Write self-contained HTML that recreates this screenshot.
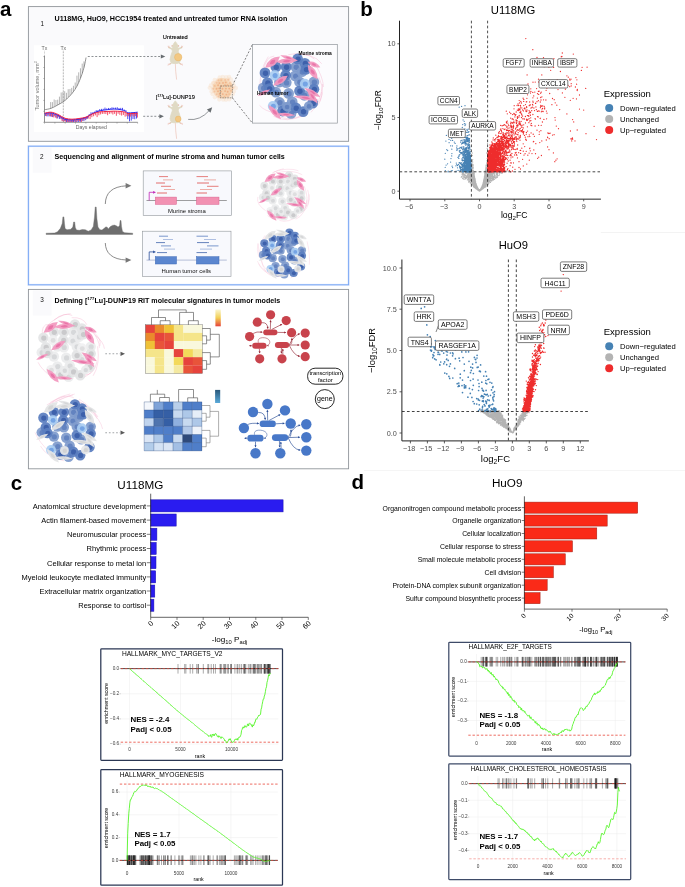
<!DOCTYPE html>
<html lang="en"><head><meta charset="utf-8"><title>Figure</title>
<style>
html,body{margin:0;padding:0;background:#fff}
body{width:685px;height:887px;overflow:hidden}
svg{display:block;font-family:"Liberation Sans",Arial,Helvetica,sans-serif}
</style></head><body>
<svg width="685" height="887" viewBox="0 0 685 887">
<rect width="685" height="887" fill="#fff"/>
<line x1="600.8" y1="232.5" x2="685" y2="232.5" stroke="#f3f3f3" stroke-width="1"/><line x1="364" y1="470.5" x2="685" y2="470.5" stroke="#f5f5f5" stroke-width="1"/><g id="panel-a"><text x="0.1" y="15.6" font-size="20.5" font-weight="bold">a</text><rect x="28.4" y="6.6" width="320.2" height="134.7" fill="#fafafc" stroke="#90959a" stroke-width="0.9"/><text x="40.6" y="25.9" font-size="6.4" fill="#111">1</text><text x="54.5" y="21.4" font-size="7.17" font-weight="bold">U118MG, HuO9, HCC1954 treated and untreated tumor RNA isolation</text><rect x="33.9" y="45.3" width="110" height="86.7" fill="#fff"/><path d="M44.5 55.8V122.3H137.7" stroke="#6e6e6e" stroke-width="0.75" fill="none"/><line x1="43.3" y1="56.6" x2="44.5" y2="56.6" stroke="#6e6e6e" stroke-width="0.5"/><line x1="43.3" y1="67.5" x2="44.5" y2="67.5" stroke="#6e6e6e" stroke-width="0.5"/><line x1="43.3" y1="78.5" x2="44.5" y2="78.5" stroke="#6e6e6e" stroke-width="0.5"/><line x1="43.3" y1="89.4" x2="44.5" y2="89.4" stroke="#6e6e6e" stroke-width="0.5"/><line x1="43.3" y1="100.4" x2="44.5" y2="100.4" stroke="#6e6e6e" stroke-width="0.5"/><line x1="43.3" y1="111.3" x2="44.5" y2="111.3" stroke="#6e6e6e" stroke-width="0.5"/><line x1="43.3" y1="122.3" x2="44.5" y2="122.3" stroke="#6e6e6e" stroke-width="0.5"/><line x1="44.5" y1="122.3" x2="44.5" y2="123.6" stroke="#6e6e6e" stroke-width="0.5"/><line x1="54.9" y1="122.3" x2="54.9" y2="123.6" stroke="#6e6e6e" stroke-width="0.5"/><line x1="65.2" y1="122.3" x2="65.2" y2="123.6" stroke="#6e6e6e" stroke-width="0.5"/><line x1="75.5" y1="122.3" x2="75.5" y2="123.6" stroke="#6e6e6e" stroke-width="0.5"/><line x1="85.9" y1="122.3" x2="85.9" y2="123.6" stroke="#6e6e6e" stroke-width="0.5"/><line x1="96.2" y1="122.3" x2="96.2" y2="123.6" stroke="#6e6e6e" stroke-width="0.5"/><line x1="106.6" y1="122.3" x2="106.6" y2="123.6" stroke="#6e6e6e" stroke-width="0.5"/><line x1="117" y1="122.3" x2="117" y2="123.6" stroke="#6e6e6e" stroke-width="0.5"/><line x1="127.3" y1="122.3" x2="127.3" y2="123.6" stroke="#6e6e6e" stroke-width="0.5"/><line x1="137.6" y1="122.3" x2="137.6" y2="123.6" stroke="#6e6e6e" stroke-width="0.5"/><text x="44.5" y="49.7" font-size="5.2" text-anchor="middle" fill="#666">Tx</text><text x="63.3" y="49.7" font-size="5.2" text-anchor="middle" fill="#666">Tx</text><line x1="44.5" y1="50.8" x2="44.5" y2="55.8" stroke="#777" stroke-width="0.5" stroke-dasharray="0.6 0.8"/><line x1="63.3" y1="50.8" x2="63.3" y2="122.3" stroke="#555" stroke-width="0.6" stroke-dasharray="0.7 0.8"/><text x="91.3" y="128.7" font-size="5.15" text-anchor="middle" fill="#666">Days elapsed</text><text transform="translate(38.6 86) rotate(-90)" font-size="5.5" text-anchor="middle" fill="#777">Tumor volume, mm<tspan font-size="3.4" dy="-1.6">3</tspan></text><path d="M50.67 108.4V102.09M52.42 107.62V102.1M54.18 106.75V99.48M55.93 105.87V100.04M57.68 105V99.69M59.43 103.95V96.65M61.18 102.85V92.48M62.94 101.76V92.08M64.69 100.66V91.2M66.44 99.04V92.81M68.19 97.29V89.19M69.94 95.54V88.98M71.7 93.78V87.85M73.45 91.33V85.79M75.2 88.7V82.52M76.95 86.08V75.65M78.7 82.19V72.34M80.46 77.98V68.27M82.21 73.29V63.61M83.96 67.45V61.39" stroke="#858585" stroke-width="0.6" fill="none"/><path d="M44.54 109.73C45.62 109.49 48.77 109.14 51.02 108.33C53.27 107.51 55.69 106.14 58.03 104.82C60.37 103.51 62.7 102.34 65.04 100.44C67.37 98.54 70 95.92 72.05 93.43C74.09 90.95 75.7 88.62 77.3 85.55C78.91 82.48 80.51 78.25 81.68 75.04C82.85 71.83 83.58 69.2 84.31 66.28C85.04 63.36 85.77 58.98 86.06 57.52" stroke="#666" stroke-width="0.7" fill="none"/><path d="M45.42 113.49V115.89M47.17 113.3V116.37M48.92 113.11V116.4M50.67 112.92V116.47M52.42 113.37V116.97M54.18 113.98V115.92M55.93 114.6V117.62M57.68 115.21V118.37M59.43 116.1V118.92M61.18 117.07V119.19M62.94 118.03V120.78M64.69 118.99V120.93M66.44 119.33V122M68.19 119.5V122M69.94 119.68V122M71.7 119.85V122M73.45 119.75V122M75.2 119.57V122M76.95 119.4V122M78.7 119.22V122M80.46 118.84V121.66M82.21 118.4V121.02M83.96 117.96V120.97M85.71 117.52V120.18M87.46 116.59V118.69M89.22 115.54V114.06M90.97 114.49V112.3M92.72 113.44V112.33M94.47 112.74V111.62M96.22 112.13V110.2M97.97 111.51V110.07M99.73 110.9V109.1M101.48 110.57V108.86M103.23 110.3V108.77M104.98 110.04V107.59M106.73 109.78V108.45M108.49 109.59V107.96M110.24 109.41V108.08M111.99 109.24V107.3M113.74 109.06V107.62M115.49 109.17V107.62M117.25 109.34V107.24M119 109.52V108.02M120.75 109.69V107.86M122.5 110.18V107.86M124.25 110.74V109.54M126.01 111.48V110.34M127.76 112.65V119.13M129.51 112.78V121.33M131.26 112.65V120.63M133.01 112.52V119.04M134.77 112.4V119.28M136.52 112.27V118.56" stroke="#2222ee" stroke-width="0.8" fill="none"/><path d="M46.29 112.95V116.17M48.04 112.66V114.87M49.8 112.38V116.19M51.55 112.35V116.65M53.3 112.92V117.36M55.05 113.49V117.39M56.8 114.06V118.51M58.56 114.75V116.89M60.31 115.71V118.52M62.06 116.67V121.14M63.81 117.64V121.64M65.56 118.38V121.49M67.32 118.6V122M69.07 118.81V122M70.82 119.03V122M72.57 119.13V121.96M74.32 118.96V121.53M76.08 118.78V121.98M77.83 118.61V121.05M79.58 118.38V121.42M81.33 118.03V122M83.08 117.68V120.6M84.84 117.33V119.46M86.59 116.82V119.03M88.34 115.95V118.46M90.09 115.07V119.09M91.84 114.19V117.19M93.59 113.45V116.26M95.35 113.01V115.35M97.1 112.57V117.08M98.85 112.14V115.28M100.6 111.8V114.42M102.35 111.72V113.96M104.11 111.63V113.87M105.86 111.54V114.06M107.61 111.45V115.21M109.36 111.36V113.83M111.11 111.28V113.48M112.87 111.19V114.5M114.62 111.15V113.87M116.37 111.24V115.79M118.12 111.33V113.73M119.87 111.42V114.82M121.63 111.56V115.56M123.38 111.84V114.95M125.13 112.12V116.65M126.88 112.93V116.2M128.63 113.56V116.26M130.39 113.5V116.61M132.14 113.43V115.63M133.89 113.37V116.51M135.64 113.31V116.02M137.39 113.24V117.53" stroke="#f02848" stroke-width="0.8" fill="none"/><path d="M44.54 113.58C45.62 113.46 48.77 112.59 51.02 112.88C53.27 113.17 55.69 114.28 58.03 115.33C60.37 116.38 62.7 118.43 65.04 119.19C67.37 119.95 69.71 119.89 72.05 119.89C74.38 119.89 76.72 119.6 79.05 119.19C81.39 118.78 83.73 118.43 86.06 117.44C88.4 116.44 90.73 114.34 93.07 113.23C95.41 112.12 97.74 111.36 100.08 110.78C102.41 110.19 104.75 110.02 107.08 109.73C109.42 109.43 111.76 109.03 114.09 109.03C116.43 109.03 119.2 109.38 121.1 109.73C123 110.08 124.31 110.6 125.48 111.13C126.65 111.65 126.06 112.7 128.11 112.88C130.15 113.06 136.14 112.3 137.74 112.18" stroke="#2222ee" stroke-width="0.95" fill="none"/><path d="M44.54 113.23C45.62 113.06 48.77 111.98 51.02 112.18C53.27 112.38 55.69 113.43 58.03 114.46C60.37 115.48 62.7 117.52 65.04 118.31C67.37 119.1 69.71 119.16 72.05 119.19C74.38 119.22 76.72 118.84 79.05 118.49C81.39 118.14 83.73 117.9 86.06 117.08C88.4 116.27 90.73 114.46 93.07 113.58C95.41 112.7 97.74 112.18 100.08 111.83C102.41 111.48 104.75 111.6 107.08 111.48C109.42 111.36 111.76 111.13 114.09 111.13C116.43 111.13 119.2 111.3 121.1 111.48C123 111.65 124.31 111.83 125.48 112.18C126.65 112.53 126.06 113.41 128.11 113.58C130.15 113.76 136.14 113.29 137.74 113.23" stroke="#f02040" stroke-width="0.95" fill="none"/><line x1="87.8" y1="56.5" x2="161.5" y2="56.5" stroke="#676c70" stroke-width="0.75" stroke-dasharray="2 1.7"/><path d="M165.3 56.5L160.8 58.6L160.8 54.4Z" fill="#676c70"/><line x1="143.2" y1="116.3" x2="160" y2="116.3" stroke="#676c70" stroke-width="0.75" stroke-dasharray="2 1.7"/><path d="M163.9 116.3L159.4 118.4L159.4 114.2Z" fill="#676c70"/><text x="175.3" y="39.4" font-size="5.7" text-anchor="middle" stroke="#000" stroke-width="0.12">Untreated</text><path d="M175.3 63.1Q175.5 71.6 176.6 79.6" stroke="#e9b3a4" stroke-width="0.55" fill="none"/><path d="M172.7 49.2L169 47.5" stroke="#e0dac4" stroke-width="1.7" fill="none" stroke-linecap="round"/><path d="M169 47.5L167.9 46.2M169 47.5L168.9 46" stroke="#e9b3a4" stroke-width="0.5" fill="none" stroke-linecap="round"/><path d="M172.1 62.2L170.3 63.8" stroke="#e0dac4" stroke-width="1.3" fill="none" stroke-linecap="round"/><path d="M170.7 63.6L168 65.2M169.8 64L168.1 64.2" stroke="#e9b3a4" stroke-width="0.5" fill="none" stroke-linecap="round"/><circle cx="172.3" cy="45.9" r="0.9" fill="#eab8ac"/><path d="M177.9 49.2L181.6 47.5" stroke="#e0dac4" stroke-width="1.7" fill="none" stroke-linecap="round"/><path d="M181.6 47.5L182.7 46.2M181.6 47.5L181.7 46" stroke="#e9b3a4" stroke-width="0.5" fill="none" stroke-linecap="round"/><path d="M178.5 62.2L180.3 63.8" stroke="#e0dac4" stroke-width="1.3" fill="none" stroke-linecap="round"/><path d="M179.9 63.6L182.6 65.2M180.8 64L182.5 64.2" stroke="#e9b3a4" stroke-width="0.5" fill="none" stroke-linecap="round"/><circle cx="178.3" cy="45.9" r="0.9" fill="#eab8ac"/><path d="M175.3 41.6L176.6 43.2L178 45.8L177.8 47.2L178.6 48.4L178.3 51.6L179.7 55.6L180.6 59.6L179.6 62.4L177.6 63.5L173 63.5L171 62.4L170 59.6L170.9 55.6L172.3 51.6L172 48.4L172.8 47.2L172.6 45.8L174 43.2Z" fill="#e0dac4" stroke="#e0dac4" stroke-width="0.8" stroke-linejoin="round"/><circle cx="178.2" cy="57.2" r="3.7" fill="#f3c882" stroke="#e3b060" stroke-width="0.4"/><text x="175.3" y="98.7" font-size="5.6" text-anchor="middle" fill="#000" stroke="#000" stroke-width="0.12">[<tspan font-size="3.4" dy="-1.8">177</tspan><tspan dy="1.8">Lu]-DUNP19</tspan></text><path d="M175.3 122.3Q175.5 130.8 176.6 138.8" stroke="#e9b3a4" stroke-width="0.55" fill="none"/><path d="M172.7 108.4L169 106.7" stroke="#e0dac4" stroke-width="1.7" fill="none" stroke-linecap="round"/><path d="M169 106.7L167.9 105.4M169 106.7L168.9 105.2" stroke="#e9b3a4" stroke-width="0.5" fill="none" stroke-linecap="round"/><path d="M172.1 121.4L170.3 123" stroke="#e0dac4" stroke-width="1.3" fill="none" stroke-linecap="round"/><path d="M170.7 122.8L168 124.4M169.8 123.2L168.1 123.4" stroke="#e9b3a4" stroke-width="0.5" fill="none" stroke-linecap="round"/><circle cx="172.3" cy="105.1" r="0.9" fill="#eab8ac"/><path d="M177.9 108.4L181.6 106.7" stroke="#e0dac4" stroke-width="1.7" fill="none" stroke-linecap="round"/><path d="M181.6 106.7L182.7 105.4M181.6 106.7L181.7 105.2" stroke="#e9b3a4" stroke-width="0.5" fill="none" stroke-linecap="round"/><path d="M178.5 121.4L180.3 123" stroke="#e0dac4" stroke-width="1.3" fill="none" stroke-linecap="round"/><path d="M179.9 122.8L182.6 124.4M180.8 123.2L182.5 123.4" stroke="#e9b3a4" stroke-width="0.5" fill="none" stroke-linecap="round"/><circle cx="178.3" cy="105.1" r="0.9" fill="#eab8ac"/><path d="M175.3 100.8L176.6 102.4L178 105L177.8 106.4L178.6 107.6L178.3 110.8L179.7 114.8L180.6 118.8L179.6 121.6L177.6 122.7L173 122.7L171 121.6L170 118.8L170.9 114.8L172.3 110.8L172 107.6L172.8 106.4L172.6 105L174 102.4Z" fill="#e0dac4" stroke="#e0dac4" stroke-width="0.8" stroke-linejoin="round"/><circle cx="178.2" cy="119" r="2.9" fill="#f3c882" stroke="#e3b060" stroke-width="0.4"/><path d="M188.2 119.4Q200 121 209.5 110.3" stroke="#676c70" stroke-width="0.7" fill="none"/><path d="M212.2 107.2L210.5 112.7L206.9 109.5Z" fill="#676c70"/><g><circle cx="222.8" cy="88.3" r="10.2" fill="#f7d6b6" opacity="0.85"/><circle cx="209.7" cy="87.8" r="2.15" fill="#f8dcc1" opacity="0.4"/><circle cx="235.9" cy="88.1" r="2.15" fill="#f8dcc1" opacity="0.4"/><circle cx="229.1" cy="77" r="2.15" fill="#f8dcc1" opacity="0.4"/><circle cx="229.2" cy="99.4" r="2.15" fill="#f8dcc1" opacity="0.4"/><circle cx="210.8" cy="85.5" r="2.15" fill="#f8dcc1" opacity="0.4"/><circle cx="230.9" cy="97.3" r="2.15" fill="#f8dcc1" opacity="0.4"/><circle cx="214.9" cy="97.3" r="2.15" fill="#f8dcc1" opacity="0.4"/><circle cx="230.9" cy="79.5" r="2.15" fill="#f8dcc1" opacity="0.4"/><circle cx="226" cy="99.8" r="2.15" fill="#f8dcc1" opacity="0.4"/><circle cx="219.3" cy="99.6" r="2.15" fill="#f8dcc1" opacity="0.4"/><circle cx="211.5" cy="91.6" r="2.15" fill="#f8dcc1" opacity="0.4"/><circle cx="212.6" cy="94.2" r="2.15" fill="#f8dcc1" opacity="0.4"/><circle cx="233.1" cy="82.7" r="2.15" fill="#f8dcc1" opacity="0.4"/><circle cx="226.2" cy="77.1" r="2.15" fill="#f8dcc1" opacity="0.4"/><circle cx="214.7" cy="79.9" r="2.15" fill="#f8dcc1" opacity="0.4"/><circle cx="233.9" cy="91.5" r="2.15" fill="#f8dcc1" opacity="0.4"/><circle cx="232.7" cy="94.2" r="2.15" fill="#f8dcc1" opacity="0.4"/><circle cx="234" cy="85.8" r="2.15" fill="#f8dcc1" opacity="0.4"/><circle cx="222.8" cy="76.9" r="2.15" fill="#f8dcc1" opacity="0.4"/><circle cx="223.2" cy="99.7" r="2.15" fill="#f8dcc1" opacity="0.4"/><circle cx="219.7" cy="77.4" r="2.15" fill="#f8dcc1" opacity="0.4"/><circle cx="213.3" cy="83.1" r="2.15" fill="#f8dcc1" opacity="0.7"/><circle cx="228.1" cy="79.7" r="2.15" fill="#f8dcc1" opacity="0.7"/><circle cx="232.5" cy="87.8" r="2.15" fill="#f8dcc1" opacity="0.7"/><circle cx="213.1" cy="88.7" r="2.15" fill="#f8dcc1" opacity="0.7"/><circle cx="227.8" cy="96.5" r="2.15" fill="#f8dcc1" opacity="0.7"/><circle cx="218.2" cy="80.2" r="2.15" fill="#f8dcc1" opacity="0.7"/><circle cx="218.3" cy="96.4" r="2.15" fill="#f8dcc1" opacity="0.7"/><circle cx="214.4" cy="91.4" r="2.15" fill="#f8dcc1" opacity="0.7"/><circle cx="229.7" cy="82.9" r="2.15" fill="#f8dcc1" opacity="0.7"/><circle cx="224.9" cy="79.8" r="2.15" fill="#f8dcc1" opacity="0.7"/><circle cx="216.5" cy="94.2" r="2.15" fill="#f8dcc1" opacity="0.7"/><circle cx="221" cy="96.7" r="2.15" fill="#f8dcc1" opacity="0.7"/><circle cx="216.4" cy="82.6" r="2.15" fill="#f8dcc1" opacity="0.7"/><circle cx="214.7" cy="85.8" r="2.15" fill="#f6d3b0" opacity="0.95"/><circle cx="229" cy="94" r="2.15" fill="#f6d3b0" opacity="0.95"/><circle cx="224.3" cy="96.5" r="2.15" fill="#f6d3b0" opacity="0.95"/><circle cx="230.6" cy="85.4" r="2.15" fill="#f6d3b0" opacity="0.95"/><circle cx="221.1" cy="80.2" r="2.15" fill="#f6d3b0" opacity="0.95"/><circle cx="230.7" cy="90.7" r="2.15" fill="#f6d3b0" opacity="0.95"/><circle cx="226.2" cy="94.5" r="2.15" fill="#f6d3b0" opacity="0.95"/><circle cx="225.6" cy="82.3" r="2.15" fill="#f6d3b0" opacity="0.95"/><circle cx="219.5" cy="93.8" r="2.15" fill="#f6d3b0" opacity="0.95"/><circle cx="229.2" cy="88.5" r="2.15" fill="#f6d3b0" opacity="0.95"/><circle cx="219.3" cy="83" r="2.15" fill="#f6d3b0" opacity="0.95"/><circle cx="216.5" cy="88.6" r="2.15" fill="#f6d3b0" opacity="0.95"/><circle cx="227.6" cy="91.7" r="2.15" fill="#f6d3b0" opacity="0.95"/><circle cx="217.9" cy="85.2" r="2.15" fill="#f6d3b0" opacity="0.95"/><circle cx="217.9" cy="91.2" r="2.15" fill="#f6d3b0" opacity="0.95"/><circle cx="222.7" cy="94" r="2.15" fill="#f6d3b0" opacity="0.95"/><circle cx="227.3" cy="85" r="2.15" fill="#f6d3b0" opacity="0.95"/><circle cx="222.8" cy="82.8" r="2.15" fill="#f6d3b0" opacity="0.95"/><circle cx="224.9" cy="85.1" r="2.15" fill="#f6d3b0" opacity="0.95"/><circle cx="220.7" cy="91.5" r="2.15" fill="#f6d3b0" opacity="0.95"/><circle cx="219" cy="88.3" r="2.15" fill="#f6d3b0" opacity="0.95"/><circle cx="224.9" cy="91" r="2.15" fill="#f6d3b0" opacity="0.95"/><circle cx="225.8" cy="88.5" r="2.15" fill="#f6d3b0" opacity="0.95"/><circle cx="221.1" cy="85.9" r="2.15" fill="#f6d3b0" opacity="0.95"/><circle cx="222.4" cy="88.6" r="2.15" fill="#f6d3b0" opacity="0.95"/><circle cx="218.4" cy="80.3" r="0.95" fill="#f0ac80" opacity="0.5"/><circle cx="221.2" cy="80.3" r="0.95" fill="#f0ac80" opacity="0.5"/><circle cx="225.1" cy="79.9" r="0.95" fill="#f0ac80" opacity="0.5"/><circle cx="228.3" cy="79.8" r="0.95" fill="#f0ac80" opacity="0.5"/><circle cx="216.6" cy="82.7" r="0.95" fill="#f0ac80" opacity="0.5"/><circle cx="219.4" cy="83.1" r="0.95" fill="#f0ac80" opacity="0.85"/><circle cx="223" cy="82.9" r="0.95" fill="#f0ac80" opacity="0.85"/><circle cx="225.8" cy="82.4" r="0.95" fill="#f0ac80" opacity="0.85"/><circle cx="229.9" cy="83" r="0.95" fill="#f0ac80" opacity="0.5"/><circle cx="214.8" cy="85.9" r="0.95" fill="#f0ac80" opacity="0.5"/><circle cx="218.1" cy="85.3" r="0.95" fill="#f0ac80" opacity="0.85"/><circle cx="221.2" cy="86" r="0.95" fill="#f0ac80" opacity="0.85"/><circle cx="225" cy="85.2" r="0.95" fill="#f0ac80" opacity="0.85"/><circle cx="227.5" cy="85.1" r="0.95" fill="#f0ac80" opacity="0.85"/><circle cx="230.7" cy="85.5" r="0.95" fill="#f0ac80" opacity="0.5"/><circle cx="213.3" cy="88.8" r="0.95" fill="#f0ac80" opacity="0.5"/><circle cx="216.6" cy="88.7" r="0.95" fill="#f0ac80" opacity="0.85"/><circle cx="219.2" cy="88.4" r="0.95" fill="#f0ac80" opacity="0.85"/><circle cx="222.5" cy="88.7" r="0.95" fill="#f0ac80" opacity="0.85"/><circle cx="225.9" cy="88.6" r="0.95" fill="#f0ac80" opacity="0.85"/><circle cx="229.3" cy="88.6" r="0.95" fill="#f0ac80" opacity="0.85"/><circle cx="232.7" cy="87.9" r="0.95" fill="#f0ac80" opacity="0.5"/><circle cx="214.5" cy="91.5" r="0.95" fill="#f0ac80" opacity="0.5"/><circle cx="218" cy="91.3" r="0.95" fill="#f0ac80" opacity="0.85"/><circle cx="220.9" cy="91.6" r="0.95" fill="#f0ac80" opacity="0.85"/><circle cx="225.1" cy="91.1" r="0.95" fill="#f0ac80" opacity="0.85"/><circle cx="227.7" cy="91.8" r="0.95" fill="#f0ac80" opacity="0.85"/><circle cx="230.8" cy="90.8" r="0.95" fill="#f0ac80" opacity="0.5"/><circle cx="216.7" cy="94.3" r="0.95" fill="#f0ac80" opacity="0.5"/><circle cx="219.6" cy="93.9" r="0.95" fill="#f0ac80" opacity="0.85"/><circle cx="222.8" cy="94.1" r="0.95" fill="#f0ac80" opacity="0.85"/><circle cx="226.4" cy="94.6" r="0.95" fill="#f0ac80" opacity="0.85"/><circle cx="229.1" cy="94.1" r="0.95" fill="#f0ac80" opacity="0.5"/><circle cx="218.5" cy="96.5" r="0.95" fill="#f0ac80" opacity="0.5"/><circle cx="221.1" cy="96.8" r="0.95" fill="#f0ac80" opacity="0.5"/><circle cx="224.5" cy="96.6" r="0.95" fill="#f0ac80" opacity="0.5"/><circle cx="228" cy="96.6" r="0.95" fill="#f0ac80" opacity="0.5"/></g><rect x="220.3" y="86" width="12.1" height="11.8" fill="none" stroke="#5a5f63" stroke-width="0.6" stroke-dasharray="1.5 1"/><line x1="232.4" y1="85.6" x2="252.4" y2="44.5" stroke="#555" stroke-width="0.75" stroke-dasharray="2 1.6"/><line x1="232.4" y1="97.9" x2="252.4" y2="123.1" stroke="#555" stroke-width="0.75" stroke-dasharray="2 1.6"/><rect x="252.4" y="44.5" width="84.9" height="78.6" fill="#fcfcfe" stroke="#90959a" stroke-width="0.7"/><g><path d="M318.9 77.1Q327.8 96.6 315.2 105.2" stroke="#f3a6c6" stroke-width="0.5" fill="none" opacity="0.7"/><path d="M288.3 54.7Q305.5 51 314.3 59" stroke="#f3a6c6" stroke-width="0.5" fill="none" opacity="0.7"/><path d="M263.9 69.8Q265.6 57.1 274.2 56" stroke="#f3a6c6" stroke-width="0.5" fill="none" opacity="0.7"/><path d="M322.7 84Q320.4 103.1 311 112.3" stroke="#f3a6c6" stroke-width="0.5" fill="none" opacity="0.7"/><path d="M321.5 92Q321.9 102.1 316.5 106.1" stroke="#f3a6c6" stroke-width="0.5" fill="none" opacity="0.7"/><path d="M315.7 65Q322.9 77.3 323.5 86.9" stroke="#f3a6c6" stroke-width="0.5" fill="none" opacity="0.7"/><path d="M276.7 113.1Q264.5 111.4 259.5 105.3" stroke="#f3a6c6" stroke-width="0.5" fill="none" opacity="0.7"/><path d="M304.7 115.1Q285.7 123.7 273.4 116.2" stroke="#f3a6c6" stroke-width="0.5" fill="none" opacity="0.7"/><path d="M293.5 54.5Q313.7 52.7 321.7 63.7" stroke="#f3a6c6" stroke-width="0.5" fill="none" opacity="0.7"/><path d="M308.3 112.7Q292.4 121.4 280.7 117.4" stroke="#f3a6c6" stroke-width="0.5" fill="none" opacity="0.7"/><path d="M259.6 87Q260.4 67.8 268.3 56.6" stroke="#f3a6c6" stroke-width="0.5" fill="none" opacity="0.7"/><circle cx="295.8" cy="66.9" r="5.38" fill="#7f9bcc" opacity="0.93"/><circle cx="296.3" cy="67.2" r="2.69" fill="#5f80be" opacity="0.9"/><circle cx="295.2" cy="75.9" r="5.38" fill="#7f9bcc" opacity="0.93"/><circle cx="295.7" cy="76.2" r="2.69" fill="#5f80be" opacity="0.9"/><circle cx="301.9" cy="71.7" r="5.38" fill="#7f9bcc" opacity="0.93"/><circle cx="302.3" cy="72" r="2.69" fill="#5f80be" opacity="0.9"/><circle cx="279.5" cy="82" r="5.38" fill="#7f9bcc" opacity="0.93"/><circle cx="280" cy="82.3" r="2.69" fill="#5f80be" opacity="0.9"/><circle cx="286.2" cy="82.6" r="5.38" fill="#7f9bcc" opacity="0.93"/><circle cx="286.6" cy="82.9" r="2.69" fill="#5f80be" opacity="0.9"/><circle cx="263.2" cy="88" r="5.38" fill="#7f9bcc" opacity="0.93"/><circle cx="263.7" cy="88.3" r="2.69" fill="#5f80be" opacity="0.9"/><circle cx="275.9" cy="92.2" r="5.38" fill="#7f9bcc" opacity="0.93"/><circle cx="276.3" cy="92.5" r="2.69" fill="#5f80be" opacity="0.9"/><circle cx="288.6" cy="93.5" r="5.38" fill="#7f9bcc" opacity="0.93"/><circle cx="289" cy="93.7" r="2.69" fill="#5f80be" opacity="0.9"/><circle cx="313.9" cy="82" r="5.38" fill="#7f9bcc" opacity="0.93"/><circle cx="314.4" cy="82.3" r="2.69" fill="#5f80be" opacity="0.9"/><circle cx="299.5" cy="82" r="5.38" fill="#7f9bcc" opacity="0.93"/><circle cx="299.9" cy="82.3" r="2.69" fill="#5f80be" opacity="0.9"/><circle cx="304.3" cy="95.3" r="5.38" fill="#7f9bcc" opacity="0.93"/><circle cx="304.7" cy="95.5" r="2.69" fill="#5f80be" opacity="0.9"/><circle cx="279.5" cy="102.5" r="5.38" fill="#7f9bcc" opacity="0.93"/><circle cx="280" cy="102.8" r="2.69" fill="#5f80be" opacity="0.9"/><circle cx="292.2" cy="101.9" r="5.38" fill="#7f9bcc" opacity="0.93"/><circle cx="292.6" cy="102.2" r="2.69" fill="#5f80be" opacity="0.9"/><circle cx="291" cy="113.4" r="5.38" fill="#7f9bcc" opacity="0.93"/><circle cx="291.4" cy="113.6" r="2.69" fill="#5f80be" opacity="0.9"/><circle cx="286.2" cy="107.3" r="5.38" fill="#7f9bcc" opacity="0.93"/><circle cx="286.6" cy="107.6" r="2.69" fill="#5f80be" opacity="0.9"/><circle cx="297.6" cy="59" r="5.38" fill="#5a7ec0" opacity="0.93"/><circle cx="298.1" cy="59.3" r="2.69" fill="#3a5da8" opacity="0.9"/><circle cx="304.9" cy="63.3" r="5.38" fill="#5a7ec0" opacity="0.93"/><circle cx="305.3" cy="63.5" r="2.69" fill="#3a5da8" opacity="0.9"/><circle cx="286.2" cy="66.9" r="5.38" fill="#5a7ec0" opacity="0.93"/><circle cx="286.6" cy="67.2" r="2.69" fill="#3a5da8" opacity="0.9"/><circle cx="275.9" cy="66.9" r="5.38" fill="#5a7ec0" opacity="0.93"/><circle cx="276.3" cy="67.2" r="2.69" fill="#3a5da8" opacity="0.9"/><circle cx="265" cy="72.9" r="5.38" fill="#5a7ec0" opacity="0.93"/><circle cx="265.5" cy="73.2" r="2.69" fill="#3a5da8" opacity="0.9"/><circle cx="285.6" cy="75.3" r="5.38" fill="#5a7ec0" opacity="0.93"/><circle cx="286" cy="75.6" r="2.69" fill="#3a5da8" opacity="0.9"/><circle cx="267.5" cy="82.6" r="5.38" fill="#5a7ec0" opacity="0.93"/><circle cx="267.9" cy="82.9" r="2.69" fill="#3a5da8" opacity="0.9"/><circle cx="269.3" cy="88.6" r="5.38" fill="#5a7ec0" opacity="0.93"/><circle cx="269.7" cy="88.9" r="2.69" fill="#3a5da8" opacity="0.9"/><circle cx="306.1" cy="69.3" r="5.38" fill="#5a7ec0" opacity="0.93"/><circle cx="306.5" cy="69.6" r="2.69" fill="#3a5da8" opacity="0.9"/><circle cx="299.5" cy="91" r="5.38" fill="#5a7ec0" opacity="0.93"/><circle cx="299.9" cy="91.3" r="2.69" fill="#3a5da8" opacity="0.9"/><circle cx="313.9" cy="89.2" r="5.38" fill="#5a7ec0" opacity="0.93"/><circle cx="314.4" cy="89.5" r="2.69" fill="#3a5da8" opacity="0.9"/><circle cx="282.5" cy="111" r="5.38" fill="#5a7ec0" opacity="0.93"/><circle cx="283" cy="111.2" r="2.69" fill="#3a5da8" opacity="0.9"/><circle cx="295.8" cy="107.9" r="5.38" fill="#5a7ec0" opacity="0.93"/><circle cx="296.3" cy="108.2" r="2.69" fill="#3a5da8" opacity="0.9"/><circle cx="303.1" cy="111.6" r="5.38" fill="#5a7ec0" opacity="0.93"/><circle cx="303.5" cy="111.8" r="2.69" fill="#3a5da8" opacity="0.9"/><circle cx="312.7" cy="103.1" r="5.38" fill="#5a7ec0" opacity="0.93"/><circle cx="313.2" cy="103.4" r="2.69" fill="#3a5da8" opacity="0.9"/><circle cx="274.7" cy="75.3" r="5.11" fill="#a9ccf2" opacity="0.93"/><circle cx="275.1" cy="75.6" r="2.56" fill="#6f9ee2" opacity="0.9"/><circle cx="304.9" cy="83.8" r="5.11" fill="#a9ccf2" opacity="0.93"/><circle cx="305.3" cy="84" r="2.56" fill="#6f9ee2" opacity="0.9"/><circle cx="272.9" cy="106.1" r="5.11" fill="#a9ccf2" opacity="0.93"/><circle cx="273.3" cy="106.4" r="2.56" fill="#6f9ee2" opacity="0.9"/><circle cx="286.8" cy="106.7" r="4.57" fill="#7f9bcc" opacity="0.93"/><circle cx="287.1" cy="107" r="2.29" fill="#5f80be" opacity="0.9"/><circle cx="308.5" cy="106.1" r="4.57" fill="#7f9bcc" opacity="0.93"/><circle cx="308.9" cy="106.4" r="2.29" fill="#5f80be" opacity="0.9"/><path d="M265.23 67.66Q276.85 67.66 279.94 56.46Q268.32 56.46 265.23 67.66Z" fill="#f29ac0" opacity="0.95"/><path d="M269.8 64.18Q274.72 64.86 275.38 59.93Q270.45 59.26 269.8 64.18Z" fill="#e5679f" opacity="0.75"/><path d="M275.57 61.81Q287.17 66.24 297.98 60.13Q286.38 55.71 275.57 61.81Z" fill="#f29ac0" opacity="0.95"/><path d="M282.52 61.29Q286.97 63.61 291.02 60.65Q286.58 58.34 282.52 61.29Z" fill="#e5679f" opacity="0.75"/><path d="M280.18 55.29Q287.52 61.31 296.99 60.62Q289.65 54.6 280.18 55.29Z" fill="#f29ac0" opacity="0.95"/><path d="M285.4 56.94Q288.05 59.63 291.77 58.96Q289.12 56.28 285.4 56.94Z" fill="#e5679f" opacity="0.75"/><path d="M307.64 61.67Q312.03 68.76 320.24 67.28Q315.85 60.18 307.64 61.67Z" fill="#f29ac0" opacity="0.95"/><path d="M311.55 63.41Q312.99 66.62 316.33 65.54Q314.89 62.33 311.55 63.41Z" fill="#e5679f" opacity="0.75"/><path d="M307.83 64.67Q307.36 75.6 317.64 79.37Q318.1 68.44 307.83 64.67Z" fill="#f29ac0" opacity="0.95"/><path d="M310.87 69.23Q310.05 73.81 314.59 74.81Q315.42 70.23 310.87 69.23Z" fill="#e5679f" opacity="0.75"/><path d="M273.08 85.68Q283.69 85.66 287.79 75.87Q277.18 75.89 273.08 85.68Z" fill="#f29ac0" opacity="0.95"/><path d="M277.65 82.63Q282.06 83.22 283.22 78.91Q278.81 78.33 277.65 82.63Z" fill="#e5679f" opacity="0.75"/><path d="M257.53 95.7Q265.41 95.7 270.14 89.39Q262.26 89.4 257.53 95.7Z" fill="#f29ac0" opacity="0.95"/><path d="M261.44 93.74Q264.62 94.12 266.22 91.35Q263.05 90.97 261.44 93.74Z" fill="#e5679f" opacity="0.75"/><path d="M304.38 87.99Q310.12 96.63 320.48 97.1Q314.74 88.46 304.38 87.99Z" fill="#f29ac0" opacity="0.95"/><path d="M309.38 90.82Q311.28 94.59 315.49 94.27Q313.59 90.5 309.38 90.82Z" fill="#e5679f" opacity="0.75"/><path d="M293.54 96.23Q305.21 102.05 318.05 99.73Q306.37 93.91 293.54 96.23Z" fill="#f29ac0" opacity="0.95"/><path d="M301.14 97.32Q305.5 100.01 310.44 98.64Q306.08 95.95 301.14 97.32Z" fill="#e5679f" opacity="0.75"/><path d="M307.18 89.47Q308.68 99.29 317.68 103.47Q316.19 93.65 307.18 89.47Z" fill="#f29ac0" opacity="0.95"/><path d="M310.44 93.81Q310.55 97.88 314.42 99.13Q314.31 95.06 310.44 93.81Z" fill="#e5679f" opacity="0.75"/><path d="M268.4 105.16Q270.34 116.09 281 119.17Q279.06 108.24 268.4 105.16Z" fill="#f29ac0" opacity="0.95"/><path d="M272.31 109.51Q272.52 114.13 277.09 114.82Q276.88 110.2 272.31 109.51Z" fill="#e5679f" opacity="0.75"/><path d="M277.07 113.88Q285.9 118.09 295.27 115.28Q286.44 111.07 277.07 113.88Z" fill="#f29ac0" opacity="0.95"/><path d="M282.72 114.32Q286.04 116.34 289.62 114.85Q286.31 112.83 282.72 114.32Z" fill="#e5679f" opacity="0.75"/></g><text x="298.4" y="55.2" font-size="4.85" font-weight="bold">Murine stroma</text><text x="257" y="95.4" font-size="4.83" font-weight="bold">Human tumor</text><rect x="28.4" y="146.2" width="320.2" height="138.6" fill="#fff" stroke="#d3e2fb" stroke-width="1.9"/><rect x="28.4" y="146.2" width="320.2" height="138.6" fill="none" stroke="#78a6f5" stroke-width="0.9"/><rect x="32.7" y="147.5" width="18.8" height="25.2" fill="#fafafc"/><text x="40.1" y="159.1" font-size="6.4" fill="#111">2</text><text x="54.5" y="159.4" font-size="7.12" font-weight="bold">Sequencing and alignment of murine stroma and human tumor cells</text><path d="M46.1 233.2L54.6 233L57.5 231.8L60.4 228.3L62.2 223.5L62.9 216.9L63.9 216.9L64.5 223.5L65.1 228.6L67 229.7L70.7 229.3L72.8 227.1L73.6 222L74.7 222L75.3 227.4L76.5 230L79.4 230.3L82.3 229.5L85.3 229.7L88.2 231.2L91.1 230L93.3 226.4L94.5 216.9L95.2 207L96.2 207L96.9 218.4L98 227.1L99.9 229.7L102 230L104.2 228.3L106 226.8L107.4 227.4L108.3 228.9L110.1 226.8L112.3 225.4L114.5 225.1L116.6 225.9L118.1 227.1L119.6 225.4L120.1 220.5L121 220.5L121.5 226.4L122.5 231.5L124.7 232.7L132.7 233.2L132.7 234.4L46.1 234.4Z" fill="#6e6e6e" stroke="#6e6e6e" stroke-width="0.4" stroke-linejoin="round"/><path d="M105.3 204C105.5 193 112 186.5 126.5 185.8" stroke="#777" stroke-width="0.85" fill="none"/><path d="M131.4 185.7L125.6 188.4L125.6 183Z" fill="#777"/><path d="M105.3 243C105.5 253 112 259.5 126.5 260" stroke="#777" stroke-width="0.85" fill="none"/><path d="M131.4 260.1L125.6 262.8L125.6 257.4Z" fill="#777"/><rect x="143.2" y="170.9" width="88.3" height="44.5" fill="#f8f9fd" stroke="#90959a" stroke-width="0.6"/><line x1="146.5" y1="200.5" x2="226.8" y2="200.5" stroke="#777" stroke-width="0.7"/><rect x="155.3" y="197.1" width="21.2" height="7.3" fill="#f291b2" stroke="#d9638f" stroke-width="0.5"/><rect x="196.4" y="197.1" width="22.6" height="7.3" fill="#f291b2" stroke="#d9638f" stroke-width="0.5"/><path d="M149.2 200.5V192.3H153.6" stroke="#c026b8" stroke-width="0.8" fill="none"/><path d="M156 192.3L153.1 193.7L153.1 190.9Z" fill="#c026b8"/><line x1="159" y1="176.6" x2="168" y2="176.6" stroke="#e0605c" stroke-width="0.8"/><line x1="196.5" y1="176.6" x2="208" y2="176.6" stroke="#e0605c" stroke-width="0.8"/><line x1="163" y1="179.9" x2="173" y2="179.9" stroke="#eb9a92" stroke-width="0.8"/><line x1="204" y1="179.9" x2="216" y2="179.9" stroke="#eb9a92" stroke-width="0.8"/><line x1="156" y1="183" x2="165" y2="183" stroke="#dc4a48" stroke-width="0.8"/><line x1="197" y1="183" x2="209" y2="183" stroke="#dc4a48" stroke-width="0.8"/><line x1="161" y1="186.3" x2="171" y2="186.3" stroke="#e0605c" stroke-width="0.8"/><line x1="207" y1="186.3" x2="218.5" y2="186.3" stroke="#e0605c" stroke-width="0.8"/><line x1="164" y1="189.5" x2="175" y2="189.5" stroke="#eb9a92" stroke-width="0.8"/><line x1="200" y1="189.5" x2="212" y2="189.5" stroke="#eb9a92" stroke-width="0.8"/><line x1="157" y1="193" x2="167" y2="193" stroke="#dc4a48" stroke-width="0.8"/><line x1="196.5" y1="193" x2="207" y2="193" stroke="#dc4a48" stroke-width="0.8"/><text x="186.9" y="213.3" font-size="5.95" text-anchor="middle" fill="#111">Murine stroma</text><rect x="142.5" y="231.2" width="88.5" height="45.2" fill="#f8f9fd" stroke="#90959a" stroke-width="0.6"/><line x1="146.5" y1="260.1" x2="226.8" y2="260.1" stroke="#9aa8c8" stroke-width="0.7"/><rect x="155.3" y="256.7" width="21.2" height="7.3" fill="#5b86cf" stroke="#3d68b5" stroke-width="0.5"/><rect x="196.4" y="256.7" width="22.6" height="7.3" fill="#5b86cf" stroke="#3d68b5" stroke-width="0.5"/><path d="M149.2 260.1V251.9H153.6" stroke="#2a4f9a" stroke-width="0.8" fill="none"/><path d="M156 251.9L153.1 253.3L153.1 250.5Z" fill="#2a4f9a"/><line x1="159" y1="236.2" x2="168" y2="236.2" stroke="#5b7fc0" stroke-width="0.8"/><line x1="196.5" y1="236.2" x2="208" y2="236.2" stroke="#5b7fc0" stroke-width="0.8"/><line x1="163" y1="239.5" x2="173" y2="239.5" stroke="#9ab0da" stroke-width="0.8"/><line x1="204" y1="239.5" x2="216" y2="239.5" stroke="#9ab0da" stroke-width="0.8"/><line x1="156" y1="242.6" x2="165" y2="242.6" stroke="#3d62a8" stroke-width="0.8"/><line x1="197" y1="242.6" x2="209" y2="242.6" stroke="#3d62a8" stroke-width="0.8"/><line x1="161" y1="245.9" x2="171" y2="245.9" stroke="#5b7fc0" stroke-width="0.8"/><line x1="207" y1="245.9" x2="218.5" y2="245.9" stroke="#5b7fc0" stroke-width="0.8"/><line x1="164" y1="249.1" x2="175" y2="249.1" stroke="#9ab0da" stroke-width="0.8"/><line x1="200" y1="249.1" x2="212" y2="249.1" stroke="#9ab0da" stroke-width="0.8"/><line x1="157" y1="252.6" x2="167" y2="252.6" stroke="#3d62a8" stroke-width="0.8"/><line x1="196.5" y1="252.6" x2="207" y2="252.6" stroke="#3d62a8" stroke-width="0.8"/><text x="186.3" y="272.9" font-size="5.95" text-anchor="middle" fill="#111">Human tumor cells</text><g><path d="M285.8 218.1Q273.8 221.1 267.6 215.6" stroke="#f3a6c6" stroke-width="0.4" fill="none" opacity="0.7"/><path d="M307 205.1Q304 211.4 299.9 213.8" stroke="#f3a6c6" stroke-width="0.4" fill="none" opacity="0.7"/><path d="M309.1 194.3Q309.9 205.9 304 211.2" stroke="#f3a6c6" stroke-width="0.4" fill="none" opacity="0.7"/><path d="M298.8 215.5Q288.1 223.3 279.5 220.5" stroke="#f3a6c6" stroke-width="0.4" fill="none" opacity="0.7"/><path d="M272.2 173.1Q278.7 169.3 283.8 168.7" stroke="#f3a6c6" stroke-width="0.4" fill="none" opacity="0.7"/><path d="M307.2 199.6Q305.5 215 295.7 219.2" stroke="#f3a6c6" stroke-width="0.4" fill="none" opacity="0.7"/><path d="M278.8 172.3Q293.2 169.6 302.2 174.7" stroke="#f3a6c6" stroke-width="0.4" fill="none" opacity="0.7"/><path d="M304.3 186.3Q309.5 199 304.8 207.1" stroke="#f3a6c6" stroke-width="0.4" fill="none" opacity="0.7"/><path d="M307.7 189.8Q310.8 200.4 306.1 206.3" stroke="#f3a6c6" stroke-width="0.4" fill="none" opacity="0.7"/><path d="M265.8 210.8Q256.1 204.6 257.8 196.9" stroke="#f3a6c6" stroke-width="0.4" fill="none" opacity="0.7"/><path d="M273.5 172Q288.2 167.1 298.4 170.7" stroke="#f3a6c6" stroke-width="0.4" fill="none" opacity="0.7"/><circle cx="287.6" cy="181.3" r="4.06" fill="#ebeced" opacity="0.93"/><circle cx="288" cy="181.5" r="2.03" fill="#d4d5d7" opacity="0.9"/><circle cx="287.2" cy="188.2" r="4.06" fill="#ebeced" opacity="0.93"/><circle cx="287.5" cy="188.4" r="2.03" fill="#d4d5d7" opacity="0.9"/><circle cx="292.2" cy="185" r="4.06" fill="#ebeced" opacity="0.93"/><circle cx="292.5" cy="185.2" r="2.03" fill="#d4d5d7" opacity="0.9"/><circle cx="275.3" cy="192.7" r="4.06" fill="#ebeced" opacity="0.93"/><circle cx="275.7" cy="192.9" r="2.03" fill="#d4d5d7" opacity="0.9"/><circle cx="280.4" cy="193.2" r="4.06" fill="#ebeced" opacity="0.93"/><circle cx="280.7" cy="193.4" r="2.03" fill="#d4d5d7" opacity="0.9"/><circle cx="263" cy="197.3" r="4.06" fill="#ebeced" opacity="0.93"/><circle cx="263.4" cy="197.5" r="2.03" fill="#d4d5d7" opacity="0.9"/><circle cx="272.6" cy="200.5" r="4.06" fill="#ebeced" opacity="0.93"/><circle cx="272.9" cy="200.7" r="2.03" fill="#d4d5d7" opacity="0.9"/><circle cx="282.2" cy="201.4" r="4.06" fill="#ebeced" opacity="0.93"/><circle cx="282.5" cy="201.6" r="2.03" fill="#d4d5d7" opacity="0.9"/><circle cx="301.3" cy="192.7" r="4.06" fill="#ebeced" opacity="0.93"/><circle cx="301.6" cy="192.9" r="2.03" fill="#d4d5d7" opacity="0.9"/><circle cx="290.4" cy="192.7" r="4.06" fill="#ebeced" opacity="0.93"/><circle cx="290.7" cy="192.9" r="2.03" fill="#d4d5d7" opacity="0.9"/><circle cx="294" cy="202.7" r="4.06" fill="#ebeced" opacity="0.93"/><circle cx="294.3" cy="202.9" r="2.03" fill="#d4d5d7" opacity="0.9"/><circle cx="275.3" cy="208.2" r="4.06" fill="#ebeced" opacity="0.93"/><circle cx="275.7" cy="208.4" r="2.03" fill="#d4d5d7" opacity="0.9"/><circle cx="284.9" cy="207.8" r="4.06" fill="#ebeced" opacity="0.93"/><circle cx="285.2" cy="208" r="2.03" fill="#d4d5d7" opacity="0.9"/><circle cx="284" cy="216.4" r="4.06" fill="#ebeced" opacity="0.93"/><circle cx="284.3" cy="216.6" r="2.03" fill="#d4d5d7" opacity="0.9"/><circle cx="280.4" cy="211.9" r="4.06" fill="#ebeced" opacity="0.93"/><circle cx="280.7" cy="212.1" r="2.03" fill="#d4d5d7" opacity="0.9"/><circle cx="289" cy="175.4" r="4.06" fill="#e3e4e5" opacity="0.93"/><circle cx="289.3" cy="175.6" r="2.03" fill="#c6c7c9" opacity="0.9"/><circle cx="294.5" cy="178.6" r="4.06" fill="#e3e4e5" opacity="0.93"/><circle cx="294.8" cy="178.8" r="2.03" fill="#c6c7c9" opacity="0.9"/><circle cx="280.4" cy="181.3" r="4.06" fill="#e3e4e5" opacity="0.93"/><circle cx="280.7" cy="181.5" r="2.03" fill="#c6c7c9" opacity="0.9"/><circle cx="272.6" cy="181.3" r="4.06" fill="#e3e4e5" opacity="0.93"/><circle cx="272.9" cy="181.5" r="2.03" fill="#c6c7c9" opacity="0.9"/><circle cx="264.4" cy="185.9" r="4.06" fill="#e3e4e5" opacity="0.93"/><circle cx="264.7" cy="186.1" r="2.03" fill="#c6c7c9" opacity="0.9"/><circle cx="279.9" cy="187.7" r="4.06" fill="#e3e4e5" opacity="0.93"/><circle cx="280.2" cy="187.9" r="2.03" fill="#c6c7c9" opacity="0.9"/><circle cx="266.2" cy="193.2" r="4.06" fill="#e3e4e5" opacity="0.93"/><circle cx="266.6" cy="193.4" r="2.03" fill="#c6c7c9" opacity="0.9"/><circle cx="267.6" cy="197.7" r="4.06" fill="#e3e4e5" opacity="0.93"/><circle cx="267.9" cy="197.9" r="2.03" fill="#c6c7c9" opacity="0.9"/><circle cx="295.4" cy="183.2" r="4.06" fill="#e3e4e5" opacity="0.93"/><circle cx="295.7" cy="183.4" r="2.03" fill="#c6c7c9" opacity="0.9"/><circle cx="290.4" cy="199.6" r="4.06" fill="#e3e4e5" opacity="0.93"/><circle cx="290.7" cy="199.8" r="2.03" fill="#c6c7c9" opacity="0.9"/><circle cx="301.3" cy="198.2" r="4.06" fill="#e3e4e5" opacity="0.93"/><circle cx="301.6" cy="198.4" r="2.03" fill="#c6c7c9" opacity="0.9"/><circle cx="277.6" cy="214.6" r="4.06" fill="#e3e4e5" opacity="0.93"/><circle cx="277.9" cy="214.8" r="2.03" fill="#c6c7c9" opacity="0.9"/><circle cx="287.6" cy="212.3" r="4.06" fill="#e3e4e5" opacity="0.93"/><circle cx="288" cy="212.5" r="2.03" fill="#c6c7c9" opacity="0.9"/><circle cx="293.1" cy="215" r="4.06" fill="#e3e4e5" opacity="0.93"/><circle cx="293.4" cy="215.2" r="2.03" fill="#c6c7c9" opacity="0.9"/><circle cx="300.4" cy="208.7" r="4.06" fill="#e3e4e5" opacity="0.93"/><circle cx="300.7" cy="208.9" r="2.03" fill="#c6c7c9" opacity="0.9"/><circle cx="271.7" cy="187.7" r="3.86" fill="#f0f0f1" opacity="0.93"/><circle cx="272" cy="187.9" r="1.93" fill="#dbdcdd" opacity="0.9"/><circle cx="294.5" cy="194.1" r="3.86" fill="#f0f0f1" opacity="0.93"/><circle cx="294.8" cy="194.3" r="1.93" fill="#dbdcdd" opacity="0.9"/><circle cx="270.3" cy="210.9" r="3.86" fill="#f0f0f1" opacity="0.93"/><circle cx="270.6" cy="211.1" r="1.93" fill="#dbdcdd" opacity="0.9"/><circle cx="280.8" cy="211.4" r="3.45" fill="#ebeced" opacity="0.93"/><circle cx="281.1" cy="211.6" r="1.73" fill="#d4d5d7" opacity="0.9"/><circle cx="297.2" cy="210.9" r="3.45" fill="#ebeced" opacity="0.93"/><circle cx="297.5" cy="211.1" r="1.73" fill="#d4d5d7" opacity="0.9"/><path d="M264.56 181.92Q273.33 181.92 275.65 173.46Q266.89 173.46 264.56 181.92Z" fill="#f29ac0" opacity="0.95"/><path d="M268 179.29Q271.72 179.8 272.21 176.09Q268.5 175.58 268 179.29Z" fill="#e5679f" opacity="0.75"/><path d="M272.36 177.5Q281.11 180.84 289.27 176.23Q280.51 172.89 272.36 177.5Z" fill="#f29ac0" opacity="0.95"/><path d="M277.6 177.11Q280.96 178.86 284.02 176.63Q280.66 174.88 277.6 177.11Z" fill="#e5679f" opacity="0.75"/><path d="M275.84 172.58Q281.38 177.12 288.52 176.6Q282.98 172.06 275.84 172.58Z" fill="#f29ac0" opacity="0.95"/><path d="M279.77 173.83Q281.78 175.86 284.58 175.35Q282.58 173.32 279.77 173.83Z" fill="#e5679f" opacity="0.75"/><path d="M296.56 177.4Q299.87 182.75 306.07 181.62Q302.75 176.27 296.56 177.4Z" fill="#f29ac0" opacity="0.95"/><path d="M299.51 178.71Q300.59 181.13 303.12 180.31Q302.03 177.89 299.51 178.71Z" fill="#e5679f" opacity="0.75"/><path d="M296.7 179.66Q296.35 187.91 304.1 190.75Q304.45 182.5 296.7 179.66Z" fill="#f29ac0" opacity="0.95"/><path d="M299 183.1Q298.37 186.56 301.8 187.31Q302.43 183.85 299 183.1Z" fill="#e5679f" opacity="0.75"/><path d="M270.48 195.51Q278.48 195.5 281.58 188.11Q273.57 188.13 270.48 195.51Z" fill="#f29ac0" opacity="0.95"/><path d="M273.92 193.21Q277.26 193.65 278.13 190.41Q274.8 189.97 273.92 193.21Z" fill="#e5679f" opacity="0.75"/><path d="M258.74 203.07Q264.69 203.07 268.26 198.32Q262.31 198.32 258.74 203.07Z" fill="#f29ac0" opacity="0.95"/><path d="M261.7 201.6Q264.09 201.88 265.3 199.79Q262.91 199.51 261.7 201.6Z" fill="#e5679f" opacity="0.75"/><path d="M294.1 197.26Q298.43 203.78 306.25 204.13Q301.92 197.61 294.1 197.26Z" fill="#f29ac0" opacity="0.95"/><path d="M297.87 199.39Q299.3 202.24 302.48 202Q301.04 199.15 297.87 199.39Z" fill="#e5679f" opacity="0.75"/><path d="M285.91 203.47Q294.72 207.86 304.41 206.12Q295.6 201.73 285.91 203.47Z" fill="#f29ac0" opacity="0.95"/><path d="M291.65 204.29Q294.94 206.33 298.67 205.3Q295.38 203.26 291.65 204.29Z" fill="#e5679f" opacity="0.75"/><path d="M296.21 198.37Q297.34 205.78 304.14 208.94Q303.01 201.53 296.21 198.37Z" fill="#f29ac0" opacity="0.95"/><path d="M298.67 201.65Q298.76 204.72 301.68 205.66Q301.59 202.59 298.67 201.65Z" fill="#e5679f" opacity="0.75"/><path d="M266.94 210.22Q268.41 218.46 276.46 220.78Q274.99 212.54 266.94 210.22Z" fill="#f29ac0" opacity="0.95"/><path d="M269.9 213.5Q270.05 216.98 273.5 217.5Q273.35 214.02 269.9 213.5Z" fill="#e5679f" opacity="0.75"/><path d="M273.49 216.79Q280.15 219.97 287.23 217.85Q280.56 214.67 273.49 216.79Z" fill="#f29ac0" opacity="0.95"/><path d="M277.75 217.12Q280.25 218.65 282.96 217.52Q280.46 216 277.75 217.12Z" fill="#e5679f" opacity="0.75"/></g><g><path d="M286.4 276.2Q278.9 277.4 274.3 275" stroke="#f3b3cd" stroke-width="0.4" fill="none" opacity="0.7"/><path d="M263.6 267.3Q258.1 253.8 258.3 243.5" stroke="#f3b3cd" stroke-width="0.4" fill="none" opacity="0.7"/><path d="M262.2 247.4Q262.6 238 268 234.6" stroke="#f3b3cd" stroke-width="0.4" fill="none" opacity="0.7"/><path d="M307.1 241.4Q310.3 254.9 309.3 264.7" stroke="#f3b3cd" stroke-width="0.4" fill="none" opacity="0.7"/><path d="M275.1 276Q261.8 272.2 258.5 263.5" stroke="#f3b3cd" stroke-width="0.4" fill="none" opacity="0.7"/><path d="M305.6 265.5Q298 274.7 290.6 278.1" stroke="#f3b3cd" stroke-width="0.4" fill="none" opacity="0.7"/><path d="M258.7 256.9Q256.5 248.9 257.8 243.4" stroke="#f3b3cd" stroke-width="0.4" fill="none" opacity="0.7"/><path d="M276.7 275.8Q261.3 271.4 257.4 261.1" stroke="#f3b3cd" stroke-width="0.4" fill="none" opacity="0.7"/><path d="M259.8 251.3Q261.1 241.1 265 235.3" stroke="#f3b3cd" stroke-width="0.4" fill="none" opacity="0.7"/><path d="M276.8 273.5Q262.3 270.6 261.6 260.3" stroke="#f3b3cd" stroke-width="0.4" fill="none" opacity="0.7"/><path d="M279.7 276.2Q266.2 277.1 263.8 267.7" stroke="#f3b3cd" stroke-width="0.4" fill="none" opacity="0.7"/><circle cx="288" cy="238.7" r="4.12" fill="#7f9bcc" opacity="0.93"/><circle cx="288.3" cy="238.9" r="2.06" fill="#5f80be" opacity="0.9"/><circle cx="287.5" cy="245.7" r="4.12" fill="#7f9bcc" opacity="0.93"/><circle cx="287.9" cy="245.9" r="2.06" fill="#5f80be" opacity="0.9"/><circle cx="292.6" cy="242.4" r="4.12" fill="#7f9bcc" opacity="0.93"/><circle cx="293" cy="242.6" r="2.06" fill="#5f80be" opacity="0.9"/><circle cx="275.5" cy="250.3" r="4.12" fill="#7f9bcc" opacity="0.93"/><circle cx="275.8" cy="250.5" r="2.06" fill="#5f80be" opacity="0.9"/><circle cx="280.6" cy="250.7" r="4.12" fill="#7f9bcc" opacity="0.93"/><circle cx="280.9" cy="251" r="2.06" fill="#5f80be" opacity="0.9"/><circle cx="263" cy="254.9" r="4.12" fill="#7f9bcc" opacity="0.93"/><circle cx="263.3" cy="255.1" r="2.06" fill="#5f80be" opacity="0.9"/><circle cx="272.7" cy="258.2" r="4.12" fill="#7f9bcc" opacity="0.93"/><circle cx="273.1" cy="258.4" r="2.06" fill="#5f80be" opacity="0.9"/><circle cx="282.4" cy="259.1" r="4.12" fill="#7f9bcc" opacity="0.93"/><circle cx="282.8" cy="259.3" r="2.06" fill="#5f80be" opacity="0.9"/><circle cx="301.9" cy="250.3" r="4.12" fill="#7f9bcc" opacity="0.93"/><circle cx="302.2" cy="250.5" r="2.06" fill="#5f80be" opacity="0.9"/><circle cx="290.8" cy="250.3" r="4.12" fill="#7f9bcc" opacity="0.93"/><circle cx="291.1" cy="250.5" r="2.06" fill="#5f80be" opacity="0.9"/><circle cx="294.5" cy="260.5" r="4.12" fill="#7f9bcc" opacity="0.93"/><circle cx="294.8" cy="260.7" r="2.06" fill="#5f80be" opacity="0.9"/><circle cx="275.5" cy="266" r="4.12" fill="#7f9bcc" opacity="0.93"/><circle cx="275.8" cy="266.2" r="2.06" fill="#5f80be" opacity="0.9"/><circle cx="285.2" cy="265.6" r="4.12" fill="#7f9bcc" opacity="0.93"/><circle cx="285.6" cy="265.8" r="2.06" fill="#5f80be" opacity="0.9"/><circle cx="284.3" cy="274.4" r="4.12" fill="#7f9bcc" opacity="0.93"/><circle cx="284.6" cy="274.6" r="2.06" fill="#5f80be" opacity="0.9"/><circle cx="280.6" cy="269.7" r="4.12" fill="#7f9bcc" opacity="0.93"/><circle cx="280.9" cy="269.9" r="2.06" fill="#5f80be" opacity="0.9"/><circle cx="289.4" cy="232.7" r="4.12" fill="#5a7ec0" opacity="0.93"/><circle cx="289.7" cy="232.9" r="2.06" fill="#3a5da8" opacity="0.9"/><circle cx="294.9" cy="235.9" r="4.12" fill="#5a7ec0" opacity="0.93"/><circle cx="295.3" cy="236.1" r="2.06" fill="#3a5da8" opacity="0.9"/><circle cx="280.6" cy="238.7" r="4.12" fill="#5a7ec0" opacity="0.93"/><circle cx="280.9" cy="238.9" r="2.06" fill="#3a5da8" opacity="0.9"/><circle cx="272.7" cy="238.7" r="4.12" fill="#5a7ec0" opacity="0.93"/><circle cx="273.1" cy="238.9" r="2.06" fill="#3a5da8" opacity="0.9"/><circle cx="264.4" cy="243.3" r="4.12" fill="#5a7ec0" opacity="0.93"/><circle cx="264.7" cy="243.5" r="2.06" fill="#3a5da8" opacity="0.9"/><circle cx="280.1" cy="245.2" r="4.12" fill="#5a7ec0" opacity="0.93"/><circle cx="280.5" cy="245.4" r="2.06" fill="#3a5da8" opacity="0.9"/><circle cx="266.2" cy="250.7" r="4.12" fill="#5a7ec0" opacity="0.93"/><circle cx="266.6" cy="251" r="2.06" fill="#3a5da8" opacity="0.9"/><circle cx="267.6" cy="255.4" r="4.12" fill="#5a7ec0" opacity="0.93"/><circle cx="268" cy="255.6" r="2.06" fill="#3a5da8" opacity="0.9"/><circle cx="295.9" cy="240.6" r="4.12" fill="#5a7ec0" opacity="0.93"/><circle cx="296.2" cy="240.8" r="2.06" fill="#3a5da8" opacity="0.9"/><circle cx="290.8" cy="257.2" r="4.12" fill="#5a7ec0" opacity="0.93"/><circle cx="291.1" cy="257.4" r="2.06" fill="#3a5da8" opacity="0.9"/><circle cx="301.9" cy="255.8" r="4.12" fill="#5a7ec0" opacity="0.93"/><circle cx="302.2" cy="256" r="2.06" fill="#3a5da8" opacity="0.9"/><circle cx="277.8" cy="272.5" r="4.12" fill="#5a7ec0" opacity="0.93"/><circle cx="278.1" cy="272.7" r="2.06" fill="#3a5da8" opacity="0.9"/><circle cx="288" cy="270.2" r="4.12" fill="#5a7ec0" opacity="0.93"/><circle cx="288.3" cy="270.4" r="2.06" fill="#3a5da8" opacity="0.9"/><circle cx="293.6" cy="273" r="4.12" fill="#5a7ec0" opacity="0.93"/><circle cx="293.9" cy="273.2" r="2.06" fill="#3a5da8" opacity="0.9"/><circle cx="301" cy="266.5" r="4.12" fill="#5a7ec0" opacity="0.93"/><circle cx="301.3" cy="266.7" r="2.06" fill="#3a5da8" opacity="0.9"/><circle cx="271.8" cy="245.2" r="3.92" fill="#a9ccf2" opacity="0.93"/><circle cx="272.1" cy="245.4" r="1.96" fill="#6f9ee2" opacity="0.9"/><circle cx="294.9" cy="251.7" r="3.92" fill="#a9ccf2" opacity="0.93"/><circle cx="295.3" cy="251.9" r="1.96" fill="#6f9ee2" opacity="0.9"/><circle cx="270.4" cy="268.8" r="3.92" fill="#a9ccf2" opacity="0.93"/><circle cx="270.7" cy="269" r="1.96" fill="#6f9ee2" opacity="0.9"/><circle cx="281.1" cy="269.3" r="3.51" fill="#e6e7e8" opacity="0.93"/><circle cx="281.3" cy="269.4" r="1.75" fill="#cfd0d2" opacity="0.9"/><circle cx="297.7" cy="268.8" r="3.51" fill="#e6e7e8" opacity="0.93"/><circle cx="298" cy="269" r="1.75" fill="#cfd0d2" opacity="0.9"/><path d="M264.54 239.3Q273.45 239.3 275.82 230.71Q266.91 230.71 264.54 239.3Z" fill="#e4e5e6" opacity="0.95"/><path d="M268.04 236.64Q271.82 237.16 272.32 233.38Q268.54 232.86 268.04 236.64Z" fill="#cfd0d2" opacity="0.75"/><path d="M272.47 234.82Q281.36 238.21 289.65 233.53Q280.76 230.14 272.47 234.82Z" fill="#e4e5e6" opacity="0.95"/><path d="M277.8 234.42Q281.21 236.19 284.32 233.93Q280.91 232.15 277.8 234.42Z" fill="#cfd0d2" opacity="0.75"/><path d="M276 229.82Q281.63 234.43 288.89 233.9Q283.26 229.29 276 229.82Z" fill="#e4e5e6" opacity="0.95"/><path d="M280 231.09Q282.04 233.15 284.89 232.63Q282.86 230.57 280 231.09Z" fill="#cfd0d2" opacity="0.75"/><path d="M297.06 234.71Q300.43 240.15 306.73 239.01Q303.35 233.57 297.06 234.71Z" fill="#e4e5e6" opacity="0.95"/><path d="M300.06 236.04Q301.16 238.5 303.73 237.67Q302.62 235.21 300.06 236.04Z" fill="#cfd0d2" opacity="0.75"/><path d="M297.21 237.01Q296.85 245.39 304.73 248.29Q305.09 239.9 297.21 237.01Z" fill="#e4e5e6" opacity="0.95"/><path d="M299.54 240.51Q298.91 244.02 302.39 244.79Q303.03 241.27 299.54 240.51Z" fill="#cfd0d2" opacity="0.75"/><path d="M270.56 253.12Q278.69 253.1 281.84 245.6Q273.7 245.62 270.56 253.12Z" fill="#e4e5e6" opacity="0.95"/><path d="M274.06 250.79Q277.45 251.23 278.34 247.93Q274.95 247.49 274.06 250.79Z" fill="#cfd0d2" opacity="0.75"/><path d="M258.63 260.8Q264.67 260.8 268.3 255.97Q262.26 255.97 258.63 260.8Z" fill="#e4e5e6" opacity="0.95"/><path d="M261.63 259.3Q264.07 259.59 265.3 257.47Q262.86 257.18 261.63 259.3Z" fill="#cfd0d2" opacity="0.75"/><path d="M294.56 254.9Q298.96 261.52 306.91 261.88Q302.51 255.25 294.56 254.9Z" fill="#e4e5e6" opacity="0.95"/><path d="M298.39 257.06Q299.85 259.95 303.08 259.71Q301.62 256.82 298.39 257.06Z" fill="#cfd0d2" opacity="0.75"/><path d="M286.24 261.21Q295.2 265.67 305.04 263.9Q296.09 259.44 286.24 261.21Z" fill="#e4e5e6" opacity="0.95"/><path d="M292.08 262.04Q295.42 264.11 299.21 263.06Q295.87 260.99 292.08 262.04Z" fill="#cfd0d2" opacity="0.75"/><path d="M296.71 256.03Q297.86 263.56 304.76 266.77Q303.62 259.24 296.71 256.03Z" fill="#e4e5e6" opacity="0.95"/><path d="M299.21 259.36Q299.3 262.48 302.26 263.43Q302.18 260.32 299.21 259.36Z" fill="#cfd0d2" opacity="0.75"/><path d="M266.97 268.06Q268.46 276.44 276.63 278.8Q275.14 270.42 266.97 268.06Z" fill="#e4e5e6" opacity="0.95"/><path d="M269.97 271.4Q270.13 274.94 273.63 275.47Q273.47 271.93 269.97 271.4Z" fill="#cfd0d2" opacity="0.75"/><path d="M273.61 274.75Q280.39 277.98 287.58 275.82Q280.8 272.59 273.61 274.75Z" fill="#e4e5e6" opacity="0.95"/><path d="M277.95 275.08Q280.49 276.63 283.24 275.49Q280.7 273.94 277.95 275.08Z" fill="#cfd0d2" opacity="0.75"/></g><rect x="28.4" y="289.4" width="320.2" height="179.4" fill="#fff" stroke="#90959a" stroke-width="0.9"/><rect x="32.7" y="290.5" width="18.8" height="25" fill="#fafafc"/><text x="40.3" y="301.9" font-size="6.4" fill="#111">3</text><text x="54.5" y="302.6" font-size="7.12" font-weight="bold">Defining [<tspan font-size="4.3" dy="-2.4">177</tspan><tspan dy="2.4">Lu]-DUNP19 RIT molecular signatures in tumor models</tspan></text><g><path d="M45.6 327.2Q58.2 314.3 70.6 313.7" stroke="#f3a6c6" stroke-width="0.5" fill="none" opacity="0.7"/><path d="M95.2 335.3Q103.7 342 104.4 348.7" stroke="#f3a6c6" stroke-width="0.5" fill="none" opacity="0.7"/><path d="M93.1 331.9Q102 338.6 99.8 346" stroke="#f3a6c6" stroke-width="0.5" fill="none" opacity="0.7"/><path d="M42.7 336.6Q40.5 324 49.3 324.3" stroke="#f3a6c6" stroke-width="0.5" fill="none" opacity="0.7"/><path d="M71.7 317.7Q83.1 316.9 86.8 324.7" stroke="#f3a6c6" stroke-width="0.5" fill="none" opacity="0.7"/><path d="M91.2 372.6Q84.4 378.4 78.4 379.1" stroke="#f3a6c6" stroke-width="0.5" fill="none" opacity="0.7"/><path d="M97.6 346.3Q100.3 364.7 93.1 375.8" stroke="#f3a6c6" stroke-width="0.5" fill="none" opacity="0.7"/><path d="M54.1 320.1Q64.1 311.6 72.2 315.4" stroke="#f3a6c6" stroke-width="0.5" fill="none" opacity="0.7"/><path d="M91.8 331.1Q99.6 339.9 99.4 347.8" stroke="#f3a6c6" stroke-width="0.5" fill="none" opacity="0.7"/><path d="M96.9 361.8Q94.3 374.9 84 375.1" stroke="#f3a6c6" stroke-width="0.5" fill="none" opacity="0.7"/><path d="M51.7 376.8Q41.6 369.8 38.1 362.3" stroke="#f3a6c6" stroke-width="0.5" fill="none" opacity="0.7"/><circle cx="73.2" cy="332" r="5.2" fill="#ebeced" opacity="0.93"/><circle cx="73.6" cy="332.3" r="2.6" fill="#d4d5d7" opacity="0.9"/><circle cx="72.6" cy="340.8" r="5.2" fill="#ebeced" opacity="0.93"/><circle cx="73" cy="341" r="2.6" fill="#d4d5d7" opacity="0.9"/><circle cx="79" cy="336.7" r="5.2" fill="#ebeced" opacity="0.93"/><circle cx="79.4" cy="336.9" r="2.6" fill="#d4d5d7" opacity="0.9"/><circle cx="57.4" cy="346.6" r="5.2" fill="#ebeced" opacity="0.93"/><circle cx="57.8" cy="346.8" r="2.6" fill="#d4d5d7" opacity="0.9"/><circle cx="63.8" cy="347.2" r="5.2" fill="#ebeced" opacity="0.93"/><circle cx="64.2" cy="347.4" r="2.6" fill="#d4d5d7" opacity="0.9"/><circle cx="41.7" cy="352.4" r="5.2" fill="#ebeced" opacity="0.93"/><circle cx="42.1" cy="352.7" r="2.6" fill="#d4d5d7" opacity="0.9"/><circle cx="53.9" cy="356.5" r="5.2" fill="#ebeced" opacity="0.93"/><circle cx="54.3" cy="356.8" r="2.6" fill="#d4d5d7" opacity="0.9"/><circle cx="66.2" cy="357.7" r="5.2" fill="#ebeced" opacity="0.93"/><circle cx="66.6" cy="357.9" r="2.6" fill="#d4d5d7" opacity="0.9"/><circle cx="90.7" cy="346.6" r="5.2" fill="#ebeced" opacity="0.93"/><circle cx="91.1" cy="346.8" r="2.6" fill="#d4d5d7" opacity="0.9"/><circle cx="76.7" cy="346.6" r="5.2" fill="#ebeced" opacity="0.93"/><circle cx="77.1" cy="346.8" r="2.6" fill="#d4d5d7" opacity="0.9"/><circle cx="81.3" cy="359.4" r="5.2" fill="#ebeced" opacity="0.93"/><circle cx="81.7" cy="359.7" r="2.6" fill="#d4d5d7" opacity="0.9"/><circle cx="57.4" cy="366.4" r="5.2" fill="#ebeced" opacity="0.93"/><circle cx="57.8" cy="366.7" r="2.6" fill="#d4d5d7" opacity="0.9"/><circle cx="69.7" cy="365.8" r="5.2" fill="#ebeced" opacity="0.93"/><circle cx="70.1" cy="366.1" r="2.6" fill="#d4d5d7" opacity="0.9"/><circle cx="68.5" cy="376.9" r="5.2" fill="#ebeced" opacity="0.93"/><circle cx="68.9" cy="377.2" r="2.6" fill="#d4d5d7" opacity="0.9"/><circle cx="63.8" cy="371.1" r="5.2" fill="#ebeced" opacity="0.93"/><circle cx="64.2" cy="371.3" r="2.6" fill="#d4d5d7" opacity="0.9"/><circle cx="74.9" cy="324.4" r="5.2" fill="#e3e4e5" opacity="0.93"/><circle cx="75.3" cy="324.7" r="2.6" fill="#c6c7c9" opacity="0.9"/><circle cx="81.9" cy="328.5" r="5.2" fill="#e3e4e5" opacity="0.93"/><circle cx="82.3" cy="328.8" r="2.6" fill="#c6c7c9" opacity="0.9"/><circle cx="63.8" cy="332" r="5.2" fill="#e3e4e5" opacity="0.93"/><circle cx="64.2" cy="332.3" r="2.6" fill="#c6c7c9" opacity="0.9"/><circle cx="53.9" cy="332" r="5.2" fill="#e3e4e5" opacity="0.93"/><circle cx="54.3" cy="332.3" r="2.6" fill="#c6c7c9" opacity="0.9"/><circle cx="43.4" cy="337.8" r="5.2" fill="#e3e4e5" opacity="0.93"/><circle cx="43.8" cy="338.1" r="2.6" fill="#c6c7c9" opacity="0.9"/><circle cx="63.2" cy="340.2" r="5.2" fill="#e3e4e5" opacity="0.93"/><circle cx="63.7" cy="340.4" r="2.6" fill="#c6c7c9" opacity="0.9"/><circle cx="45.8" cy="347.2" r="5.2" fill="#e3e4e5" opacity="0.93"/><circle cx="46.2" cy="347.4" r="2.6" fill="#c6c7c9" opacity="0.9"/><circle cx="47.5" cy="353" r="5.2" fill="#e3e4e5" opacity="0.93"/><circle cx="47.9" cy="353.3" r="2.6" fill="#c6c7c9" opacity="0.9"/><circle cx="83.1" cy="334.3" r="5.2" fill="#e3e4e5" opacity="0.93"/><circle cx="83.5" cy="334.6" r="2.6" fill="#c6c7c9" opacity="0.9"/><circle cx="76.7" cy="355.3" r="5.2" fill="#e3e4e5" opacity="0.93"/><circle cx="77.1" cy="355.6" r="2.6" fill="#c6c7c9" opacity="0.9"/><circle cx="90.7" cy="353.6" r="5.2" fill="#e3e4e5" opacity="0.93"/><circle cx="91.1" cy="353.8" r="2.6" fill="#c6c7c9" opacity="0.9"/><circle cx="60.3" cy="374.6" r="5.2" fill="#e3e4e5" opacity="0.93"/><circle cx="60.7" cy="374.8" r="2.6" fill="#c6c7c9" opacity="0.9"/><circle cx="73.2" cy="371.7" r="5.2" fill="#e3e4e5" opacity="0.93"/><circle cx="73.6" cy="371.9" r="2.6" fill="#c6c7c9" opacity="0.9"/><circle cx="80.2" cy="375.2" r="5.2" fill="#e3e4e5" opacity="0.93"/><circle cx="80.6" cy="375.4" r="2.6" fill="#c6c7c9" opacity="0.9"/><circle cx="89.5" cy="367" r="5.2" fill="#e3e4e5" opacity="0.93"/><circle cx="89.9" cy="367.3" r="2.6" fill="#c6c7c9" opacity="0.9"/><circle cx="52.8" cy="340.2" r="4.94" fill="#f0f0f1" opacity="0.93"/><circle cx="53.1" cy="340.4" r="2.47" fill="#dbdcdd" opacity="0.9"/><circle cx="81.9" cy="348.3" r="4.94" fill="#f0f0f1" opacity="0.93"/><circle cx="82.3" cy="348.6" r="2.47" fill="#dbdcdd" opacity="0.9"/><circle cx="51" cy="369.9" r="4.94" fill="#f0f0f1" opacity="0.93"/><circle cx="51.4" cy="370.2" r="2.47" fill="#dbdcdd" opacity="0.9"/><circle cx="64.4" cy="370.5" r="4.42" fill="#ebeced" opacity="0.93"/><circle cx="64.8" cy="370.7" r="2.21" fill="#d4d5d7" opacity="0.9"/><circle cx="85.4" cy="369.9" r="4.42" fill="#ebeced" opacity="0.93"/><circle cx="85.8" cy="370.1" r="2.21" fill="#d4d5d7" opacity="0.9"/><path d="M43.6 332.75Q54.83 332.75 57.81 321.92Q46.58 321.92 43.6 332.75Z" fill="#f29ac0" opacity="0.95"/><path d="M48.01 329.39Q52.77 330.04 53.4 325.28Q48.65 324.63 48.01 329.39Z" fill="#e5679f" opacity="0.75"/><path d="M53.59 327.1Q64.8 331.37 75.24 325.47Q64.04 321.19 53.59 327.1Z" fill="#f29ac0" opacity="0.95"/><path d="M60.31 326.59Q64.61 328.83 68.52 325.98Q64.23 323.74 60.31 326.59Z" fill="#e5679f" opacity="0.75"/><path d="M58.05 320.8Q65.14 326.61 74.29 325.94Q67.19 320.12 58.05 320.8Z" fill="#f29ac0" opacity="0.95"/><path d="M63.09 322.39Q65.65 324.99 69.25 324.34Q66.68 321.75 63.09 322.39Z" fill="#e5679f" opacity="0.75"/><path d="M84.58 326.96Q88.82 333.81 96.76 332.37Q92.51 325.52 84.58 326.96Z" fill="#f29ac0" opacity="0.95"/><path d="M88.36 328.64Q89.75 331.74 92.98 330.69Q91.59 327.59 88.36 328.64Z" fill="#e5679f" opacity="0.75"/><path d="M84.76 329.85Q84.31 340.42 94.24 344.06Q94.69 333.5 84.76 329.85Z" fill="#f29ac0" opacity="0.95"/><path d="M87.7 334.26Q86.91 338.69 91.3 339.65Q92.09 335.23 87.7 334.26Z" fill="#e5679f" opacity="0.75"/><path d="M51.19 350.15Q61.44 350.13 65.4 340.68Q55.15 340.7 51.19 350.15Z" fill="#f29ac0" opacity="0.95"/><path d="M55.6 347.21Q59.86 347.78 60.99 343.62Q56.72 343.06 55.6 347.21Z" fill="#e5679f" opacity="0.75"/><path d="M36.16 359.84Q43.77 359.83 48.34 353.75Q40.73 353.75 36.16 359.84Z" fill="#f29ac0" opacity="0.95"/><path d="M39.94 357.95Q43.01 358.31 44.56 355.64Q41.49 355.27 39.94 357.95Z" fill="#e5679f" opacity="0.75"/><path d="M81.43 352.39Q86.98 360.74 96.99 361.19Q91.44 352.84 81.43 352.39Z" fill="#f29ac0" opacity="0.95"/><path d="M86.26 355.12Q88.09 358.77 92.16 358.46Q90.32 354.82 86.26 355.12Z" fill="#e5679f" opacity="0.75"/><path d="M70.95 360.35Q82.23 365.97 94.63 363.73Q83.35 358.11 70.95 360.35Z" fill="#f29ac0" opacity="0.95"/><path d="M78.3 361.4Q82.51 364.01 87.28 362.68Q83.07 360.08 78.3 361.4Z" fill="#e5679f" opacity="0.75"/><path d="M84.13 353.82Q85.58 363.3 94.28 367.35Q92.84 357.86 84.13 353.82Z" fill="#f29ac0" opacity="0.95"/><path d="M87.28 358.02Q87.39 361.94 91.13 363.15Q91.02 359.22 87.28 358.02Z" fill="#e5679f" opacity="0.75"/><path d="M46.66 368.98Q48.54 379.54 58.84 382.52Q56.96 371.96 46.66 368.98Z" fill="#f29ac0" opacity="0.95"/><path d="M50.44 373.18Q50.64 377.65 55.06 378.32Q54.86 373.85 50.44 373.18Z" fill="#e5679f" opacity="0.75"/><path d="M55.04 377.41Q63.57 381.48 72.63 378.76Q64.09 374.69 55.04 377.41Z" fill="#f29ac0" opacity="0.95"/><path d="M60.5 377.83Q63.7 379.78 67.17 378.34Q63.96 376.39 60.5 377.83Z" fill="#e5679f" opacity="0.75"/></g><g><path d="M76.7 400.3Q91.4 407.9 97.6 417.3" stroke="#f3b3cd" stroke-width="0.5" fill="none" opacity="0.7"/><path d="M51.9 402.4Q64 392.9 73.7 397.6" stroke="#f3b3cd" stroke-width="0.5" fill="none" opacity="0.7"/><path d="M64 460.8Q46.4 457 40.5 446.1" stroke="#f3b3cd" stroke-width="0.5" fill="none" opacity="0.7"/><path d="M55.8 401.6Q65.4 396.3 73 394.8" stroke="#f3b3cd" stroke-width="0.5" fill="none" opacity="0.7"/><path d="M79.1 399.1Q92.3 407.8 97.9 416.8" stroke="#f3b3cd" stroke-width="0.5" fill="none" opacity="0.7"/><path d="M77.9 400.9Q93.2 407.8 97 418.7" stroke="#f3b3cd" stroke-width="0.5" fill="none" opacity="0.7"/><path d="M46.8 404.9Q57 398.7 64.7 396.1" stroke="#f3b3cd" stroke-width="0.5" fill="none" opacity="0.7"/><path d="M50.2 402.4Q61.3 395.2 70.4 393.9" stroke="#f3b3cd" stroke-width="0.5" fill="none" opacity="0.7"/><path d="M48.8 404.2Q63.4 398.2 74.7 394" stroke="#f3b3cd" stroke-width="0.5" fill="none" opacity="0.7"/><path d="M49.6 452Q38.9 442.1 35 432.5" stroke="#f3b3cd" stroke-width="0.5" fill="none" opacity="0.7"/><path d="M89.2 410.1Q100.6 419.2 102.6 429" stroke="#f3b3cd" stroke-width="0.5" fill="none" opacity="0.7"/><circle cx="73.2" cy="412" r="5.2" fill="#7f9bcc" opacity="0.93"/><circle cx="73.6" cy="412.3" r="2.6" fill="#5f80be" opacity="0.9"/><circle cx="72.6" cy="420.8" r="5.2" fill="#7f9bcc" opacity="0.93"/><circle cx="73" cy="421" r="2.6" fill="#5f80be" opacity="0.9"/><circle cx="79" cy="416.7" r="5.2" fill="#7f9bcc" opacity="0.93"/><circle cx="79.4" cy="416.9" r="2.6" fill="#5f80be" opacity="0.9"/><circle cx="57.4" cy="426.6" r="5.2" fill="#7f9bcc" opacity="0.93"/><circle cx="57.8" cy="426.8" r="2.6" fill="#5f80be" opacity="0.9"/><circle cx="63.8" cy="427.2" r="5.2" fill="#7f9bcc" opacity="0.93"/><circle cx="64.2" cy="427.4" r="2.6" fill="#5f80be" opacity="0.9"/><circle cx="41.7" cy="432.4" r="5.2" fill="#7f9bcc" opacity="0.93"/><circle cx="42.1" cy="432.7" r="2.6" fill="#5f80be" opacity="0.9"/><circle cx="53.9" cy="436.5" r="5.2" fill="#7f9bcc" opacity="0.93"/><circle cx="54.3" cy="436.8" r="2.6" fill="#5f80be" opacity="0.9"/><circle cx="66.2" cy="437.7" r="5.2" fill="#7f9bcc" opacity="0.93"/><circle cx="66.6" cy="437.9" r="2.6" fill="#5f80be" opacity="0.9"/><circle cx="90.7" cy="426.6" r="5.2" fill="#7f9bcc" opacity="0.93"/><circle cx="91.1" cy="426.8" r="2.6" fill="#5f80be" opacity="0.9"/><circle cx="76.7" cy="426.6" r="5.2" fill="#7f9bcc" opacity="0.93"/><circle cx="77.1" cy="426.8" r="2.6" fill="#5f80be" opacity="0.9"/><circle cx="81.3" cy="439.4" r="5.2" fill="#7f9bcc" opacity="0.93"/><circle cx="81.7" cy="439.7" r="2.6" fill="#5f80be" opacity="0.9"/><circle cx="57.4" cy="446.4" r="5.2" fill="#7f9bcc" opacity="0.93"/><circle cx="57.8" cy="446.7" r="2.6" fill="#5f80be" opacity="0.9"/><circle cx="69.7" cy="445.8" r="5.2" fill="#7f9bcc" opacity="0.93"/><circle cx="70.1" cy="446.1" r="2.6" fill="#5f80be" opacity="0.9"/><circle cx="68.5" cy="456.9" r="5.2" fill="#7f9bcc" opacity="0.93"/><circle cx="68.9" cy="457.2" r="2.6" fill="#5f80be" opacity="0.9"/><circle cx="63.8" cy="451.1" r="5.2" fill="#7f9bcc" opacity="0.93"/><circle cx="64.2" cy="451.3" r="2.6" fill="#5f80be" opacity="0.9"/><circle cx="74.9" cy="404.4" r="5.2" fill="#5a7ec0" opacity="0.93"/><circle cx="75.3" cy="404.7" r="2.6" fill="#3a5da8" opacity="0.9"/><circle cx="81.9" cy="408.5" r="5.2" fill="#5a7ec0" opacity="0.93"/><circle cx="82.3" cy="408.8" r="2.6" fill="#3a5da8" opacity="0.9"/><circle cx="63.8" cy="412" r="5.2" fill="#5a7ec0" opacity="0.93"/><circle cx="64.2" cy="412.3" r="2.6" fill="#3a5da8" opacity="0.9"/><circle cx="53.9" cy="412" r="5.2" fill="#5a7ec0" opacity="0.93"/><circle cx="54.3" cy="412.3" r="2.6" fill="#3a5da8" opacity="0.9"/><circle cx="43.4" cy="417.8" r="5.2" fill="#5a7ec0" opacity="0.93"/><circle cx="43.8" cy="418.1" r="2.6" fill="#3a5da8" opacity="0.9"/><circle cx="63.2" cy="420.2" r="5.2" fill="#5a7ec0" opacity="0.93"/><circle cx="63.7" cy="420.4" r="2.6" fill="#3a5da8" opacity="0.9"/><circle cx="45.8" cy="427.2" r="5.2" fill="#5a7ec0" opacity="0.93"/><circle cx="46.2" cy="427.4" r="2.6" fill="#3a5da8" opacity="0.9"/><circle cx="47.5" cy="433" r="5.2" fill="#5a7ec0" opacity="0.93"/><circle cx="47.9" cy="433.3" r="2.6" fill="#3a5da8" opacity="0.9"/><circle cx="83.1" cy="414.3" r="5.2" fill="#5a7ec0" opacity="0.93"/><circle cx="83.5" cy="414.6" r="2.6" fill="#3a5da8" opacity="0.9"/><circle cx="76.7" cy="435.3" r="5.2" fill="#5a7ec0" opacity="0.93"/><circle cx="77.1" cy="435.6" r="2.6" fill="#3a5da8" opacity="0.9"/><circle cx="90.7" cy="433.6" r="5.2" fill="#5a7ec0" opacity="0.93"/><circle cx="91.1" cy="433.8" r="2.6" fill="#3a5da8" opacity="0.9"/><circle cx="60.3" cy="454.6" r="5.2" fill="#5a7ec0" opacity="0.93"/><circle cx="60.7" cy="454.8" r="2.6" fill="#3a5da8" opacity="0.9"/><circle cx="73.2" cy="451.7" r="5.2" fill="#5a7ec0" opacity="0.93"/><circle cx="73.6" cy="451.9" r="2.6" fill="#3a5da8" opacity="0.9"/><circle cx="80.2" cy="455.2" r="5.2" fill="#5a7ec0" opacity="0.93"/><circle cx="80.6" cy="455.4" r="2.6" fill="#3a5da8" opacity="0.9"/><circle cx="89.5" cy="447" r="5.2" fill="#5a7ec0" opacity="0.93"/><circle cx="89.9" cy="447.3" r="2.6" fill="#3a5da8" opacity="0.9"/><circle cx="52.8" cy="420.2" r="4.94" fill="#a9ccf2" opacity="0.93"/><circle cx="53.1" cy="420.4" r="2.47" fill="#6f9ee2" opacity="0.9"/><circle cx="81.9" cy="428.3" r="4.94" fill="#a9ccf2" opacity="0.93"/><circle cx="82.3" cy="428.6" r="2.47" fill="#6f9ee2" opacity="0.9"/><circle cx="51" cy="449.9" r="4.94" fill="#a9ccf2" opacity="0.93"/><circle cx="51.4" cy="450.2" r="2.47" fill="#6f9ee2" opacity="0.9"/><circle cx="64.4" cy="450.5" r="4.42" fill="#e6e7e8" opacity="0.93"/><circle cx="64.8" cy="450.7" r="2.21" fill="#cfd0d2" opacity="0.9"/><circle cx="85.4" cy="449.9" r="4.42" fill="#e6e7e8" opacity="0.93"/><circle cx="85.8" cy="450.1" r="2.21" fill="#cfd0d2" opacity="0.9"/><path d="M43.6 412.75Q54.83 412.75 57.81 401.92Q46.58 401.92 43.6 412.75Z" fill="#e4e5e6" opacity="0.95"/><path d="M48.01 409.39Q52.77 410.04 53.4 405.28Q48.65 404.63 48.01 409.39Z" fill="#cfd0d2" opacity="0.75"/><path d="M53.59 407.1Q64.8 411.37 75.24 405.47Q64.04 401.19 53.59 407.1Z" fill="#e4e5e6" opacity="0.95"/><path d="M60.31 406.59Q64.61 408.83 68.52 405.98Q64.23 403.74 60.31 406.59Z" fill="#cfd0d2" opacity="0.75"/><path d="M58.05 400.8Q65.14 406.61 74.29 405.94Q67.19 400.12 58.05 400.8Z" fill="#e4e5e6" opacity="0.95"/><path d="M63.09 402.39Q65.65 404.99 69.25 404.34Q66.68 401.75 63.09 402.39Z" fill="#cfd0d2" opacity="0.75"/><path d="M84.58 406.96Q88.82 413.81 96.76 412.37Q92.51 405.52 84.58 406.96Z" fill="#e4e5e6" opacity="0.95"/><path d="M88.36 408.64Q89.75 411.74 92.98 410.69Q91.59 407.59 88.36 408.64Z" fill="#cfd0d2" opacity="0.75"/><path d="M84.76 409.85Q84.31 420.42 94.24 424.06Q94.69 413.5 84.76 409.85Z" fill="#e4e5e6" opacity="0.95"/><path d="M87.7 414.26Q86.91 418.69 91.3 419.65Q92.09 415.23 87.7 414.26Z" fill="#cfd0d2" opacity="0.75"/><path d="M51.19 430.15Q61.44 430.13 65.4 420.68Q55.15 420.7 51.19 430.15Z" fill="#e4e5e6" opacity="0.95"/><path d="M55.6 427.21Q59.86 427.78 60.99 423.62Q56.72 423.06 55.6 427.21Z" fill="#cfd0d2" opacity="0.75"/><path d="M36.16 439.84Q43.77 439.83 48.34 433.75Q40.73 433.75 36.16 439.84Z" fill="#e4e5e6" opacity="0.95"/><path d="M39.94 437.95Q43.01 438.31 44.56 435.64Q41.49 435.27 39.94 437.95Z" fill="#cfd0d2" opacity="0.75"/><path d="M81.43 432.39Q86.98 440.74 96.99 441.19Q91.44 432.84 81.43 432.39Z" fill="#e4e5e6" opacity="0.95"/><path d="M86.26 435.12Q88.09 438.77 92.16 438.46Q90.32 434.82 86.26 435.12Z" fill="#cfd0d2" opacity="0.75"/><path d="M70.95 440.35Q82.23 445.97 94.63 443.73Q83.35 438.11 70.95 440.35Z" fill="#e4e5e6" opacity="0.95"/><path d="M78.3 441.4Q82.51 444.01 87.28 442.68Q83.07 440.08 78.3 441.4Z" fill="#cfd0d2" opacity="0.75"/><path d="M84.13 433.82Q85.58 443.3 94.28 447.35Q92.84 437.86 84.13 433.82Z" fill="#e4e5e6" opacity="0.95"/><path d="M87.28 438.02Q87.39 441.94 91.13 443.15Q91.02 439.22 87.28 438.02Z" fill="#cfd0d2" opacity="0.75"/><path d="M46.66 448.98Q48.54 459.54 58.84 462.52Q56.96 451.96 46.66 448.98Z" fill="#e4e5e6" opacity="0.95"/><path d="M50.44 453.18Q50.64 457.65 55.06 458.32Q54.86 453.85 50.44 453.18Z" fill="#cfd0d2" opacity="0.75"/><path d="M55.04 457.41Q63.57 461.48 72.63 458.76Q64.09 454.69 55.04 457.41Z" fill="#e4e5e6" opacity="0.95"/><path d="M60.5 457.83Q63.7 459.78 67.17 458.34Q63.96 456.39 60.5 457.83Z" fill="#cfd0d2" opacity="0.75"/></g><line x1="105.3" y1="353.8" x2="120" y2="353.8" stroke="#a3a6a9" stroke-width="1.1" stroke-dasharray="1.7 1.9"/><path d="M125 353.8L120.5 355.9L120.5 351.7Z" fill="#5a5a5a"/><line x1="105.3" y1="432.7" x2="120" y2="432.7" stroke="#a3a6a9" stroke-width="1.1" stroke-dasharray="1.7 1.9"/><path d="M125 432.7L120.5 434.8L120.5 430.6Z" fill="#5a5a5a"/><rect x="145.3" y="324.8" width="9.7" height="8.2" fill="#e6433c"/><rect x="154.8" y="324.8" width="9.7" height="8.2" fill="#ea8a2c"/><rect x="164.3" y="324.8" width="9.7" height="8.2" fill="#efc137"/><rect x="173.8" y="324.8" width="9.7" height="8.2" fill="#f5e58a"/><rect x="183.3" y="324.8" width="9.7" height="8.2" fill="#f9f8dc"/><rect x="192.8" y="324.8" width="9.7" height="8.2" fill="#f9f8dc"/><rect x="145.3" y="332.9" width="9.7" height="8.2" fill="#ea8a2c"/><rect x="154.8" y="332.9" width="9.7" height="8.2" fill="#e6433c"/><rect x="164.3" y="332.9" width="9.7" height="8.2" fill="#e8543a"/><rect x="173.8" y="332.9" width="9.7" height="8.2" fill="#f5e58a"/><rect x="183.3" y="332.9" width="9.7" height="8.2" fill="#f5e58a"/><rect x="192.8" y="332.9" width="9.7" height="8.2" fill="#f5e58a"/><rect x="145.3" y="341" width="9.7" height="8.2" fill="#efc137"/><rect x="154.8" y="341" width="9.7" height="8.2" fill="#e8543a"/><rect x="164.3" y="341" width="9.7" height="8.2" fill="#e6433c"/><rect x="173.8" y="341" width="9.7" height="8.2" fill="#f9f8dc"/><rect x="183.3" y="341" width="9.7" height="8.2" fill="#f9f8dc"/><rect x="192.8" y="341" width="9.7" height="8.2" fill="#f9f8dc"/><rect x="145.3" y="349.1" width="9.7" height="8.2" fill="#f5e58a"/><rect x="154.8" y="349.1" width="9.7" height="8.2" fill="#f5e58a"/><rect x="164.3" y="349.1" width="9.7" height="8.2" fill="#f9f8dc"/><rect x="173.8" y="349.1" width="9.7" height="8.2" fill="#e6433c"/><rect x="183.3" y="349.1" width="9.7" height="8.2" fill="#f3d95a"/><rect x="192.8" y="349.1" width="9.7" height="8.2" fill="#f4e9a0"/><rect x="145.3" y="357.2" width="9.7" height="8.2" fill="#f9f8dc"/><rect x="154.8" y="357.2" width="9.7" height="8.2" fill="#f5e58a"/><rect x="164.3" y="357.2" width="9.7" height="8.2" fill="#f9f8dc"/><rect x="173.8" y="357.2" width="9.7" height="8.2" fill="#f3d95a"/><rect x="183.3" y="357.2" width="9.7" height="8.2" fill="#e6433c"/><rect x="192.8" y="357.2" width="9.7" height="8.2" fill="#e8543a"/><rect x="145.3" y="365.3" width="9.7" height="8.2" fill="#f9f8dc"/><rect x="154.8" y="365.3" width="9.7" height="8.2" fill="#f5e58a"/><rect x="164.3" y="365.3" width="9.7" height="8.2" fill="#f9f8dc"/><rect x="173.8" y="365.3" width="9.7" height="8.2" fill="#f4e9a0"/><rect x="183.3" y="365.3" width="9.7" height="8.2" fill="#e8543a"/><rect x="192.8" y="365.3" width="9.7" height="8.2" fill="#e6433c"/><rect x="145.3" y="324.8" width="57" height="48.6" fill="none" stroke="#666" stroke-width="0.4"/><rect x="144.2" y="401.9" width="9.8" height="8.3" fill="#f4f7fc"/><rect x="153.8" y="401.9" width="9.8" height="8.3" fill="#7ea3d8"/><rect x="163.4" y="401.9" width="9.8" height="8.3" fill="#4f7ec9"/><rect x="173" y="401.9" width="9.8" height="8.3" fill="#b9cfea"/><rect x="182.6" y="401.9" width="9.8" height="8.3" fill="#4f7ec9"/><rect x="192.2" y="401.9" width="9.8" height="8.3" fill="#4f7ec9"/><rect x="144.2" y="410" width="9.8" height="8.3" fill="#4f7ec9"/><rect x="153.8" y="410" width="9.8" height="8.3" fill="#355fa5"/><rect x="163.4" y="410" width="9.8" height="8.3" fill="#355fa5"/><rect x="173" y="410" width="9.8" height="8.3" fill="#c8daf0"/><rect x="182.6" y="410" width="9.8" height="8.3" fill="#aec8e8"/><rect x="192.2" y="410" width="9.8" height="8.3" fill="#e6eef8"/><rect x="144.2" y="418.2" width="9.8" height="8.3" fill="#c0d4ee"/><rect x="153.8" y="418.2" width="9.8" height="8.3" fill="#4f74ae"/><rect x="163.4" y="418.2" width="9.8" height="8.3" fill="#355fa5"/><rect x="173" y="418.2" width="9.8" height="8.3" fill="#8fb0df"/><rect x="182.6" y="418.2" width="9.8" height="8.3" fill="#c8daf0"/><rect x="192.2" y="418.2" width="9.8" height="8.3" fill="#aec8e8"/><rect x="144.2" y="426.3" width="9.8" height="8.3" fill="#4f7ec9"/><rect x="153.8" y="426.3" width="9.8" height="8.3" fill="#4f7ec9"/><rect x="163.4" y="426.3" width="9.8" height="8.3" fill="#4f7ec9"/><rect x="173" y="426.3" width="9.8" height="8.3" fill="#4f7ec9"/><rect x="182.6" y="426.3" width="9.8" height="8.3" fill="#b3c9e8"/><rect x="192.2" y="426.3" width="9.8" height="8.3" fill="#eef3fa"/><rect x="144.2" y="434.5" width="9.8" height="8.3" fill="#dbe6f5"/><rect x="153.8" y="434.5" width="9.8" height="8.3" fill="#aec8e8"/><rect x="163.4" y="434.5" width="9.8" height="8.3" fill="#4f7ec9"/><rect x="173" y="434.5" width="9.8" height="8.3" fill="#c8daf0"/><rect x="182.6" y="434.5" width="9.8" height="8.3" fill="#2f4a7a"/><rect x="192.2" y="434.5" width="9.8" height="8.3" fill="#4f7ec9"/><rect x="144.2" y="442.6" width="9.8" height="8.3" fill="#b3cdea"/><rect x="153.8" y="442.6" width="9.8" height="8.3" fill="#d5e3f4"/><rect x="163.4" y="442.6" width="9.8" height="8.3" fill="#dbe6f5"/><rect x="173" y="442.6" width="9.8" height="8.3" fill="#a3bfe4"/><rect x="182.6" y="442.6" width="9.8" height="8.3" fill="#4f7ec9"/><rect x="192.2" y="442.6" width="9.8" height="8.3" fill="#4f7ec9"/><path d="M144.2 401.9V450.8M144.2 401.9H201.8M153.8 401.9V450.8M144.2 410H201.8M163.4 401.9V450.8M144.2 418.2H201.8M173 401.9V450.8M144.2 426.3H201.8M182.6 401.9V450.8M144.2 434.5H201.8M192.2 401.9V450.8M144.2 442.6H201.8M201.8 401.9V450.8M144.2 450.8H201.8" stroke="#2c4a80" stroke-width="0.35" fill="none"/><path d="M158.5 317.5L158.5 309.9L186.2 309.9L186.2 312.4M151.5 324.8L151.5 317.5L165.5 317.5L165.5 320.7M160.2 324.8L160.2 320.7L170.1 320.7L170.1 324.8M179.6 324.8L179.6 312.4L193.5 312.4L193.5 320.7M188.4 324.8L188.4 320.7L198.3 320.7L198.3 324.8" stroke="#444" stroke-width="0.6" fill="none"/><path d="M210.3 334.3L219.3 334.3L219.3 356.9L210.3 356.9M202.3 328.5L210.3 328.5L210.3 340.1L206.6 340.1M202.3 335.8L206.6 335.8L206.6 343.8L202.3 343.8M202.3 352.6L210.3 352.6L210.3 364.2L206.6 364.2M202.3 360.6L206.6 360.6L206.6 369.3L202.3 369.3" stroke="#444" stroke-width="0.6" fill="none"/><path d="M157.3 389.9L157.3 394.2M150.4 401.9L150.4 394.2L164.7 394.2L164.7 397.5M159.6 401.9L159.6 397.5L169.4 397.5L169.4 401.9M178.6 401.9L178.6 389.5L193.5 389.5L193.5 397.8M187.7 401.9L187.7 397.8L197.6 397.8L197.6 401.9" stroke="#444" stroke-width="0.6" fill="none"/><path d="M210 411.4L218.6 411.4L218.6 436.2L210 436.2M201.8 405.5L210 405.5L210 417.2L206.2 417.2M201.8 413.3L206.2 413.3L206.2 421.2L201.8 421.2M201.8 430.4L210 430.4L210 442.8L206.2 442.8M201.8 438.1L206.2 438.1L206.2 446.7L201.8 446.7" stroke="#777" stroke-width="0.6" fill="none"/><defs><linearGradient id="gr" x1="0" y1="0" x2="0" y2="1"><stop offset="0" stop-color="#faf6d0"/><stop offset="0.5" stop-color="#f2cf55"/><stop offset="1" stop-color="#e6433c"/></linearGradient><linearGradient id="gb" x1="0" y1="0" x2="0" y2="1"><stop offset="0" stop-color="#2a587a"/><stop offset="1" stop-color="#5aaada"/></linearGradient></defs><rect x="215.4" y="309.5" width="5.4" height="16.8" fill="url(#gr)"/><rect x="215.1" y="389.9" width="5.1" height="13.1" fill="url(#gb)"/><line x1="270.3" y1="329.4" x2="270.6" y2="320.6" stroke="#962a38" stroke-width="0.65"/><path d="M270.6 320L271.6 322.2L269.5 322.1Z" fill="#962a38"/><line x1="271.8" y1="329.4" x2="281.7" y2="324.4" stroke="#962a38" stroke-width="0.65"/><path d="M282.3 324.1L280.8 326L279.9 324.2Z" fill="#962a38"/><path d="M261.9 322.7Q267.5 322.2 267.8 328.4" stroke="#962a38" stroke-width="0.65" fill="none"/><path d="M267.8 329L266.7 326.9L268.7 326.8Z" fill="#962a38"/><path d="M253.3 333.4Q256.2 331.4 262.2 332.1" stroke="#962a38" stroke-width="0.65" fill="none"/><path d="M262.7 332.2L260.5 332.9L260.7 330.9Z" fill="#962a38"/><line x1="277.4" y1="332.4" x2="285.7" y2="332.5" stroke="#962a38" stroke-width="0.65"/><path d="M286.3 332.5L284.1 333.5L284.1 331.5Z" fill="#962a38"/><path d="M266.4 345.7C271.9 344.7 270.9 337.2 262.3 337.7C257.8 338.1 258.1 340.7 258.3 342.8" stroke="#962a38" stroke-width="0.5" fill="none"/><path d="M266.6 345.7L268.5 344.9L268.5 346.5Z" fill="#962a38"/><line x1="252.2" y1="345.7" x2="249.6" y2="345.7" stroke="#962a38" stroke-width="0.65"/><path d="M249 345.7L251.1 344.7L251.1 346.7Z" fill="#962a38"/><line x1="259.3" y1="348.6" x2="259.7" y2="353" stroke="#962a38" stroke-width="0.65"/><path d="M259.8 353.6L258.5 351.5L260.6 351.3Z" fill="#962a38"/><line x1="281.4" y1="347.9" x2="281.4" y2="353.2" stroke="#962a38" stroke-width="0.65"/><path d="M281.4 353.8L280.4 351.6L282.4 351.6Z" fill="#962a38"/><line x1="282.8" y1="354.2" x2="282.8" y2="349.1" stroke="#962a38" stroke-width="0.65"/><path d="M282.8 348.5L283.8 350.7L281.8 350.7Z" fill="#962a38"/><line x1="289.1" y1="345" x2="299.1" y2="345" stroke="#962a38" stroke-width="0.65"/><path d="M299.7 345L297.5 346L297.5 344Z" fill="#962a38"/><path d="M289.1 345Q294.1 335.1 299.6 333.9" stroke="#962a38" stroke-width="0.65" fill="none"/><path d="M300.2 333.8L298.3 335.2L297.8 333.2Z" fill="#962a38"/><path d="M289.1 345Q294.1 355.7 299.6 356.2" stroke="#962a38" stroke-width="0.65" fill="none"/><path d="M300.2 356.3L297.9 357.1L298.1 355Z" fill="#962a38"/><path d="M290.6 344.5Q292.1 344 291.9 338.5" stroke="#962a38" stroke-width="0.65" fill="none"/><path d="M291.9 337.9L293 340L290.9 340.1Z" fill="#962a38"/><circle cx="270.6" cy="314.8" r="4.6" fill="#c8434c"/><circle cx="257.3" cy="322.2" r="4.6" fill="#c8434c"/><circle cx="286.2" cy="320.6" r="4.6" fill="#c8434c"/><circle cx="249.6" cy="336.6" r="4.6" fill="#c8434c"/><circle cx="291.6" cy="332.7" r="4.6" fill="#c8434c"/><circle cx="305.2" cy="333.1" r="4.6" fill="#c8434c"/><circle cx="305.2" cy="345" r="4.6" fill="#c8434c"/><circle cx="305.2" cy="356.7" r="4.6" fill="#c8434c"/><circle cx="259.7" cy="358.8" r="4.6" fill="#c8434c"/><circle cx="282" cy="358.8" r="4.6" fill="#c8434c"/><rect x="263.2" y="329.4" width="14.3" height="5.9" fill="#c8434c" rx="2.95"/><rect x="252.2" y="342.8" width="14.3" height="5.9" fill="#c8434c" rx="2.95"/><rect x="274.9" y="342.1" width="14.3" height="5.9" fill="#c8434c" rx="2.95"/><line x1="267.7" y1="420.4" x2="267.4" y2="410.4" stroke="#274c96" stroke-width="0.65"/><path d="M267.4 409.8L268.5 411.9L266.4 412Z" fill="#274c96"/><line x1="269.2" y1="420.4" x2="280" y2="414.6" stroke="#274c96" stroke-width="0.65"/><path d="M280.6 414.4L279.1 416.3L278.2 414.5Z" fill="#274c96"/><path d="M258.2 412.5Q264.9 412 265.2 419.4" stroke="#274c96" stroke-width="0.65" fill="none"/><path d="M265.2 420L264.1 417.9L266.2 417.8Z" fill="#274c96"/><path d="M248.1 424.4Q251.1 422.8 258.6 423.5" stroke="#274c96" stroke-width="0.65" fill="none"/><path d="M259.1 423.6L256.9 424.4L257.1 422.3Z" fill="#274c96"/><line x1="275.8" y1="423.8" x2="284.2" y2="423.3" stroke="#274c96" stroke-width="0.65"/><path d="M284.8 423.3L282.7 424.4L282.6 422.4Z" fill="#274c96"/><path d="M263.6 438.2C269.1 437.2 268.1 429.7 258.5 430.2C254 430.6 254.3 433.2 254.5 434.8" stroke="#274c96" stroke-width="0.5" fill="none"/><path d="M263.8 438.2L265.7 437.4L265.7 439Z" fill="#274c96"/><line x1="247.3" y1="438.2" x2="244.8" y2="438.2" stroke="#274c96" stroke-width="0.65"/><path d="M244.2 438.2L246.3 437.2L246.3 439.2Z" fill="#274c96"/><line x1="255.5" y1="441.6" x2="255.5" y2="446.8" stroke="#274c96" stroke-width="0.65"/><path d="M255.5 447.4L254.5 445.2L256.5 445.2Z" fill="#274c96"/><line x1="279.4" y1="441" x2="279.7" y2="447" stroke="#274c96" stroke-width="0.65"/><path d="M279.7 447.6L278.6 445.5L280.6 445.4Z" fill="#274c96"/><line x1="281.1" y1="448" x2="280.8" y2="442.2" stroke="#274c96" stroke-width="0.65"/><path d="M280.8 441.6L281.9 443.7L279.9 443.8Z" fill="#274c96"/><line x1="288.1" y1="437.6" x2="299.6" y2="437.2" stroke="#274c96" stroke-width="0.65"/><path d="M300.2 437.2L298.1 438.3L298 436.2Z" fill="#274c96"/><path d="M288.1 437.6Q293.1 426.3 300.1 425.1" stroke="#274c96" stroke-width="0.65" fill="none"/><path d="M300.7 425L298.7 426.4L298.4 424.4Z" fill="#274c96"/><path d="M288.1 437.6Q293.1 449.6 300.1 450.1" stroke="#274c96" stroke-width="0.65" fill="none"/><path d="M300.7 450.1L298.5 451L298.6 449Z" fill="#274c96"/><path d="M289.6 437.1Q291.2 436.6 291 429.9" stroke="#274c96" stroke-width="0.65" fill="none"/><path d="M291 429.3L292.1 431.4L290 431.5Z" fill="#274c96"/><circle cx="267.4" cy="404" r="5.2" fill="#4878c8"/><circle cx="253" cy="412" r="5.2" fill="#4878c8"/><circle cx="285" cy="410.4" r="5.2" fill="#4878c8"/><circle cx="243.9" cy="428" r="5.2" fill="#4878c8"/><circle cx="290.7" cy="423.5" r="5.2" fill="#4878c8"/><circle cx="306.3" cy="424.3" r="5.2" fill="#4878c8"/><circle cx="306.3" cy="437.2" r="5.2" fill="#4878c8"/><circle cx="306.3" cy="450.6" r="5.2" fill="#4878c8"/><circle cx="255.5" cy="453.2" r="5.2" fill="#4878c8"/><circle cx="280.3" cy="453.2" r="5.2" fill="#4878c8"/><rect x="259.6" y="420.4" width="16.3" height="6.7" fill="#4878c8" rx="3.35"/><rect x="247.3" y="434.8" width="16.3" height="6.7" fill="#4878c8" rx="3.35"/><rect x="271.9" y="434.2" width="16.3" height="6.7" fill="#4878c8" rx="3.35"/><rect x="307.6" y="368.2" width="35.3" height="16" fill="#fff" stroke="#111" stroke-width="0.9" rx="7.5"/><text x="325.3" y="375.3" font-size="5.85" text-anchor="middle">transcription</text><text x="325.3" y="382" font-size="5.85" text-anchor="middle">factor</text><circle cx="324.8" cy="399.1" r="9.5" fill="#fff" stroke="#111" stroke-width="0.9"/><text x="324.8" y="401.4" font-size="7.0" text-anchor="middle">gene</text></g>
<g id="panel-b"><text x="360.3" y="15.8" font-size="20.5" font-weight="bold">b</text><text x="513" y="13.8" font-size="11.3" text-anchor="middle">U118MG</text>
<path d="M481.7 188.1h0M476.3 186.4h0M477.6 188.2h0M480.2 190.3h0M477 189h0M482.8 188.6h0M477.8 188.6h0M477 189.3h0M477.2 188h0M483 187.1h0M480.9 190.1h0M473.4 170.7h0M480.9 189h0M479.5 190.4h0M476 183.5h0M484.4 183.5h0M471.8 173.8h0M479 189.9h0M481.6 188.5h0M482.8 184.5h0M474.8 179.1h0M483.5 181.9h0M479.5 190.4h0M485.3 185.3h0M478.8 190h0M480.3 190.5h0M475 184.2h0M477.3 189.2h0M479.6 191h0M482.2 186.4h0M482.8 186.5h0M486.2 179.7h0M479.2 190.1h0M476.5 188.3h0M476 186.9h0M481.4 187.6h0M481.1 188.3h0M474.8 185.1h0M483.5 186h0M479.2 190h0M477.2 189.2h0M483.8 187h0M475.8 184.5h0M477.4 188.5h0M483.7 183.7h0M474.3 184.3h0M483 183.9h0M484.2 178.9h0M474.7 186.1h0M475.8 188.2h0M483.7 182.4h0M478.5 190.1h0M483 186.9h0M472.5 178.9h0M479.1 190.6h0M477.4 188.1h0M484.3 184.1h0M484.1 183h0M480 190.7h0M482 187.5h0M484.5 185.5h0M476.7 188.5h0M472.3 184h0M480.9 188.9h0M480.7 189.4h0M479.2 190.3h0M478.9 189.7h0M474.5 186.2h0M476.8 186.1h0M478.8 189.9h0M484.1 180.7h0M476.8 186h0M483.6 181.9h0M475.1 180.5h0M472.2 170.4h0M475.9 185.1h0M486.7 152.9h0M483.5 182.9h0M479.5 190.2h0M478.1 189.2h0M480.6 189.7h0M479.5 190.6h0M480.4 189.8h0M480.5 189.3h0M482.9 185.4h0M483.9 184.6h0M477.6 188.6h0M476.2 184.9h0M473.4 178h0M475.1 186.4h0M477 187.6h0M485.4 175h0M483.9 185.9h0M478.1 189.3h0M478.9 190.2h0M483.5 183.6h0M474.5 177.7h0M479.7 189.7h0M477.3 189.5h0M480.2 189.8h0M481.8 187.7h0M475.8 188.3h0M483.7 187.9h0M484.3 178.8h0M479.8 190.9h0M482.7 185.9h0M482.2 185.9h0M478 189.1h0M476 187.4h0M479.9 190.5h0M474.4 180.7h0M486.9 162.1h0M485.9 165.9h0M483.9 182.2h0M484.1 178.8h0M474.1 175.6h0M484.7 177.1h0M485.6 173.8h0M477.3 188.9h0M477.6 188.3h0M478.7 189.7h0M475.6 181.7h0M478.5 189.3h0M482.8 188.3h0M475.3 184.1h0M476.4 186.7h0M481.4 189.6h0M480.6 189.9h0M476.1 184.9h0M481.6 188.3h0M482 186.9h0M484.2 178.1h0M472 165.2h0M483 185.7h0M481.6 188.8h0M478.4 189.6h0M483.6 185.3h0M473.3 177.8h0M486.5 177.7h0M472 175.9h0M478.4 189.6h0M471.6 183.2h0M479.3 189.8h0M473.7 174.1h0M478.9 190.1h0M480 190.7h0M473.7 172.3h0M478.1 188.6h0M478.7 190.5h0M486 174.5h0M484.5 181.5h0M478 188.8h0M482.9 184.2h0M486.4 185h0M486.8 176.8h0M480.8 189.7h0M474.6 185.9h0M475.1 185.7h0M479.2 190.2h0M474.3 181.5h0M481.7 188.1h0M481.6 188h0M482.8 185.7h0M477.4 188h0M482.1 186.7h0M476.2 185h0M483.6 185.3h0M476.6 185.5h0M483.6 181.4h0M482.4 186.3h0M482.7 187.5h0M485.8 176.4h0M480.2 190.2h0M476.6 186.3h0M483.4 183.7h0M479.9 189.8h0M482.3 187.1h0M478.9 189.9h0M479.3 190.7h0M482 189.2h0M480.7 189.5h0M472 178.1h0M478.8 190.5h0M482.7 184.6h0M481.8 189.3h0M478.4 189.1h0M481.8 188.4h0M472.7 172.4h0M480.9 189h0M480.2 189.8h0M482.2 186.6h0M485.3 179.8h0M480.7 189.5h0M482.8 188.7h0M473 169h0M475.4 183.5h0M475.2 183.4h0M478.4 189.9h0M474.4 178.1h0M481.8 187h0M474.1 175.3h0M476.1 185h0M471.8 181.1h0M484.7 182.4h0M478.7 190.2h0M479.7 190.1h0M476.5 185.2h0M476.5 186.3h0M475 182.3h0M479.5 190.1h0M480.7 190.3h0M472.4 175.6h0M473.2 176.6h0M483.1 186.1h0M480.7 190.1h0M479.4 190.3h0M478.8 190.1h0M479.2 189.9h0M483.1 183.5h0M483 187.5h0M485 179.4h0M478 188.3h0M478.2 189.5h0M478.2 189.2h0M475.1 181.4h0M477.7 189.2h0M483.8 187.5h0M479.9 190.7h0M479.7 189.8h0M473.7 175.3h0M484.9 174.9h0M485.1 180h0M481.7 188.8h0M477.5 187.9h0M482.7 185.2h0M477.2 187.7h0M477.8 188.9h0M480 190.2h0M481.3 189.5h0M482.5 186.4h0M484.4 181.3h0M479.3 190h0M479.7 189.8h0M482.3 186.1h0M475.6 186.2h0M475.6 183.6h0M472.4 164.2h0M476.4 187.9h0M479.6 189.8h0M480.7 190.2h0M478.4 189.9h0M472.3 180.8h0M483.2 185.1h0M481.7 187.7h0M480.6 189.6h0M475.7 185h0M475.4 186.1h0M474.2 176.3h0M487.5 180.2h0M486.7 176.6h0M475.5 182.5h0M481.5 188.7h0M476.2 185.2h0M477.7 188h0M481.4 189.6h0M486 173.6h0M483.2 184.2h0M476.5 188.6h0M481.5 189.5h0M476.4 185.9h0M478.8 190.3h0M482.6 185.6h0M477.6 188.1h0M481.7 188h0M481.1 189.3h0M474.8 183.2h0M474.6 184.2h0M475.9 186.3h0M483.7 184.4h0M476.6 186.7h0M482 186.9h0M476.7 186.9h0M483.8 180.4h0M479.3 190.3h0M480.7 189.5h0M473.3 172.6h0M480.2 190.1h0M477.5 187.8h0M481.6 187.8h0M480.7 189h0M486.6 179.6h0M483.7 182.1h0M476.9 188.4h0M476 184.7h0M478.2 189.5h0M477.3 187.7h0M484.6 177.4h0M476.5 186.1h0M485.8 167.9h0M477.3 187.5h0M474.2 184.7h0M482.4 186.2h0M485.1 183.9h0M479.2 190.6h0M475.2 180.1h0M481.7 189.4h0M478.5 189.6h0M482.2 186.5h0M480.4 190h0M481.4 188.4h0M480.8 190h0M478.6 190.3h0M480.4 189.8h0M483.7 183.2h0M480.1 190.4h0M483.2 187.2h0M479.7 190.2h0M474.5 178h0M475 179.8h0M480.1 189.8h0M475.5 181.6h0M485.6 176.4h0M479.8 189.8h0M481.3 188.1h0M474.2 179.9h0M484.2 184.3h0M479 190.5h0M486 175.7h0M479.9 189.9h0M477.7 189.4h0M471.8 176.8h0M477.5 187.7h0M483.5 184.1h0M478.8 190.5h0M484.4 178.6h0M483.5 183h0M481.8 189.2h0M473 164.3h0M480.3 189.8h0M476.1 186.5h0M481.7 187.4h0M478.2 189.9h0M472.7 180.2h0M477.6 187.9h0M477.6 189.6h0M484.1 184.2h0M481.4 188.9h0M478.4 189.9h0M477 187.7h0M477.3 187.7h0M485.1 176.4h0M479.9 190.5h0M473.6 186.6h0M477 186.3h0M480.7 189.4h0M475.7 186.3h0M474.4 183.1h0M484.6 182.8h0M472.8 177.8h0M484.9 183.8h0M478.9 189.8h0M474.4 180h0M478.6 189.7h0M474.4 185.8h0M481.1 188.6h0M481.5 188h0M482 186.7h0M484.8 179h0M483 187.6h0M481.7 189.1h0M477.6 187.8h0M480.7 189.6h0M478.9 189.9h0M482 188.2h0M474.3 181.6h0M485.3 175.4h0M480.1 189.7h0M481.6 188h0M484.7 182.5h0M480.1 190h0M483.9 182.9h0M483 184.6h0M483.1 187.4h0M472.4 160.9h0M474.3 180.7h0M477.9 189.7h0M475.6 184.6h0M477.1 188.7h0M487.2 175.2h0M476.7 188.8h0M479.8 190.1h0M487.1 170.2h0M475.3 186.8h0M484.4 176.9h0M477.5 187.6h0M479 190.1h0M487.3 170.8h0M487 174h0M474.6 185h0M477.3 189.5h0M478.8 190.5h0M478.4 189.4h0M476.4 185.8h0M487.6 164.5h0M479.8 190.6h0M478.5 189.9h0M483.1 185.3h0M484 185.8h0M475 182.2h0M478.9 190.4h0M478.5 189.6h0M478.2 190h0M477.5 188.2h0M475.9 184.2h0M481.2 188.3h0M483.1 185.8h0M474.8 181.5h0M485.4 177.6h0M475.5 184.8h0M483.7 187.5h0M476.6 186.2h0M487.1 160.5h0M474 182h0M477.7 189.5h0M478.3 189.6h0M473.7 185.7h0M479.4 190.1h0M475.3 185.1h0M478.8 190.2h0M479.7 189.8h0M481.7 187.1h0M473.6 179h0M480.9 188.9h0M475.6 184.3h0M481.7 187.5h0M478 189.8h0M476.2 188.9h0M479.7 190.5h0M484.4 186.6h0M473 175.2h0M474.7 187h0M485.5 185.9h0M483.5 184.3h0M476.5 185.4h0M486 180h0M478.6 190.1h0M473.7 183.1h0M482.3 187.1h0M474.9 185.6h0M481.9 188.7h0M486.8 172.5h0M485.3 173.4h0M485.7 182.7h0M472.8 167.1h0M477.3 188.8h0M480.3 190.3h0M478.6 190.3h0M475.8 186.7h0M474.3 181.9h0M473.2 172.7h0M480.1 189.8h0M484.4 180h0M478.1 190h0M485.7 174.8h0M478.8 190.1h0M487 172.3h0M481.7 188.8h0M480.3 190.3h0M477.2 187.3h0M479.6 190.3h0M484.2 185.3h0M485.8 169.9h0M480.9 188.7h0M475.9 185.1h0M479.5 190.2h0M474.1 176.6h0M486.1 172.3h0M479.1 190h0M477.7 189.4h0M480.1 190.1h0M476.1 187.3h0M483.1 184h0M480.6 189.7h0M475.4 186.1h0M473.5 185.8h0M476.2 185.9h0M477.8 188.2h0M472.1 177.1h0M480.1 190.2h0M480.4 190h0M475.3 181.5h0M481.1 189.8h0M485.8 174h0M475.4 181.9h0M479.7 190.5h0M482.7 188.6h0M476.3 186.4h0M486.9 173.6h0M477.4 187.5h0M478.2 189.9h0M479.4 190.1h0M482.9 184.6h0M480 190.3h0M477.5 188.7h0M482.7 188.6h0M480.1 189.7h0M483.4 183.1h0M484.5 186.8h0M480.2 190.5h0M475.7 185.3h0M482.5 188.5h0M483.6 182.1h0M479.1 190.5h0M475.3 183.4h0M479.8 189.8h0M485.9 176.5h0M478.2 189.6h0M478.4 189.6h0M484.5 179.4h0M481.4 187.8h0M473 173.8h0M486.4 172.8h0M480.3 190.2h0M475.5 186.6h0M476.2 187.6h0M478.4 190.1h0M474.6 182.1h0M480.5 189.3h0M474.5 184.6h0M477.8 188.5h0M481 189.3h0M479.3 190.7h0M480.6 190h0M478.5 190h0M475 186h0M484.5 178.3h0M477.4 187.7h0M480.5 190h0M478.9 190.3h0M485.5 179.9h0M480.4 190.5h0M472.6 172.4h0M479.6 190.8h0M481.2 188.7h0M484.4 182.2h0M480.5 189.8h0M485.5 181.2h0M486.3 164.8h0M481.9 188.5h0M482.6 185.7h0M474.8 178.7h0M482.7 187.6h0M478.1 189.7h0M484.6 186.7h0M480.8 188.8h0M476.9 186.4h0M481.4 188.3h0M476.3 187.5h0M477.8 189h0M477.6 188.8h0M484.8 182.3h0M481.6 188.3h0M478.9 190.3h0M482.8 186.3h0M483.8 185.5h0M486.9 180.6h0M476.2 187.9h0M484.6 180h0M477.3 187.6h0M472.5 184.8h0M475.2 187.3h0M483 186.4h0M485.9 172.3h0M481.8 188.1h0M477.5 189.7h0M483.4 185.5h0M485.3 181.9h0M474.8 180.6h0M482.1 187.2h0M485.5 170h0M473.1 168.8h0M475.2 184h0M475.4 185.6h0M485.2 180.4h0M480.9 189.9h0M478.6 190h0M477.5 187.5h0M484.6 185h0M481 188.9h0M483.4 186.4h0M479.5 190.3h0M475.2 182.5h0M473.6 176.7h0M486.9 171h0M483.3 183.7h0M476.2 185.5h0M473.7 174.2h0M483.8 183.3h0M477.4 188.1h0M479.9 190.5h0M483.9 186h0M476.5 188.7h0M479.2 190.9h0M486.7 180.3h0M484.9 180.3h0M480.4 190.3h0M472.9 164.8h0M483.7 183.7h0M481 188.7h0M472.3 175.5h0M485.3 175.7h0M477.1 187.1h0M484.1 179.5h0M483.1 186.1h0M472.9 167.7h0M484.6 185.4h0M473.3 180.8h0M485.5 182.4h0M487.2 148.6h0M480.2 190.5h0M477.2 187.7h0M473.9 180.6h0M472.4 183.5h0M478.8 190.7h0M476.7 187.8h0M477.3 189.2h0M478.9 190.1h0M480.7 189.6h0M476 184.6h0M483.1 184.1h0M478.3 189.4h0M485.1 175.6h0M485.2 176.2h0M478.8 190.1h0M480.5 190.2h0M476.4 188.3h0M483.5 184.3h0M477.7 189.6h0M479 190.1h0M480.5 190.2h0M476.2 187.5h0M476.2 186.3h0M476.5 188.7h0M482.9 188.3h0M483.4 187.6h0M476.4 187.9h0M481.6 189.1h0M484 183.5h0M474.6 178.4h0M477.9 188.9h0M480.7 189.3h0M476.2 184.4h0M476.2 184.9h0M485.8 168.8h0M479.3 190.7h0M483 187.9h0M480.1 190.7h0M473.4 179.4h0M483.1 188.5h0M477.7 188.1h0M479 189.9h0M473.7 173.8h0M481.4 189.5h0M485.1 176.6h0M477.7 189.2h0M480.6 189.6h0M478.8 190.4h0M475.3 182.4h0M483.1 184.1h0M474.1 181.5h0M485.7 179.6h0M483.7 187h0M476.6 187.6h0M479.3 190h0M475.5 184h0M478 189.8h0M476.2 187.9h0M475.9 188.5h0M484.5 181.3h0M475.3 183.4h0M482.4 185.4h0M482.9 187h0M479.6 189.7h0M476.7 187.4h0M483.5 185h0M478.6 189.7h0M481.5 188h0M483.7 180.8h0M477.9 189.2h0M482.8 184.3h0M484.4 182.7h0M472 179.5h0M479.3 189.9h0M477.2 187.5h0M473.6 178.8h0M476.4 186.1h0M482.3 186.9h0M478 188.9h0M479.4 190.4h0M475.2 183.6h0M479.1 190.4h0M478 189.3h0M481.5 187.3h0M477.3 188.1h0M480.6 189.5h0M475.3 181.8h0M478.2 190.1h0M485.8 180h0M476.9 188.4h0M478 189.9h0M476.1 186h0M480 189.9h0M480.5 189.5h0M477.7 189.8h0M481.5 188.8h0M486.7 180.1h0M481.9 187h0M484.7 179.1h0M481.3 187.7h0M478.2 189.9h0M479 190h0M475.7 185.3h0M484.7 182.5h0M480 190.1h0M478.1 188.9h0M487.2 175.5h0M485.7 176.1h0M485.9 182.3h0M475.3 186.1h0M476 183.9h0M476.1 186.7h0M477.3 189.1h0M485 177.8h0M484.4 182.5h0M481.3 188.2h0M480.2 190.3h0M484.8 180.7h0M479.2 190.3h0M471.7 181h0M475.4 184.4h0M481.8 186.9h0M477.1 187.4h0M479.7 190.8h0M474.9 179.5h0M482 186.6h0M473.4 183.9h0M475.6 182.2h0M484.2 183.4h0M482.4 186.2h0M476.9 186.4h0M474.9 178.5h0M480.7 189.6h0M475.3 185.1h0M484.4 179.7h0M476.8 187.7h0M483.5 183.1h0M473.8 176.7h0M480.9 189.7h0M483.5 185.3h0M479.2 190.7h0M472 180.8h0M485.4 183.3h0M474.7 179.6h0M473 178.7h0M483 184.5h0M484.3 187.5h0M483.9 180.1h0M475.3 187.8h0M475.2 183.2h0M485.3 184.6h0M480.7 189.5h0M474.7 185.9h0M476.7 188.7h0M478.2 189.4h0M476.8 188.1h0M477.8 189.4h0M480.5 189.9h0M477.2 187.2h0M473.7 176.5h0M478.6 189.6h0M485.3 186.7h0M478.2 189.9h0M483.4 183.2h0M483.4 188h0M485.4 184.2h0M474.8 180.7h0M480.5 189.9h0M478 190h0M479.3 189.8h0M482.3 187.7h0M480.1 189.8h0M486.6 168.3h0M477 188h0M476.6 187.9h0M475.4 184h0M484 183.9h0M473.8 185.8h0M482.2 186.3h0M486.1 171.5h0M482.2 188.3h0M484 184.3h0M482.8 186.4h0M480.7 189.6h0M479.8 190.1h0M484.9 178.8h0M478.2 189.5h0M477 187.4h0M487 171.1h0M478.5 190.4h0M483.2 186.6h0M481.9 187h0M484.7 181.7h0M477.6 189.5h0M478.4 189.9h0M475.1 180.8h0M478.3 189.1h0M478 190h0M474.3 176h0M474.3 179h0M481.4 188.1h0M479 190h0M479.2 190.4h0M480.7 189.2h0M473.4 178.2h0M473.6 184.2h0M481.5 188.8h0M479.3 190.8h0M477.3 187.3h0M475.8 187.6h0M473.2 182.9h0M474.2 179.5h0M483 186.2h0M477.6 188.5h0M481.1 188.4h0M477 187.7h0M485.5 178.7h0M480.7 189.3h0M485.6 173.1h0M476.6 187.3h0M480 190h0M476.8 188.5h0M476.2 186.9h0M477.5 189.2h0M475 182.4h0M485.8 177h0M474.5 182.7h0M473.8 172.6h0M476.2 187h0M478.1 189.7h0M475.5 182.9h0M475.5 187.6h0M477.5 187.7h0M472.9 173.8h0M485.9 171.5h0M477.6 188.6h0M475.3 182h0M479.8 190.8h0M475.6 188h0M477.1 187.7h0M472.4 173.1h0M480.5 190.3h0M480.4 190.3h0M475.5 184.2h0M477.2 187.4h0M477.6 188.4h0M476.7 187.9h0M485.3 181.7h0M472.2 175h0M486.6 175.6h0M480.4 190.1h0M479.4 190.4h0M482.6 187.6h0M478.5 189.8h0M484.1 179.5h0M485.6 169.8h0M476.9 187.4h0M484.1 183.8h0M480.5 189.9h0M475.4 184.9h0M477.7 188.7h0M474.6 184.4h0M477.3 187.2h0M478.3 189h0M477.6 189.5h0M476.8 185.9h0M478.3 189.8h0M480.9 188.9h0M478 190h0M480.9 188.7h0M481 189.9h0M474.2 180h0M478.6 190.3h0M477.8 188.9h0M473.7 185.2h0M480.1 190.6h0M477.9 188.6h0M484.5 177h0M477.4 187.3h0M486.2 169.7h0M480.3 189.9h0M483.1 187.7h0M481 188.7h0M479.7 190.1h0M478.6 190.5h0M483.8 180.1h0M482.5 187.5h0M474.4 182.5h0M480.4 190.2h0M473.4 179.2h0M475.9 184.6h0M475.4 181.7h0M480.7 190h0M482.1 187.5h0M483.1 184.3h0M477.4 187.9h0M483.2 186.6h0M475.1 180.2h0M478.9 190.5h0M480 190.4h0M484.4 179.4h0M474.8 181.8h0M484.2 184.7h0M480.7 188.9h0M485.4 179.8h0M477.7 188.2h0M487.1 165.1h0M486.3 173.9h0M480.1 190.7h0M482.3 188.2h0M477.9 188.2h0M476.2 186.9h0M482.4 186.2h0M478.2 188.7h0M480.6 189.5h0M482.4 185.6h0M477.4 188.4h0M477.5 188.9h0M481.6 187.3h0M482.8 186.9h0M481.1 189.9h0M478.2 190h0M482.9 185.9h0M477.6 187.7h0M483.1 188h0M481.5 188.8h0M480.4 190h0M482.3 186.9h0M483.9 184.8h0M483.6 184.2h0M474 186.6h0M480 190.8h0M473.7 183.4h0M483.9 185.6h0M483.5 182.2h0M480 190.2h0M475.8 187.1h0M474.2 187h0M478.9 190.4h0M481.1 188.8h0M475 181.8h0M484.3 183.7h0M473.3 178.4h0M477.9 188.3h0M480.9 188.7h0M482 187.5h0M477.2 186.8h0M478.6 189.8h0M482.9 187.3h0M476.6 185.4h0M477.8 189.3h0M486.7 171.8h0M484.6 181h0M485.7 177.9h0M476.2 188.9h0M474.9 181.8h0M479.6 190.2h0M477.1 187.8h0M480.1 190.2h0M478.3 190.2h0M484.4 184h0M485.1 180h0M475.6 184.2h0M485.8 174.7h0M477.3 188.6h0M483.2 186.1h0M473.7 183.1h0M481.9 187.1h0M477.8 188.4h0M482.2 186.4h0M480.6 189.2h0M476.1 186.9h0M480 190.8h0M474.2 176.9h0M479.1 190.1h0M478.1 188.6h0M477.1 186.8h0M478.1 189h0M482.9 184.9h0M487.6 177h0M478.7 189.9h0M483.7 181.8h0M482.1 187.3h0M476.6 187.5h0M482.9 184.8h0M480 190.5h0M473.8 176.3h0M474.5 183.6h0M479 190.6h0M474.2 175.4h0M472.4 173.5h0M473.9 181.9h0M477.1 188.3h0M478.2 189.4h0M486.4 184.3h0M484.2 182.5h0M474 176.7h0M479.5 190.2h0M483.4 186.4h0M478.5 190.4h0M481.4 188.8h0M477.1 187.5h0M474.4 184h0M482.5 186.8h0M482.4 187.3h0M478.7 190h0M480.1 190h0M472.2 153h0M479.4 189.7h0M479.7 190.8h0M477.5 188.3h0M478.2 189.1h0M475.3 182.7h0M477.8 188.9h0M473.3 183.6h0M481.8 187.1h0M481.6 188.9h0M480.3 190h0M476.7 187.4h0M480.7 189.5h0M479.3 190.1h0M473.6 175.2h0M478.2 189h0M478.3 190.1h0M485.7 186.1h0M481.7 189.3h0M474.5 185.8h0M483.6 181h0M483.5 183.7h0M474.1 182.3h0M482.4 187.7h0M479.2 190.6h0M484.1 183.3h0M474.3 181.8h0M482.9 184.9h0M476.6 186.2h0M474.3 181.1h0M481.3 188.8h0M476.3 186.7h0M486.9 172.2h0M480.4 190h0M473.2 167.4h0M478 189.3h0M475 184.5h0M477.2 187.6h0M476.5 186.2h0M474.1 183.4h0M480.4 189.5h0M472.4 172.6h0M479.2 190.4h0M478.5 189.5h0M479 190.5h0M487.5 164.6h0M483.7 187.4h0M474.1 176.2h0M473.5 173.6h0M484.4 179.1h0M479.3 190.6h0M474.8 185.9h0M480.5 189.6h0M474.5 176.6h0M478.4 189.6h0M477 186.9h0M475.4 184.6h0M484.3 182.1h0M485.7 174.4h0M479.1 190h0M483.9 181.7h0M481.7 187.6h0M482.2 188.1h0M474.5 182.7h0M478.3 189.6h0M479.2 190.1h0M482.5 185.5h0M483.5 181.6h0M479.5 190.9h0M483.1 187.9h0M482.1 188.2h0M480.1 190.7h0M484.3 184.8h0M476.9 188h0M482.4 187h0M476.7 187.8h0M483.3 184.6h0M480.2 190h0M483.6 186.7h0M484.7 181.3h0M478.3 189.6h0M485.5 173.8h0M482.1 186.9h0M484.3 184.8h0M471.6 172.7h0M476.8 186.5h0M482.6 188.6h0M478.8 189.9h0M477.5 188.4h0M477.3 189.4h0M478.2 189.6h0M478.7 190.5h0M480.7 190h0M478.3 189.2h0M476.6 187.8h0M485.3 177.2h0M476.1 187.3h0M483.8 185h0M479.4 190.6h0M480.5 189.6h0M479.2 189.9h0M482.3 187.2h0M474.5 177.4h0M479.1 190h0M473.4 172.9h0M473.6 177.5h0M474.6 181.4h0M482.5 186.9h0M472.5 161.1h0M478.2 189.8h0M484.4 187.1h0M480.2 189.9h0M476 187.5h0M476.2 184.9h0M484 181.1h0M473.6 172.6h0M483.9 179.3h0M474 185.7h0M479.8 190.2h0M474.5 177.8h0M479 190.2h0M481.8 186.8h0M479.4 191.1h0M482.9 185.4h0M484.1 186.3h0M474.3 181.1h0M480.1 190.1h0M471.8 175.9h0M482.3 186.6h0M480.8 189.3h0M485.7 178.7h0M472.3 184.8h0M475.7 186.6h0M477.3 189.3h0M476.1 185.1h0M476.6 185.8h0M476.1 185.1h0M479.6 191h0M477.5 187.8h0M482 189.3h0M482.5 188.1h0M481.9 188.3h0M478.9 190.5h0M474.2 175.4h0M473.5 185.5h0M474.3 176.8h0M477.3 188.8h0M478.7 190.1h0M475.9 183.3h0M479.8 189.8h0M484.2 180.7h0M482.9 187.3h0M481 189.5h0M484.5 176.3h0M485.7 175.7h0M474.2 186.3h0M484.2 187.3h0M485 181.6h0M478.9 190.6h0M472.4 178.4h0M479.5 190.7h0M482.9 188.2h0M480.5 190.2h0M478.4 189.7h0M484 180.8h0M472.8 165.7h0M482.9 187.7h0M480.3 190.6h0M480.9 188.8h0M477.7 189.7h0M481.2 188.3h0M471.8 183h0M483.1 187.2h0M482.6 188.3h0M482 188.7h0M487.4 175.4h0M474 184.4h0M478.3 189.4h0M473.8 179h0M479.2 190.9h0M476.7 187.6h0M477 189.4h0M485.4 179.5h0M474.5 180.8h0M482.4 187.4h0M478.4 189.4h0M486 177.9h0M476.9 186.7h0M475.4 186.3h0M478.3 189.1h0M474.4 176.1h0M485.5 170.6h0M484 179.1h0M472.3 179.3h0M473.4 183.1h0M483.7 181.5h0M487 172.4h0M482.6 187.3h0M476.5 187h0M477.2 187h0M484 183.9h0M479.1 190h0M483.7 186.1h0M474.6 187.7h0M477.7 189.9h0M484.7 183.3h0M479.6 189.7h0M478.1 189h0M477.9 189.5h0M480.6 189.3h0M485.1 181.7h0M477.1 188.1h0M475.8 185.6h0M478.2 189h0M476.4 185h0M481.8 188.9h0M487.2 183.1h0M476.3 185.6h0M481.4 188.4h0M472.6 183.3h0M480.8 189.5h0M480.4 189.6h0M476.6 185.6h0M472.8 174.9h0M485.8 185.7h0M484.9 183.3h0M482.9 188.3h0M480.1 190.1h0M485 175.8h0M485.2 181h0M485.8 170.5h0M485.4 176.6h0M473.8 176.5h0M484.2 179.7h0M478.8 190h0M478.7 190.1h0M479.7 190.6h0M473.9 179.2h0M475.4 187.5h0M484.9 177.8h0M485.3 171.8h0M477.9 189h0M485.7 170.2h0M485.3 179.5h0M476.3 186.5h0M485.1 185.4h0M481.2 188.5h0M481.4 188.7h0M482.2 187h0M480 190.4h0M473.2 177.5h0M482.6 188.9h0M476.9 186.4h0M476.4 188.2h0M479.8 189.8h0M479.5 190.1h0M477.4 189h0M472.1 182.7h0M482.1 186.2h0M477.9 188.4h0M482.3 188.6h0M481.4 188.5h0M473.5 182.1h0M481.7 187.2h0M481.6 189.4h0M487.5 143.6h0M475.7 183.9h0M476.1 184.3h0M480 190.2h0M477.9 189.7h0M475.4 181.7h0M479.6 190.6h0M486.8 177.7h0M479.1 190.4h0M483.8 186.7h0M482.4 185.8h0M481.5 188.4h0M476.1 186.7h0M475.2 186h0M487.3 177.8h0M478.2 189.2h0M473 167.3h0M474.9 179.3h0M485.3 176.3h0M478.4 189.8h0M474.8 180.9h0M482.4 187.4h0M472.8 164.7h0M482.7 185.9h0M474.7 184.4h0M478.4 189.4h0M481.9 186.6h0M477.7 189.5h0M484.8 184.7h0M471.6 179.8h0M479.2 190.6h0M483.4 184.8h0M475.7 186.9h0M478 189.5h0M485.4 174.4h0M481.1 188.5h0M477.8 189.6h0M482.9 188.2h0M481.6 189.7h0M471.9 165.6h0M478.8 190.2h0M480.9 189.5h0M484.9 175.1h0M478.6 189.5h0M476.8 186.4h0M478.1 190h0M477 189h0M478.6 190h0M473.7 172.3h0M479.9 190.3h0M481 189.7h0M473.6 177.6h0M478.4 189.4h0M476.7 186.2h0M480.6 190.1h0M480.9 188.5h0M477.2 188.1h0M485.3 177.5h0M477.6 189h0M485.4 187h0M477.1 186.7h0M478.7 190.6h0M478.4 189.6h0M476.5 186.7h0M474.3 184.2h0M475.2 181.9h0M480.5 190.3h0M482 187.6h0M482.4 186.6h0M479.8 189.9h0M477 186.8h0M481.8 186.8h0M483.7 181.3h0M483.2 187.6h0M478 189.7h0M481 188.5h0M476.5 187.4h0M480 190.5h0M474 176.1h0M472.1 167.5h0M474 180.2h0M480.6 189.4h0M478.3 189.4h0M474.5 185.3h0M485 181.3h0M481.1 190h0M484.9 175h0M482.4 185.8h0M484.5 182.7h0M480.5 190.1h0M484.5 177.6h0M485.4 179.7h0M480.7 190.3h0M481.9 187h0M480.6 189.3h0M482.7 187.1h0M481.4 188h0M479.1 190.3h0M474.6 183h0M481.3 189.2h0M484.3 180.8h0M476 187.6h0M483.4 183h0M479.3 190.8h0M477.5 187.6h0M485.4 174.8h0M483 184.1h0M477.6 189.1h0M479.4 190.6h0M486.3 168.7h0M483.4 183.2h0M481.4 188.9h0M479.8 190.9h0M481.6 188.5h0M473.9 178.3h0M477.8 189.3h0M480.4 190.1h0M473.9 182.2h0M479.8 190.9h0M478.1 189.9h0M484.2 187.3h0M478.4 189.2h0M479.6 190.5h0M472.9 185.3h0M481.9 189h0M481.1 188.9h0M472.3 172.2h0M479.6 190h0M472.7 162.1h0M478.2 189.4h0M472.1 164.3h0M477.9 188.4h0M482.6 186.1h0M472.2 182.9h0M474 173.9h0M480.4 190.3h0M476.5 185.9h0M478.3 189.5h0M479 189.8h0M474.6 187.5h0M481 188.5h0M480.3 190.5h0M474.9 180.7h0M479.3 189.8h0M477.5 188.3h0M486 176.9h0M480.9 190h0M484 184.8h0M483.9 181.6h0M483.5 184.8h0M482.8 186.3h0M472.3 155.5h0M482.6 185.1h0M481.5 189h0M475.8 185.5h0M474.6 183h0M482 188.5h0M479.8 190h0M480.4 190.2h0M478.1 189.6h0M482.3 188h0M477.9 189h0M479.3 190.3h0M478.6 189.7h0M486.5 174h0M477.4 187.3h0M477 188.5h0M481.7 187.1h0M474.5 177.6h0M482.7 188.4h0M472.7 165.6h0M480.4 190.4h0M478 188.8h0M480.4 189.4h0M482.3 186.5h0M477.6 188.2h0M474.3 186.1h0M474 183.6h0M482.1 187.2h0M479.9 190.4h0M479.8 190.6h0M480.1 190.3h0M483.6 182.9h0M486.9 184.4h0M475 179.7h0M473.6 179.9h0M487.2 181.9h0M483.2 184.3h0M486.8 163.3h0M474.9 178.8h0M486.2 172.2h0M487.5 155.1h0M480.2 190h0M479.1 189.9h0M479.9 190.1h0M478.8 189.7h0M482.4 187.3h0M484.6 182.4h0M479.9 189.7h0M475.8 184.4h0M482.3 188.6h0M477.5 189.4h0M485 178.4h0M484.3 183.3h0M483.3 184.8h0M479 190.5h0M484.4 177.8h0M479.9 190.5h0M472.5 175.7h0M480 190.2h0M484.4 183.7h0M481.6 187.5h0M480.6 189.5h0M485.9 184.6h0M472.4 180.1h0M479.4 189.7h0M480 190.1h0M476.1 185.6h0M477 186.5h0M477.6 188.5h0M477.6 188.8h0M483.2 186.4h0M475.5 183.3h0M476.3 184.9h0M478.8 189.8h0M479.3 190.9h0M477.5 189.4h0M478.4 189.1h0M485.9 173h0M486.1 186.5h0M480 189.8h0M477.5 187.8h0M473.2 185.6h0M479.6 190.1h0M481.2 189.6h0M477.9 189.2h0M480.5 189.9h0M476.7 187.6h0M480.2 190.4h0M474 187.3h0M477.3 187h0M477.7 189.5h0M478.4 190.3h0M474.3 183.6h0M480.1 190.7h0M482.7 186.4h0M474.6 177.5h0M482.2 188h0M482.8 188.1h0M473.2 185.5h0M472 182.6h0M478.3 189.2h0M475.5 182.1h0M478.9 190.5h0M475.2 180h0M483.9 187.4h0M481.5 187.7h0M478 189.4h0M481.4 189.2h0M482.8 186.2h0M485.4 173.6h0M481.7 188.8h0M481.4 188.8h0M475.6 182.9h0M486.9 164.8h0M479.7 189.8h0M478.1 189.7h0M475.6 184.8h0M478.1 189.9h0M482.3 185.8h0M480.4 189.6h0M483.7 180.3h0M475.6 186.8h0M477.4 189h0M482.5 188.5h0M479.6 190h0M474.3 185.4h0M475.4 183.1h0M481.5 188.2h0M481.9 187.5h0M482.9 187.8h0M478.4 189.7h0M482.5 188.8h0M485.4 173.2h0M473 173.5h0M473.7 174.3h0M480.9 189.5h0M475.7 187.9h0M480.1 189.7h0M473 177.7h0M484.4 177.3h0M480 189.8h0M478.4 190.3h0M487.4 153.8h0M476.3 186h0M479.4 191h0M477.2 188.2h0M480.1 189.9h0M478.7 190.2h0M477.7 188.1h0M480.2 190.1h0M476.8 187.4h0M481.3 189.7h0M481.2 189h0M481.1 189.7h0M483.2 183.3h0M477.7 188.5h0M474.5 186.7h0M473 180.1h0M484.2 178.5h0M475.7 188h0M477.1 187.6h0M486.7 176.7h0M479.8 190.9h0M480.5 189.5h0M481.8 189.5h0M477.1 187.6h0M479.7 189.8h0M475.7 183.7h0M476.5 187.8h0M485.4 171.5h0M473.1 165.4h0M479.1 190.5h0M480.7 189.3h0M480.6 190h0M485.4 183.6h0M479.6 190.5h0M474.9 178.7h0M484.7 175.4h0M474 181.8h0M474.2 181.5h0M475.6 183.6h0M477.6 187.9h0M478.7 190.6h0M475.4 185h0M484 182.3h0M478.6 189.9h0M475.5 187h0M478.1 189.4h0M477.5 188.3h0M480.1 190.5h0M477.1 188.5h0M480.6 190.3h0M483.1 185.3h0M483.4 184h0M475.8 185.5h0M476.4 185.8h0M481.5 188.2h0M478.2 189.7h0M475.2 181.7h0M483.9 181.2h0M485.2 172.8h0M480 190.1h0M477.7 189.8h0M481.1 188.8h0M477.9 188.5h0M471.6 164h0M473 171.8h0M474.5 180.6h0M484.2 178.2h0M476 185.9h0M479.9 190.4h0M485.6 182h0M478.7 190h0M476.1 183.9h0M485.6 186.6h0M477.7 188.8h0M475.3 186.4h0M474.6 183h0M483.7 186.8h0M473.2 173.2h0M477.9 188.5h0M475.3 180.8h0M476.5 186.4h0M478.5 189.5h0M486.7 183.3h0M475.5 185.7h0M474.1 184.4h0M480.2 190.2h0M485.7 173.8h0M478.5 189.8h0M480.8 189.3h0M477.2 187.5h0M483.3 185.2h0M477.7 188h0M475.4 185.8h0M483.8 184.2h0M475 182h0M472.3 165.3h0M478.5 189.5h0M481.4 187.9h0M479.7 190.6h0M483 185.7h0M480.2 189.9h0M483 188.6h0M479.9 190.8h0M476.8 185.9h0M485.7 172.9h0M484.2 178.4h0M473.4 173h0M479.9 190.3h0M485.1 184.9h0M485.4 182.5h0M476.5 186.7h0M481.1 188.9h0M475.1 186.9h0M479.7 190.3h0M483.2 184.2h0M480.8 189.3h0M479.6 190.5h0M485.9 173.8h0M479.4 190.8h0M486.7 180.9h0M483.7 187.7h0M485.8 181.2h0M483.2 186.7h0M480.2 190.5h0M473.2 171.6h0M475 182.3h0M475.1 181.6h0M484.8 183.2h0M480 190.6h0M476.8 187.3h0M482.5 187.7h0M485.1 179.8h0M480.3 190.2h0M472.8 181.6h0M474.1 181.3h0M478.6 189.8h0M479.8 190h0M479.4 190.7h0M485.4 176.3h0M471.5 163.5h0M483.2 184.9h0M484.8 183.2h0M483.6 185.4h0M477.4 187.9h0M482.5 188.3h0M482.3 189.1h0M478.9 190h0M480.2 190h0M482.3 188.8h0M480.6 189.4h0M480.2 189.9h0M486.4 167.5h0M480.4 190.3h0M481.5 188.4h0M474.2 178.6h0M475.9 185.1h0M475.9 183.8h0M474.8 181.8h0M484.2 180.5h0M475.4 187.1h0M478.1 189h0M479.6 190.3h0M479.8 190h0M484.4 177.8h0M477.4 188.4h0M484.1 183.2h0M472.9 167h0M472.3 160.9h0M473.5 174.7h0M481.5 188.8h0M482.4 186.8h0M474.2 180h0M478.9 190.4h0M480.1 190.2h0M482.5 185.4h0M478.6 189.4h0M480.7 190.3h0M475 179.6h0M483.9 179.6h0M481.5 188h0M484.4 185h0M476.9 187.9h0M479.4 190.3h0M481.5 188.1h0M475.1 186.3h0M479.4 190.2h0M481.5 188.2h0M478.1 188.6h0M473.6 174.6h0M474.6 185h0M477.6 188.3h0M483.5 184.5h0M482.2 186.9h0M484 185h0M473.7 178.8h0M474.2 179.3h0M480.6 190.1h0M479.4 191.1h0M482.4 186.8h0M479 189.8h0M473.6 176.4h0M476.9 186.4h0M475.5 185.4h0M481.9 186.6h0M475.9 184.7h0M483.6 186.7h0M475.3 184.8h0M483.2 185.9h0M482.6 188.4h0M484.5 178.4h0M474 180.2h0M486.8 153.1h0M476.4 185.2h0M484.9 178.6h0M477 189h0M476.1 185.5h0M483.4 188.3h0M479.6 190.4h0M477.2 188.1h0M484 186.1h0M475.1 179.4h0M475.5 184.6h0M478.8 189.8h0M484.4 183h0M479.8 190.1h0M475.1 183h0M476.4 188.4h0M471.4 181.4h0M481.7 189h0M483.9 184.8h0M480.5 189.8h0M480.4 189.7h0M480.9 188.9h0M481.7 189.3h0M483.8 185h0M484.7 177.5h0M472.5 172.3h0M479.2 190.9h0M482 186.8h0M474.3 185.5h0M472.9 181.1h0M482.5 188.6h0M474.1 174.2h0M476.9 187.2h0M476 185.1h0M480 190.3h0M478.8 190.3h0M478 189.8h0M480 190.4h0M472.9 166.3h0M478 190.2h0M485.1 185.8h0M482.9 184.5h0M475.7 184.7h0M478.4 189.7h0M477 187.4h0M472.4 173h0M484.1 181.3h0M481.2 188.9h0M486 172.6h0M483.6 182.7h0M481 189.8h0M482.2 186.9h0M478.5 189.3h0M475.1 181h0M483.3 188.2h0M475 182.2h0M480.4 189.7h0M483.9 181.5h0M474.2 185.8h0M473.5 182.7h0M479.1 190.6h0M481.4 189.7h0M472.8 168.8h0M477.4 187.2h0M476.5 188.1h0M473.1 181.3h0M479.2 190.5h0M480.9 190.1h0M482.7 185.8h0M477.3 187.1h0M475.7 185.3h0M483.1 184.9h0M481.5 187.8h0M478.7 189.9h0M481.6 187.8h0M477.2 187.3h0M477.8 189.5h0M481.9 187.5h0M471.8 180.8h0M473.3 183.3h0M486.6 184h0M485.4 176h0M479.8 189.9h0M481.9 187h0M478.3 189.2h0M475.7 188.4h0M481.9 186.7h0M484 187.4h0M484.5 178.5h0M485.8 183.9h0M475.4 182.5h0M473 168.1h0M485.9 175.1h0M478.6 189.7h0M481.3 187.8h0M472 173h0M472.3 172.1h0M487.2 158.4h0M480.9 189.2h0M477.9 189.6h0M476.4 187.8h0M474.1 182.7h0M473.4 174.9h0M486.7 173.2h0M483 184.8h0M484.7 186.1h0M478.2 189.7h0M485.8 184.8h0M480.1 190.7h0M473.3 174.6h0M474.6 186.5h0M473 177.3h0M476.9 188.4h0M483.2 185.9h0M485 178.3h0M477.4 188h0M475.4 185.7h0M479.4 190.2h0M475.6 183.2h0M481.7 187.2h0M472.7 159.6h0M476.6 186.5h0M483 187.7h0M480.6 189.4h0M481.8 188.3h0M474.5 181h0M476.8 188.9h0M483.8 186.8h0M482.9 188.7h0M476 183.7h0M472.2 168h0M486.3 182.7h0M480.9 190.1h0M484.1 181h0M476.9 188.9h0M481.7 187.5h0M480.7 189h0M485.7 184h0M475.9 184.3h0M479.1 190.1h0M476.3 188h0M478.1 190h0M475.1 179.8h0M481.5 189.6h0M479.7 190.9h0M476.6 185.5h0M481 189h0M485.2 180.6h0M486.4 167.3h0M484.9 181.7h0M482.3 185.8h0M476.7 187.3h0M476.9 189.2h0M477.3 189.1h0M479.3 190.3h0M475.6 184.1h0M478.6 190.1h0M478.9 189.9h0M477.7 188.8h0M481.7 187.8h0M483.7 187h0M483 186.3h0M477.4 189.4h0M483.5 186.5h0M482.7 185.9h0M486.1 181.5h0M481 189.6h0M487.2 183.5h0M475.5 182.5h0M482 188.3h0M476.3 186.1h0M473.4 175.5h0M474.1 183.3h0M479.7 190.9h0M481.9 187.6h0M487.4 185h0M477.8 189h0M476.3 188.4h0M483.3 186.5h0M485.8 175.1h0M480.2 190.4h0M474 179.4h0M481.2 188.3h0M474.4 177.8h0M473.8 180.9h0M487.1 176.4h0M477 187.1h0M480.9 189.7h0M479.7 190.2h0M474.5 179h0M486.3 166.9h0M475.7 184.7h0M484.1 185.5h0M477.7 188.7h0M476 185.4h0M483.5 183.7h0M479.6 190.5h0M476.7 188.6h0M473.6 174.9h0M482 187.3h0M479.1 190.1h0M474.3 180.3h0M475 179h0M483.8 181.1h0M475 181.5h0M486.4 182.8h0M480.5 189.5h0M483.6 181.3h0M480.5 189.4h0M486.1 167.4h0M477.4 187.8h0M487.2 170.7h0M473.8 172.6h0M486.3 165.4h0M484 180.8h0M479 190.6h0M482.1 188.2h0M474.9 185.9h0M477.3 189.3h0M475.3 186.8h0M478.1 189.5h0M477.2 189.5h0M472.3 168h0M481.7 187.8h0M480.4 189.5h0M481.7 188.2h0M482.5 185.7h0M471.7 181.8h0M476.2 187.6h0M471.5 179.1h0M474.7 186.3h0M477.1 188.4h0M485 184h0M483.2 182.9h0M485.1 180.9h0M485.2 174.2h0M473 164.6h0M474.9 185.9h0M477.2 187.9h0M480.4 190.2h0M477.8 190h0M474.4 176.6h0M482.7 186.3h0M482.8 188.5h0M480.8 190h0M477.3 188.1h0M477.4 189.4h0M478.2 189.4h0M485.7 172.5h0M484.2 183.6h0M477.2 188.8h0M479.1 190.6h0M474 183.6h0M484.8 181h0M482 187.3h0M473.5 181h0M471.7 180h0M484.5 181.6h0M479.4 190.5h0M484.3 185h0M478 189.6h0M478.7 190.3h0M484.1 180.8h0M481.9 188.8h0M477.5 188.8h0M478.9 189.9h0M480.2 190.7h0M478.7 190.2h0M478.9 190.3h0M479.8 190.8h0M482.3 187.8h0M476.7 188.3h0M481.1 189h0M477.2 188.8h0M479.9 190h0M479 189.7h0M474.1 174.5h0M476.8 189h0M476.4 186.4h0M480.5 189.3h0M481.3 187.9h0M475.6 183.8h0M483.3 182.3h0M480.4 189.6h0M468.6 182h0M472.4 172.8h0M488.2 175.4h0M464.9 175h0M473.3 178.5h0M485 178.8h0M502.8 170.8h0M485 180.6h0M472.5 182.6h0M489.2 180.5h0M488.9 172.8h0M491.9 179.8h0M470.2 179.9h0M463.1 176.9h0M492.9 172.5h0M487.3 178.5h0M466.3 170.7h0M489.1 173.2h0M484.8 173.7h0M467.8 176.7h0M493.4 178.7h0M467.9 175.3h0M469.1 171.3h0M487.4 178.7h0M492 170.3h0M464.3 170.4h0M467.3 179.8h0M488.2 181.4h0M471.9 179.6h0M488.7 177.6h0M469 176h0M485 175.2h0M470.7 175.6h0M497.1 177.1h0M492.9 176.2h0M487.7 178.6h0M473.8 175.7h0M472.1 173.2h0M489.8 180.6h0M489 174.2h0M484.9 177.3h0M472.6 180.5h0M472.9 182.7h0M489.8 171.4h0M469.6 171.5h0M472.7 177.8h0M469.1 177.1h0M486.8 180h0M468.7 173.8h0M474.3 182.3h0M487.1 171.2h0M493.1 177.7h0M493.1 176.4h0M469.5 173.6h0M487 170.4h0M486.4 170.3h0M490.9 175.1h0M471.7 179h0M486.1 173.8h0M485.4 176.4h0M466.4 173h0M473.1 176.2h0M488.5 182.9h0M485.4 178.7h0M486 183.3h0M500.3 170.3h0M473.5 181.1h0M474.2 183.1h0M464.6 175.7h0M466.2 172.7h0M489.1 170.9h0M484.8 178.6h0M467.9 175.1h0M466.9 177.7h0M463.7 179.1h0M471.3 171.8h0M486.7 178.8h0M490.3 172.1h0M461.7 176.3h0M487.4 172.5h0M470.4 172.9h0M470.5 173.6h0M465 177.6h0M491.1 171.9h0M494.6 172h0M485.6 174.3h0M473.4 171.3h0M494 170.7h0M491 174.4h0M471.2 176.9h0M494.5 175.6h0M474.1 173.4h0M491.4 170.7h0M489.4 176.4h0M494.2 174.1h0M474.1 182.6h0M493.5 179.9h0M487.2 177.5h0M464.1 176.2h0M472 172.8h0M473.9 177.4h0M487.9 175.1h0M471.6 175.7h0M468.3 178.7h0M486.4 170.8h0M495.7 170.5h0M471.9 173h0M500.6 172.4h0M468.3 173.7h0M489.1 176.3h0M466.5 177.7h0M486.3 170.7h0M487.8 170.6h0M464.1 173.9h0M487.1 182.5h0M487.8 176h0M470.3 180.1h0M490.6 174.9h0M488.3 176.8h0M469.6 181.9h0M486.2 175.1h0M492.2 170.6h0M469.3 175.2h0M491.5 178.3h0M489.3 178.4h0M470.2 170.5h0M488 178.1h0M490.2 174.2h0M471.3 177.5h0M470.1 178.4h0M473 183.3h0M497.3 171.1h0M469.4 175.2h0M485.7 177.2h0M470.1 170.4h0M470.2 174.5h0M497.1 171.2h0M496.8 172.2h0M491.8 175.5h0M470.6 174.1h0M462.8 173.7h0M491.3 173.2h0M488.4 178.5h0M473.3 179.3h0M486.4 175.3h0M468.9 173.6h0M471.7 176.9h0M473.1 173.1h0M463.2 177.8h0M473 182.1h0M472.1 180.8h0M470.3 175.1h0M489.7 172.4h0M467.9 171.8h0M490 180.3h0M487.9 173.7h0M501.4 173.1h0M488 170.6h0M486.2 174.5h0M486.9 181.6h0M471.2 174.9h0M499 175.4h0M473.9 176.7h0M500.4 172.7h0M474.1 181.5h0M471.9 183.6h0M487.1 175.6h0M486.6 176.5h0M485.8 176.1h0M489.2 172.8h0M486 170.9h0M486.6 177.2h0M485.9 171.8h0M488.8 174.3h0M487.7 181.2h0M491.5 171.5h0M473.7 177h0M471.8 170.9h0M495.3 178h0M490.9 171.7h0M494.9 171.9h0M491.1 174.7h0M496.7 171.2h0M472.9 172.8h0M488.3 178.2h0M487.2 175.3h0M492.1 173.2h0M485.9 180.3h0M487.6 175.8h0M486.5 175.9h0M490 181.8h0M489.3 176.8h0M472.3 184.6h0M486.1 173.2h0M472 171.5h0M486.1 175.3h0M492.9 176.3h0M469.1 173.2h0M486 175.5h0M474.2 180.4h0M486.2 172.8h0M473.5 173.8h0M473.9 185.6h0M463.2 173.3h0M487.4 175.1h0M469.5 172.7h0M495.9 171.7h0M486.6 178.9h0M469 181.1h0M487.6 174.6h0M497 173.5h0M472.7 171.5h0M488.8 176.3h0M470 175.1h0M487.9 178.9h0M486.3 183.1h0M484.9 176h0M497 174.7h0M488.9 178.1h0M472.4 171.1h0M485 172.8h0M472.7 174.4h0M488.4 178.6h0M490.2 171.7h0M489.1 174.7h0M470.9 171.6h0M471.6 177.1h0M469.8 175.1h0M469.5 175.1h0M472.7 177.9h0M491.4 171.8h0M473.7 179.1h0M473.7 171.7h0M473.5 180.9h0M468.8 181.9h0M485.8 171.9h0M484.8 179.5h0M497 170.9h0M474.3 173.9h0M490.2 172.5h0M485.4 180.3h0M473.6 178.2h0M471.5 181h0M472 172.6h0M493.9 171.5h0M488.8 176.2h0M497.4 174.3h0M474 171.9h0M468.3 179.6h0M471 176.1h0M485.6 172h0M467.1 172.5h0M488.9 178h0M471.4 172.5h0M487.2 182.5h0M486 185h0M487.2 171.5h0M506.6 171.2h0M472 179.6h0M472 184.4h0M490.6 172.8h0M472.8 172.9h0M488.5 178.5h0M497.5 175h0M497.2 173.6h0M470.3 177.4h0M468.8 176.5h0M473.8 172.1h0M467.8 175.2h0M474.1 175.5h0M471.6 173h0M470.7 172.6h0M485.4 176.1h0M473.4 176.9h0M474.2 174.3h0M487.1 173.6h0M486.5 181.4h0M496.2 170.3h0M468.1 173.1h0M473.4 182.1h0M474.2 177.8h0M497.8 172.3h0M485.1 177.5h0M488 174.8h0M487 172.1h0M485.8 181.3h0M463.7 174.5h0M487.1 171.5h0M468.4 179.9h0M473.3 173.3h0M484.9 175.9h0M496.1 176.2h0M471.3 183h0M486.6 172.8h0M485.9 178.1h0M485.9 173.1h0M488.7 180.7h0M486.5 176.6h0M467.3 175.5h0M472.8 180.9h0M466.6 172.5h0M491.4 176.6h0M467.3 171.9h0M497.8 173.3h0M471.2 170.8h0M488.5 174.9h0M494.4 171.3h0M491.1 174.6h0M485.4 171.3h0M467.6 174.1h0M486.7 178.5h0M487.2 177.8h0M485.1 182.8h0M470.1 179h0M487.1 176.2h0M491.8 170.8h0M470.3 175.3h0M471.9 182.7h0M493.6 172.8h0M493.8 179.2h0M485.7 179.3h0M489.7 173h0M470.6 182.3h0M485.2 182.7h0M486.5 181.5h0M472 176.3h0M473.3 176.3h0M488.2 171h0M486.6 174.4h0M488.3 174.1h0M462.8 170.4h0M465.6 172.7h0M473.2 181h0M471.3 183.8h0M473.5 179.8h0M473.2 172.2h0M492.9 175.6h0M490.7 172.8h0M490.5 179.2h0M492.6 178.4h0M485.3 175.3h0M487 170.5h0M488.3 183h0M485.3 174.9h0M485.7 182h0M468.8 177.6h0M486.4 175.6h0M485.5 182h0M472.6 174.1h0M485.2 183.9h0M470.3 183.1h0M489.9 178.7h0M474.3 178.1h0M485.8 170.4h0M485.4 173.1h0M490.7 171.7h0M474.2 184.7h0M464.5 176.1h0M465.5 178.5h0M474.2 180.5h0M485.9 176.3h0M502.3 173.1h0M472 171.1h0M488.3 172.7h0M487.8 180.4h0M469.1 175.7h0M471 173h0M487 174.4h0M468.9 172.9h0M492.4 171.4h0M489.1 173.7h0M485 182.2h0M490 171.6h0M485.7 177.5h0M486.3 176.4h0M473.7 181.7h0M488.5 180h0M470 170.6h0M469.1 180.8h0M486.4 179.4h0M490.8 173.4h0M486.1 170.4h0M490.9 177.9h0M467.7 174.8h0M487.7 183.6h0M492.6 178.9h0M486.9 170.6h0M487.5 175.5h0M489 181.7h0M486.7 170.3h0M486.6 178.5h0M485.6 179.1h0M472 179.9h0M492.8 176.5h0M494.5 170.5h0M485.1 172.9h0M474.2 180.9h0M470.9 180.2h0M473 181.2h0M474.2 185.8h0M490.4 170.6h0M490.5 173.3h0M496.9 174.7h0M492.9 174h0M474 175.8h0M493.8 171.9h0M468.9 170.5h0M467.7 176.4h0M484.9 176.4h0M471.2 179.9h0M485.6 178.4h0M486.3 171.6h0M490.9 179h0M488.3 178h0M473 172.5h0M469.1 181.1h0M493.3 170.6h0M490.4 172.5h0M473.5 181h0M490.9 176.5h0M473.4 174.6h0M487.7 174.7h0M473.2 172.8h0M485.7 173.8h0M494.3 171h0M491.1 173.4h0M470.7 177.3h0M472.7 171.2h0M487.4 172h0M473.2 174.3h0M471.6 175.2h0M467.7 176h0M485.7 174.7h0M492.8 180h0M473.4 171.8h0M472 182.2h0M485.9 170.5h0M474.2 186.2h0M487.9 175.1h0M464.8 177.7h0M471.1 176.1h0M486.1 181h0M488.8 178.7h0M485.3 183.9h0M471.3 176.4h0M506.2 171.7h0M474.1 180.5h0M487.9 173.4h0M491 180.6h0M486.4 176.4h0M485.3 182.6h0M485 175.5h0M469.6 179.3h0M470.7 178.5h0M472.7 179h0M486.2 171.1h0M491.5 174.9h0M487 175.9h0M488.5 183.1h0M485.4 176.8h0M497.3 171h0M471.2 178.5h0M473.6 178.2h0M493.4 172.2h0M473.2 172.1h0M470.2 176.2h0M471 170.8h0M471.9 175.5h0M496.8 171.1h0M487.1 178.5h0M468.6 173.8h0M490.5 182.4h0M490.9 172.7h0M473 171.1h0M469.2 171.9h0M485.8 180.6h0M496.4 174.6h0M465 179.2h0M492.6 171.4h0M484.8 174.2h0M471.6 174h0M499.3 172.1h0M468.2 176.6h0M488.5 171.6h0M488.7 179.2h0M486.1 179.1h0M499.5 174h0M491.7 170.8h0M486.6 177.3h0M485.2 175.8h0M486.1 172.5h0M489 173.7h0M461.1 170.4h0M491.7 181h0M486.3 182h0M486.1 172.4h0M470.7 175.1h0M469.6 181.3h0M485.9 176.7h0M473.1 178.9h0M490.3 177.4h0M488.3 171h0M496.2 173.1h0M471.7 174.1h0M486 174.4h0M488.5 170.4h0M490.5 174.4h0M506.9 170.8h0M487.6 177h0M487.6 182.5h0M470.5 178.4h0M489.4 176.7h0M471.1 171.1h0M468.1 179.1h0M474.1 180.6h0M490.4 171.3h0M468.6 174.6h0M470.2 172.3h0M488 174.2h0M489 171.1h0M491.6 172.7h0M469.5 175.6h0M489.5 177.3h0M470.2 176.3h0M491.1 171.7h0M467.9 177.8h0M485.4 183.5h0M485.1 177.2h0M471.3 171.6h0M488.2 178.8h0M489.2 180.6h0M486.5 173.3h0M473 180.1h0M469.8 172.2h0M468.7 178.1h0M462.7 178.5h0M468.8 178.4h0M486.6 172.8h0M485.2 171.8h0M485.7 173.8h0M489.6 176h0M500.9 171.5h0M496.7 172.4h0M466.6 178.2h0M485.7 172.4h0M469.8 173.6h0M470.5 176.3h0M507 171h0M494.6 179.1h0M488.6 179h0M484.8 176h0M486.5 182.5h0M473 175.6h0M489.1 177.4h0M473.2 179.3h0M474 177.3h0M486.5 181.2h0M484.9 186.2h0M487.2 179.3h0M471.5 174.5h0M491.2 170.8h0M490.9 174.4h0M494.1 173.9h0M491.8 174.7h0M471.5 176.2h0M471.2 176.7h0M462.4 173.7h0M470 174.9h0M486.4 179.7h0M474.2 181.8h0M493.5 172.8h0M485.3 174.2h0M468.9 173h0M484.9 174.5h0M473.3 178h0M464.6 177.4h0M465.3 177.2h0M465.5 170.9h0M473.8 181.8h0M473.3 178.5h0M465 175h0M490.9 170.3h0M472.1 179.7h0M489.6 173h0M491.8 173.7h0M488.6 176.7h0M488.7 173.7h0M473.4 171.9h0M501.9 170.4h0M485 184.8h0M470.8 174.2h0M489.4 181h0M491.6 177.8h0M490.2 170.4h0M463.2 172.1h0M485.6 175.3h0M494.2 179.3h0M473.9 173.8h0M488.2 172.6h0M466 172h0M490 174.7h0M489.4 176h0M492.2 173.2h0M473.7 176.4h0M492.8 171h0M484.8 174.3h0M472.1 174.8h0M487.2 174.3h0M462.2 174.4h0M487.8 170.4h0M497.7 170.4h0M492.4 179h0M489.9 181h0M490.8 176.7h0M487.3 181h0M499.5 171.9h0M493.2 171.5h0M471.6 175.4h0M485.1 172.1h0M487.1 171.8h0M497.3 177.4h0M487.8 174.2h0M462.5 171.3h0M488 177.7h0M485.9 170.3h0M472.1 170.3h0M474.1 176.6h0M486.4 173.5h0M487 184.8h0M486.6 182.2h0M487.4 182.4h0M472.7 178.1h0M493.4 177.5h0M487.1 171.2h0M471 174.8h0M496.9 171.7h0M494.3 177.4h0M486.5 175.3h0M488.8 178.7h0M485.3 172.7h0M488.5 173.8h0M485.8 177.6h0M467.4 175.2h0M472.8 170.8h0M465.8 175.6h0M491.2 174.6h0M472.6 172.7h0M488.5 180.6h0M496 178.1h0M488.8 173.7h0M468.2 172.8h0M473.4 175.8h0M484.7 178.3h0M471 172.8h0M474.1 177.1h0M468.8 177.5h0M468.5 170.9h0M469.7 175.8h0M486.7 171.9h0M487.7 174.5h0M489.6 181.7h0M473.7 171.7h0M466.2 172.3h0M489.1 181.8h0M466.2 177.5h0M485.2 174.3h0M474 175.8h0M473.3 171.3h0M484.8 184.3h0M473.2 171.9h0M485.2 172.7h0M485.4 186h0M487.9 175.8h0M485.2 186.2h0M471.4 173.2h0M469.6 172.8h0M486 176.1h0M490 177.7h0M486.4 170.3h0M488 182h0M473.8 172.5h0M486.1 184.1h0M501 172.9h0M491.8 177.7h0M474.1 174.4h0M466 173.7h0M490.6 174.2h0M492.3 178.1h0M489.9 171.2h0M462.9 175.5h0M488.6 176.1h0M487.1 171h0M495.7 171h0M497.7 170.4h0M489.4 170.7h0M487.1 181.2h0M470 174.4h0M496.6 173.3h0M487.8 178h0M468.9 175.2h0M490 181.7h0M485.9 177.8h0M486 177.1h0M486.2 173.5h0M494.5 174.8h0M492.4 175.8h0M484.7 182.8h0M470.7 176.5h0M485.2 182.2h0M469.1 177.4h0M472.5 176.9h0M464.3 175.9h0M473.1 179.7h0M489 175h0M492.6 177.1h0M490.6 171.2h0M487 176.4h0M488.5 170.9h0M494 171.1h0M487 181.9h0M494.4 175.1h0M493.9 177.6h0M492.3 174.5h0M489.5 177.3h0M466 171.8h0M473.6 179.9h0M469 171.2h0M485 184.1h0M488.7 177.8h0M497.2 176.9h0M492.5 172.9h0M501.8 172.2h0M471.4 174.1h0M474 176.4h0M502.5 171.5h0M485.5 175.7h0M487 170.7h0M485.9 174.1h0M497.2 174.5h0M471.5 170.3h0M473.2 178.1h0M488 174.6h0M473.4 174.4h0M471.5 179h0M489.6 180.4h0M486.6 173.8h0M470.2 180.4h0M485 171.4h0M494.2 176.5h0M485.5 178h0M470.1 177.7h0M486.4 172.8h0M473.3 185.9h0M474.1 175.6h0M487.5 174.9h0M491.9 171.6h0M486.4 172h0M485.5 172.5h0M485.5 185.6h0M486.8 170.7h0M473.2 177.8h0M485.6 184h0M486.6 184h0M487.7 175.2h0M471.5 171.1h0M472.6 175.2h0M472.4 170.4h0M490.5 180.3h0M490.3 178.7h0M471.7 175.1h0M472.3 173.6h0M466.5 176.4h0M489.3 176h0M489.1 172.6h0M486 182.3h0M485.9 171h0M487.8 172.7h0M485.1 180.8h0M472 170.8h0M486.6 176.2h0M486.5 182.4h0M491.9 176h0M469.2 176.9h0M486.4 182.7h0M488.7 172.3h0M484.9 173.3h0M491.4 171.3h0M485.7 172.8h0M488.3 184.2h0M487.7 179.9h0M498.3 170.8h0M486.7 178.3h0M487.2 170.7h0M487.1 175.4h0M472.2 173.4h0M485.6 171.3h0M491.1 170.9h0M492.1 172.1h0M497.7 175.9h0M504.8 171.2h0M471.6 174.1h0M491.2 172.6h0M466.9 177.8h0M466.1 172.3h0M488.9 183.2h0M468.8 178.2h0M472.3 175.4h0M464.1 170.4h0M470.3 175.4h0M484.9 173.4h0M465.1 177.2h0M473.2 178.9h0M492.6 172.6h0M473.5 178.6h0M473.1 181.4h0M485.7 179.9h0M486 182.8h0M486.9 181.5h0M487.4 182.6h0M484.9 174.7h0M488 181h0M473.8 181.4h0M496 177.4h0M466.6 171.6h0M487.5 177.8h0M470.8 173.3h0M494.3 173.2h0M487.6 179.6h0M474 178.8h0M489.6 180.7h0M473.5 179.8h0M485.1 171h0M496.9 172.1h0M469.6 174.8h0M488.9 177.6h0M489.3 172.3h0M461.9 172.6h0M489 180h0M467 175.9h0M496.2 174h0M490.5 175.9h0M494.8 176.6h0M488.6 178.9h0M487.8 171h0M487.7 172h0M461.3 177.2h0M466.5 172.6h0M468.7 178.7h0M466 177.1h0M485.8 180.3h0M473.5 185.7h0M469.3 171.1h0M486.6 182h0M465.8 178h0M490.8 173.8h0M488.8 179.4h0M485.6 176.3h0M495.9 175.3h0M490.1 173.4h0M471.2 171.1h0M472.6 177.1h0M489.9 176.5h0M487.1 180.7h0M491.5 176.4h0M489.7 174h0M493.9 170.7h0M469.5 170.8h0" stroke="#b3b3b3" stroke-width="1.3" stroke-linecap="round" fill="none"/>
<path d="M464.5 155.3h0M466.1 170.7h0M467.1 154.7h0M466.8 139.2h0M468.2 168h0M471.3 170.7h0M466.6 163.6h0M469.9 168.4h0M469.6 154.9h0M470 162h0M468.8 171.8h0M466.7 167h0M462 165.3h0M470 149.5h0M467.8 165.4h0M470.2 171.3h0M469.2 170.4h0M464.7 167.6h0M470 155.3h0M470 154.9h0M468.1 162h0M469.6 171.6h0M465.3 151.5h0M468.2 156.7h0M469.6 138.7h0M468.5 164.3h0M468.4 167.8h0M463.9 164.8h0M463.8 154.3h0M467.3 168.7h0M465 125.5h0M469.3 154.8h0M465.1 170.7h0M468.3 157.1h0M467.4 165.9h0M461.3 169.4h0M464.6 155h0M465.9 165.5h0M468.4 170.2h0M469.1 134.7h0M469.3 155.2h0M467.4 170h0M466.3 171.5h0M471.1 170.7h0M467.8 168.3h0M466.1 170.6h0M468.2 154.1h0M467.2 165.9h0M470.5 168.7h0M467.1 151.5h0M468.6 157.8h0M464.2 160.7h0M467.1 167h0M466.1 157.7h0M465.7 170.5h0M468.9 172h0M469 156h0M470.4 171h0M462.2 159.7h0M466.1 149.7h0M462.9 170.9h0M469.4 156.9h0M470.4 158.5h0M469.4 158.1h0M466.9 171.9h0M468.9 163.4h0M466.7 161.3h0M467.8 146.6h0M466.7 157.1h0M469.2 170.4h0M469.7 156.3h0M470.1 152.9h0M471.2 171h0M462.8 157.4h0M467.1 166.3h0M467.9 151.4h0M465.3 160.9h0M469.4 159.9h0M469.2 170.4h0M469.2 168.3h0M470.3 168.5h0M464.5 156.8h0M470.4 169.4h0M469.1 169.6h0M465 151.5h0M469.7 160.1h0M465.6 155.4h0M463.2 170.5h0M464.9 170.8h0M468.1 162.7h0M469.8 164.1h0M466.7 158.7h0M467.1 163.8h0M469.6 167.3h0M464.9 128.8h0M462.8 165.5h0M468.7 155.8h0M470.7 166.5h0M464.5 170.9h0M467 161.3h0M466.4 166h0M468.5 167.3h0M467.7 157h0M469.3 164.2h0M464.8 139.6h0M470.5 157.8h0M467.9 169.4h0M469.3 171h0M466 151.5h0M470.6 166.3h0M464.7 160.5h0M469.5 164.9h0M467.2 164h0M467.8 145.6h0M466.2 139.1h0M466.5 156.4h0M469.2 159.2h0M465 170.1h0M463.1 119.9h0M470.2 161.9h0M466.7 162h0M469.1 168.1h0M469.8 149.1h0M468.1 155h0M467.6 160.1h0M468.1 144.2h0M469.2 156.5h0M466.1 169.9h0M465.9 169.3h0M468.8 169.5h0M466.9 164.2h0M467.4 170h0M468.7 165.5h0M467.4 167.8h0M466.4 167.1h0M468.2 141.2h0M470.6 162.3h0M468.9 161.6h0M469.6 142.2h0M468.9 163.2h0M468 171.1h0M465.5 162.4h0M469.4 166h0M464.2 168.7h0M470.3 157.4h0M470.8 166h0M466.4 159h0M465.9 152.5h0M465.3 166.5h0M464 152.5h0M464.6 165.1h0M468.3 163.6h0M469.8 157h0M466.2 139.8h0M467.9 150.8h0M465.1 152.9h0M468.7 168.1h0M469.1 166.5h0M468.6 163.2h0M461 169.9h0M467.3 165.4h0M469.1 169.6h0M467.6 165.8h0M463.7 165.1h0M466.8 158.9h0M467.3 144.1h0M470.1 169.6h0M468.1 156.6h0M461.7 147.1h0M470.3 159.2h0M470.2 166.5h0M468.6 131.8h0M469.4 165.2h0M470.8 170.3h0M468.6 171h0M466.5 171.1h0M461.1 148h0M470.1 170.3h0M466.3 159.6h0M468 164.9h0M464.9 165.7h0M470.7 169.7h0M468.2 166.6h0M470.7 162.7h0M468 168.9h0M469.6 154.2h0M470 171.5h0M470.4 157.2h0M469.6 157.9h0M466.8 171.7h0M465.6 163.5h0M462.2 159.9h0M468.2 165.9h0M468.7 169.1h0M467.3 168.1h0M469.6 166.7h0M469.4 169.6h0M462.3 127.4h0M470.1 160.6h0M469.3 160.9h0M466.9 155.9h0M467.2 170.5h0M469.6 171.9h0M462.5 171.6h0M469.4 169h0M467.7 163.7h0M464.4 168.1h0M468.6 171.9h0M464.9 169.3h0M470 163.4h0M469.7 171.1h0M468.9 161.9h0M469.4 169.3h0M462.2 169.5h0M469.4 142.3h0M470 167.1h0M468.7 171.7h0M470.4 165.5h0M463.3 165.7h0M467 166.9h0M466.7 153.6h0M465.5 166.9h0M467.4 153.2h0M467.8 167.1h0M470.1 166.7h0M462.8 169.8h0M468.4 147.7h0M469.6 168.1h0M464 142.4h0M466.8 171.6h0M463.1 169.9h0M465.1 168.2h0M469.9 170.1h0M470.9 163.9h0M469.7 147.1h0M467.7 163.8h0M470.8 162.3h0M466.9 148.8h0M469.3 172h0M469.1 170.8h0M470.2 166.2h0M469.7 159.9h0M465.4 157.6h0M467 169.4h0M467.7 151.9h0M467.1 153.3h0M470.3 170.7h0M468.3 167.6h0M463.4 163.7h0M468.2 171.1h0M470.1 168.6h0M470.4 165.1h0M468.1 166.3h0M468 167h0M460 167.6h0M469.4 154.7h0M468.3 152.2h0M466.8 163.2h0M465 155.2h0M465.9 166.6h0M469.7 166.4h0M468.5 170.6h0M467 167h0M467.5 169.9h0M461.6 143.9h0M470.6 165.2h0M467.1 167.7h0M470.4 155.3h0M467.7 162.3h0M468 171.3h0M469 164.6h0M463.5 154.3h0M467.4 170h0M467.4 157.6h0M469.3 171.4h0M467.1 168.1h0M469.6 147h0M464.2 167.2h0M469.1 161.3h0M468.2 167.8h0M469.6 167.9h0M465.4 162h0M468.9 168.6h0M465.4 169.1h0M463.4 170.8h0M465.1 137.6h0M470.8 169.5h0M470.2 167h0M468.8 165.8h0M470.2 153.1h0M464.9 152.8h0M462 167.3h0M467.1 157.8h0M468.2 158.7h0M468 165.5h0M468.8 166.5h0M467.7 170.7h0M468.1 167h0M468.7 163.7h0M470.1 172h0M461.9 169.9h0M468.8 163h0M470.9 168h0M467.8 171.9h0M471 166.7h0M469.1 159.6h0M467.4 165.1h0M469 166.5h0M468.4 167.2h0M463.1 147h0M470 165.6h0M468 144.3h0M470.9 168.6h0M467.8 168h0M459.9 166.4h0M466.5 151.8h0M464.9 165.2h0M469.1 165.4h0M470 162.5h0M468 151.9h0M468.8 167.3h0M465.4 171.1h0M468.6 157.5h0M469.1 171h0M464.1 158.4h0M468.7 160.8h0M468.1 169.3h0M468.7 166.3h0M469.6 166.4h0M466.2 168.7h0M466.6 138.2h0M469.4 161.2h0M470.7 162.3h0M464.8 149.6h0M463.7 171.6h0M470.5 170.2h0M463.2 160.4h0M470.8 169.1h0M466.6 144h0M465 159.5h0M467.6 170.2h0M469.1 169.9h0M471.3 171h0M465.9 143.6h0M470.1 171.6h0M470.2 170.6h0M466 156.4h0M470.6 166.2h0M471.2 168.2h0M468.7 170.2h0M466.7 169.9h0M469.5 154.7h0M470.8 166.9h0M468.3 170.5h0M466.3 159h0M470.6 170.4h0M469.8 163.5h0M468.3 160.2h0M466.9 166.3h0M467.1 171.2h0M467.2 158.8h0M463.1 168.8h0M463.8 162.9h0M470 157h0M471.3 171.5h0M470.6 166.6h0M464.9 170.4h0M465.2 155.9h0M466.3 161.7h0M469.6 166.9h0M467.8 152.5h0M469.4 171.3h0M465.5 156.9h0M470.1 166h0M469.3 163.3h0M460.1 170.5h0M468.9 161.8h0M466 166.7h0M470.6 170.5h0M465.6 166.9h0M467.2 161.7h0M470.6 159.2h0M470.6 161.3h0M469.6 158.7h0M469.4 140h0M471 167.2h0M468.8 167.3h0M467.6 169.1h0M470.3 169.7h0M469.8 158.4h0M468.4 140h0M468.9 166.5h0M466.1 159.3h0M471 169.9h0M465.8 169.9h0M470.7 168.3h0M469.1 154.3h0M465.3 165.5h0M460.1 163.4h0M465.2 154.8h0M467 168.5h0M467.5 160h0M470 168.6h0M468.3 171.6h0M469.7 165.5h0M464.4 169.5h0M470 164.5h0M470.6 169.8h0M464.7 169.3h0M470.3 164.8h0M464 170.6h0M469.5 159h0M464.2 121.3h0M468.8 166.5h0M464.8 162h0M467.2 130.4h0M469.9 160.7h0M470.7 165.7h0M463.4 129.9h0M466.9 141.7h0M466.7 163.9h0M468.2 171.4h0M463.2 167.1h0M471 171.7h0M467 167.7h0M469.4 164.1h0M469.9 166.8h0M465.7 163.5h0M465.5 171.4h0M469.7 147.8h0M468.5 148.7h0M464.5 164.6h0M468.9 161.2h0M463.5 148.6h0M469.5 171.5h0M469.8 162.5h0M468.8 170.3h0M467 171h0M462.3 164.3h0M468.7 164.9h0M464.2 158.3h0M468.8 150.7h0M462.8 168.4h0M468.2 164.1h0M465.1 143.9h0M469 138.3h0M468.8 166.4h0M470.9 170h0M470.5 161.7h0M468.5 169.4h0M469.7 165.7h0M470.5 156.6h0M468.9 145.4h0M469.1 141.3h0M468.4 157.4h0M463.2 151.5h0M469.9 168.5h0M471.1 166.9h0M466.9 148.9h0M467.9 140.1h0M467 171.3h0M469 171.3h0M466 161.8h0M466.7 167.9h0M467.2 165.1h0M466.6 167.2h0M470.2 169.4h0M469.7 168.3h0M469.1 167.3h0M464.5 130.6h0M466.6 160.5h0M466.3 169.4h0M468.5 154.7h0M463.7 162.3h0M466.6 165.8h0M466.6 171h0M466.2 141.7h0M467 168.3h0M466.6 163.1h0M466.7 168.6h0M466.5 132.3h0M470.2 171h0M467.6 138h0M460.8 131.1h0M464.2 157.3h0M469.7 146.6h0M470.6 169.4h0M462.2 164.4h0M466.7 137.8h0M468 166.1h0M468.5 150.4h0M463.1 168.8h0M465 168.6h0M465.4 170.3h0M468.5 152.7h0M469.9 168.3h0M466.3 138.7h0M460.9 153.2h0M470.4 168.6h0M470.6 164.2h0M465.5 137.3h0M470.7 171.3h0M468.9 161.8h0M469.9 171.2h0M469.6 153.3h0M465.1 142.2h0M468.7 168.5h0M469.8 152.2h0M468 167.6h0M465.1 170.6h0M468.3 168.3h0M468.8 168.4h0M466.8 157.1h0M467.7 170.7h0M468.3 168.3h0M470.4 170.7h0M467 161.5h0M467.1 163.3h0M467.9 159.2h0M470.8 170.9h0M471.2 171.8h0M467.3 170.8h0M460.8 167.6h0M470.2 155.2h0M466.2 148.7h0M468 152.1h0M468.5 166h0M469.8 159.9h0M467.5 171.6h0M468.3 148.7h0M467.2 170.2h0M470.9 163h0M468.6 163.6h0M464.1 158.9h0M469.6 168.3h0M467.3 171.6h0M465 157.1h0M471 169.8h0M468.8 160.7h0M470.5 161.3h0M465.6 167.7h0M464.4 166.1h0M468.8 167.2h0M467.4 164.2h0M466.7 161.1h0M470.5 162.9h0M469.2 169.9h0M467.3 165.7h0M467.9 151.8h0M464.9 131.9h0M468.2 169.8h0M467.5 164.9h0M466.6 159.3h0M471.1 171.1h0M467.7 170.5h0M465.9 162.7h0M460.7 167.7h0M464.8 169.4h0M467.4 153.1h0M467 140.2h0M468.9 144h0M470.7 170.4h0M464.9 163.4h0M469.8 160h0M468.8 161.6h0M469.5 170.5h0M468.5 160.5h0M469.5 168.2h0M466.8 167.5h0M469.5 159.7h0M466.9 153.9h0M465.5 170.4h0M467 140.3h0M469.7 169.6h0M469.9 151.6h0M470.6 170.1h0M465.3 170.8h0M468.3 170.3h0M467.5 161.1h0M469.8 170.3h0M469 168.8h0M468 163.1h0M461.8 162.9h0M469.1 169.3h0M470 153.6h0M467.8 168.1h0M468.4 163h0M469.1 166h0M469.5 164.2h0M463.1 168.7h0M470.3 163.4h0M468.7 158.5h0M469 169.4h0M469.5 169.1h0M464.1 158.2h0M467.4 159.4h0M467.2 156h0M469.8 161.4h0M471.1 166.6h0M470.6 169.5h0M468.1 166h0M465.1 162.8h0M470.8 171.4h0M470.5 168.3h0M468.4 155.5h0M465.5 165.4h0M465 170.1h0M466.6 167.9h0M467.5 163.2h0M469 171.5h0M467.2 170.8h0M467.8 161.9h0M469.4 166.2h0M469.6 147.8h0M464.8 150.1h0M464 170.4h0M468 171.3h0M466.5 166.7h0M461 152.4h0M469.5 166.2h0M468.3 169.3h0M469.8 166.3h0M464.4 154.9h0M464.3 149.1h0M468.2 159.1h0M470.1 169.1h0M468 151.7h0M464.9 142.7h0M470.7 168.6h0M466.4 168.5h0M468.3 166.9h0M468.5 163.9h0M469.3 171.9h0M466.7 170.1h0M468.5 157.4h0M467.8 153.8h0M463.1 166.6h0M469.6 171.6h0M463.5 171.9h0M469.7 171.7h0M465.5 171.9h0M467.5 153.9h0M464.4 123.7h0M471 168.1h0M468.7 153.3h0M470.3 170.1h0M469.5 158h0M467.4 169h0M468.3 165.1h0M470.3 170.5h0M461 140.7h0M466.7 170.1h0M459.6 167h0M470.4 170.3h0M462.7 124.6h0M464.5 168.5h0M467.5 162.8h0M465.3 161h0M470.4 166.3h0M465.1 165.5h0M470.1 170.6h0M470 165.7h0M464.8 158.7h0M471.1 170.4h0M465.2 149.7h0M465.8 145.2h0M470.5 161.3h0M469.4 171.5h0M469.7 164.9h0M462.8 152.2h0M470.3 171.2h0M470.7 169.9h0M468.9 163.9h0M469 167.9h0M468.2 168.2h0M466.7 151.2h0M463.2 149.9h0M467.9 152.1h0M467.3 139.9h0M469.7 171.9h0M465.1 148.2h0M468.4 169.3h0M468.1 154.8h0M470.1 169.2h0M469.3 170.2h0M470 171.8h0M463.3 142.3h0M470.8 167.8h0M468.5 170.2h0M467.5 158.6h0M469.7 169.8h0M469.7 167.7h0M466.9 150.3h0M470.6 159.6h0M469.5 169.6h0M468.9 160.3h0M468.5 168.2h0M469.6 157.7h0M470 169.2h0M467.4 159.7h0M469.8 168h0M468.3 139.5h0M467.3 157.2h0M466.8 147.3h0M463.8 147h0M466.3 167.1h0M470.6 160.5h0M466.5 170.9h0M466.2 159.8h0M471 169.7h0M468.8 166.7h0M466.3 166.3h0M470.6 166.5h0M465.4 170.9h0M466.4 169.9h0M468.9 170.7h0M468 146.5h0M466.2 165.1h0M467.8 167.5h0M466.5 137.2h0M468.2 152.1h0M469.3 167.6h0M468.4 158.6h0M469.5 165.9h0M469.4 163.7h0M470.2 168.8h0M466.1 166.1h0M467.7 165.6h0M469.2 145h0M467.3 170.7h0M470.4 170.7h0M467.3 164.1h0M468.6 167.6h0M464.5 141.2h0M465.6 156.3h0M461.3 153.6h0M460.1 147.3h0M467.4 166.6h0M469.2 156h0M470.1 170.9h0M462.6 172h0M470.5 169.6h0M468.7 169.7h0M471.3 171.3h0M464.8 143.8h0M467.3 166.6h0M467.7 169.8h0M467.6 171.7h0M469.1 166.9h0M466.6 166.9h0M466.5 165.6h0M469.6 146h0M471.1 168.8h0M469 150.7h0M467 163.9h0M467.9 160.8h0M467.3 172h0M464.5 165h0M469.7 163.7h0M465.3 169.3h0M469.9 165.2h0M468 162.7h0M466.5 169.7h0M470.1 171.3h0M464.2 164.4h0M467.3 163.4h0M467.8 150.7h0M470.1 171.1h0M470.8 165.2h0M467.2 157.8h0M468.4 164.1h0M468.4 169.3h0M469.8 164.6h0M469.2 169.4h0M465.2 163.5h0M465.5 155.7h0M466.2 168h0M467 139h0M466.2 162.1h0M465.7 143h0M469.4 156.5h0M467.5 165.9h0M467.2 164.2h0M469.4 144.3h0M465.9 167.7h0M462.7 149.7h0M468.5 153.5h0M470.8 164.8h0M468.2 164.9h0M467 129.3h0M469.2 171.1h0M463.3 156h0M467.3 132.2h0M470.5 172h0M467.5 159.8h0M467.8 162.3h0M466.4 169.9h0M469.7 169.1h0M468.3 168.5h0M469.7 167.5h0M467 169.1h0M468.1 171.9h0M469.1 171.6h0M467.2 163.6h0M468.6 161.8h0M466.5 159.5h0M470.6 163.3h0M470.3 165h0M470.2 165.6h0M470 166.4h0M466.5 171.1h0M467.3 137.6h0M466.8 167.5h0M462.9 164.8h0M469.2 166.8h0M468.5 150.1h0M467.1 163.8h0M469.4 168.3h0M465.8 152.4h0M470.1 157.7h0M468.6 162.6h0M471.3 170.2h0M467.3 165.6h0M466.3 168.8h0M470.8 165.2h0M460.1 162.7h0M470.9 170h0M469.6 168.8h0M467.5 170.6h0M470.2 163.9h0M470.5 159.2h0M470.9 166h0M469 170.5h0M470.2 160.7h0M463.8 169.4h0M465.6 142.3h0M464.7 164.5h0M463.6 157.2h0M469.1 162.5h0M469.5 153.5h0M467.9 159.6h0M468.6 152.1h0M468.1 169.6h0M469.9 155.1h0M467.8 168.2h0M467.5 171.9h0M469.7 148.3h0M468.4 166.3h0M465.5 170.1h0M470.2 151.4h0M468 171.1h0M467.2 139h0M468.2 139h0M463.8 170.9h0M467 151.5h0M464.8 162.6h0M462.9 141.8h0M470.6 158.1h0M470.1 170.8h0M470.5 163.5h0M460.2 168.5h0M462.8 160.3h0M469.9 164.4h0M469.6 171.9h0M468.6 164.3h0M465.5 149.3h0M470.9 167.2h0M464.4 171h0M470.7 159.9h0M469.2 171.4h0M469.2 171.2h0M470.3 153.3h0M468.3 143.9h0M466.2 166h0M468.9 167.8h0M470.1 168.8h0M463.7 139.9h0M466.2 164.3h0M469.2 134.9h0M466.7 163.2h0M468.6 169.4h0M469.4 140.6h0M464.9 170.5h0M470.5 169.5h0M469.2 164.2h0M469.1 170h0M466.6 159.2h0M465.9 168.3h0M467.5 162.8h0M465.5 143.1h0M468.9 168.8h0M466.2 165.8h0M464.7 164.3h0M468.1 171.4h0M465.1 157.2h0M467.6 153h0M469.5 168.5h0M470.5 169.1h0M468.3 170.7h0M466.4 163.7h0M467 168.5h0M466 160.4h0M468.3 164.6h0M469.7 166.4h0M467.9 152.3h0M465.6 150.3h0M470.6 164h0M468.3 132.3h0M469.5 152.6h0M464.8 166.5h0M468.7 166.1h0M470.2 170h0M470.7 167.6h0M469.7 159.7h0M469.1 169.4h0M470.7 168.7h0M465.2 165.7h0M470.5 162h0M468.7 160.1h0M464.8 166.1h0M470.1 168.6h0M466.8 161.1h0M465.9 165.8h0M468.3 145.3h0M469.7 171.9h0M467.2 162.6h0M469.1 169.9h0M469.2 142.1h0M465.9 147.9h0M470.1 169.6h0M471 168.9h0M468.3 147.3h0M467.2 152.1h0M467.2 168.4h0M470.7 167.7h0M470.7 169.1h0M466.8 166.2h0M469.9 158.2h0M468 168.3h0M470.7 168.6h0M469.8 152.1h0M470.1 168.5h0M470.4 159.5h0M461.2 164.3h0M468.1 139.6h0M469.2 145h0M466.9 147.7h0M469.4 165.8h0M466.5 162.7h0M468.8 160h0M467.4 171.6h0M466.6 169.4h0M461.7 162.9h0M468.9 165.4h0M466.1 164.8h0M468.3 166.3h0M469 160.2h0M470.7 167.2h0M467 152.3h0M465.7 161.7h0M463.5 167h0M460.7 142.2h0M462 148.6h0M468.1 164.1h0M465 159.9h0M464.8 167.2h0M468.1 159.7h0M470.5 157.5h0M467.7 137.5h0M469.6 168h0M462.6 160.8h0M470.2 171.1h0M468.9 142.2h0M470.2 171h0M465.2 162.6h0M468.2 169.8h0M468.4 161.9h0M465.9 171.9h0M470 159.2h0M468.4 161.8h0M468.6 167.7h0M468.4 156.1h0M465.6 162.4h0M465.6 142.8h0M467.9 169.8h0M468.4 161.3h0M466.7 167.7h0M470.1 169.9h0M467.3 162.7h0M465.1 160.9h0M465.6 163.4h0M469.7 166.3h0M470.9 166.7h0M469.2 162.5h0M467.6 166h0M470.6 158.9h0M462.3 152.9h0M467.8 168.1h0M467.8 165.4h0M465.1 140.6h0M468.5 155h0M469.8 172h0M462.4 142.9h0M462.4 154.8h0M468.9 171.8h0M466.2 171.4h0M461.6 167.5h0M468.6 166.8h0M467.6 160h0M469.4 169.6h0M463.5 170.7h0M464.3 151.2h0M467.6 151.7h0M466.3 167.7h0M469.5 169.3h0M468.3 129.1h0M467.1 138h0M469 169h0M469.1 162h0M467.3 170.2h0M470.5 171.2h0M465.7 169.5h0M464.4 153.5h0M469.7 171.8h0M466.6 150.5h0M467.8 167h0M470 169.8h0M469.1 167.5h0M468.4 164.9h0M466.4 151.3h0M466.8 156.2h0M460.7 152.9h0M463.1 166.3h0M471.2 168.4h0M462.8 143.4h0M465.5 158.6h0M462.4 166.4h0M468.9 131.7h0M468.4 154.9h0M465.7 140.9h0M463.4 153.9h0M462.3 171.5h0M466.4 165.9h0M470.1 170.5h0M467.7 154.7h0M469.4 155.7h0M470.8 170.7h0M469.1 156.1h0M465.9 159.5h0M470.2 168.5h0M469.8 170h0M466.7 167h0M459.4 165.8h0M470.6 171.1h0M468.2 168.7h0M468 168.8h0M467.9 167.1h0M463.4 154.9h0M467.6 163.8h0M468.7 169.6h0M469.8 155.6h0M469.4 162.1h0M470 163.6h0M468.4 160.3h0M467.5 152.3h0M469.2 165h0M465.9 169.8h0M469.3 167.2h0M463.5 169.5h0M469.1 168.9h0M466 161.8h0M470.5 168.5h0M467.4 151.5h0M467 170.4h0M470.2 170.5h0M469.4 167.9h0M470 168.3h0M470.2 163.5h0M462.1 140.2h0M470 162.1h0M468.6 163.7h0M467.5 141.5h0M466.8 163.6h0M468.3 156h0M465.3 159h0M466 156h0M467.3 163.4h0M471.1 171h0M465.1 161.8h0M462.1 158.7h0M469.3 161.7h0M467 170h0M470.7 167.4h0M463.3 142.9h0M467.9 135.6h0M464.2 160.3h0M469.4 159.5h0M465.1 169.5h0M464.6 161.6h0M470.1 167.4h0M469.9 151.9h0M465.6 168.5h0M468.8 165.9h0M467.4 152.5h0M470.6 169.7h0M469.7 169.4h0M467.6 164.5h0M471.1 167.5h0M464.7 157.1h0M468.6 157.8h0M466.5 164.7h0M468.8 171.5h0M466.2 165.5h0M469.5 164.7h0M468.2 170.9h0M466.5 168.4h0M467 163.5h0M462.8 153.6h0M470.6 170.3h0M466.2 140h0M465.6 169.5h0M463.8 146.8h0M466.5 169.6h0M467.5 169h0M468.9 159.6h0M470.4 169.9h0M467.1 135.6h0M469.4 155.4h0M466.2 161.4h0M460.2 166.5h0M469.4 165.1h0M470.6 163h0M470.1 157h0M467.6 157.9h0M465.3 154.9h0M466 154.3h0M470.4 155.9h0M470.6 160h0M470.9 165h0M470.1 170h0M468.8 166.9h0M467.8 162h0M469.4 155.8h0M471 168.6h0M470.8 164h0M468 156.2h0M466.7 151.6h0M468.3 157.6h0M467 166.9h0M470 168.6h0M455.9 171.8h0M446.8 149.7h0M462 160.2h0M447.6 163.8h0M460.7 170.9h0M457.1 149.2h0M458.8 158.4h0M461.5 152.7h0M451.7 155.9h0M458 157.4h0M458.6 164.5h0M458.9 156.4h0M452.4 145.9h0M456.9 150.4h0M452.2 170.7h0M447.7 150.6h0M444.8 159.2h0M455.1 143.4h0M451.9 153.6h0M445.3 170.6h0M460.8 163.7h0M459.2 162.7h0M446.4 135.4h0M459.3 151h0M445.2 167.3h0M451.7 138.3h0M450.8 140.3h0M456.9 145.9h0M460.8 169.3h0M460 168.1h0M451.8 149.2h0M450.6 145.8h0M454.3 142.1h0M456.3 163.1h0M452.1 166.2h0M449.1 142.7h0M461.9 165.9h0M451.2 170.9h0M457.5 167.8h0M452.6 140.4h0M448.1 171.9h0M459.1 155.2h0M456.6 147.8h0M450.6 162.1h0M459.9 154.6h0M460.2 150.5h0M458.1 170.4h0M446.1 165.1h0M459.8 152.2h0M445.3 153.3h0M455.9 165.8h0M456.1 171.2h0M457.8 148.8h0M452.6 167.6h0M459.2 148.5h0M457.5 165.5h0M448.2 171.2h0M451 158.6h0M456.8 164.6h0M449 139.4h0M461.6 106.4h0M465 105.7h0M467.3 115.3h0M465.6 124.1h0M469.7 126.3h0M462.1 129.3h0M445.9 141.1h0M457.5 120.4h0M459.2 107.2h0" stroke="#4682b4" stroke-width="1.3" stroke-linecap="round" fill="none"/>
<path d="M502.4 145.7h0M489.3 158.3h0M488.7 158.1h0M496.6 148.5h0M541.3 92.1h0M540.4 107.7h0M488.4 161h0M530.5 112.5h0M487.6 156.4h0M492.3 151.2h0M519 136.8h0M489.1 167.9h0M533.2 134.1h0M495.3 162.3h0M500.6 157.3h0M500.8 159h0M490.6 154.4h0M488.9 168.2h0M495.3 161.3h0M496.9 165.3h0M493 148.9h0M523.3 134.1h0M493.3 158.8h0M520.8 101.5h0M490.2 155.9h0M504.2 129.5h0M514.6 141.7h0M517.7 126.8h0M492.2 159h0M493.7 153.3h0M493.8 155.7h0M495.5 148.4h0M490.1 155.5h0M487.9 169.9h0M489.5 172h0M488.6 166.1h0M495.4 171.5h0M539.3 131.8h0M541.3 111.8h0M509.7 145.5h0M490.7 162h0M501.1 149.3h0M504.8 138.1h0M492 164h0M490 161.9h0M504.7 135.3h0M499.7 144.6h0M498.4 156.2h0M493.1 152.9h0M493.7 164.5h0M512.6 137.9h0M501.2 137.4h0M496.1 166h0M490.7 153.2h0M495.3 162.6h0M500.1 161.9h0M496.3 168.9h0M518.8 123.2h0M492.5 163.4h0M489.6 156.5h0M498.3 153h0M490.2 164h0M491.7 161.9h0M494.2 156h0M515.8 128.1h0M506.3 141h0M494 154.1h0M491.5 146.2h0M490.3 154.7h0M547 113.2h0M501.2 141.8h0M489 164.5h0M500.1 150.2h0M523.3 127.9h0M488.7 159.1h0M490.1 163.3h0M556.3 126.1h0M538.2 116.9h0M493.9 161.3h0M520.4 107.8h0M517.5 116.8h0M492.5 154.1h0M490 158.5h0M491.6 154.4h0M494.3 151.7h0M491.3 149.3h0M515.3 131.9h0M491.1 161.7h0M491.2 164.3h0M491 164h0M499.2 147.9h0M491.9 159.4h0M494.6 147.4h0M487.7 171.1h0M495.8 144.3h0M540.3 102h0M488.1 171.8h0M489.3 160.5h0M516.8 155.3h0M493.3 159.8h0M530.1 112h0M500.6 155.7h0M490.7 158.7h0M488.3 171h0M498.7 132.3h0M491.4 166.2h0M493 150.4h0M494.3 156.1h0M530.8 88.8h0M500.2 167h0M490.2 162.3h0M488.3 170.3h0M487.7 169.9h0M494.6 169.4h0M488.5 161h0M542.8 105.9h0M499.9 159.4h0M496.1 152h0M516.8 141.3h0M488.3 164.5h0M501.7 168.6h0M490 151h0M489.4 163.7h0M491.1 153.4h0M496.4 163.1h0M506 151.9h0M496.7 153h0M490.1 158.7h0M498.1 140.7h0M489 160.4h0M527.4 115.6h0M489.1 160.7h0M495.6 157.3h0M492.2 158.2h0M529.1 118.7h0M490 167.5h0M489.2 169h0M493.9 170.9h0M488.1 156.3h0M490.2 155.2h0M494.3 150.9h0M502.1 125.8h0M490.9 167h0M502.4 148.1h0M529.3 134.8h0M491.6 162.2h0M490.3 148.3h0M489.7 165.3h0M496.4 164.6h0M524 155.1h0M492.8 149.8h0M529.1 110.6h0M497.2 137.5h0M503.6 139.4h0M493 164.5h0M494.7 150.3h0M492.8 163.5h0M503.1 132.7h0M488.4 153.2h0M498.6 149.4h0M513.3 148.2h0M491.2 155.5h0M496.4 149.1h0M490.1 158.4h0M489.3 161.2h0M489.4 164.2h0M508.8 146.3h0M497.1 154.1h0M488 170h0M488.5 171.4h0M499.7 158.9h0M491.1 161.6h0M491.4 164.6h0M501.7 133.1h0M496.9 149.1h0M501 145.1h0M491.6 159.1h0M493.4 167.3h0M492 160.5h0M512.8 118.9h0M506.2 151.5h0M494.4 144.5h0M579.5 109.1h0M498.2 158.2h0M488.4 160.1h0M488.8 170.4h0M511.1 129.1h0M491.6 166.4h0M487.7 170.5h0M516.8 138.4h0M504.9 144.2h0M493.6 148.6h0M488 168.5h0M494.5 164.9h0M492.6 150.2h0M489.5 163.3h0M506.5 143.6h0M487.9 166.6h0M577.2 90.5h0M490.5 171.3h0M497.5 155.1h0M502.1 147.7h0M491.5 163h0M494.1 170.3h0M492.2 167.5h0M504.6 136.2h0M494 146.1h0M494.7 145.5h0M497.7 156.5h0M496.2 148.7h0M528 84h0M508.5 131.2h0M488 164.6h0M488.9 168.1h0M496.6 154.9h0M507.9 146.9h0M499.9 154.9h0M490.3 162.5h0M494.9 151.4h0M511.1 146.2h0M495.8 144.6h0M510.5 138h0M487.7 155.8h0M490.3 161.7h0M491.9 165.6h0M508.4 141.6h0M521 130.6h0M487.7 166.8h0M494 153.2h0M488.9 164.7h0M495.4 160.5h0M489 168.3h0M521.7 125.6h0M487.9 166.2h0M549.7 93.5h0M502.6 155.7h0M506.9 148.2h0M494.7 152.2h0M489.7 157.7h0M526.8 164.1h0M572.6 119.6h0M495.7 150.8h0M498.2 140.9h0M508.6 140.3h0M530.4 115.3h0M497.8 155h0M523.5 89.4h0M488.8 168.9h0M505.4 146.8h0M491.2 155.6h0M487.8 156.5h0M491.7 148.3h0M489.8 156.3h0M543.5 99.8h0M494.5 148.7h0M524.7 146.6h0M539.4 66.4h0M489.9 170.6h0M487.6 168.4h0M501.3 130.5h0M493.5 162.8h0M499.9 164.2h0M489.9 158.8h0M488 165h0M498.1 136.9h0M491.6 163.3h0M496.7 143.5h0M497.4 146h0M502.1 160.1h0M512.3 136.8h0M496.4 158.1h0M540.9 130.7h0M491.6 148.3h0M499.2 142.2h0M497.5 153.3h0M490.3 167.3h0M490.7 163.5h0M507 141.4h0M489 162.6h0M488.5 172h0M491.1 159.2h0M491.9 164.8h0M487.8 160.2h0M489.3 159.2h0M488.6 166.7h0M506.5 130.5h0M491 153.9h0M491.2 164.2h0M523.7 124.8h0M494.8 154.3h0M490.6 161.7h0M543.9 119.4h0M530.9 120.6h0M493.6 160.4h0M533.7 141.5h0M492.4 157.8h0M538.4 91.4h0M506.8 139.5h0M507.3 121.1h0M489.1 158.5h0M488.7 164.1h0M506.2 152.9h0M496.3 142.7h0M490.9 168h0M490.9 163.6h0M515.3 115.3h0M488.8 171.1h0M531.7 110.7h0M498.6 153.7h0M503.1 144.9h0M520.6 153.4h0M502.3 144.8h0M493.5 151.8h0M491.2 170.4h0M506.1 145.6h0M489.2 171h0M491 165h0M489.4 157.8h0M501.2 150.4h0M496.8 158.6h0M494.5 158.8h0M489.7 168.3h0M493.7 154.5h0M488.4 163.2h0M497 159h0M496.4 148h0M504.7 153.4h0M495.4 153h0M493 161.9h0M488.7 169.4h0M532.9 101.2h0M491.9 167.6h0M490.9 160.3h0M493.8 162.6h0M488.9 151.9h0M494.8 148.6h0M508.2 161h0M491.9 149.8h0M491.2 152.3h0M491.6 154.3h0M490 144.9h0M488.9 166.8h0M506.2 143.5h0M496.1 160.6h0M576.5 98.9h0M494 156.5h0M491.6 166.2h0M506.7 142.1h0M512.9 147.4h0M503 141.6h0M501.4 149.2h0M502.3 150.2h0M526.7 101.7h0M493.3 153.4h0M494.2 156.7h0M490.9 157.1h0M503.7 136.8h0M493.4 155.1h0M487.9 162.7h0M497.9 143.7h0M493.5 157.3h0M488.9 165h0M489.3 163.7h0M492.3 165.8h0M493.3 155.8h0M493.7 155.3h0M505.7 147.3h0M496.9 144.1h0M511.7 127.5h0M490.2 161.1h0M488.2 158.7h0M492.5 169.4h0M496.3 165.4h0M487.9 166.5h0M501 144.6h0M488.8 156.1h0M538.8 82h0M491.4 155.2h0M497.1 158h0M501.7 147.1h0M488.6 169.7h0M490.1 159.6h0M493.3 137.9h0M487.8 157.1h0M495 140.9h0M489.1 160.7h0M506.8 146.7h0M487.7 156.1h0M489.8 162h0M488.1 167.6h0M500.7 125.4h0M511.9 153.5h0M492.6 170.6h0M509.4 130.4h0M490.4 165.4h0M506.4 158.3h0M488.1 165h0M491.8 161.8h0M505.3 155.3h0M492.4 156.1h0M496.5 161.2h0M541.9 106h0M494.2 157h0M493.6 157.2h0M494.4 146.2h0M490.3 159.5h0M507 143.6h0M504.6 156.9h0M522 127.2h0M490.1 166.9h0M493.3 159.1h0M521.8 130.7h0M522.5 109.9h0M489.3 156.6h0M493.6 149.4h0M494 161.9h0M489.2 164.3h0M491.9 156.3h0M491.8 162.4h0M502 148.9h0M490.8 159.7h0M535.7 103.2h0M514.4 146h0M495.4 162.7h0M500.2 143.2h0M493.3 162.8h0M501.1 148.9h0M490.5 159.6h0M500.1 152h0M493.2 165h0M488.9 164.7h0M506.4 152.6h0M503.6 145.7h0M493.7 164.8h0M489.5 162.3h0M487.7 162.2h0M498.7 153.9h0M509.3 170.5h0M554.1 134.7h0M491 156.9h0M495.2 156.8h0M487.7 160.5h0M487.6 157.3h0M488 155.6h0M490.6 157.4h0M509.5 138.3h0M494.3 155.3h0M495.4 145.6h0M488.9 151.9h0M491.3 163.8h0M488.7 159.1h0M488 163.5h0M488.7 161.3h0M498.8 150.6h0M498.8 149.4h0M497.7 148.3h0M520.3 128.6h0M511.8 131.3h0M488.1 153.2h0M504 147.5h0M498.9 147.9h0M496.7 155.4h0M501.2 141.1h0M506.9 141.9h0M490.6 147.4h0M494.8 148h0M491.6 149.5h0M492.1 161h0M529.4 112.2h0M500.3 148.9h0M490.2 164.5h0M488.1 163.1h0M491.7 168.5h0M539.3 111.1h0M489.5 160h0M494 156.5h0M522.6 159.3h0M489.3 161.7h0M489.3 159.7h0M515.2 149.5h0M511 132.7h0M490.1 171.6h0M491 163h0M516.6 139h0M507.3 113.8h0M491.4 164.6h0M488 160.9h0M520.4 112.9h0M511.9 136h0M511.3 135.6h0M500.5 146.6h0M537.4 111.4h0M541.9 111.2h0M523.8 99.4h0M531.3 123.4h0M498.3 160.3h0M501.2 161.2h0M518.4 109h0M495.6 164.4h0M495.2 157.1h0M495.9 145h0M510.6 123.7h0M493.3 151.1h0M488.2 170.7h0M487.8 166.5h0M487.9 162.3h0M489 159.7h0M488.6 161.7h0M497.1 156.9h0M494.3 163h0M487.6 154.3h0M488.8 160.9h0M490.2 159.9h0M489.7 162.3h0M512.1 148.9h0M499.1 158.2h0M489.3 156.6h0M522.9 131.4h0M495.6 157.5h0M500.7 141.6h0M489.7 158h0M534.4 136.3h0M499.7 157.4h0M506.5 122.9h0M488.4 165.5h0M488.5 165.7h0M499.9 147.7h0M523.1 118.8h0M492.5 153.3h0M489.2 164.6h0M495.2 162.5h0M497.4 155.9h0M488 163.4h0M552.5 135.1h0M487.7 161h0M496.4 147.9h0M489.3 156.4h0M495.1 158.3h0M520.2 123.6h0M491.5 167.1h0M493.9 155h0M490.3 164.5h0M488.4 165.3h0M503.7 145.2h0M495.1 165.4h0M501.7 142.6h0M489.9 155.3h0M488 154.9h0M489.9 162.9h0M489.7 164.7h0M491.6 148.5h0M490.9 171.3h0M504.6 148.6h0M488.1 165.2h0M492 167.3h0M506.4 121.9h0M528.9 113.3h0M509.3 141.1h0M495.3 149.4h0M502.5 141.1h0M490.4 156.6h0M493.7 151.3h0M539.9 81.4h0M491.3 148.6h0M492.9 155.2h0M508.3 148.1h0M494.4 158.9h0M487.8 162.1h0M506 146.9h0M488.5 169.7h0M494.1 151.8h0M499.6 143.8h0M575.9 77.6h0M487.7 159.4h0M491.5 169.3h0M513.5 162.9h0M490 169.7h0M489.5 168.3h0M497.7 149.5h0M513.4 142.4h0M488.7 167.3h0M495 146.9h0M508.4 124.8h0M493.8 152.7h0M495.8 156.6h0M499.8 164.6h0M497.3 157.5h0M529.8 136.5h0M488.7 165h0M493.8 170.7h0M489.9 152.3h0M506.4 139.9h0M488.7 167.3h0M490.4 161.1h0M491 158.3h0M513.3 127.8h0M499.7 145.4h0M490.4 158.9h0M490.7 159.7h0M492 155.5h0M492.3 165.8h0M507 126.5h0M500.3 133.6h0M488 158.8h0M489.6 170.4h0M491 162.3h0M494.3 153.4h0M497.7 161.2h0M558 89.6h0M501.4 136.4h0M490.7 167.9h0M488.7 158.7h0M521.8 107.9h0M489.8 164.6h0M499.1 150.4h0M501.5 154h0M507.8 141.5h0M492 165.5h0M513.6 133.1h0M498.8 146.5h0M519.7 138h0M496.5 152.5h0M500.6 155.1h0M487.9 169.1h0M488.8 159.9h0M497.9 143.8h0M521.1 121.4h0M492.3 158.8h0M537.5 93.7h0M487.9 160h0M488.2 164.6h0M500.3 147.7h0M488.2 165.3h0M533.7 95.9h0M505.9 137h0M492.4 157.6h0M488.2 167.6h0M523.8 105.6h0M489.4 159.8h0M490 164.2h0M493.7 170.4h0M488.2 158.1h0M490.9 159.9h0M496 151.6h0M498 157.3h0M497 149.2h0M490.1 161.5h0M500.2 139.1h0M499.2 144.8h0M490 159.2h0M488.5 162.6h0M488.8 163.5h0M488.5 159.8h0M494.2 149.8h0M503 142h0M490.7 149.1h0M487.9 170.1h0M491.5 147.6h0M490.8 151.5h0M511 157.8h0M490 160.9h0M500.7 156.4h0M488.8 151.7h0M497.1 156h0M497.1 147.8h0M501.4 166.1h0M489 155.5h0M491.8 169h0M495.8 135.2h0M496.8 137.6h0M499.8 166.8h0M491.9 161.1h0M487.6 169.9h0M488.9 158.1h0M488.7 166.8h0M489.2 162.4h0M507.9 128.8h0M487.9 156.6h0M505.8 137.6h0M494.7 153.8h0M532.8 92.4h0M515.2 138h0M492.7 152.2h0M504.2 141h0M512.5 143.4h0M503.8 149.8h0M494.6 150.2h0M512.1 122.6h0M517.7 129.9h0M489.8 152h0M493.8 165.1h0M497.9 150h0M502.1 141.5h0M488 160.5h0M488.3 160.5h0M492.1 159.8h0M502.1 141.9h0M493.1 165.1h0M489 169.5h0M516 119.8h0M489.5 164.7h0M539.2 134.3h0M500.1 144h0M489.1 161.1h0M488.9 169.4h0M568.1 85.3h0M488.2 162.9h0M521.8 114.9h0M522.7 118.8h0M496.6 154.3h0M496 149.2h0M518.1 138.4h0M504.4 148.9h0M505.5 138.6h0M530.2 115h0M510.8 140.1h0M508.6 152.4h0M501.4 156.9h0M504.3 156.5h0M494.6 150h0M487.7 162.5h0M487.7 163h0M504.6 162.2h0M535.5 103.4h0M488 170.3h0M492 157.2h0M496.3 154.3h0M498.7 144.6h0M489.3 152.7h0M493 156.6h0M488.5 165.4h0M493.9 157.9h0M492.7 152.8h0M497.9 147.6h0M546.6 118.8h0M503.1 151h0M495.6 157h0M488 158.8h0M490.9 152.6h0M492.6 166.4h0M544.6 108.9h0M494.6 151.1h0M490.8 162.7h0M488.6 155h0M490.8 168.2h0M519.8 131h0M489.7 164.7h0M500.1 141.1h0M494.6 139.7h0M517.4 129.7h0M496.8 161.1h0M490.3 159.7h0M488.2 163.4h0M492.7 162.3h0M487.8 165h0M494.4 164.5h0M500.3 152.9h0M496.4 166.7h0M489.2 163.4h0M490 163.6h0M495.2 154.5h0M527 110h0M492.6 163.4h0M488.3 170.8h0M519.9 122.6h0M519.5 102.9h0M495.4 155.2h0M497.5 152.7h0M494.9 158.1h0M501.2 138.7h0M492.8 170.6h0M488.3 167.5h0M538.6 125.3h0M500.6 144.8h0M491.6 156.4h0M488.3 164.6h0M495.2 156.9h0M502.2 159.2h0M565.8 85.1h0M493.6 150.4h0M495.6 150.5h0M508.9 133.9h0M488 171.3h0M495.1 150.6h0M496.6 153.7h0M512.9 132h0M512 126.8h0M491.6 164.4h0M498.3 165.4h0M507.9 168.6h0M502.5 159.5h0M487.9 159.8h0M488.6 169.5h0M489 162.9h0M507.7 152.8h0M501.1 164.5h0M487.9 171.4h0M508.3 144.3h0M487.9 160h0M492.8 164.4h0M488.8 168.3h0M489.2 171.3h0M491.1 167.5h0M524.4 119h0M490.3 161.8h0M494.6 147.9h0M488.6 164.2h0M496 162.3h0M488.5 167.6h0M487.9 164.1h0M497 162.5h0M490.2 166.5h0M489.3 163.7h0M489.8 169.8h0M492.6 150.8h0M491.4 159.2h0M489 167.8h0M489.5 162.9h0M496.7 149.5h0M491.6 163.6h0M494 153.9h0M488.4 169.6h0M497.7 156.4h0M502.7 141h0M491.8 163.3h0M510.9 127h0M488.5 164.1h0M490 166.8h0M511.7 132.8h0M502.7 164.5h0M504 159.9h0M490.6 160.1h0M494.7 159.6h0M489.8 154.6h0M495.3 143.7h0M491.3 158.2h0M520.4 125.1h0M499 157.6h0M494.4 164h0M516.7 122.4h0M495.3 154.5h0M491.7 166.4h0M494.8 161.8h0M492.9 153.2h0M499.5 131.6h0M488.7 163.6h0M493.9 168.4h0M489.9 151.5h0M501 152.1h0M508.1 142.7h0M490 159.8h0M488.8 160.6h0M531.8 125.7h0M504.8 137.1h0M490.7 146.6h0M498.5 135.7h0M501.1 163.2h0M488.5 155.9h0M488.1 167h0M500.1 144.1h0M488.1 169.9h0M553.9 58.7h0M499.1 146.4h0M499.7 141.4h0M546.3 140h0M489.9 172h0M495.3 153.7h0M493.1 159.5h0M488 165h0M491.7 159.5h0M488.3 166.7h0M527.4 126.8h0M539.1 65.4h0M487.6 169.8h0M497.9 146.2h0M490.5 166.5h0M490.6 170.6h0M491.5 168.8h0M494.4 146.9h0M489.1 162.9h0M491.3 162.6h0M492 158.9h0M487.7 163.8h0M496.6 163.2h0M488.9 169.6h0M488.2 163.6h0M489.7 158.8h0M488.3 164.3h0M519.2 115.8h0M490.4 163.2h0M495.2 167.7h0M489 163.1h0M488.6 170.3h0M490.6 157.2h0M494.1 150.5h0M492.3 163.1h0M498.5 168.2h0M490.1 167.8h0M489 165.8h0M496.7 159.6h0M498.5 153.1h0M504.3 152.2h0M527.6 131.1h0M504.3 146.8h0M489.4 165.7h0M511.4 138.7h0M499.8 151.7h0M526.9 120.4h0M493.6 157.5h0M495.6 149.7h0M491.7 151h0M496.3 159.6h0M487.8 168.1h0M491.9 158.8h0M494.5 156.6h0M491.1 162h0M490.8 157.6h0M492.1 152.7h0M491.5 166.3h0M501.6 149.3h0M492.5 152.9h0M499.5 153.6h0M489.2 162.1h0M508.1 157.8h0M496.6 145h0M502.4 147.5h0M493.9 154.2h0M493.7 159h0M493.3 161.3h0M490.4 166h0M503.5 154.1h0M520 140.2h0M489.3 165.1h0M513.5 125.2h0M503.9 159.5h0M507.3 136.9h0M490.5 147.7h0M504 158.1h0M493.7 162.3h0M498.9 143.9h0M491.7 165.3h0M520.5 123.9h0M502.8 156.6h0M495.4 162.6h0M488.5 165.8h0M503.5 136h0M504.3 138.6h0M493.1 163.8h0M493.1 165.8h0M512.4 118.9h0M490.2 166h0M488.4 164.1h0M510.8 162.9h0M488.7 156.1h0M502.5 158.5h0M518.1 139.4h0M500.5 166.3h0M490.1 161.3h0M518.6 105.5h0M490.6 165.9h0M496.7 164.7h0M489.4 168h0M498.7 147.3h0M489.9 168.4h0M515.3 136.8h0M494.2 160.5h0M489.9 156.5h0M501.6 148.4h0M503.5 153.9h0M530.2 105h0M497.2 164.1h0M489.7 170.6h0M498.7 136.6h0M517.2 148.5h0M491.6 171.5h0M494.6 154.1h0M488.6 166.4h0M520.1 109.9h0M498.9 136.4h0M514.7 138.6h0M501.9 139.4h0M495.4 163.5h0M504.8 168.1h0M505 133.8h0M541.9 96.8h0M499.4 146.9h0M546.4 111.1h0M502.9 159.1h0M499 140.8h0M496.1 144.4h0M492 148h0M492.4 155.2h0M490.5 169.4h0M497.8 168.3h0M508.3 135.4h0M498.8 164h0M503.1 146.1h0M497 142.3h0M488.2 157.5h0M495.2 169h0M510.9 135h0M487.6 166.6h0M488 160.8h0M495.3 158.9h0M509 143.7h0M491.5 156.1h0M491.8 156.8h0M499.2 153.6h0M488.3 169.2h0M493.6 164h0M488.7 165.6h0M507.5 130.4h0M508.8 142.9h0M510.9 125.2h0M497.7 150.4h0M491.9 157.5h0M491.9 144.4h0M499.9 147.4h0M492.3 149.7h0M503.8 146.9h0M515.4 132.9h0M502.7 143.6h0M496.9 158.9h0M507 149.2h0M498.6 157.6h0M489.4 167.9h0M488.8 171h0M487.7 164.4h0M492.8 155.6h0M491.2 158.9h0M500.9 147.3h0M523.8 93.2h0M499.9 156.9h0M489.5 164.5h0M499.6 147.2h0M511.5 149.7h0M518.2 125h0M492.8 164h0M502.2 144.1h0M507.2 148.7h0M500.1 155.5h0M555.2 102.8h0M489.5 170.3h0M506.8 155.4h0M498.1 150.3h0M488.8 167.2h0M494.2 154.1h0M489.7 167.1h0M496.2 159.6h0M493.2 163.3h0M508.4 146.3h0M525.5 122.9h0M494.8 152.8h0M511.2 132.6h0M509.7 139.1h0M503.3 134h0M493.3 170.9h0M490.7 153.4h0M493.9 157.6h0M510 155.7h0M503.8 149h0M499.3 151.8h0M489.8 165.9h0M541.2 125.3h0M489.9 149h0M496.3 159.7h0M488 167.6h0M503.1 146.3h0M566.9 113.9h0M496.9 156.8h0M488.3 166.1h0M489 159.4h0M490.9 159.7h0M502.6 144.4h0M508.5 143.2h0M491.8 162.4h0M508.8 145.1h0M513.9 139.4h0M495.4 145.5h0M492.8 150.9h0M494.9 149.7h0M510.8 113.5h0M487.8 163.2h0M495 167.1h0M491.7 171h0M491.6 154.8h0M508.9 125.7h0M495.6 146.5h0M487.8 169.4h0M497.1 157.6h0M501 156h0M488.8 167.7h0M489.1 154.9h0M510.1 165.7h0M492.3 156.8h0M499.1 149.1h0M541 100h0M544.3 66.7h0M495.2 161.5h0M491.6 146.4h0M500.6 144.3h0M498.4 153.6h0M488.6 162.7h0M535.5 119.1h0M490 156.6h0M512.5 114.6h0M496.8 143h0M496.3 147.3h0M502.5 163.1h0M494.6 160.5h0M488.3 167.7h0M493.8 148.1h0M496.2 162.4h0M489.7 169.7h0M489.7 157.4h0M495.8 156.3h0M488.3 169.6h0M490.1 159.6h0M488.2 150.9h0M498.2 147.3h0M489.7 157.8h0M546.9 88h0M491.2 157.1h0M490.9 154h0M519.2 100.6h0M516.2 121h0M492.4 151h0M492.6 163.8h0M494.2 143.8h0M513.8 149.4h0M509.1 130.8h0M497.5 141.7h0M505.8 134.3h0M492.9 170.2h0M526.3 101.9h0M520.2 150.4h0M505.5 157.7h0M491.8 152.6h0M500.5 154.4h0M501.4 155.8h0M500.1 136.6h0M496 165h0M488.8 170.8h0M488.6 154.7h0M488.2 161.5h0M491 158.5h0M516.4 137h0M495.7 171.2h0M509.2 135.2h0M488.8 155.2h0M507.8 155.5h0M494.4 151.6h0M502.9 137.6h0M502.2 147.7h0M502.6 152.2h0M493.8 160.8h0M561.2 56.8h0M488.4 159.4h0M521.3 131.7h0M493 163.3h0M505.2 151h0M489 161.4h0M495 155h0M505.8 143.3h0M492.3 162.6h0M497.1 161.1h0M496.6 155h0M487.6 164.7h0M492.7 154.2h0M489.9 170.5h0M491.8 162.6h0M489.9 164.3h0M500.1 157.5h0M501.4 142.2h0M494.8 169.6h0M495.8 159.8h0M498.2 165.9h0M495.8 163.2h0M498.6 146h0M530.9 108.1h0M511.3 147.6h0M523.5 133h0M528 136.7h0M494 164.8h0M559.7 109.6h0M502.1 143.5h0M494.2 167.3h0M489.3 159.1h0M532.9 97.8h0M515 139.3h0M488.3 154.6h0M506.9 152.6h0M492.6 153.6h0M499.5 154.3h0M494.3 164.5h0M490.3 151.4h0M492.2 147.3h0M490.2 159.3h0M488.5 153.6h0M489.8 169.8h0M490.8 152.7h0M492.3 152.8h0M489.2 168.7h0M504 156.5h0M514.2 142.8h0M490.4 169.9h0M498.1 155.2h0M501.4 143.4h0M496.3 155.6h0M496.9 158.3h0M498.8 141.9h0M506.9 146.2h0M492.8 155.3h0M513.6 146.1h0M498.9 161.3h0M488.5 163.6h0M492.6 159.8h0M505.7 144.4h0M491.3 165.9h0M581.4 70.4h0M538.2 110.9h0M488.4 167.9h0M521.3 127.1h0M487.8 170h0M493 157.1h0M494.5 154.9h0M491.1 163h0M493.7 155.5h0M490.7 162.2h0M489.5 168.3h0M522.7 132.2h0M507.3 141.1h0M512.9 139.9h0M489.2 163.7h0M517.7 125.6h0M492.7 160.6h0M515.5 129h0M498.2 148.7h0M488.2 162.1h0M489.2 169h0M494.6 154.8h0M505.9 133.7h0M487.9 163.3h0M501.4 159.7h0M560.4 71.5h0M516.6 127.1h0M499.1 132.1h0M488.6 171.7h0M500.3 157.8h0M506 138.2h0M491 151.4h0M498.9 160h0M506.6 130h0M489.1 154.8h0M505.7 147.7h0M489.9 170.8h0M504.9 153.4h0M488.3 166h0M493.7 155.2h0M493.2 161.9h0M492.5 165.6h0M491.2 156.3h0M518.4 130.2h0M488.1 156.9h0M488.1 171.5h0M506.1 140.9h0M552.5 98.5h0M495.7 160.2h0M491.7 149.3h0M502.5 139.6h0M490.3 167.2h0M497.3 155.2h0M497.6 154.8h0M488.8 165.8h0M490.9 162.8h0M489.5 157.2h0M494.8 153h0M517.4 116.7h0M489.8 158.3h0M506.3 111.2h0M489.2 157.9h0M488.3 156.7h0M516.1 152.5h0M513.2 128.4h0M491.5 161.3h0M562.4 92.9h0M509.1 136h0M491.6 146.4h0M487.6 165.9h0M488.1 167.4h0M492.5 155.1h0M493.9 153.1h0M497.5 149.5h0M503.5 144.5h0M497.9 156.1h0M488.6 165.7h0M540.7 105.3h0M499.2 154.8h0M498.1 143.4h0M497 151.6h0M490.7 157.1h0M493.5 149.4h0M506 137.4h0M490.8 165.5h0M495 152.4h0M511.3 141.4h0M520.7 150.3h0M493.4 152.4h0M500.1 161.1h0M509.1 132.8h0M490.3 165.9h0M490.5 163.1h0M565.4 89.2h0M490.6 158.5h0M490.4 166.8h0M496.4 147h0M487.9 169h0M491.2 163.4h0M500.8 162.6h0M488.6 166.4h0M505.4 158h0M490.5 155.8h0M490.1 166.2h0M488.4 171.6h0M504.4 159.3h0M492.7 156h0M488.3 160.5h0M532.9 105.1h0M525.7 139.1h0M519.7 109h0M490.3 160.6h0M491.1 148.4h0M514.1 134.9h0M529.1 153.1h0M510.3 144.4h0M496.5 158.7h0M489.5 170.2h0M487.8 156.1h0M510.5 138.5h0M513.4 122.3h0M495.5 163.8h0M487.8 156h0M516.7 125.6h0M488.4 161.4h0M496.7 147.1h0M489.9 158.3h0M489.6 158h0M492.4 159.4h0M497 146.4h0M513.4 146.2h0M487.6 168.3h0M488.8 162.3h0M494.9 168.5h0M491.2 163.7h0M492.2 164.2h0M573.1 98.3h0M491 151.8h0M490 168.6h0M492.9 160.2h0M498.4 136.9h0M490.1 168.7h0M489.8 162.7h0M514.8 122.7h0M493.4 155.8h0M509.6 151.8h0M489.7 162.1h0M490.8 168.8h0M496.2 156.8h0M508.2 145.8h0M488.8 153.9h0M512 123.1h0M488.5 163.8h0M492.9 160.4h0M503.4 158.6h0M492.3 170.2h0M500.1 148.4h0M488.2 166.8h0M490 168.7h0M487.6 168.6h0M492.6 154.7h0M491.6 156.7h0M535.5 153.7h0M488 156.7h0M493.1 163h0M493.9 152.9h0M488.5 157.8h0M499.5 149.2h0M489 161.9h0M514.7 114.1h0M489.3 167.9h0M489.5 170.2h0M518.1 134.8h0M550.7 81.6h0M535.1 118.7h0M537 57.5h0M491.8 155.7h0M532 153.6h0M505.5 158.3h0M557.3 79.7h0M493.4 167.3h0M520.6 106h0M489.7 161h0M522.6 129.6h0M497.2 143.9h0M490.6 165.4h0M488.5 171.7h0M493.3 168.7h0M492.3 161.4h0M492.5 147.9h0M505 155h0M505.6 142.1h0M502.1 139.4h0M525.8 139.6h0M511.5 143h0M546.1 90.3h0M514 114h0M495.5 149h0M500.9 149.8h0M505.6 138.5h0M506.9 132.9h0M488.9 167.7h0M488.9 171.4h0M498.8 148.6h0M494.5 167.5h0M498.9 164.6h0M548.9 67.1h0M501.6 145.3h0M498.2 144h0M500.9 137.9h0M525.1 153.7h0M490.2 167.6h0M491 159.8h0M492.4 157.5h0M496.1 162.2h0M488.4 161.9h0M487.7 160.9h0M502 137.8h0M490.1 155.7h0M492.3 163.3h0M523.3 151.2h0M496.1 148.3h0M500.4 153.5h0M494.7 155.7h0M492.2 154.2h0M489.2 159.8h0M493 169.7h0M490.9 158h0M570.4 131h0M528.9 122.7h0M490.8 162.6h0M490.8 159.1h0M512.4 134.8h0M487.8 169.7h0M494.6 157.9h0M527.5 94.8h0M509.9 152h0M494.3 156.3h0M489.6 163.4h0M512.1 129.6h0M491.8 142h0M490 166.4h0M488.1 169.1h0M505.4 150.2h0M490.3 161.1h0M490 162.8h0M493.8 149.9h0M487.7 165.3h0M491.1 161h0M492.2 161.4h0M537 130.2h0M489.3 157.4h0M506.3 134.8h0M498 141h0M490.8 165.9h0M494.4 155.2h0M561.9 56.5h0M491.7 169.1h0M488.2 154.4h0M554.2 99.7h0M489.1 160.7h0M493.4 167.9h0M494.3 154.1h0M489.4 170.6h0M492.1 156.6h0M495.9 154.4h0M489.1 159.7h0M524.5 135.4h0M489.6 164.4h0M508.1 152.1h0M499.7 147h0M488.9 163.1h0M497.8 165.8h0M513.5 127h0M489.9 165.1h0M488.2 159.5h0M489.9 161.8h0M492.6 163.9h0M492.4 160.8h0M492.9 154.4h0M495.9 150.5h0M489.5 165.4h0M491.6 152.9h0M511.5 138.9h0M507.4 140.3h0M508.5 138.4h0M494.7 150.7h0M498.7 147.9h0M490.2 165h0M492.3 155.9h0M492.1 144h0M490 167.2h0M495 155.4h0M491.6 151.5h0M494.1 150.2h0M493.9 158.2h0M488.1 167.1h0M489.6 165.7h0M504.7 154.3h0M490.2 157h0M494.2 146h0M499.8 149.1h0M491.1 160.1h0M497.2 144.7h0M515.2 152.8h0M499.9 148.7h0M538.8 60.5h0M503.6 155.9h0M492.6 161.9h0M509 139.2h0M511.5 136.1h0M496.2 155.5h0M500.9 152.1h0M534.5 110.6h0M513.2 126.8h0M490.4 169.5h0M488.4 158.2h0M569.7 86.7h0M495.8 152.3h0M487.7 163.1h0M493.7 147.5h0M497.8 152.9h0M488.3 157.1h0M493.8 167.1h0M491.1 156.3h0M489.4 170.6h0M527.8 155.2h0M487.6 156.7h0M494.1 168.2h0M501 158.6h0M526.7 119.1h0M491.6 165.3h0M521.8 148.2h0M491.9 147.4h0M491 159.8h0M493.3 156.1h0M512.7 167.2h0M489.5 154.6h0M548.9 80h0M502.5 160.8h0M498.3 147.1h0M487.8 162.9h0M496.1 170.1h0M512.6 140.7h0M517.3 149.2h0M492 151.9h0M489.8 165.7h0M487.8 161.3h0M489.5 162.2h0M496.8 162.6h0M495.9 154.6h0M496.8 152.2h0M497 164.2h0M487.9 164h0M513.7 138.7h0M492.4 160.8h0M516.2 134.2h0M491.8 155.4h0M489.1 170.6h0M489.4 160h0M509.6 112.2h0M525.4 116.5h0M488.7 156.6h0M499.2 143.3h0M502.5 150h0M487.6 165.2h0M587.1 67.2h0M492.4 157.1h0M502.5 141.3h0M491.8 147.9h0M490.8 158.3h0M518 103.9h0M516.5 139.9h0M501.3 140.2h0M488.9 154.9h0M520.4 105.4h0M492.4 164.1h0M495.9 152.6h0M488.8 171.2h0M533.9 108h0M541.8 74.9h0M488 167.8h0M489.1 170.8h0M521.6 113.9h0M501.6 131.6h0M507.2 159.4h0M489.1 156.6h0M495.1 164.7h0M564.9 97.3h0M488.7 165.2h0M502.5 138h0M495.8 139.1h0M495 168.9h0M507.4 138.4h0M487.9 165.4h0M503.4 143.8h0M491.5 155.5h0M492.9 159.6h0M495.8 155.5h0M498.8 139.3h0M488.3 164.8h0M527.9 119.6h0M492 169h0M491 153.3h0M495.1 157.2h0M492.6 143.1h0M491.2 166.8h0M491 162h0M488.6 159.6h0M498.1 147.3h0M487.7 164.2h0M491.2 165.1h0M495 149.8h0M493.3 169.8h0M492.4 156.9h0M502.8 148.5h0M492.3 153.9h0M491.1 157.8h0M491.6 162.5h0M522.1 125.2h0M487.8 162.1h0M495.1 162.2h0M503.4 151.8h0M503.4 134.7h0M489.5 171.2h0M494.5 164.2h0M490.4 166.4h0M490.1 160.4h0M488.8 170.4h0M489.6 168h0M511.2 163h0M499 148.8h0M493 169.9h0M498.2 151h0M504.7 124.6h0M503.9 160.9h0M519.6 138.1h0M493.7 162.2h0M491 171h0M499.2 149.7h0M492 157.4h0M525.2 108.9h0M503.2 125.3h0M509.2 144.3h0M493.7 163.9h0M513.9 145.4h0M498.3 148h0M490.2 160h0M488.8 161.7h0M489 165.5h0M491.4 164.2h0M490.6 157.9h0M493.5 167.4h0M497.4 155h0M527.1 74.9h0M493.9 155.3h0M491.8 167.1h0M490 153.7h0M497.7 160.9h0M492.5 150.1h0M488.1 162h0M489.5 158.2h0M502.3 153.5h0M489.8 160.7h0M489.9 169h0M493.1 165.5h0M488.8 161.6h0M488.4 163.4h0M494.8 156.4h0M494.5 165.8h0M506.8 152.7h0M493.9 143.7h0M494.9 153.5h0M497.4 151.1h0M489.2 166.2h0M496.7 154.7h0M490.6 154.2h0M493.8 157.6h0M488.3 163.7h0M491.7 150.8h0M498.2 150.2h0M582.1 67.3h0M507.8 123.1h0M491.7 158.2h0M496.6 160.1h0M493.1 168.9h0M501.3 147.3h0M498 147.9h0M492.1 164.1h0M489.8 165.7h0M494.3 149.4h0M493 157.1h0M489.1 154.9h0M512.3 145.4h0M491 163h0M490.9 164.8h0M493.1 140h0M488.4 165.5h0M493.4 159.6h0M491.6 165.6h0M505.1 129.1h0M519.7 124.4h0M516.7 131h0M489 150.8h0M488.3 153.5h0M492 157.1h0M503.1 145.4h0M492.8 150h0M488.3 169.2h0M509.6 140.6h0M495.2 149.4h0M492.7 164.6h0M532.5 104.4h0M506 142.9h0M507.9 132.8h0M489.4 164.2h0M492.7 160h0M524.8 107.8h0M489.6 169.5h0M504.9 152h0M529.2 105.7h0M499.3 145.7h0M493.7 163.8h0M492.3 166.4h0M492.8 158.6h0M538.7 94.4h0M506.1 135.1h0M518.2 132.7h0M495.7 160.6h0M507 147.5h0M491.7 156.4h0M491.3 162.8h0M487.6 155.3h0M505.8 125.6h0M492.2 156h0M493.2 161.3h0M490.4 171.8h0M489.5 167.7h0M489.4 171.6h0M494.7 157.6h0M487.9 161.1h0M514.2 105.7h0M489 166h0M489.2 162h0M500 160h0M499.6 140.5h0M494.4 157.5h0M529.7 102h0M488.7 167.4h0M498.3 141.7h0M489.7 160.5h0M494 156h0M511.8 136.8h0M490 163.7h0M502.7 134.6h0M494.4 155h0M540.8 106.4h0M523.9 131.7h0M491.7 165.7h0M488.5 160.7h0M488.2 166.6h0M500.2 146.2h0M496.6 158.9h0M487.8 164.7h0M497.1 154.1h0M579.5 95h0M497.7 158.4h0M492.1 160.5h0M488.2 168.4h0M559.1 87.3h0M493.4 146.2h0M500.2 150.7h0M495.3 163.2h0M490 170.1h0M492.1 157.1h0M497.8 161.2h0M497.7 156.3h0M487.6 170.4h0M487.8 168.3h0M488 159h0M487.7 161.9h0M491.7 169.9h0M543.1 111.5h0M487.9 163.3h0M513.9 121.1h0M497.3 161.5h0M493.1 156.2h0M488.9 159.6h0M495.2 145.6h0M491.5 169.5h0M488.5 160.4h0M542 109.1h0M489.8 159.1h0M490.9 148.1h0M497.4 153.9h0M490.8 167.4h0M571 79.2h0M506.6 137.4h0M517.4 117.7h0M503.5 151.6h0M490.9 168.4h0M526.3 140.3h0M487.9 167.7h0M488.3 160h0M495.8 152.4h0M496.4 144.5h0M487.9 167.6h0M490 160.1h0M500.3 160.3h0M496.5 160.8h0M506.5 154.1h0M519.2 121.5h0M500.1 149.3h0M490.8 149.7h0M489.4 162.1h0M510.9 122.2h0M523.5 110.9h0M507.4 169.7h0M505.7 147.7h0M533.3 141.8h0M489.6 163.6h0M510.7 118.2h0M494.3 154.7h0M490.6 149.7h0M489.1 161.6h0M490.8 165.4h0M491 166.4h0M488.3 152.5h0M491.7 166.3h0M514.5 144h0M489 153.3h0M515.7 153.1h0M490.4 166h0M489.4 155.6h0M496.6 143.3h0M515.9 114.6h0M492.1 165.7h0M488.8 169h0M495 144.5h0M506.1 166.6h0M493 152.3h0M490.7 162.8h0M490.5 167h0M491.6 149.9h0M496.4 146.8h0M489.7 167.8h0M493.2 158.5h0M493.4 162.3h0M490 166.7h0M493.5 169.3h0M488.7 164.2h0M491.1 159.3h0M491.6 163h0M488.9 161.7h0M511.8 126.1h0M488.3 165.7h0M514.9 116.9h0M504.1 137.3h0M499.3 160h0M570.3 100.3h0M508.8 146.9h0M504.6 167.3h0M493.1 166.2h0M497.4 150h0M491.7 168.8h0M523.1 98.2h0M489.2 164.9h0M488.6 167.5h0M499.2 147.4h0M489.7 167.2h0M497.2 154.1h0M492 148.6h0M503.2 159.3h0M487.8 163.9h0M502.5 142.5h0M495.5 168.6h0M517.3 120.8h0M496.1 157.9h0M525.2 85.6h0M498.6 157.5h0M497.2 152h0M495.9 148h0M500.1 150.6h0M566.9 75.8h0M517.6 134.7h0M490.2 162.1h0M493.9 161.9h0M500.5 161.5h0M508.5 130.7h0M490.8 159.1h0M488.5 169.6h0M499.8 165.7h0M515.3 137h0M489.5 158.5h0M491.4 145.6h0M576.9 79.8h0M501.7 137.9h0M512.6 138.3h0M487.9 168.2h0M491 146.1h0M489 171.3h0M576.6 84.2h0M489.2 157.1h0M488.6 163h0M555 117.6h0M503.2 148.2h0M532 107.5h0M488 156h0M526.6 106.7h0M501.3 137.8h0M508.3 141.1h0M492.3 168h0M490 154h0M494.7 168.7h0M498.6 140.1h0M491 165.2h0M526.4 132.5h0M491.9 163h0M493.9 157.8h0M504.8 159.6h0M487.7 165h0M500.1 147.1h0M510.7 126.1h0M488.4 170h0M499.2 157.2h0M514.7 155h0M491.8 159.1h0M488.2 160.2h0M488.1 165.1h0M505.9 146.4h0M493.4 145.6h0M522.5 129.9h0M489.6 165.8h0M535.2 82.1h0M491 156.8h0M490.6 168.4h0M487.6 166.8h0M499.1 147.3h0M507 127.6h0M495.1 156.9h0M489.1 172h0M496.7 155.2h0M494.1 150.5h0M488.8 161.6h0M492.1 149.6h0M497 154.9h0M488.2 151.7h0M492.9 160.1h0M510.3 145.5h0M489.7 151h0M500.2 169.7h0M493 156.8h0M512.8 157h0M510.1 160.2h0M494.1 150.2h0M497.6 139.6h0M530.7 117.8h0M507.1 130.3h0M498.4 158.4h0M555.2 120.1h0M517.3 110.1h0M489 161.3h0M500.3 161h0M487.8 169.5h0M495.7 151.3h0M539.1 91.2h0M537 101.7h0M502.7 157.6h0M495.6 164.2h0M488.5 161.8h0M488.2 161.8h0M495.9 152.2h0M507.1 163.2h0M496.3 151.1h0M490 157.7h0M544.7 107.9h0M491.1 155.9h0M493.6 167.5h0M492.2 171.7h0M491 163.5h0M493.9 161.7h0M487.9 169.7h0M504.8 146.8h0M490.4 169.8h0M492.1 166.6h0M492.1 167.4h0M575.4 87h0M493 169.8h0M489 166.9h0M512.1 119.1h0M508.2 148.6h0M491.4 162.3h0M491.9 156.6h0M493.4 151.5h0M501.1 144.9h0M492.6 159.1h0M491 167.4h0M514 108.8h0M571.2 85.9h0M506.2 150.8h0M498.3 152.2h0M520.4 137h0M505.1 145.4h0M496.1 163.9h0M489.6 171h0M493.7 163.6h0M490 167.6h0M489.9 157.3h0M490.5 150.1h0M491.8 159.7h0M500.9 147.5h0M497.8 151.8h0M490.2 149.2h0M512.9 123.2h0M499.1 159.3h0M492.8 160.9h0M513.6 126.4h0M491.6 156.8h0M491.2 167.3h0M489.4 164.2h0M488 165.9h0M491.2 161.3h0M571.2 83.7h0M490.6 160.2h0M523.7 101.4h0M491 154.3h0M493.2 153.3h0M494 144.9h0M514.5 137.8h0M545.9 100h0M487.8 159.7h0M517.7 145h0M491.2 156.8h0M498.3 145.5h0M505.4 142.5h0M493.6 155.7h0M530.3 150.8h0M496.4 154.7h0M488.6 167.3h0M488.7 165.9h0M521.4 103h0M488 168.3h0M550.7 70.3h0M493.2 170.4h0M488.1 164.4h0M507.1 130.3h0M500.9 128.9h0M500.7 154.2h0M490.2 159.1h0M530.5 93.1h0M496 146.6h0M500.2 147.5h0M489.9 159.2h0M511 146.7h0M498.8 158.9h0M491.1 167.7h0M490.7 165.3h0M494.3 152h0M519.8 123.4h0M493.2 153.2h0M515.2 133.7h0M489.6 166.6h0M562.3 53h0M502.6 137.7h0M489.7 164.2h0M488 161.1h0M488.4 168.6h0M489.6 163.5h0M491.1 162.2h0M489.6 168.7h0M488.8 162.2h0M495.6 149.1h0M497.2 150.9h0M488.4 156.6h0M495.4 169.3h0M492.6 157.8h0M533 82.2h0M525.8 111h0M489 157h0M537.5 116.6h0M488.1 154.7h0M489.2 158.1h0M488.9 167.5h0M513.6 141.5h0M489.3 167.7h0M504.1 136.4h0M501.1 160h0M487.9 163.5h0M495.4 146.2h0M512.5 139.2h0M499.4 151.6h0M530.1 104.6h0M495.4 155.8h0M503.1 149.3h0M499.7 144.6h0M493.6 169.5h0M491.2 159.2h0M488.7 160h0M488.1 154.5h0M490.4 166.3h0M503 162.3h0M499.8 150.6h0M493.8 156.7h0M489.9 156.2h0M492.1 160.9h0M490.5 164.4h0M494.9 153.1h0M543.5 57.7h0M491.9 145.4h0M499.7 151.8h0M488.8 155.5h0M496.1 171.1h0M491.2 158.4h0M503 157.6h0M490.5 161.6h0M488.9 159h0M524 91.9h0M496 156.8h0M490.8 161.9h0M538.5 79.2h0M526.5 119.7h0M488 171.1h0M488.3 159h0M502.9 128.6h0M490.6 155.3h0M501.3 146.4h0M542.6 108.4h0M493.3 155h0M488 166.2h0M493.2 151.7h0M493.3 151.7h0M520.7 112.8h0M489.7 164.8h0M493 161.8h0M526.2 134.3h0M499.9 146.3h0M488.8 156.6h0M490.3 164.2h0M492.2 171.2h0M488.1 167.3h0M501.4 162.1h0M502.9 158h0M525.3 137.2h0M497.1 153.1h0M505.8 137.9h0M489.4 170.3h0M516.2 112h0M520.8 111.7h0M503.2 142.5h0M490.2 165.6h0M519.2 115.4h0M488.4 169.1h0M491.4 155.6h0M498.1 155.9h0M498.4 152.5h0M509.1 143.3h0M488.2 169.9h0M506.8 127h0M531.3 123.4h0M488.7 164.7h0M491.7 165h0M518.3 110.6h0M489.6 169.5h0M493 163.1h0M491.7 159.5h0M494.3 161.5h0M498.7 139.7h0M493.4 166.8h0M494 152.5h0M519.1 109.9h0M489.6 153.8h0M504.6 140.4h0M488.5 161.4h0M488.7 171.9h0M492.7 152.9h0M495.1 158.1h0M489.5 150.3h0M493.2 164.1h0M490.9 162.1h0M487.9 169.1h0M494.7 155.9h0M498 152.6h0M499.2 141.7h0M489.3 160.1h0M488.2 162.1h0M490 167.8h0M517.5 157.9h0M494.7 160.7h0M540.2 118.5h0M517.1 105.5h0M488.5 157.6h0M488.2 162.4h0M489.3 154.9h0M536.4 109.7h0M492.8 152.3h0M491.7 167.7h0M507.4 143.1h0M491 165.8h0M495.1 151.2h0M511.4 138.3h0M489.1 171.9h0M491.9 146.5h0M489.7 161.6h0M551.6 83.5h0M491.4 150.1h0M491.7 166.6h0M489.7 147.3h0M528.4 115.6h0M497.6 155.8h0M492 158.8h0M510.7 131.2h0M487.6 166.5h0M492.3 161.4h0M495.6 168.4h0M540.6 93.2h0M498.3 161.9h0M490.8 158.3h0M494.6 157.4h0M490 153.9h0M526.7 111.5h0M522.6 116.1h0M518.8 117.2h0M568.3 77.2h0M493.7 157.8h0M498 154.2h0M488.1 160.1h0M492.7 162h0M491.7 152.9h0M489.6 164.5h0M533.2 134.3h0M509.2 149.8h0M524.2 108.7h0M497.6 143.6h0M489.3 155h0M535.9 106.9h0M492.6 145.4h0M500.1 157h0M533.8 149.9h0M495.5 159.2h0M487.6 164.7h0M497.3 152.3h0M493.3 157.9h0M492.8 155.9h0M491.1 167.8h0M488.2 158.8h0M494.5 143.7h0M487.9 169.3h0M500.1 147.3h0M536.6 88.6h0M498.4 146.8h0M503.7 157.3h0M534.8 92.1h0M489.2 155.6h0M487.8 169.6h0M487.9 159.7h0M533.1 102.3h0M508.2 152h0M492.1 159h0M490.7 154.1h0M523.2 143.8h0M525.5 104.6h0M490.4 163.6h0M511.3 132.1h0M489.5 171.6h0M488.3 162.4h0M556.8 105.2h0M498.4 157.8h0M490.1 167.2h0M487.6 165.2h0M502.1 169.8h0M495 155.8h0M495.1 150.9h0M490.4 165.7h0M489.1 167.3h0M492.8 162.2h0M506.4 158.1h0M551.3 84.1h0M498.7 154.6h0M515.1 138.2h0M499.3 153.2h0M490.8 155.1h0M493.6 160.6h0M490.6 164.2h0M492 155h0M489.9 168.6h0M528.8 116.3h0M500.4 156.3h0M487.6 160.4h0M491.2 159.6h0M503.1 141.4h0M497.6 159.8h0M493.4 149.4h0M493.7 160.8h0M489.1 170.1h0M494.8 143.8h0M491.2 161.8h0M577.3 89.4h0M489.6 160h0M493.3 149h0M539.9 80.5h0M497.6 157.5h0M503.8 125.2h0M490.2 152.1h0M496.7 154.9h0M502.6 156.8h0M499.8 142.1h0M551.9 104.7h0M488.6 158.2h0M505.4 159.5h0M491.3 156.9h0M497.3 137.1h0M519.5 129.2h0M495.6 152.1h0M493 157.7h0M494.1 158.2h0M499.6 168.6h0M489.4 164h0M492.8 159.1h0M530.9 91.5h0M501.8 149.7h0M502.5 152.9h0M493.7 155.5h0M491.8 171.7h0M491.7 155.2h0M491.4 160.4h0M505.1 142.3h0M500.8 147.7h0M504.8 145.9h0M495.7 138.7h0M492.2 159.2h0M488.4 162.2h0M502 145.4h0M509 146.7h0M503.6 143.4h0M492.3 162.5h0M489.1 164.1h0M490.8 150.9h0M492.2 168.9h0M488.5 153.3h0M492.6 166.4h0M487.6 171.6h0M490.8 162.6h0M492.4 163h0M510.5 137.1h0M489.8 154.2h0M499.8 143.2h0M491.4 163.3h0M502.8 143.7h0M496.8 148.6h0M517.5 118.4h0M490.4 161.6h0M489.9 151.5h0M495 154.5h0M488.3 162.2h0M487.8 160.4h0M495.9 156.2h0M490.2 160.3h0M494.7 162.3h0M508.9 147.4h0M488.7 165.7h0M489.1 171.7h0M492.1 150.1h0M488.3 164.7h0M510.7 154.5h0M498.3 152.5h0M496.6 154.5h0M494.3 154.3h0M492.8 154.2h0M542.4 122h0M491.4 158.9h0M510.3 139h0M496.4 146.9h0M497.3 146h0M488.8 171.8h0M510.6 145h0M488.5 161.4h0M500.4 141.5h0M488.1 162.9h0M496.4 161.6h0M493 145.2h0M495.3 155.6h0M527.3 120.2h0M494.9 158.4h0M497.9 150.8h0M498 157.4h0M490.9 155.8h0M540.7 97.5h0M490 166.8h0M488.9 158.2h0M488.5 168.6h0M569.6 79.1h0M519.9 112.4h0M493 157.6h0M493 157.3h0M488.6 168.6h0M491.5 163.7h0M491.2 153.3h0M530.8 125.1h0M488 164.3h0M496.1 153.2h0M490.3 169.1h0M559.5 65h0M540.3 118.3h0M491.9 159.8h0M488.5 162.2h0M490.5 163.7h0M487.7 160.7h0M487.7 168.8h0M488.4 166.8h0M488.1 161.9h0M501.5 165.1h0M500.4 146.2h0M492.5 162.5h0M504.1 143.5h0M535.1 126h0M501.4 153.6h0M487.7 166.1h0M494.8 158.8h0M517.2 125h0M506 133.1h0M494.7 151.7h0M491.9 155h0M503 136h0M502.8 137.1h0M489.3 170.9h0M489.9 171.5h0M487.7 169h0M544.3 106.3h0M492 155.6h0M488.2 165.2h0M488.4 170.2h0M585.7 88.4h0M570 80.2h0M489.4 160.2h0M503.7 151.8h0M496.6 162.8h0M491.3 166.1h0M500.2 154.1h0M493.3 156h0M502.7 142.9h0M489.2 155.8h0M516.5 123.4h0M493 160.6h0M537.4 98.1h0M493.8 158.7h0M498.4 155.4h0M492.2 155.2h0M492 167h0M491.2 147.7h0M495 164.5h0M487.9 156.3h0M492 158.4h0M488.5 169.7h0M492.2 162.4h0M532.3 107.1h0M491.8 165.7h0M490.9 154.8h0M490.8 158.8h0M487.7 166h0M497.8 165.8h0M488.4 163.8h0M488.2 164.1h0M495.6 157.2h0M507.6 146.6h0M500.4 161.5h0M496.3 145.2h0M506.6 145.3h0M513.3 119.3h0M491.4 150.5h0M512.2 145.2h0M489 166.2h0M493.1 154.3h0M538.4 100.7h0M494.3 152h0M500 164.4h0M490.7 157.5h0M513.7 130.8h0M490.8 166.7h0M499.7 149.9h0M488.5 151.5h0M490.1 167.4h0M511.9 131.1h0M497.2 152h0M502.8 149.3h0M500.6 145.9h0M487.9 166.1h0M488.5 156.8h0M488.4 161.5h0M490.7 162.6h0M529.8 121h0M503.5 144.2h0M500.4 129.9h0M488.6 161h0M489.8 162.2h0M520.3 135.5h0M493.1 151.5h0M513.9 113.4h0M495.4 168.3h0M529.9 148.1h0M490.1 165.9h0M489 157.1h0M535.8 143.7h0M512 133h0M531.1 132.9h0M488.5 162.3h0M526.9 98.3h0M489.9 161.3h0M489.8 154.5h0M516.4 120.2h0M489.6 155.3h0M489.3 164h0M487.9 170.1h0M499.4 152h0M489.9 165.6h0M493.3 166.6h0M526.7 107.5h0M496.6 155.5h0M498.8 133.6h0M509.1 127.9h0M495.7 147.5h0M509.9 150.8h0M521.5 117.5h0M487.7 169.9h0M488.9 160h0M526.4 140.1h0M532.9 114.5h0M512.7 146.9h0M512.8 130h0M489.7 162.9h0M492.3 144.3h0M489.4 156.7h0M493 163.6h0M488.4 171h0M489.9 165.4h0M503.7 160h0M487.6 171.2h0M496.8 171.9h0M492.7 168.9h0M489.8 160.1h0M494.6 162.4h0M490.8 159h0M502.5 172h0M497.5 163.4h0M496.7 160.9h0M489.3 161.5h0M494.9 159.3h0M492.1 170.1h0M496.2 160.4h0M489.6 166.4h0M498.6 160.5h0M491.3 168.9h0M497.5 170.1h0M487.8 171.4h0M492.8 161.8h0M501.5 168.3h0M488.6 162.4h0M488.3 158.8h0M500 169.9h0M489.1 171h0M502.1 169.5h0M496.6 162.5h0M489.8 169h0M490.8 167.6h0M501.6 170.8h0M501.4 170.8h0M495.6 168.9h0M490.4 170.5h0M499.2 159.6h0M489.3 170.3h0M495.3 171.5h0M497.3 161.7h0M487.9 168.2h0M502.7 169.4h0M487.8 168h0M495.5 163.3h0M494 171.8h0M497.2 165.1h0M494.8 167.6h0M488.7 167.8h0M488.8 161h0M499.6 169.6h0M498.3 169.1h0M497.4 168.6h0M499.3 164.7h0M491.2 160.2h0M493 158.8h0M494 171.7h0M496.9 171.3h0M502.9 169.5h0M494.8 170.3h0M495.1 170.9h0M488.5 170.4h0M499.8 163.7h0M489.6 165.8h0M492.6 170.3h0M489.2 165.8h0M488 169.5h0M502 166.4h0M503.5 169.5h0M497.9 162.1h0M494.3 166.8h0M495.4 161.7h0M494.9 170.1h0M494.2 166.4h0M494.1 168.9h0M501.5 165.4h0M488 171.4h0M500.8 158.9h0M502.2 168.6h0M504.8 170.1h0M501.2 171.4h0M490.1 160.1h0M494.1 170.3h0M490 162.1h0M491.3 170.5h0M493.2 165h0M498.7 163.3h0M491.1 171.1h0M496.6 167.4h0M498.1 170.4h0M501 167.7h0M502.2 168.9h0M503.3 159.6h0M502.4 166.2h0M501.1 171.7h0M498.5 167.9h0M489.7 167.7h0M497.5 161.8h0M502.9 161.2h0M493.8 167.5h0M490.2 163.6h0M490.3 163.7h0M488.1 171h0M493.5 164.4h0M493.5 160.7h0M487.9 161.1h0M487.9 167.9h0M494 168.1h0M493.3 162.1h0M495.7 169h0M491.8 161h0M490.5 171h0M493.7 171.7h0M497.6 167.6h0M491.5 164.9h0M494.6 171.4h0M487.9 161.1h0M504.4 168.4h0M489.3 166.8h0M491.1 166.2h0M501.2 159.6h0M488.1 160.1h0M489.1 159.3h0M487.9 168.5h0M502.9 164.8h0M495 163.2h0M501.9 168.5h0M501.9 163.1h0M491.1 161.2h0M491.4 168.1h0M495.6 165.4h0M501.8 160.6h0M498.8 164.1h0M499.6 164.1h0M496.8 169.6h0M494.3 167.1h0M504.4 168.8h0M491.4 161.4h0M503.9 164.9h0M499.9 171.2h0M496.6 171.6h0M499.3 161.8h0M494.3 163.8h0M493.1 169.9h0M492.7 162.4h0M500.6 170.1h0M491.3 170.3h0M494.1 171.4h0M487.7 168.2h0M501.5 167.7h0M505 171.5h0M490.1 159.2h0M503.4 171.5h0M491.7 165h0M495.8 165.3h0M501.7 162.5h0M495.5 167.8h0M488.8 165.1h0M501.2 169.7h0M488.4 163.2h0M488.1 161.7h0M492.7 170h0M491.6 160.6h0M499.3 162h0M492.9 169.2h0M490.7 169.5h0M496.1 170.3h0M503.4 170.4h0M500.4 168.4h0M490 165.1h0M490.3 159.6h0M497.1 162.3h0M499.7 162.6h0M494.1 170.6h0M495.1 168.9h0M493.1 163.7h0M500.1 162.7h0M503.3 167h0M500.4 160.9h0M492.8 163h0M488.5 166.4h0M493.6 168.6h0M504.5 161.1h0M503 170.1h0M491.6 170.6h0M492.4 165h0M504.4 167.7h0M499.2 164h0M489.3 170h0M498.8 170.9h0M496.8 171.1h0M487.7 159h0M492.7 163.2h0M499.2 163.1h0M503.5 159.5h0M492.8 171.5h0M504.4 164.7h0M504 163.3h0M497.6 170.1h0M496.1 169.7h0M504.2 162.2h0M488.3 171.4h0M498.8 171.7h0M504.3 171.5h0M495.4 160.1h0M493.2 160.1h0M497.2 171h0M502.5 163.6h0M497.1 165.3h0M488 170.9h0M491.2 170.1h0M502.7 161.2h0M500.3 170h0M491.8 171.8h0M497.7 159.9h0M503.7 167.6h0M502.1 166.5h0M487.6 169h0M503.6 166.5h0M497.3 163.7h0M490.6 170.9h0M493.3 167.5h0M501 165.5h0M493.7 171.5h0M488.5 169.8h0M496.3 171.4h0M489 167.2h0M490.4 165.8h0M501.9 169.1h0M487.8 168.9h0M489 166h0M488.6 165.5h0M487.7 162.3h0M497 163.7h0M496.7 159.1h0M496.9 170.6h0M490.7 167.4h0M489.6 164.3h0M501.1 170h0M489 167.6h0M494.9 166.6h0M502 170.4h0M487.9 162h0M504.2 168.7h0M499.3 161.9h0M491.9 169.5h0M495.7 171.1h0M495.7 160.6h0M499.4 172h0M496 170.1h0M488.9 166.5h0M489.3 165.1h0M492.8 165.8h0M504.3 171.3h0M489.7 169.9h0M491.5 160.5h0M490.4 164.2h0M494.5 169.1h0M499.1 164.7h0M501.4 161.2h0M504.5 170h0M501.5 168.6h0M490.5 171.2h0M494.1 169.8h0M500.5 169.4h0M490 170.6h0M499.2 165.1h0M497.1 169.2h0M500.4 166.7h0M501.6 165.8h0M500.6 165.2h0M491.1 171.5h0M490.9 161.3h0M499 162.7h0M490.5 164.8h0M493.9 169.7h0M489.8 169.8h0M490.5 167.3h0M494.6 167.6h0M495.4 166.9h0M495.6 163.5h0M491.5 161.4h0M490.3 160.4h0M490.7 171.7h0M489.2 166.6h0M496 169.4h0M503.7 165.5h0M499.6 164.6h0M495.6 165h0M495.1 171.2h0M502 161.9h0M499.1 170.8h0M491.7 172h0M496.5 166.7h0M492.7 159.1h0M491.7 162.7h0M496.4 165.3h0M493.1 163.5h0M492.8 171.9h0M494.7 159.4h0M501.2 171h0M503.2 171.4h0M488.2 164.6h0M495.9 165.6h0M500.7 168.4h0M489.7 170.5h0M493.6 171.1h0M491.9 170.3h0M494.8 159.1h0M499 170.8h0M501.9 160.8h0M500.4 167.1h0M495.3 164.4h0M495.1 162.2h0M487.9 159.6h0M500.3 163.5h0M495.5 160.1h0M494 166.3h0M495.8 165h0M503.4 159.6h0M488.4 168.6h0M503.2 159.1h0M496 170.2h0M504.2 171.3h0M487.9 164.9h0M493.8 167.7h0M487.7 163.2h0M490.8 167.8h0M493.1 169.7h0M487.8 165.3h0M490.2 167.4h0M487.9 162.7h0M504.2 159.7h0M494.2 164.9h0M490.3 169.2h0M487.9 160h0M489.9 168.7h0M494.9 164.2h0M490.7 166h0M488.2 169.5h0M501.1 170.1h0M495.1 167.8h0M490.7 171.1h0M504.2 169.3h0M500 166.1h0M501.3 160.1h0M497.7 171.2h0M491.9 167.7h0M490.1 161h0M499.7 165.7h0M504.3 165.1h0M489.7 162.9h0M488.2 161.9h0M492.5 169.1h0M500.5 162.8h0M494.1 170.1h0M503.4 168.2h0M499.4 159.3h0M503 159.5h0M490.1 162.5h0M492.6 163.3h0M495.7 169h0M495 165.4h0M489.6 171.3h0M487.7 168.6h0M495.2 166.3h0M496.8 160.1h0M491.6 169.8h0M494.9 170.3h0M503.7 170.5h0M492.1 169h0M489.7 169.9h0M494.8 167.8h0M501.5 169.3h0M489.2 167.9h0M493 167.1h0M490.2 165h0M495.1 162.7h0M489.1 165.2h0M488 171.9h0M491.1 162.7h0M489 168h0M501.5 168.7h0M487.9 163.4h0M501.6 166.2h0M488.4 163.6h0M503.2 164.7h0M495.1 160.3h0M500.1 168.3h0M498.8 163.8h0M499.6 170.5h0M493.6 168.2h0M492.2 165h0M496.4 171.3h0M490.9 162.1h0M489 171.4h0M498.1 171.3h0M494.7 161.6h0M487.7 164.2h0M488.9 170h0M500.8 165.4h0M504.4 170.6h0M489.5 170.5h0M501.3 171h0M497.3 164h0M488.3 159.6h0M502.1 159.3h0M495.6 171.4h0M492.5 169.1h0M496.6 165.4h0M501.5 164.6h0M495.6 168.6h0M487.7 170.1h0M498.8 171.5h0M490.8 171.5h0M502.6 159.8h0M499.9 163.7h0M501.9 159.3h0M490.5 169.8h0M487.7 171.5h0M497.6 171.8h0M494.4 163.8h0M491.4 163h0M489.5 170.8h0M490.6 169.6h0M498.5 169.3h0M498.4 171.3h0M489.6 169.8h0M501.3 169.3h0M488.5 171.5h0M496.3 170.9h0M498.3 171.2h0M491.8 162h0M496.9 171.8h0M496.9 161.8h0M492.7 164.9h0M490.8 167h0M496.3 170.7h0M491 161.4h0M492.5 169.5h0M492 161.4h0M491 171.8h0M502.5 163.4h0M490.2 166h0M504.9 170.7h0M491.6 162.9h0M501.7 163.4h0M489.2 171.5h0M489.4 167.4h0M500.8 165.2h0M498.3 165.9h0M498.6 162.7h0M500.9 164.5h0M494 165.8h0M488.6 170.3h0M499.8 163.7h0M488.3 166.5h0M503.3 166.2h0M498.4 168.1h0M502.4 164.9h0M489.8 164.2h0M494 159.5h0M490.4 169h0M493.6 171.7h0M496.6 163.8h0M487.8 159h0M497.1 170.4h0M487.7 170.1h0M498 167.7h0M490.8 162.1h0M502 163.3h0M501.4 160.9h0M496.7 164h0M489.9 170.4h0M494.8 162h0M490.4 170.3h0M494.4 168.9h0M488.3 166.1h0M496.7 171.7h0M502.9 160h0M493.1 171h0M488.1 166.7h0M488.7 170.9h0M492.8 166.4h0M496.6 162.5h0M493.8 170.4h0M496.3 160.7h0M494.8 168.6h0M497.5 161.4h0M488.1 166h0M498.4 170.9h0M504.1 169.6h0M495.9 165h0M489.5 170h0M487.8 165.8h0M503.3 161.3h0M491.5 162.9h0M490.9 165.8h0M493.6 159.9h0M490 160.5h0M502.8 162.3h0M497.6 164.5h0M488.1 159.4h0M490.2 165.7h0M501.2 160.2h0M501.8 163.7h0M487.7 167.5h0M498.3 170h0M490.2 167.1h0M501.7 171.3h0M504.6 164.3h0M498.7 163.9h0M496.6 167.3h0M492 162.1h0M491.5 160.5h0M490.1 164h0M500.6 165h0M500.4 166.7h0M491.7 160.3h0M489.2 159.5h0M499.4 170.6h0M553.4 152.9h0M516.6 154.6h0M520.5 169h0M547.9 133h0M539.8 142.6h0M519 167.5h0M509.7 171.1h0M515 169.3h0M572.7 139.1h0M510.8 171.9h0M541.8 140.9h0M549.2 138.7h0M526.2 151.3h0M538.7 157.2h0M577.2 130h0M573.7 121.9h0M571.7 140.9h0M518.7 152.7h0M575 140.9h0M570.8 138.8h0M547.6 137.2h0M547.6 146.9h0M511.4 155.8h0M549 149.7h0M510.9 162.9h0M516.9 149.2h0M512.4 171h0M558.5 128.7h0M537.6 158.3h0M529.7 148.6h0M529.3 160.2h0M572.4 137.9h0M541.4 155.5h0M523.3 165.9h0M547.7 137.6h0M511 155.7h0M548.9 133.5h0M571.8 139h0M519 161.7h0M550.1 133.2h0M525.8 38.6h0M532.8 49.7h0M573.3 54.1h0M571 60h0M518.9 64.4h0M539.7 63h0M553.6 67.4h0M583.7 110.1h0M594.1 126.3h0M586 133.7h0M596.5 139.6h0M555.9 160.2h0M557.1 158.8h0M554.8 161.7h0" stroke="#ee2c2c" stroke-width="1.3" stroke-linecap="round" fill="none"/>
<line x1="471.4" y1="20.7" x2="471.4" y2="199.2" stroke="#222" stroke-width="0.8" stroke-dasharray="2.7 2.25"/>
<line x1="487.6" y1="20.7" x2="487.6" y2="199.2" stroke="#222" stroke-width="0.8" stroke-dasharray="2.7 2.25"/>
<line x1="399.5" y1="171.8" x2="600" y2="171.8" stroke="#333" stroke-width="0.9" stroke-dasharray="2.7 2.25"/>
<path d="M399.5 20.7V199.15H600.9" stroke="#222" stroke-width="1" fill="none"/>
<line x1="397.4" y1="191.2" x2="399.4" y2="191.2" stroke="#333" stroke-width="0.8"/>
<text x="395.6" y="193.8" font-size="7.2" text-anchor="end" fill="#4d4d4d">0</text>
<line x1="397.4" y1="117.5" x2="399.4" y2="117.5" stroke="#333" stroke-width="0.8"/>
<text x="395.6" y="120" font-size="7.2" text-anchor="end" fill="#4d4d4d">5</text>
<line x1="397.4" y1="43.8" x2="399.4" y2="43.8" stroke="#333" stroke-width="0.8"/>
<text x="395.6" y="46.3" font-size="7.2" text-anchor="end" fill="#4d4d4d">10</text>
<line x1="410" y1="199.2" x2="410" y2="201.3" stroke="#333" stroke-width="0.8"/>
<text x="409.2" y="208.5" font-size="7.2" text-anchor="middle" fill="#4d4d4d">−6</text>
<line x1="444.8" y1="199.2" x2="444.8" y2="201.3" stroke="#333" stroke-width="0.8"/>
<text x="444" y="208.5" font-size="7.2" text-anchor="middle" fill="#4d4d4d">−3</text>
<line x1="479.5" y1="199.2" x2="479.5" y2="201.3" stroke="#333" stroke-width="0.8"/>
<text x="479.5" y="208.5" font-size="7.2" text-anchor="middle" fill="#4d4d4d">0</text>
<line x1="514.2" y1="199.2" x2="514.2" y2="201.3" stroke="#333" stroke-width="0.8"/>
<text x="514.2" y="208.5" font-size="7.2" text-anchor="middle" fill="#4d4d4d">3</text>
<line x1="549" y1="199.2" x2="549" y2="201.3" stroke="#333" stroke-width="0.8"/>
<text x="549" y="208.5" font-size="7.2" text-anchor="middle" fill="#4d4d4d">6</text>
<line x1="583.7" y1="199.2" x2="583.7" y2="201.3" stroke="#333" stroke-width="0.8"/>
<text x="583.7" y="208.5" font-size="7.2" text-anchor="middle" fill="#4d4d4d">9</text>
<text x="514.2" y="217.8" font-size="8.65" text-anchor="middle">log<tspan font-size="6.2" dy="1.7">2</tspan><tspan dy="-1.7">FC</tspan></text>
<text transform="translate(381.2 110.1) rotate(-90)" font-size="8.35" text-anchor="middle">−log<tspan font-size="6" dy="1.9">10</tspan><tspan dy="-1.9">FDR</tspan></text>
<rect x="503.2" y="58.7" width="21" height="8.4" fill="#fff" stroke="#444" stroke-width="0.7" rx="1.4"/><text x="513.7" y="65.2" font-size="6.5" text-anchor="middle">FGF7</text>
<rect x="530.1" y="58.7" width="23.4" height="8.4" fill="#fff" stroke="#444" stroke-width="0.7" rx="1.4"/><text x="541.8" y="65.2" font-size="6.5" text-anchor="middle">INHBA</text>
<rect x="557.7" y="58.7" width="19.2" height="8.4" fill="#fff" stroke="#444" stroke-width="0.7" rx="1.4"/><text x="567.3" y="65.2" font-size="6.5" text-anchor="middle">IBSP</text>
<rect x="539" y="79.6" width="28.8" height="8.4" fill="#fff" stroke="#444" stroke-width="0.7" rx="1.4"/><text x="553.4" y="86.1" font-size="6.5" text-anchor="middle">CXCL14</text>
<rect x="506.9" y="85.1" width="22" height="8.4" fill="#fff" stroke="#444" stroke-width="0.7" rx="1.4"/><text x="517.9" y="91.6" font-size="6.5" text-anchor="middle">BMP2</text>
<rect x="437.9" y="96.5" width="21.6" height="8.4" fill="#fff" stroke="#444" stroke-width="0.7" rx="1.4"/><text x="448.7" y="103" font-size="6.5" text-anchor="middle">CCN4</text>
<rect x="462.2" y="109" width="15.4" height="8.4" fill="#fff" stroke="#444" stroke-width="0.7" rx="1.4"/><text x="469.9" y="115.5" font-size="6.5" text-anchor="middle">ALK</text>
<rect x="429.1" y="115.5" width="28.4" height="8.4" fill="#fff" stroke="#444" stroke-width="0.7" rx="1.4"/><text x="443.3" y="122" font-size="6.5" text-anchor="middle">ICOSLG</text>
<rect x="469.4" y="121.6" width="26.2" height="8.4" fill="#fff" stroke="#444" stroke-width="0.7" rx="1.4"/><text x="482.5" y="128.1" font-size="6.5" text-anchor="middle">AURKA</text>
<rect x="448.4" y="129.2" width="16.9" height="8.4" fill="#fff" stroke="#444" stroke-width="0.7" rx="1.4"/><text x="456.8" y="135.7" font-size="6.5" text-anchor="middle">MET</text>
<text x="603.7" y="96.8" font-size="9.55">Expression</text><circle cx="609.2" cy="108.1" r="4" fill="#4682b4"/><text x="619.9" y="110.9" font-size="7.65">Down−regulated</text><circle cx="609.2" cy="119.1" r="4" fill="#b3b3b3"/><text x="619.9" y="121.9" font-size="7.65">Unchanged</text><circle cx="609.2" cy="130.1" r="4" fill="#ee2c2c"/><text x="619.9" y="132.9" font-size="7.65">Up−regulated</text><text x="513.3" y="248.6" font-size="11.2" text-anchor="middle">HuO9</text>
<path d="M522.3 416.8h0M523.5 410.9h0M524.1 414.6h0M520.4 420h0M524.3 410.9h0M514.4 428.5h0M520.6 419.9h0M523.5 417.8h0M513.2 432.1h0M526.9 411.4h0M525.5 414.1h0M516.7 427.7h0M522.5 416.9h0M525.3 412.2h0M517.4 425.8h0M529.2 412.1h0M519.2 423.9h0M522.7 415.7h0M518 426h0M525.5 410.5h0M525.1 411.8h0M516.9 427h0M516.4 427.6h0M522.7 417.2h0M512.7 432.7h0M517.7 423.4h0M523.5 413.1h0M520.9 419.7h0M527 415.2h0M513.8 431.6h0M524.1 414.4h0M524.1 413.7h0M519.1 422.1h0M514 430.7h0M517 426.6h0M523.7 414.3h0M527.1 411.1h0M518.8 422.4h0M521.4 418.8h0M523.3 414.4h0M524.7 413.5h0M525.8 410.8h0M514.6 429.2h0M527.4 411.3h0M520 422.7h0M518 423.3h0M518.7 423.2h0M516.2 427.5h0M524.1 415.5h0M514.1 430.6h0M525.1 410.1h0M517.2 425.1h0M522.8 417.4h0M518.9 420.9h0M514.3 430.4h0M520.7 419.4h0M526.5 412.8h0M527.8 410.8h0M522.7 416.7h0M519.6 420.6h0M516.3 427.5h0M519.6 420.2h0M529 409.9h0M517.9 420.2h0M520.6 419.5h0M517.2 423.8h0M520.4 421.3h0M527.6 410.1h0M525.1 410.6h0M518 422.7h0M514.8 429.2h0M527.7 412.2h0M519.6 422.2h0M520.9 415.4h0M523 416h0M522.1 415.2h0M516.6 424.1h0M523.5 415.5h0M519.5 423.8h0M521.3 417.6h0M512.9 432.2h0M522.7 415.9h0M521.2 420h0M522.6 413.5h0M518 422.5h0M523 412.9h0M520.1 422.5h0M520.8 415.5h0M528.1 410.3h0M520.9 418.7h0M517.1 427h0M518.3 419.7h0M522.8 415.5h0M515.3 426.8h0M522.4 413.8h0M519.2 420.9h0M522.8 416.8h0M521.6 414.9h0M513.8 431.4h0M524.1 416.3h0M516.7 425.6h0M513.4 430.9h0M520.7 419.9h0M515.9 427.9h0M518.8 423.2h0M514 431.1h0M519.4 420h0M523.3 417.4h0M517.4 425.1h0M519.7 421.3h0M517.6 424.1h0M525.2 412.9h0M520.7 422h0M515.2 429.1h0M520.6 418.3h0M527.8 410.6h0M522.4 413.1h0M524 416.4h0M520.1 422.1h0M523.1 418h0M528.1 410.6h0M518.8 422.5h0M526.2 411.8h0M521.8 417.9h0M523.6 417h0M527 411.8h0M518.7 421.9h0M518.5 423.8h0M523.7 410.4h0M528.2 411.4h0M521.9 417.3h0M524.3 419.3h0M518.6 421h0M524 419.4h0M517.7 424h0M522.6 416.8h0M519.7 420.4h0M527.2 413h0M512.9 432.1h0M525.7 411h0M524.3 413.8h0M516.6 427.3h0M526 410.1h0M522.2 419.8h0M520.9 416.4h0M514.9 428.3h0M523.5 414.2h0M520 422.8h0M517.3 423.7h0M519 422.2h0M523.6 414.5h0M517.5 424.8h0M522.5 420.2h0M520.2 418.3h0M513.3 432h0M520.5 417.7h0M522.4 415.2h0M524.5 411.4h0M517.9 421.7h0M517.7 426.2h0M518.4 423.7h0M524.4 412.8h0M522.2 415.4h0M524.8 413.8h0M526.7 411.5h0M522.7 418.3h0M520.6 419.3h0M522.7 417.5h0M525.6 413.2h0M525.1 413.1h0M524.2 413.6h0M523.4 414.9h0M528.6 410.3h0M514.1 430.6h0M525.4 412.7h0M528.2 410.7h0M524.3 415.1h0M526.7 411.3h0M515.5 427.4h0M515.8 427.1h0M523.1 416.8h0M519.5 421.8h0M515.2 429.8h0M524.5 414.5h0M526.4 412h0M519.3 423.3h0M519 417.2h0M519.5 421.9h0M514.2 430.3h0M521.8 416.6h0M522.4 419.1h0M521.5 416.8h0M517.2 424.5h0M523.6 414.4h0M521.8 418.9h0M519.9 422h0M524.7 414.6h0M524.9 416.2h0M514.7 429.4h0M515.4 428.1h0M522.3 417.4h0M523.2 419.7h0M518.7 423.1h0M523.3 414.9h0M514.8 430.4h0M526 415.7h0M518.7 425.5h0M525.5 416h0M526 413.1h0M520.1 422.4h0M516.8 425.2h0M520.2 422.5h0M520.8 421.7h0M524.8 416.3h0M522 413.4h0M522.2 418.9h0M520.1 417.4h0M518.9 421.5h0M515.4 429h0M513.9 431h0M523.1 411.8h0M512.7 432.9h0M521.9 419.9h0M519.1 420.8h0M521.1 420h0M516.4 427.2h0M517.8 421.9h0M516.9 427.4h0M517.6 424.7h0M518.7 423.9h0M517.2 425.2h0M525.9 411.2h0M520.7 422.1h0M522.2 415.8h0M521.2 419.9h0M522.8 415.9h0M517.5 423.8h0M515.3 427.1h0M517.4 426.1h0M514.8 429.6h0M520.7 421.4h0M518.3 423.4h0M520.2 419.9h0M525.8 415h0M516.3 427.1h0M528.1 410.9h0M519.2 416.4h0M513.3 432.5h0M514.4 430.2h0M513.6 430.7h0M523.1 418.3h0M518.9 422.5h0M516 429.1h0M522 419.4h0M527 411h0M514.2 430.5h0M520.4 421.4h0M520.1 421.2h0M518.6 423.5h0M526.5 410.4h0M515.8 426.6h0M521.3 418.6h0M514.7 429.4h0M522.1 418.4h0M523.5 411.3h0M516.2 425.7h0M513 431.9h0M521.5 417.8h0M518.2 421.9h0M524.1 411.4h0M516.8 423.5h0M517.7 425.5h0M515.3 428.4h0M524.8 414h0M524.4 413.1h0M515 429.5h0M518.3 425h0M522.6 417.7h0M518.7 424.9h0M514.3 430.6h0M516.7 426.1h0M515.6 428.9h0M519.2 420.9h0M523.7 418.1h0M524.2 411.7h0M520 417.8h0M520.9 420.5h0M524.3 410.7h0M523.4 414.8h0M523.6 413.2h0M519.7 421.8h0M516.5 426.9h0M517.5 424.5h0M514.1 430.1h0M523.8 414.1h0M514.1 430.5h0M514.9 428h0M528.3 410.8h0M522.5 417h0M520.2 422.2h0M520 422.9h0M524.9 413h0M525.1 414.8h0M516.8 426.9h0M520.3 415.1h0M525.5 413.6h0M514.9 428.3h0M522.8 420.1h0M518.4 420.6h0M526.9 411h0M523.1 418.6h0M515.1 428.8h0M524.3 413.2h0M526.7 410.3h0M513.3 431.2h0M524.6 412h0M519.8 421.5h0M517.4 426.1h0M520.4 418h0M518.5 425h0M519.1 422.4h0M529 412.7h0M524 412.6h0M515.5 427.6h0M524.5 412.9h0M516.4 426.9h0M514.9 428.9h0M515.3 426.1h0M523.5 413.5h0M527.1 412.3h0M522.9 416.8h0M512.8 432.3h0M520.4 419h0M519.2 421.6h0M519.4 423.2h0M519.6 421.8h0M520.3 419.8h0M525.1 410.2h0M526.6 413.2h0M522 415.9h0M521.8 418.5h0M520.9 417.4h0M522 415.7h0M514.6 429.6h0M514.5 429.3h0M525.5 414.2h0M522.4 415h0M519.8 424.2h0M525.7 415h0M524.1 415.9h0M527.9 410.7h0M523.6 412.8h0M523.1 414.6h0M520.6 418.9h0M525.8 411.7h0M525 418.4h0M520.7 421.5h0M516.5 426.7h0M525.3 416.2h0M520.6 417h0M520.7 421.7h0M522.9 418.2h0M521.5 415h0M518.1 425.8h0M518.3 423.5h0M527.5 411.7h0M515.5 427h0M516.2 425.5h0M513.6 430.1h0M524.3 412h0M522.4 414.8h0M522 418.7h0M525.3 411.6h0M523.3 417.1h0M526.4 410.5h0M515.5 428.4h0M521.1 418h0M516.4 426.3h0M520.9 417.4h0M522 414.8h0M513.5 430.2h0M526.5 410.6h0M519.4 423.2h0M524.2 411.2h0M516.8 425.4h0M518.5 419.7h0M515.3 428.9h0M515.3 429.1h0M515.8 427.4h0M523.6 414.2h0M524.8 414.6h0M521.2 415.1h0M527.8 411.2h0M525.8 410.5h0M515.3 428.8h0M517.1 425.9h0M517.8 421.9h0M524.4 414.5h0M514.3 429.4h0M520.1 421.9h0M515 428.4h0M522.4 415.6h0M523.8 419.4h0M514.3 429.8h0M523.8 414.2h0M515 428.4h0M519.5 419.7h0M527.6 411.3h0M519.1 421.8h0M524.9 415.4h0M523.3 413.7h0M518.5 422.8h0M524.6 412.6h0M519.9 420.9h0M517.3 425.1h0M517.6 424.3h0M513.6 429h0M522 418.4h0M519.9 421.7h0M518.9 422.4h0M527 413.3h0M519.2 422.2h0M513.3 431.9h0M520.6 421.8h0M522 418.9h0M526.7 410.3h0M519.8 420.5h0M518.1 424.1h0M525.5 410.7h0M513.7 430.4h0M519.8 421.5h0M520.7 417.4h0M524.4 411.6h0M513.4 431.1h0M513.5 431.6h0M523.9 412.1h0M526 413h0M525.9 409.9h0M524.6 414.3h0M523.8 413.8h0M523.5 420.9h0M516.7 425.7h0M519.8 420.9h0M519.1 424h0M523.6 416h0M520.9 420.1h0M513.9 429.7h0M527.5 411.9h0M518.1 426.2h0M526.6 410.6h0M522.8 417.3h0M526.6 411.3h0M526.9 411h0M520.2 420.8h0M517.9 424.4h0M522.9 413.9h0M514.3 427.4h0M522.9 415.3h0M515.5 429.2h0M520.3 421.9h0M517.9 422.1h0M526.6 410.5h0M516.9 425.1h0M521.1 418.3h0M524.8 414.7h0M524.6 415.2h0M513.1 432.4h0M519.8 419.2h0M522.4 417h0M520.6 419.3h0M513.6 431h0M513.6 431.7h0M517 423.7h0M526.5 411.2h0M517.7 422h0M525.6 411h0M527.3 410.8h0M516.2 427h0M527.3 411.1h0M524.5 414.6h0M519.1 418.7h0M519.6 423.7h0M522 418.2h0M518.6 422.5h0M520.1 419.4h0M520.1 420.2h0M514.7 430.2h0M516.2 427.6h0M526.2 410.5h0M525.4 413.8h0M523.6 414.5h0M525.1 416.7h0M519 421.6h0M517.3 424.5h0M522.5 412.1h0M517 426.7h0M516.7 427.8h0M522.4 418h0M513.6 432.3h0M521.5 419.4h0M494.5 412h0M500.5 414.2h0M497.6 422.1h0M489.9 411.5h0M494.6 411.8h0M510.7 432h0M498.5 417.2h0M488.2 415.3h0M485.9 413.9h0M502 424.8h0M505.7 426.6h0M500.7 417.6h0M497.8 412.3h0M481.4 411.2h0M501.9 417.2h0M496.3 415h0M494.4 419.1h0M501.8 416.7h0M502.7 417.4h0M489.8 411.1h0M501.3 424.5h0M495.3 413.9h0M502.3 417h0M497.3 417.5h0M505.4 423.3h0M494.7 411.9h0M484.6 410.3h0M488.3 414.3h0M493.5 413h0M483.8 413h0M509.1 429.1h0M506.8 425.3h0M481.6 411.1h0M493.7 413.6h0M501.2 419.8h0M506.5 424.5h0M508.1 428.6h0M481.8 410.7h0M489.1 411.6h0M499.3 415.3h0M495.8 416.7h0M495.2 417.3h0M504.9 421h0M497.8 421.7h0M495.1 413.1h0M510.9 430.6h0M480.8 411.4h0M506.3 428.5h0M495.9 410.6h0M488.8 415.7h0M503.7 427.2h0M504.4 421h0M497.2 415.3h0M506 426.9h0M499.8 413.2h0M502.2 422.5h0M500.6 423.9h0M497.8 420.5h0M505.1 422.7h0M509.2 428.2h0M498 421.3h0M487.3 413.7h0M494.6 410.6h0M499 413.6h0M486.8 412.4h0M508.9 427.3h0M495.5 416.6h0M503.4 419.1h0M498.8 416h0M499.5 413h0M504.6 422.7h0M501.3 418.7h0M508.5 430.3h0M489.4 415.2h0M499.6 423.5h0M492.8 418.5h0M493.9 417.8h0M497.4 418.1h0M504.1 420.6h0M498.4 411.2h0M492.7 410.3h0M497.4 417.9h0M508.7 429.5h0M499.4 415.3h0M489.5 412.4h0M496.9 413.8h0M487 411.9h0M496.8 422.8h0M486.3 413.9h0M482.7 411.8h0M498.9 414.3h0M511.7 431.3h0M489.1 416.3h0M498.4 423.4h0M504.2 423.1h0M509.5 431h0M507.3 428h0M492.8 411.5h0M500.3 423.5h0M496.8 413.7h0M509.4 430.4h0M506.2 425.1h0M502.3 421.3h0M497.5 419.9h0M486.4 415h0M497.6 419.8h0M504.5 423.6h0M492.6 411.5h0M500.7 420.2h0M485.7 410.3h0M496.9 420h0M501.4 424h0M502.5 421.6h0M502.7 420.9h0M499.9 415.3h0M495.8 416.9h0M505.7 424.3h0M504.7 424.5h0M480.7 411.8h0M490.4 415.9h0M510.3 429h0M503.5 426.3h0M511.9 432.4h0M493.9 417.2h0M498.1 415.9h0M500.3 422.8h0M488.5 411.3h0M496.5 416h0M503.7 419.4h0M503 426.1h0M484.8 413.2h0M498.4 414h0M491.3 415.9h0M503.3 422.3h0M499.7 420.8h0M505.9 428.3h0M495.5 420.1h0M505.1 423.9h0M510.9 432.1h0M502.7 424.3h0M490.6 415.1h0M507.2 427.1h0M493.8 413.9h0M487.9 413.2h0M492.9 418.8h0M493.8 412.5h0M499.1 420.3h0M504.6 421.5h0M494 415h0M498.4 419.9h0M504.7 424.7h0M498.6 417.5h0M497.3 420.9h0M493.3 410.7h0M494.8 418.9h0M495.8 411.7h0M496.1 417.4h0M505.1 423.8h0M502.1 422.5h0M488.5 410.9h0M503.7 420.9h0M501.3 416.3h0M489.8 415.7h0M500.3 420.1h0M499 422.1h0M498.5 417.3h0M498 410.6h0M483.9 412.8h0M492.7 416h0M494.9 418.3h0M509.5 429.9h0M510.4 431.2h0M488.3 414.3h0M487.4 411.9h0M494.7 415.2h0M499 416.4h0M497.2 414.3h0M487.4 414.5h0M492.7 411.6h0M501 419.4h0M503.3 419.4h0M494.5 413.6h0M487.2 411.2h0M495.2 420.1h0M499.3 417.8h0M506.3 428.7h0M499.5 410.8h0M492.1 411.1h0M495.4 418.2h0M497.2 414.9h0M510.7 430h0M504.1 425.5h0M500.6 415.8h0M488.2 414.9h0M500.8 419.2h0M497.5 413.8h0M481.6 410.3h0M506 424.3h0M492 413.1h0M501.7 420h0M486.7 412.2h0M501.4 421.9h0M503.5 426.1h0M497.2 411.9h0M500.5 415.4h0M492.6 417.2h0M503.1 423h0M496.9 414.6h0M496.1 419.2h0M498.4 417.5h0M502.6 418.5h0M503.4 420.8h0M501.5 423.6h0M508.6 430h0M502.1 419h0M491 412.3h0M499.3 422.6h0M503.8 420h0M498.9 415.2h0M508.9 429.1h0M491 414.8h0M482 410.4h0M498 419.9h0M492.8 418.9h0M493.1 416.1h0M507.9 426.3h0M496.5 421.8h0M495.3 415.8h0M500 417.7h0M506.6 428.2h0M492.6 411h0M498 416.8h0M492.5 416.6h0M494.5 415.9h0M500.2 417.2h0M498.6 411h0M509.3 428.5h0M500.9 423.1h0M507 427.6h0M502.2 420.1h0M503.5 420.4h0M509.3 429.5h0M486.9 412.4h0M500.5 418.2h0M492.9 418.1h0M498.8 418h0M505.6 427.7h0M491.8 412h0M496.6 412.1h0M505 420h0M504.7 423.1h0M503.2 421.8h0M502.1 426h0M500.3 421.1h0M494.3 415.4h0M487.6 412.3h0M500.6 415.7h0M485 411.9h0M490.8 414.3h0M507.1 427.4h0M496.8 421.5h0M504.1 421.1h0M485.7 412.7h0M504.9 426h0M487.1 413.6h0M498.7 423.8h0M506.6 427h0M492.5 415.2h0M495.5 414.1h0M492.5 416.1h0M498.4 419.2h0M497.6 417.8h0M507.3 426.5h0M495.3 418.1h0M502.7 422.9h0M493.5 417.3h0M495.9 413.4h0M502.6 419.5h0M509.9 430.7h0M504.7 425.6h0M505.6 425.6h0M497.8 420.4h0M504.1 420.9h0M489.6 414.9h0M502.8 417.2h0M502 414.9h0M485.2 413.8h0M492.8 417.6h0M509.2 430h0M491 411.2h0M508.8 428.7h0M499.6 412h0M487 414.5h0M497.8 415.9h0M498.5 411.3h0M493.9 413.3h0M496.7 411.9h0M495.3 412.4h0M494.7 415.6h0M503.2 425.9h0M499.4 418.4h0M495.5 413.6h0M503.5 420.7h0M489.7 414.8h0M491.9 417.9h0M495.8 412.7h0M500.8 418h0M487.2 412.2h0M510.7 431h0M505.6 419.8h0M500.7 413.4h0M499.3 412.5h0M503.1 425.7h0M504 425.7h0M486.6 412.2h0M490.9 412.6h0M496 417.9h0M497.6 421.8h0M505.9 422.7h0M506 425.6h0M495.1 417.3h0M501.4 417.7h0M500.4 420h0M491.9 415.1h0M492.6 415.5h0M503.7 423.6h0M496.8 421.2h0M500.2 413.7h0M508.2 428.6h0M492.2 416h0M494.3 411.2h0M503 424h0M496.5 412.2h0M492.9 419.2h0M500.7 415.2h0M496.4 418.4h0M481.8 410.6h0M492 415.9h0M498.7 421.1h0M487.6 412.2h0M506.7 427.3h0M484.4 410.8h0M504.4 426.4h0M497 412h0M507.7 423.7h0M489.7 415.9h0M504.2 423.9h0M494 413.7h0M493.3 416.1h0M496.8 412.5h0M494.5 416.6h0M497.5 418.9h0M490 412.4h0M509.1 429.2h0M491.4 413.3h0M485.5 411.8h0M495.5 413.5h0M504.2 418.9h0M501.7 423.7h0M505.3 424.3h0M492 412.5h0M492.8 413.8h0M490 415.9h0M493.4 418.8h0M488.2 411.1h0M505.3 426h0M499 420.5h0M490.9 416.4h0M497.6 420h0M500 413.5h0M491.4 415.5h0M494.3 417.1h0M486.6 414.1h0M501.4 414.8h0M502.7 418.5h0M507 426.3h0M500.8 420.4h0M505 420.7h0M506.6 428.1h0M503.5 418.8h0M501.6 416.3h0M504.7 419.9h0M498.5 415h0M505.2 424.5h0M485.8 412.8h0M497.7 419.3h0M490.6 417h0M500.5 425.2h0M483.5 410.3h0M484.5 411h0M494.6 416.1h0M500.6 415.5h0M498 411.9h0M507.4 424.8h0M491.5 417.6h0M510.5 430.6h0M490.1 412.9h0M493.4 418.7h0M495.3 419.8h0M509.1 429.8h0M495.5 420.5h0M496.2 413.6h0M495.7 414.6h0M493.1 416h0M498.4 416.5h0M493.6 411.9h0M499.8 415.7h0M494.4 410.4h0M500.4 418.7h0M505.2 419.6h0M497 419.1h0M495 414.6h0M481.4 411.5h0M499.2 413.7h0M491.4 415.8h0M487.1 413.6h0M497.9 412.5h0M507.1 426.8h0M506.7 427h0M499.1 420.1h0M505.7 421h0M497.3 419.6h0M508 427.6h0M494.6 411.2h0M482 411.8h0M506.1 427h0M486.1 412.9h0M504.7 425.3h0M500.9 415.4h0M490.2 415.8h0M505.4 426.1h0M488.3 410.6h0M485.5 410.8h0M492.6 414.7h0M497.5 411.3h0M509.9 431.9h0M497.2 417.3h0M491.6 417h0M499.9 413.1h0M485 411.6h0M502.2 419.5h0M501.9 424.5h0M496.8 417.3h0M506 423.9h0M505.6 426h0M497.9 418.9h0M507.9 428.3h0M487.6 414.8h0M480.7 410.5h0M509.2 427.2h0M495.4 414.8h0M489.5 412.3h0M500.9 419.2h0M483.1 410.4h0M501.6 424.5h0M502.7 419.8h0M487.1 412.7h0M487.1 415.2h0M489.2 412.8h0M497.7 418.6h0M498 413.6h0M490.8 415.5h0M492 418h0M492.7 416.1h0M485 411.4h0M503 423.6h0M495.8 417.7h0M508 428.9h0M503 422.6h0M505.6 423.9h0M498.7 416.6h0M495.6 414.2h0M497.3 412.9h0M501.3 424.9h0M488.2 414.6h0M485.4 411.4h0M485.4 412.8h0M504 424.8h0M502.2 421.9h0M491.6 417h0M503.1 420.1h0M507.8 426.5h0M486 414.3h0M488.6 414.2h0M488.7 410.3h0M497.7 414.5h0M483.1 411.5h0M501.5 424.8h0M491.3 414.2h0M484.5 410.9h0M502.5 418.1h0M498.8 418.7h0M486.4 411.1h0M498.8 415h0M501.7 416.1h0M482.1 411.3h0M504.5 421.3h0M495.1 413.7h0M494.4 419.1h0M503.8 426.1h0M496.7 421.3h0M505.9 423.2h0M493.7 416.8h0M499.7 419.8h0M495.7 415.9h0M492.9 413.8h0M495.1 416h0M508.7 430.8h0M494.3 416.9h0M500 418.9h0M494 411.3h0M502.6 420.6h0M502.5 419.4h0M498.4 418.1h0M491.7 415.2h0M494.6 417.2h0M494.6 420.1h0M505.1 425.2h0M488.2 415.5h0M502.7 415.8h0M481.1 410.6h0M502.5 423.5h0M496.3 415.2h0M502.7 424.1h0M500.7 413.9h0M495.9 417.1h0M494.7 413.8h0M492.3 410.9h0M506.1 424.5h0M503.7 420.7h0M490.7 414.4h0M490.4 412.7h0M488.3 410.7h0M486 414h0M504.5 421h0M504.1 425.6h0M490.8 410.8h0M492.1 410.4h0M499.4 416.7h0M489.4 415h0M492.4 412.7h0M498.8 420.3h0M494.7 416.5h0M484.7 412.5h0M502.2 424.4h0M501.1 413.4h0M495.7 410.5h0M489.5 416.8h0M494.6 420.3h0M492.4 417.9h0M508.3 428.6h0M488.2 411.2h0M503 424.9h0M497.7 421.3h0M504.5 425.9h0M498.6 420.7h0M495.5 415.6h0M482.3 410.8h0M505.7 425.5h0M487.9 416h0M501.3 420.4h0M505.3 422.8h0M496 411.3h0M505.2 422.2h0M483 411.7h0M491.7 415.6h0M499.6 414.9h0M498.7 412.5h0M503.5 423.9h0M502.2 419.4h0M496.7 414.4h0M504.8 422.3h0M507.6 426.2h0M488.8 411.3h0M495.8 417.6h0M499.8 422.2h0M493 414.9h0M507.6 425.2h0M488.9 414.8h0M504.6 421.4h0M493.5 415h0M506.4 426.2h0M508.1 430h0M503.9 422h0M491 411.1h0M491.3 416.7h0M500.6 417h0M489.2 412.7h0M498.3 423.2h0M508.9 429.5h0M487.4 413h0M497.8 422.4h0M481.4 411.4h0M509.4 430.9h0M504.6 423.9h0M504.6 422h0M489.2 412.3h0M488.4 415h0M503.6 419.4h0M505.2 420.8h0M495.3 416.9h0M494.8 420.2h0M499.1 414.6h0M490.9 414.1h0M502.5 418h0M500.2 417.2h0M504.3 427.6h0M500.7 415.4h0M495 410.4h0M507 427.1h0M491.7 414.4h0M491.7 417.9h0M495.4 414.4h0M499.3 423.6h0M499 420h0M488.2 416.5h0M491.1 414.2h0M495.7 411.8h0M486.2 411.3h0M489.7 413h0M497.3 412.3h0M493.6 417.3h0M502.8 419.9h0M483.5 412.6h0M499.5 417.2h0M510.2 430h0M503.4 422.5h0M487.8 412.2h0M481.1 410.4h0M481.1 410.5h0M502.4 420.3h0M495.1 410.5h0M489.1 413h0M500.2 422.5h0M499.1 422.8h0M492.2 412.9h0M490.2 414.9h0M507.2 428.3h0M487.8 411.6h0M500.2 413.6h0M504.1 425.2h0M484.1 412.2h0M495 410.7h0M495.1 413.4h0M490.1 417.3h0M493.9 413.7h0M502.4 416.9h0M511.4 431.8h0M490.2 414.3h0M491.3 417.3h0M505.1 423.1h0M482.7 410.9h0M508.5 429.8h0M495.6 412.3h0M510.9 431h0M487.7 410.3h0M486.6 412.6h0M500.9 425.1h0M508.4 427.3h0M496.5 422h0M500.1 414.9h0M498.1 411.4h0M499.8 417h0M500.9 424.2h0M496.7 416.3h0M498 415.7h0M497.1 412h0M508.7 430.3h0M496 418.4h0M492.2 411.8h0M496.9 419.8h0M510.5 429.6h0M496 410.4h0M495.2 411.4h0M506.1 424.9h0M498.8 419h0M490.5 415h0M482.8 412.3h0M494.2 411h0M490.2 412.1h0M504.3 421.4h0M502.6 425.8h0M499.6 411.8h0M496.8 412.4h0M498.1 411.6h0M492.8 412.3h0M500.8 411.9h0M496.1 411.1h0M505.2 425.5h0M488.2 414.9h0M502.2 422.3h0M498.3 422.5h0M494.5 418.3h0M483.7 410.3h0M498.4 416.2h0M498.9 422.2h0M502.5 423h0M501.9 416.5h0M509.7 430.6h0M493.3 416.7h0M502.2 421.2h0M495.4 412.5h0M481.5 410.5h0M498.1 422.1h0M496.2 417.9h0M489.8 415.4h0M490.4 414.5h0M482.5 410.8h0M496.5 417h0M484.3 410.3h0M494.2 415h0M496.1 418.3h0M495.1 420.4h0M498.4 422.8h0M484.5 410.5h0M509.3 428.4h0M493.1 415.4h0M482.6 411.3h0M489.4 412.8h0M493.7 412.5h0M485.7 412.5h0M501.2 415.5h0M507.2 424.7h0M504.4 423.3h0M502.3 418.4h0M501.8 424.2h0M497.6 418.9h0M491.2 411.4h0M507.5 426.9h0M484.2 412.1h0M489.1 412.1h0M481.9 411.8h0M507.4 429h0M489.1 415.2h0M499.1 412.9h0M495.9 414.1h0M495.8 412.2h0M503.8 420.1h0M480.5 410.6h0M495.4 415.3h0M502.4 417.9h0M494.7 416.3h0M494.8 418.4h0M487 413.5h0M484.2 412.4h0M494.5 413.3h0M508.6 427h0M490.9 411.1h0M491.8 410.9h0M500.6 422.4h0M500.5 420.1h0M510 430.4h0M504.5 422.4h0M502.8 418h0M496.8 419.7h0M501.5 416.4h0M492.8 418.5h0M495.5 419.3h0M495 415.7h0M501.9 420.6h0M493.7 419.4h0M485.7 411.2h0M488 412.1h0M499.5 412.2h0M495.6 410.7h0M489.7 415h0M491.4 417.3h0M503.6 421.4h0M490.2 416.3h0M505.6 427.5h0M490.5 414.2h0M494.5 416.4h0M482.3 411h0M492.8 413.7h0M502.3 424.3h0M504.9 425.3h0M489.8 414.7h0M505.8 425.3h0M501.2 419.3h0M497.4 415.3h0M496.7 418.3h0M505.4 420.5h0M509.7 428h0M496.4 415.6h0M494.9 416.8h0M506.9 426.8h0M492.3 414.3h0M506.9 427.2h0M490.2 410.5h0M501.4 422h0M500 418.3h0M497.9 420.3h0M490.5 411.5h0M487.1 412.4h0M492.1 411h0M494.7 410.3h0M505.3 422.7h0M495.6 416.2h0M486 413.3h0M498.4 419.1h0" stroke="#b3b3b3" stroke-width="1.3" stroke-linecap="round" fill="none"/>
<path d="M470.7 345.9h0M460.3 374.2h0M438.5 352.3h0M464.3 384.9h0M473.4 373.5h0M440.5 346.7h0M494.9 408.7h0M478.6 390.5h0M480.6 364.9h0M439.8 364.7h0M486.5 401.7h0M482.6 406.4h0M492.6 387.5h0M472.6 364.1h0M438.4 342h0M448.2 360.4h0M465.8 385.9h0M475.3 347.2h0M493 386.7h0M483.8 376.1h0M473.5 345.1h0M472.6 367.9h0M486.1 390.4h0M486.8 383.8h0M458.1 386.5h0M490 382.3h0M458.8 383.1h0M492.7 404.2h0M434.7 358.9h0M439.8 345.4h0M492.8 398h0M484.7 411h0M439.7 354.4h0M494 407.8h0M475.7 359.6h0M444.6 361.9h0M473.1 379.1h0M473.3 385.3h0M462 385.6h0M446.8 373.8h0M430.5 350.1h0M464.3 370.7h0M484.2 404.5h0M492 404.6h0M490.5 395.3h0M449.7 378.4h0M446.7 364.7h0M431.4 351.2h0M474.3 403.7h0M443.8 363.8h0M462.5 392.6h0M452.8 378h0M487.7 411.5h0M477.2 367.4h0M473.1 401.5h0M430.8 347h0M446.3 351.4h0M485.6 371.7h0M442.1 350.9h0M470.5 372.7h0M433 354.7h0M431.8 346.6h0M469.4 388.4h0M450.6 348.7h0M464.4 386.9h0M469 361.3h0M438.1 352.2h0M459.7 360.8h0M446.5 359.5h0M493.1 409.8h0M479.4 371.2h0M457.7 343.7h0M433.5 356h0M441.5 350.8h0M442.7 348.5h0M463.4 349h0M439.9 365.1h0M434.4 347.9h0M490.3 411.4h0M475.3 359.3h0M471.9 341.5h0M494 396.4h0M464.3 364.1h0M460.2 377.8h0M478.4 400h0M471.3 370.4h0M488.9 379.1h0M457.2 383.7h0M479.2 404.8h0M454.7 368.4h0M470.5 380.5h0M487.9 379.5h0M490 405.1h0M458.1 344.3h0M492.9 397.3h0M450.4 353h0M447 355.1h0M435.1 349.3h0M480 371.2h0M488.3 396h0M486.8 410h0M456.4 347.6h0M478.2 399.1h0M452.6 355.8h0M459.1 358.2h0M493.6 400.8h0M433.8 355.5h0M436.1 359.8h0M486.4 403.4h0M465.9 351.9h0M447.8 347.8h0M457.2 344.9h0M440.7 362h0M488.2 410.9h0M476.7 398.6h0M462.5 380.1h0M458.9 385.3h0M481.6 395.6h0M443.7 353.1h0M434.8 347.2h0M434 352.5h0M483.3 401.6h0M433.9 346.9h0M461.8 351.9h0M444.8 373.1h0M487.8 408.8h0M470.3 393.4h0M450.4 363.9h0M447.5 352h0M477.1 355.3h0M467.9 397.2h0M471.9 397.4h0M480.4 371.7h0M494.5 391.7h0M438 354.3h0M453.1 353.8h0M465.7 387.7h0M440.2 348.7h0M476.1 348.1h0M448.9 376.4h0M486.5 376.2h0M449.5 366.3h0M482.6 390.4h0M478 380h0M485 405.9h0M493 392.8h0M464.4 388h0M472.4 389.6h0M476 362.4h0M474.4 357.4h0M463 357.5h0M431.6 350.3h0M432.7 357.7h0M452.6 352.8h0M494.2 394.5h0M470.8 367.2h0M455.5 349.8h0M493.1 399.6h0M435.1 349.6h0M468.2 377.2h0M476.7 404h0M491.8 383.1h0M485.9 380.5h0M481.8 382.2h0M478.2 367.1h0M431.2 343.8h0M446.7 359.1h0M455.4 358.7h0M477 358h0M483.1 390.4h0M485.7 383.1h0M491.5 389.9h0M468.6 351.8h0M449.8 342.9h0M459.3 386.1h0M483.2 400.7h0M495.1 410.7h0M489.1 400.3h0M479.5 400.3h0M479.1 386.6h0M489.9 405.6h0M479.8 409.2h0M478.6 410.7h0M481.1 396.6h0M482 388.4h0M485.7 394.6h0M486.2 402.1h0M482.3 401.1h0M488.7 405.8h0M486.2 394.8h0M485.2 410.8h0M495.3 408.5h0M486.5 409.3h0M494.5 411h0M491.2 408.6h0M483.8 396.7h0M494.5 409.3h0M487.6 399.8h0M488.8 405.5h0M496 411.2h0M483.6 391.1h0M483.1 398.1h0M482.4 407.8h0M482.1 409.9h0M485.6 401.1h0M489.2 400.4h0M482.6 396.2h0M485.8 410.3h0M494.8 411.5h0M489.2 407.1h0M493.1 409.1h0M495.2 410.9h0M487.3 394.4h0M484.4 394.1h0M496 409.1h0M479 383.5h0M495.7 409.9h0M491.8 409.4h0M493.6 409.5h0M494.3 409h0M421.2 308.4h0M424.6 306.8h0M426.8 324.9h0M427.4 334.8h0M430.2 336.5h0M435.3 340.6h0" stroke="#4682b4" stroke-width="1.7" stroke-linecap="round" fill="none"/>
<path d="M536.9 369.3h0M526.9 409h0M529.4 385.2h0M525.7 406.4h0M538.8 350.2h0M531.1 387.8h0M527.7 409.5h0M531 390h0M535 365.6h0M529.6 390.3h0M535.9 373.3h0M528.8 405.4h0M529.9 404.2h0M529 396.6h0M534.4 363.6h0M527.1 406.5h0M528.1 405.2h0M526 409.6h0M529.1 402.6h0M530.8 391.5h0M530.7 389.9h0M529.5 397.6h0M528.6 387.6h0M536.8 361.4h0M526.4 408.3h0M530.9 395.7h0M532.6 364h0M527.4 400.3h0M533 379.9h0M525.4 409.2h0M525.3 405.4h0M529.6 405.2h0M527.4 391.1h0M523.8 409h0M531.6 381.2h0M530.7 390.9h0M533.1 373.2h0M540.3 337.7h0M526.4 401.6h0M525.4 405.3h0M527.8 400.7h0M526.8 410.2h0M528.2 385.5h0M527.7 410.2h0M528.9 404.2h0M536.3 379.3h0M534.3 364.8h0M528.1 400.5h0M528.8 406.3h0M527.7 404.5h0M523.2 409.2h0M537.6 351.4h0M530.6 398.6h0M527.9 409h0M533.1 395.7h0M531.5 395.4h0M528 399.7h0M543.8 337.1h0M528.7 400h0M538.7 359.9h0M525.7 401.6h0M525.1 403.4h0M531.8 377.2h0M526 410.4h0M535.2 353.9h0M536.7 360.1h0M528.1 394h0M531.6 383.4h0M524.8 405.4h0M530.3 392.4h0M527.2 408.6h0M533.9 384.6h0M527.1 409.3h0M526.7 407.8h0M524.5 409.6h0M534.8 371.4h0M526.5 407.9h0M528.8 393.6h0M526.8 405.6h0M531.6 385.3h0M526.6 408.9h0M528.2 393.1h0M526.8 390.5h0M536.6 359.6h0M525.8 404.7h0M529 408.6h0M524.6 400.3h0M528.5 408.7h0M530.4 389.6h0M523.8 411.5h0M536.2 352.2h0M533.4 389.2h0M529.4 400.3h0M525.8 403h0M528.6 384.4h0M529.8 391.9h0M533.6 378.8h0M527.3 411.5h0M532.8 379.3h0M523.5 410.6h0M528.3 395.7h0M527 406.9h0M542.1 336h0M532.1 375.1h0M528.5 389.8h0M528.4 406.2h0M529.4 405h0M529.7 393.6h0M529.7 383.5h0M527.4 404h0M529.8 384.1h0M533.5 382.3h0M528.1 399.4h0M526.7 405.3h0M533.9 373.7h0M526.4 411.2h0M533.5 381.6h0M529.4 399.6h0M530.4 378.1h0M526.3 411h0M532.7 378.8h0M530.8 374.4h0M529.2 391.9h0M526.8 391.7h0M529.1 411.1h0M524 406.9h0M525.9 410.1h0M528.4 402h0M526.3 409.6h0M528.4 400h0M527.2 404.2h0M525.3 407.8h0M541.2 348.3h0M525.6 406.5h0M526.6 400.9h0M526.5 411h0M528.7 399h0M531.1 371h0M530.9 387.9h0M532 360.2h0M530.1 379.1h0M531.6 389.4h0M534.3 367.3h0M525.3 407.2h0M527.6 403.4h0M534.7 381.3h0M524.2 407.2h0M527.2 402.2h0M525.3 409.5h0M525.8 408.3h0M528.2 404.5h0M528.3 400.1h0M528.2 409.3h0M539.1 346.3h0M531.4 374.5h0M529.1 409.8h0M527.1 408.2h0M529.8 392.6h0M528.6 382.4h0M528.8 399.2h0M534.3 359.8h0M525.6 407.7h0M525.6 400.1h0M528 406.2h0M527.6 404.4h0M528.6 395.7h0M526 406.4h0M524.7 409.5h0M530.1 384.5h0M534.9 371.5h0M531.2 380.4h0M528.4 408.8h0M530.9 396.5h0M537.6 360.5h0M532 390.7h0M529 398.5h0M529.1 399.5h0M529.4 399.2h0M525.8 410h0M526.4 404.5h0M525.3 409.6h0M530.5 404.4h0M524.5 409.5h0M529.1 409.7h0M528.2 402.9h0M530.7 398.8h0M527.2 409.4h0M529.6 387.7h0M528.8 399.1h0M526.6 406.2h0M527.1 404.6h0M531.7 397.2h0M524.8 402.8h0M529.3 394.2h0M527.2 399.2h0M526.3 400.8h0M529.3 400.1h0M536.2 368h0M526.1 404h0M531.3 393.1h0M524.6 407.6h0M526.9 410.7h0M526.5 409.2h0M523.2 410.1h0M525.5 409.8h0M529.4 389.5h0M525.3 410.8h0M527.8 403.2h0M527.5 387.2h0M533.3 373.5h0M530.5 391.6h0M527.8 398.3h0M527 403.6h0M534.2 366.9h0M528.6 402h0M532.5 353.4h0M531.2 401.3h0M522.8 408.7h0M531.3 383.2h0M525.7 404.8h0M523.9 407.6h0M529.9 400.9h0M526 405.5h0M528.7 391.9h0M528.3 399.1h0M533.4 376.4h0M530.4 389.4h0M531.4 393.6h0M531 397.1h0M526 404h0M527 403h0M536.3 355.4h0M525 410.6h0M529 396.1h0M526.8 410.6h0M537.7 379.6h0M526.6 406.4h0M526.6 408.9h0M528 407.2h0M527 405.7h0M529.7 410.2h0M535.1 383.8h0M538.2 359.4h0M525 405.5h0M526.6 407.7h0M527.3 407.6h0M530.9 385.3h0M527.4 404.1h0M535.6 372.5h0M529.1 384.4h0M534 361.5h0M528.9 394h0M528.4 404.7h0M528.7 398.9h0M527.4 408.9h0M528.4 402.1h0M534.6 346.6h0M531.8 383.4h0M528.9 393h0M528.8 403.7h0M531.9 390.8h0M525.3 404.3h0M528.5 408.2h0M527.1 406.2h0M525.6 411.4h0M527.9 406.8h0M529.3 389h0M530.6 384.5h0M527.5 406.8h0M529.2 393.1h0M530.7 386.4h0M532.2 369.2h0M529.8 391.1h0M526.3 407.3h0M527.9 398.6h0M531.3 383.6h0M525.9 402.8h0M533.8 373.9h0M525.6 404.1h0M529.5 389.6h0M527.2 403.8h0M531.5 392.6h0M531.4 390.2h0M530.6 394.6h0M529.4 407.1h0M527.9 411.1h0M528.7 397.3h0M527.6 405.1h0M524.2 407.9h0M528.1 409.8h0M527 402.6h0M524.2 411.1h0M526.4 406.2h0M531.5 399.5h0M525.5 405.4h0M526.8 408.2h0M530.1 388.9h0M527.3 395.7h0M534.4 381.2h0M525.6 410.6h0M528.1 397h0M529.4 387.8h0M526.3 402.1h0M529 388.7h0M535.8 358h0M528.4 386.4h0M525.5 406.1h0M524.9 410.3h0M532 382.6h0M530.8 396.2h0M531.4 385.1h0M535.1 353.7h0M524 399.5h0M525.7 403.5h0M531.8 385.7h0M531.9 380.6h0M527.4 389.8h0M533.2 371h0M524.7 408.3h0M531.1 386.8h0M540.4 345.9h0M523.8 410.2h0M531.4 400.1h0M529.5 382.5h0M527.8 403.2h0M528.4 388.8h0M531.8 390.6h0M537.6 338.9h0M526.5 397.5h0M529.4 394.5h0M527.3 410.5h0M528.4 397.3h0M527.3 410.7h0M530.4 404.8h0M527.8 404.2h0M529.3 388.8h0M530.8 394.2h0M526.6 403.3h0M527.2 405.4h0M526.5 408.9h0M525.7 408.2h0M541.1 352.8h0M527.7 402.5h0M531.4 391.1h0M530 398.1h0M528.4 405.1h0M526.7 408.3h0M527.6 399.6h0M528.4 381.6h0M526.7 403.7h0M542.4 351.2h0M529.1 400.2h0M525.7 411.5h0M536.3 385.6h0M531.5 384h0M527.3 404h0M531.3 398.6h0M525 408.2h0M529 394.9h0M528.8 400.1h0M527.7 396.4h0M538.6 350.7h0M527.6 398.2h0M529.4 405.8h0M529.1 400.2h0M530.7 391.5h0M527.9 396.3h0M526.9 396.4h0M528 402.1h0M526.7 408.9h0M530.3 400.8h0M527.8 403.1h0M526.4 406.1h0M528.4 406.7h0M533.1 372.1h0M526.4 409.7h0M533.6 366h0M530.4 385.8h0M528.6 410.6h0M527.9 389h0M523.8 410.5h0M531 393h0M527 406.7h0M529.5 396.3h0M523.9 407.4h0M536.9 363.9h0M528.9 397.6h0M536.9 350.7h0M530.2 370.2h0M527.7 404.3h0M539.7 330.4h0M537.2 374.1h0M537 355.3h0M526.7 404.8h0M532.4 389.6h0M525 410.7h0M527.2 402.7h0M527.7 406.3h0M528.1 396.6h0M529 400.6h0M535 350.9h0M535 355.9h0M526.5 410.9h0M526.4 407h0M531.5 383.8h0M526.5 398.2h0M530.2 385.1h0M527.4 406.4h0M529.8 409.1h0M539.5 349.7h0M526.7 402.7h0M533 380.2h0M530.3 397.6h0M540.6 357.1h0M525.2 410.6h0M530.4 390.5h0M527.4 402.4h0M531.1 392.3h0M526.5 397.1h0M528.8 398.3h0M534.4 351h0M538.3 356.5h0M527.5 391.5h0M529.5 385.9h0M526.1 407.1h0M526.4 411.1h0M530.1 387.6h0M527 411h0M525.4 411.1h0M527 399.7h0M532.8 388.3h0M525.7 406.4h0M525 407.4h0M526.3 404.6h0M532.6 366.2h0M525.1 408.5h0M532.7 374.7h0M533.8 384h0M527.4 403.5h0M543.9 332.6h0M528.3 389.4h0M530.7 389.6h0M527.8 405.3h0M529.9 393.6h0M531.9 392.7h0M533.5 372h0M527.2 397.4h0M528.6 402h0M531 382.1h0M538.2 347.4h0M529 396.1h0M527.6 393.2h0M530.1 393.8h0M531.9 384.5h0M529.6 402.7h0M533.9 383.1h0M531.2 381.8h0M532.4 382.2h0M525.9 406.5h0M525.3 405h0M523.9 411.5h0M528.1 393.2h0M543.6 325.8h0M530.7 399.8h0M529.1 393.6h0M530.3 395.2h0M531.7 392.3h0M527.7 397.3h0M529.1 389.8h0M526.2 405.2h0M530.3 387.9h0M527 407.7h0M526.9 402.4h0M526.6 397.7h0M532.1 376.6h0M533.1 382.9h0M527.5 388.1h0M527.3 411h0M531.1 395.7h0M524.6 407.1h0M528.5 377.6h0M526.9 403.3h0M527.2 389h0M524.1 403h0M529.6 401.4h0M527.7 410h0M534.5 372.5h0M539.4 349.8h0M528.8 397.3h0M525.8 405.8h0M528.8 402.1h0M535.5 363h0M534.1 367.3h0M530.1 384.5h0M534.4 363h0M529.2 392.1h0M537.8 346.9h0M526.4 406.9h0M530.1 391h0M527.9 401.9h0M526.6 405.4h0M529.3 394.6h0M529.7 388.3h0M530.9 396.1h0M530.1 379.4h0M528.3 394.4h0M533.8 375.8h0M534.7 370.1h0M537.3 374.5h0M530 392.2h0M533.4 371.6h0M525.1 409.1h0M531.4 381.7h0M525.7 405h0M529.3 402.2h0M526.3 406.7h0M545.2 323h0M526.7 407h0M529.8 384.6h0M531.9 387.8h0M526.4 405h0M526.4 406.4h0M526.2 395.3h0M527.9 408.4h0M536 360.4h0M527.7 409.2h0M528.9 403.7h0M533.2 374.3h0M540.8 334.3h0M527.4 399.9h0M526.7 407.8h0M528 407.8h0M529.2 388.1h0M527 405.5h0M527.7 408.4h0M527.2 409.9h0M528.9 396.3h0M529.7 405.1h0M538.1 371.6h0M525.9 406.2h0M532.5 357h0M529.1 398.7h0M529 395.5h0M530.3 402.1h0M534.2 367.2h0M524.7 410.9h0M526 405.1h0M530.3 393.5h0M523.1 411.4h0M539.5 348.5h0M529.9 387.5h0M530.1 379.3h0M524.8 398.8h0M529.3 395h0M528.8 392.7h0M530.8 397.7h0M545 352.3h0M538.3 349.4h0M527.2 410.6h0M533.9 375.4h0M529.3 394.7h0M527.8 405.6h0M527.9 408.7h0M528.7 407.1h0M526.1 407.8h0M532.6 374.6h0M532.2 389.9h0M529.4 384.5h0M526 405.1h0M528.7 401.3h0M532.6 361.4h0M531.2 391h0M526.7 409.8h0M534.6 379.4h0M527 406.1h0M530 398.9h0M530 400.3h0M526.4 404.8h0M526.8 402.9h0M527.9 401.3h0M524.7 410.2h0M532 364.3h0M528.1 392.8h0M530.6 394.8h0M525.1 407.5h0M526.4 407h0M529.5 399.5h0M525.8 403.3h0M525.8 405.9h0M526 404.3h0M526.8 398.4h0M536.1 368.1h0M526 401.9h0M530 388.9h0M527.2 405.8h0M529.8 408.3h0M530.5 388h0M530.2 399.2h0M528.7 405.9h0M529.2 410.7h0M526.5 408.4h0M525.5 407.1h0M533.3 380.7h0M530.9 386.2h0M530 401.1h0M535.2 365.1h0M531.6 389.1h0M532.3 386.3h0M530.3 408.1h0M539.9 358.5h0M532.6 389.9h0M533.3 380.1h0M528.9 385.6h0M537.8 357.7h0M529.6 397.3h0M539 348.8h0M531.9 386.1h0M526.1 409.3h0M529 387.8h0M527.7 406.1h0M532.4 381.8h0M525.9 400h0M527.3 397.6h0M528.6 403.4h0M531.2 398.5h0M525.9 408.6h0M531.2 388.6h0M533.3 366.2h0M540.3 353.4h0M528.8 401.7h0M525.6 398.6h0M529.1 391h0M535 366.3h0M530.7 401.3h0M527.4 407.4h0M525.2 406.3h0M532.2 365.4h0M543.5 324.4h0M525.8 403.4h0M526.8 404.6h0M531.5 395.8h0M526.7 405.2h0M529.5 387.8h0M529.5 388.6h0M528.2 401.8h0M531.3 375.7h0M528 404.3h0M527.6 408.8h0M536.5 368.7h0M527 405.9h0M535.6 367.5h0M526.6 404h0M529.5 397.4h0M528.8 401.1h0M527.6 408.9h0M529 404.2h0M539.1 360.6h0M526.7 404.9h0M529.9 382.1h0M530.8 400.2h0M530.8 387.3h0M529 382.7h0M528.5 402.9h0M540.8 345.9h0M525.9 410.8h0M529.6 399.6h0M534.8 369.4h0M526.6 411.2h0M527.4 403h0M528.4 390.1h0M527.9 396.7h0M527.2 410.7h0M538.3 348.9h0M526.2 406.9h0M529.3 380h0M531.5 382.8h0M527 408.3h0M525.7 408.5h0M532.2 383.2h0M526.8 401.5h0M530.9 384.2h0M528 408.7h0M543.3 352.3h0M523.9 405.7h0M526 407h0M537.1 358.2h0M530.4 394.1h0M527.3 397.3h0M539.9 347.2h0M534.9 371.5h0M530.7 393.2h0M526.3 381.1h0M529.8 392.1h0M525.2 406.5h0M529.2 403.4h0M525.3 410.9h0M532.5 390.4h0M528.6 397.6h0M527 399h0M527.1 397.7h0M538.2 363.3h0M529.3 384.9h0M531.8 385.4h0M528.8 405.2h0M527.9 406.8h0M532.5 376.7h0M533 374.5h0M526.9 407.5h0M529.8 390.2h0M528.2 392.7h0M525.3 407.9h0M529.6 380.1h0M529.3 394.5h0M527.2 405.2h0M528.6 400.8h0M539.3 346.5h0M528.3 387.8h0M533.2 369.7h0M528.6 390.8h0M541.5 338.9h0M541 348h0M532.7 390.3h0M527.3 402.9h0M530.3 383.3h0M528.8 394.7h0M535.2 363.4h0M538.9 347.1h0M529.8 385.1h0M525.2 409h0M528.2 398.4h0M528.8 404.5h0M527.7 406h0M526.4 407.6h0M526.6 411.1h0M545.7 336.5h0M529.3 400.3h0M525 408.9h0M526.9 410.4h0M530.5 395.4h0M531.1 385.9h0M534.4 373.2h0M540.1 350.8h0M528.3 403.7h0M535.2 370.2h0M525.9 402.8h0M526.6 391.5h0M525.6 407h0M528.8 398.1h0M532.3 391.9h0M528.5 396.9h0M531.6 377.2h0M530.5 388.7h0M527.6 405h0M530.2 397.9h0M523.8 410.9h0M531.9 396.8h0M525.6 402.1h0M529.5 397.1h0M527 400.8h0M530 387.9h0M527.8 400.2h0M528.7 390.6h0M525.2 407h0M526.2 411.2h0M524.2 408.8h0M533.6 377.1h0M535.3 373.2h0M523.4 407.1h0M528.2 408.2h0M528.7 407.2h0M529.6 403.7h0M529.3 406.7h0M525.2 406h0M524.9 410.7h0M527.5 393.7h0M528.6 396.6h0M534.1 378.6h0M525 403.3h0M525.8 410.7h0M530.2 390.7h0M528.6 398.1h0M528.1 384.3h0M529.5 387.2h0M532.4 390.5h0M528.1 406.5h0M527.8 395.9h0M527.6 407h0M529.8 383.6h0M531.1 373.5h0M528.3 398.7h0M528 406h0M523.1 410.8h0M525.5 410.9h0M528.4 399.6h0M527.8 402.9h0M532.3 393.6h0M537.1 359h0M531.4 391.8h0M531 381h0M528.4 401.5h0M531.7 394.2h0M533 373.2h0M531.3 374.5h0M534.3 374.6h0M530.3 385.1h0M532 384.4h0M527.3 404.4h0M532 387.6h0M532.3 390.1h0M527.9 397.9h0M536.5 367h0M529.1 403.2h0M526.9 408.1h0M531.6 384.4h0M529.4 400.6h0M523.7 411h0M527.3 404h0M527.1 410.9h0M526.3 405.5h0M530.5 395.9h0M544.3 325.1h0M536.2 363.4h0M526.1 404.6h0M534.8 365h0M536.3 355.4h0M527.6 402h0M529.7 386.4h0M527.5 401.1h0M524.1 410.2h0M529.5 401.4h0M529.7 398.6h0M530.2 400.4h0M528.1 401.5h0M525.1 409.9h0M530.1 390.4h0M527.2 402.8h0M532.9 366.8h0M526.4 408.7h0M524.6 404.5h0M528.5 389.2h0M539.4 340.2h0M528 402.9h0M528.4 402.1h0M536.2 361.7h0M535.8 365h0M542.9 330.3h0M526.4 407.8h0M527.9 406.7h0M523.8 410.9h0M526.8 410h0M530.6 397.6h0M538.2 363.2h0M533.4 368.7h0M530.9 385.5h0M526.4 410.1h0M533.5 365.6h0M527.2 404.6h0M525.4 405.9h0M527.9 397.6h0M529.6 395.2h0M528.6 395.9h0M528.5 391.9h0M525.8 407h0M532.1 379.8h0M526.7 407.2h0M527.9 404.2h0M529.3 395.5h0M536.2 365.4h0M527.8 403.9h0M535.4 373.6h0M533.4 383.2h0M526.6 403.1h0M531 397.2h0M534.5 373.9h0M537.6 360.6h0M530.4 377.9h0M526.6 404.4h0M536.8 354.8h0M530.9 396.7h0M534.1 391.6h0M528.1 406.6h0M528.1 391.5h0M534 368.2h0M530.6 394.1h0M526.4 406.9h0M525.3 406.9h0M527.4 408.8h0M538.3 360.9h0M533.9 378.7h0M530.7 378.2h0M525.4 403.3h0M529.5 405.4h0M529.5 391.4h0M529.2 394.3h0M534 378.6h0M534 364.3h0M527.8 410.8h0M531.3 377.2h0M526 399.3h0M525.6 406.3h0M526.8 407.4h0M524.1 406.2h0M527.8 395.2h0M533.5 373.4h0M527.6 404.7h0M525.2 408.3h0M540 344.1h0M526.6 410.9h0M528.6 402.6h0M537.8 353.2h0M526.9 405.5h0M525.1 411.3h0M528.4 411.4h0M531.1 399h0M529.1 405.6h0M528.1 403.7h0M524.7 407.4h0M528.6 402.9h0M530.1 394.6h0M527.7 410.7h0M538.9 358.7h0M527.7 398.3h0M528 401.1h0M528.8 386h0M526.4 399.5h0M528.1 407.4h0M527.7 402.9h0M535.4 370.5h0M527.4 403.8h0M535.9 358.3h0M528.5 398.5h0M529 392.5h0M532.6 377.1h0M528.6 401.6h0M532 381.3h0M527 403.5h0M535.9 360.6h0M535.1 369.7h0M530.3 376.2h0M532.6 382.9h0M534.5 374.2h0M539.7 358.5h0M530.6 379.5h0M541.6 331.3h0M528.8 377.9h0M534.3 368.8h0M530.3 397.1h0M528 408.6h0M526 403.1h0M529.4 390.2h0M534.5 376.1h0M538 348h0M526.1 403.5h0M544.6 334.8h0M529.7 397h0M524.9 403.7h0M530.2 391.7h0M526.4 408.8h0M532.6 369.1h0M531.7 379h0M529.3 399.4h0M533.1 382.1h0M529.9 390.4h0M526.3 409.9h0M528.1 404.8h0M526.9 387.5h0M527.9 401.6h0M527.1 393.7h0M530.2 379.8h0M526.6 405.4h0M532.8 380.6h0M530.5 391.1h0M526.8 410.6h0M527.8 398.6h0M525.2 405.3h0M527.1 407h0M530.1 395.4h0M526.8 406.5h0M527 407.1h0M539.3 345.8h0M543.7 343.5h0M530.2 393.7h0M527.4 406.8h0M529.6 390.5h0M530.1 388.5h0M525.6 408.2h0M529.4 391h0M533.8 383.8h0M525.5 410.9h0M523.9 400.9h0M527.9 393.9h0M529.6 406.4h0M524.9 409.4h0M529.4 394.1h0M528.5 406.8h0M527.2 401.4h0M535.4 383.2h0M534.3 374.5h0M526.8 405.4h0M532.6 379.1h0M535.4 336.7h0M526.1 398.4h0M536.7 369.8h0M525.6 398.9h0M532.6 396.9h0M527.1 409.6h0M528.7 393.6h0M527.2 402.7h0M528.9 404.2h0M528 401.6h0M529.9 385.4h0M529.9 369.3h0M525.5 405.4h0M530.6 379.5h0M525.6 408.4h0M529.3 403.7h0M533.3 360.5h0M527.3 410.1h0M540.4 364.5h0M527 402.9h0M534.2 374.6h0M526.2 410h0M530.8 389h0M533.4 374h0M529.5 389.3h0M529 397h0M529.8 397.3h0M535 383.8h0M525.3 407.8h0M535.4 354.1h0M543 329.4h0M527.9 400.3h0M526.6 408.1h0M532.4 375.2h0M527.4 391.8h0M530.7 369.6h0M529.8 384.4h0M527.5 396.5h0M526.8 410.9h0M530.3 400.5h0M529.3 399.2h0M529.9 384.7h0M533.3 377.9h0M528.8 392.3h0M528 398.6h0M526.5 407.2h0M527.6 405.7h0M525.4 401.6h0M527.9 392.4h0M527.9 405.2h0M530.6 402.9h0M525.7 408.9h0M527.5 408.9h0M528.8 390.5h0M527 392.5h0M524.8 408.1h0M534 370.9h0M528 404.3h0M529.6 396.6h0M537.4 339.2h0M525.5 407.2h0M531.1 393.1h0M530.1 387h0M532.2 380.1h0M535.4 378.9h0M527 411.4h0M529.7 387.8h0M525.5 409.6h0M525.9 405.4h0M531.2 376.9h0M525.8 407.7h0M525.3 410.7h0M527.4 407.3h0M526.6 410.8h0M538.7 334.8h0M530.2 400.2h0M528.8 396.8h0M530.3 406.6h0M540 345.2h0M523.6 409.4h0M528.4 389.7h0M527.4 399.4h0M544 348.3h0M526.2 408.4h0M528.7 396h0M533.9 365.9h0M532.8 382.8h0M531.6 388h0M536.3 367.6h0M533.4 374.3h0M528.8 393.3h0M527.2 409.2h0M525.5 410.8h0M527.2 406.8h0M528.2 403.5h0M527.9 405.4h0M538.2 335.1h0M530.2 395.5h0M541.5 345.3h0M530.5 369.2h0M532.6 383.9h0M528.8 392.2h0M528.6 403.3h0M526.5 406h0M527.6 403h0M525.1 406.6h0M527.2 408.7h0M528.1 396.8h0M531.3 374.1h0M526.8 407.9h0M534.7 354.9h0M526.7 401.2h0M530.3 385.9h0M528.4 402.5h0M533.2 382h0M528.9 389.3h0M533.7 355.3h0M524 405.5h0M534.4 369.1h0M527.5 393h0M527.1 407.8h0M535.1 365.8h0M526.7 401.1h0M533.4 368h0M529.7 384h0M528.4 406.6h0M540.3 352.5h0M532 395.7h0M527.5 408.3h0M530.5 388.2h0M528.9 405.3h0M537.7 366h0M533.8 365.6h0M524.9 408h0M527.4 403.4h0M527.3 403.7h0M527.4 396.3h0M528.2 401.6h0M525.2 411.2h0M525.4 409.1h0M526.6 402.1h0M526 400.5h0M525.1 409h0M527.2 397.9h0M538.4 339.3h0M527.3 410.9h0M526.8 408.6h0M527.6 407.6h0M528 409.2h0M527.7 397.7h0M528.7 394.5h0M534.8 384.1h0M528.3 400.1h0M526.1 410.8h0M533.1 384.9h0M529.3 396.5h0M526.8 402h0M543.7 347.9h0M527.5 382.6h0M530 386.6h0M527.5 406.1h0M527 409.3h0M527.2 401.4h0M525.7 409.8h0M524.7 403.1h0M536.1 365.8h0M532.8 376h0M530 404.8h0M528.4 393.4h0M528.9 395.5h0M527.5 405.2h0M530.9 380.2h0M528.3 407.2h0M534.8 367.5h0M530.1 390.8h0M529.3 403.3h0M530.2 389.1h0M526.9 410.7h0M526 408.5h0M530.6 394.9h0M530.4 397.5h0M533.7 386.1h0M527.1 407.4h0M529.6 396.8h0M529.9 390.7h0M532.8 370.2h0M534.5 363.7h0M526.8 407.6h0M533.4 385.3h0M532.1 385.6h0M526.6 411.1h0M529.2 399.7h0M534.3 372.4h0M524.7 411.3h0M529.6 395.5h0M538.6 356.2h0M525.6 404.5h0M539 356h0M524.5 410.2h0M525.4 408.8h0M525.8 409.3h0M532.2 386.8h0M538.9 340.2h0M535.2 355.4h0M526.5 399.6h0M526.7 409.3h0M529.8 390.3h0M527.8 393.4h0M533.5 362.2h0M532.7 367.3h0M527.2 384.2h0M539.4 351.2h0M527.1 409.8h0M534.6 367.9h0M530.5 390.4h0M526 404.6h0M527.2 407.5h0M527.2 407.7h0M529.5 376.2h0M542.4 322.9h0M529.8 399.6h0M529.1 409.1h0M529.4 396.7h0M526.6 405.1h0M533 389.8h0M533.6 383.2h0M529.4 394.9h0M532.6 372.8h0M527 395.6h0M530.3 399h0M526 410.6h0M528.9 394.5h0M525.7 406.5h0M531.8 386.8h0M529.4 390.6h0M533.2 380.5h0M524.3 410.2h0M528.7 391.1h0M527.8 411h0M533.6 379.7h0M532.6 390.9h0M528 400.1h0M539 346.6h0M528.7 401.3h0M524.5 411h0M526.1 407.2h0M527.3 392.1h0M532.9 379.3h0M532.2 378.5h0M528.8 393.9h0M531 388.9h0M530.4 396.4h0M528.3 405h0M528.8 400.5h0M535.5 380.9h0M534.8 365.5h0M539.3 327.3h0M525.9 410.9h0M532 385.2h0M528.5 392.1h0M527.7 409.5h0M527.8 398.9h0M529.4 406.4h0M525.4 400.6h0M528.4 396.3h0M532.4 391.6h0M535.9 372.9h0M540.6 339.8h0M525.1 411h0M525.5 409h0M528.4 404.2h0M528.3 398.3h0M534.5 370h0M530 392.5h0M533 391.4h0M532.7 381.5h0M529.8 392.9h0M530.2 406.4h0M530.9 395h0M528.7 392.4h0M535.9 353h0M540.8 341.1h0M528 408.7h0M525 406.7h0M529.6 406.1h0M527.2 409.8h0M534.9 374.2h0M522.5 409.1h0M533.6 377.3h0M534.1 373h0M526.2 408.4h0M524.1 398h0M529.9 400.2h0M540.8 325.8h0M530.3 387.3h0M535.3 365.5h0M533.5 382.6h0M528.9 405.1h0M528.7 399.6h0M529.1 398.6h0M530.3 385.7h0M532.1 361.3h0M531.6 383.3h0M534.4 384.2h0M529.5 409h0M527 407.7h0M536.3 369.3h0M528.5 396.1h0M528.6 410h0M531.4 391.4h0M527.4 405.4h0M532.6 381.6h0M529.8 405h0M528.4 403.8h0M525.5 407.7h0M528.4 396.2h0M527.3 398.9h0M528.5 397.2h0M539.4 347.1h0M530 398.8h0M527.2 399.2h0M539.6 355.7h0M522.9 408.2h0M527.2 411.5h0M529.4 387.2h0M532.8 384.8h0M529 405.4h0M529.3 399h0M534 355h0M530.2 389.2h0M530.4 381.5h0M529 385.9h0M528.6 405.6h0M527.4 397.2h0M529.4 391h0M537.3 360.8h0M525.7 406.6h0M530.4 397.4h0M526 409.6h0M528.9 408.5h0M529.1 398h0M542.3 332.5h0M527.7 399.6h0M526.8 407.9h0M532.3 396.6h0M526.5 401h0M529.4 396.8h0M529.2 408.5h0M528.3 404h0M537.2 369.8h0M526.7 399.6h0M529.1 409.4h0M530.3 381.7h0M530 405.4h0M535.4 369.2h0M525.9 406.8h0M532 390.9h0M528.3 403.9h0M532.5 388.8h0M528.6 405.1h0M529.3 393.9h0M526.7 403.4h0M529.7 385.7h0M523.4 410.9h0M526.2 401.4h0M531.4 397.3h0M528.4 403.4h0M529 403h0M524.1 411.1h0M525.8 400.8h0M531.2 399.2h0M535.4 344.8h0M532.3 383.3h0M528.9 403h0M533.4 378.2h0M524.1 408.1h0M528.3 406.2h0M529.6 392.9h0M528.2 400.1h0M532.5 377.6h0M535.2 362.1h0M529.3 387.2h0M527.2 406.7h0M526.8 393h0M530.6 382.8h0M532.3 363.4h0M534.2 382.2h0M525.1 409.8h0M527.4 406.9h0M533.8 369.8h0M533.4 385.4h0M533.9 385.6h0M525.8 406.5h0M532 391.3h0M530.4 393.5h0M532.6 371.6h0M541.2 342.4h0M525.9 405.8h0M527 397.2h0M527.6 409.6h0M528 404.4h0M527.9 403.9h0M529.5 395.5h0M533.1 366.5h0M530.1 397.4h0M527.2 403.5h0M527.1 407.9h0M535.4 350h0M528.9 397.4h0M535.7 356.3h0M527.8 410h0M530.1 410h0M539.8 346h0M528.2 400.3h0M534.6 379.1h0M535.2 362.5h0M528.2 400.2h0M529.7 389.5h0M526.7 406.7h0M525 411h0M528.6 399.2h0M527.6 411.4h0M528.5 399.9h0M531.3 392.1h0M529.7 383.8h0M527.5 404.6h0M529.7 392.2h0M525.5 408.8h0M530.6 386.5h0M531.9 394.9h0M524.6 409.5h0M536.9 374.5h0M535.5 389.8h0M532.1 379.9h0M530.3 369h0M527.3 404.6h0M541.7 352.4h0M538.7 345.1h0M530.3 387.9h0M530.5 384.9h0M528.3 409.7h0M532.5 368.5h0M531.1 383.8h0M530.8 397.7h0M532.9 368.4h0M530.1 385.5h0M531 380.4h0M529.2 388.9h0M530.4 394.1h0M527.3 408.3h0M530.9 396.7h0M531.4 393.1h0M525.8 408.5h0M523.8 410.9h0M527.7 384.3h0M536.9 360.2h0M530.2 391.7h0M530.4 383.9h0M530.9 386.7h0M525.5 406h0M529 401.7h0M532.8 388.1h0M530.2 391.6h0M528.5 392.3h0M531.7 378.6h0M526.7 404.6h0M526.6 403.9h0M530 401.8h0M528.7 406.8h0M535 361.9h0M528.7 399.9h0M536.5 361.4h0M527.7 411h0M529 400.7h0M525.1 410.7h0M528.3 407.8h0M527.9 401.9h0M537.3 366.4h0M529.7 393.2h0M523.5 411.3h0M527 409.4h0M526.6 400.4h0M563.3 274.6h0M561.1 291.1h0M545.8 320h0M549.7 329.1h0M548 335.6h0M541.2 324.1h0M542.4 330.7h0M540.1 334h0M544.1 325.8h0M540.7 329.1h0" stroke="#ee2c2c" stroke-width="1.45" stroke-linecap="round" fill="none"/>
<line x1="508.4" y1="259.5" x2="508.4" y2="441" stroke="#111" stroke-width="0.8" stroke-dasharray="2.7 2.25"/>
<line x1="516.3" y1="259.5" x2="516.3" y2="441" stroke="#111" stroke-width="0.8" stroke-dasharray="2.7 2.25"/>
<line x1="402" y1="411.5" x2="588.5" y2="411.5" stroke="#111" stroke-width="0.8" stroke-dasharray="2.7 2.25"/>
<path d="M401.9 259.5V440.9H588.9" stroke="#222" stroke-width="1" fill="none"/>
<line x1="399.5" y1="433" x2="401.9" y2="433" stroke="#333" stroke-width="0.8"/>
<text x="396.9" y="435.7" font-size="7.25" text-anchor="end" fill="#4d4d4d">0.0</text>
<line x1="399.5" y1="391.8" x2="401.9" y2="391.8" stroke="#333" stroke-width="0.8"/>
<text x="396.9" y="394.4" font-size="7.25" text-anchor="end" fill="#4d4d4d">2.5</text>
<line x1="399.5" y1="350.5" x2="401.9" y2="350.5" stroke="#333" stroke-width="0.8"/>
<text x="396.9" y="353.2" font-size="7.25" text-anchor="end" fill="#4d4d4d">5.0</text>
<line x1="399.5" y1="309.2" x2="401.9" y2="309.2" stroke="#333" stroke-width="0.8"/>
<text x="396.9" y="311.9" font-size="7.25" text-anchor="end" fill="#4d4d4d">7.5</text>
<line x1="399.5" y1="268" x2="401.9" y2="268" stroke="#333" stroke-width="0.8"/>
<text x="396.9" y="270.7" font-size="7.25" text-anchor="end" fill="#4d4d4d">10.0</text>
<line x1="410.4" y1="440.9" x2="410.4" y2="443.4" stroke="#333" stroke-width="0.8"/>
<text x="409.2" y="451.1" font-size="7.25" text-anchor="middle" fill="#4d4d4d">−18</text>
<line x1="427.4" y1="440.9" x2="427.4" y2="443.4" stroke="#333" stroke-width="0.8"/>
<text x="426.2" y="451.1" font-size="7.25" text-anchor="middle" fill="#4d4d4d">−15</text>
<line x1="444.4" y1="440.9" x2="444.4" y2="443.4" stroke="#333" stroke-width="0.8"/>
<text x="443.2" y="451.1" font-size="7.25" text-anchor="middle" fill="#4d4d4d">−12</text>
<line x1="461.4" y1="440.9" x2="461.4" y2="443.4" stroke="#333" stroke-width="0.8"/>
<text x="460.2" y="451.1" font-size="7.25" text-anchor="middle" fill="#4d4d4d">−9</text>
<line x1="478.4" y1="440.9" x2="478.4" y2="443.4" stroke="#333" stroke-width="0.8"/>
<text x="477.2" y="451.1" font-size="7.25" text-anchor="middle" fill="#4d4d4d">−6</text>
<line x1="495.4" y1="440.9" x2="495.4" y2="443.4" stroke="#333" stroke-width="0.8"/>
<text x="494.2" y="451.1" font-size="7.25" text-anchor="middle" fill="#4d4d4d">−3</text>
<line x1="512.4" y1="440.9" x2="512.4" y2="443.4" stroke="#333" stroke-width="0.8"/>
<text x="512.4" y="451.1" font-size="7.25" text-anchor="middle" fill="#4d4d4d">0</text>
<line x1="529.3" y1="440.9" x2="529.3" y2="443.4" stroke="#333" stroke-width="0.8"/>
<text x="529.3" y="451.1" font-size="7.25" text-anchor="middle" fill="#4d4d4d">3</text>
<line x1="546.3" y1="440.9" x2="546.3" y2="443.4" stroke="#333" stroke-width="0.8"/>
<text x="546.3" y="451.1" font-size="7.25" text-anchor="middle" fill="#4d4d4d">6</text>
<line x1="563.3" y1="440.9" x2="563.3" y2="443.4" stroke="#333" stroke-width="0.8"/>
<text x="563.3" y="451.1" font-size="7.25" text-anchor="middle" fill="#4d4d4d">9</text>
<line x1="580.3" y1="440.9" x2="580.3" y2="443.4" stroke="#333" stroke-width="0.8"/>
<text x="580.3" y="451.1" font-size="7.25" text-anchor="middle" fill="#4d4d4d">12</text>
<text x="495.4" y="461.7" font-size="9.55" text-anchor="middle">log<tspan font-size="6.8" dy="1.9">2</tspan><tspan dy="-1.9">FC</tspan></text>
<text transform="translate(375.3 350.4) rotate(-90)" font-size="9.45" text-anchor="middle">−log<tspan font-size="6.8" dy="2.1">10</tspan><tspan dy="-2.1">FDR</tspan></text>
<line x1="438.9" y1="324.5" x2="436" y2="332" stroke="#333" stroke-width="0.6"/>
<rect x="404.2" y="294.9" width="29.5" height="9.5" fill="#fff" stroke="#444" stroke-width="0.7" rx="1.4"/><text x="419" y="302.1" font-size="7.0" text-anchor="middle">WNT7A</text>
<rect x="414.2" y="311.9" width="19.5" height="9.5" fill="#fff" stroke="#444" stroke-width="0.7" rx="1.4"/><text x="424" y="319.1" font-size="7.0" text-anchor="middle">HRK</text>
<rect x="438.3" y="319.8" width="28.8" height="9.5" fill="#fff" stroke="#444" stroke-width="0.7" rx="1.4"/><text x="452.7" y="327" font-size="7.0" text-anchor="middle">APOA2</text>
<rect x="408.1" y="337.2" width="23.3" height="9.5" fill="#fff" stroke="#444" stroke-width="0.7" rx="1.4"/><text x="419.7" y="344.5" font-size="7.0" text-anchor="middle">TNS4</text>
<rect x="435.5" y="340.9" width="43.4" height="9.5" fill="#fff" stroke="#444" stroke-width="0.7" rx="1.4"/><text x="457.2" y="348.1" font-size="7.0" text-anchor="middle">RASGEF1A</text>
<rect x="560.4" y="261.9" width="26.3" height="9.5" fill="#fff" stroke="#444" stroke-width="0.7" rx="1.4"/><text x="573.5" y="269.2" font-size="7.0" text-anchor="middle">ZNF28</text>
<rect x="541" y="278.2" width="28.3" height="9.5" fill="#fff" stroke="#444" stroke-width="0.7" rx="1.4"/><text x="555.1" y="285.5" font-size="7.0" text-anchor="middle">H4C11</text>
<rect x="513.4" y="311.8" width="25.4" height="9.5" fill="#fff" stroke="#444" stroke-width="0.7" rx="1.4"/><text x="526.1" y="319" font-size="7.0" text-anchor="middle">MSH3</text>
<rect x="542.5" y="309.8" width="29.2" height="9.5" fill="#fff" stroke="#444" stroke-width="0.7" rx="1.4"/><text x="557.1" y="317" font-size="7.0" text-anchor="middle">PDE6D</text>
<rect x="547.9" y="325.2" width="21.5" height="9.5" fill="#fff" stroke="#444" stroke-width="0.7" rx="1.4"/><text x="558.6" y="332.5" font-size="7.0" text-anchor="middle">NRM</text>
<rect x="517" y="333.1" width="26.8" height="9.5" fill="#fff" stroke="#444" stroke-width="0.7" rx="1.4"/><text x="530.4" y="340.4" font-size="7.0" text-anchor="middle">HINFP</text>
<text x="603.7" y="334.9" font-size="9.55">Expression</text><circle cx="609.2" cy="346.2" r="4" fill="#4682b4"/><text x="619.9" y="349" font-size="7.65">Down−regulated</text><circle cx="609.2" cy="357.2" r="4" fill="#b3b3b3"/><text x="619.9" y="360" font-size="7.65">Unchanged</text><circle cx="609.2" cy="368.2" r="4" fill="#ee2c2c"/><text x="619.9" y="371" font-size="7.65">Up−regulated</text></g>
<g id="panel-c"><text x="10.8" y="490.3" font-size="20.5" font-weight="bold">c</text><text x="140.3" y="489.1" font-size="11.7" text-anchor="middle">U118MG</text><rect x="150.7" y="499.8" width="132.4" height="12.1" fill="#2a1cf0" stroke="#1a10b0" stroke-width="0.5"/><line x1="146.8" y1="505.9" x2="150.7" y2="505.9" stroke="#222" stroke-width="0.6"/><text x="146.2" y="508.8" font-size="7.5" text-anchor="end">Anatomical structure development</text><rect x="150.7" y="514" width="25.5" height="12.1" fill="#2a1cf0" stroke="#1a10b0" stroke-width="0.5"/><line x1="146.8" y1="520.1" x2="150.7" y2="520.1" stroke="#222" stroke-width="0.6"/><text x="146.2" y="522.9" font-size="7.5" text-anchor="end">Actin filament-based movement</text><rect x="150.7" y="528.2" width="6.2" height="12.1" fill="#2a1cf0" stroke="#1a10b0" stroke-width="0.5"/><line x1="146.8" y1="534.3" x2="150.7" y2="534.3" stroke="#222" stroke-width="0.6"/><text x="146.2" y="537.1" font-size="7.5" text-anchor="end">Neuromuscular process</text><rect x="150.7" y="542.4" width="5.5" height="12.1" fill="#2a1cf0" stroke="#1a10b0" stroke-width="0.5"/><line x1="146.8" y1="548.5" x2="150.7" y2="548.5" stroke="#222" stroke-width="0.6"/><text x="146.2" y="551.3" font-size="7.5" text-anchor="end">Rhythmic process</text><rect x="150.7" y="556.6" width="5.3" height="12.1" fill="#2a1cf0" stroke="#1a10b0" stroke-width="0.5"/><line x1="146.8" y1="562.7" x2="150.7" y2="562.7" stroke="#222" stroke-width="0.6"/><text x="146.2" y="565.5" font-size="7.5" text-anchor="end">Cellular response to metal ion</text><rect x="150.7" y="570.8" width="5" height="12.1" fill="#2a1cf0" stroke="#1a10b0" stroke-width="0.5"/><line x1="146.8" y1="576.9" x2="150.7" y2="576.9" stroke="#222" stroke-width="0.6"/><text x="146.2" y="579.7" font-size="7.5" text-anchor="end">Myeloid leukocyte mediated immunity</text><rect x="150.7" y="585" width="4.1" height="12.1" fill="#2a1cf0" stroke="#1a10b0" stroke-width="0.5"/><line x1="146.8" y1="591" x2="150.7" y2="591" stroke="#222" stroke-width="0.6"/><text x="146.2" y="593.9" font-size="7.5" text-anchor="end">Extracellular matrix organization</text><rect x="150.7" y="599.2" width="3.2" height="12.1" fill="#2a1cf0" stroke="#1a10b0" stroke-width="0.5"/><line x1="146.8" y1="605.2" x2="150.7" y2="605.2" stroke="#222" stroke-width="0.6"/><text x="146.2" y="608.1" font-size="7.5" text-anchor="end">Response to cortisol</text><path d="M150.7 493.7V617.3H308.3" stroke="#222" stroke-width="0.7" fill="none"/><line x1="150.7" y1="617.3" x2="150.7" y2="619.9" stroke="#222" stroke-width="0.6"/><text transform="translate(153.8 623.8) rotate(-45)" font-size="7.4" text-anchor="end">0</text><line x1="177" y1="617.3" x2="177" y2="619.9" stroke="#222" stroke-width="0.6"/><text transform="translate(180.1 623.8) rotate(-45)" font-size="7.4" text-anchor="end">10</text><line x1="203.2" y1="617.3" x2="203.2" y2="619.9" stroke="#222" stroke-width="0.6"/><text transform="translate(206.3 623.8) rotate(-45)" font-size="7.4" text-anchor="end">20</text><line x1="229.5" y1="617.3" x2="229.5" y2="619.9" stroke="#222" stroke-width="0.6"/><text transform="translate(232.6 623.8) rotate(-45)" font-size="7.4" text-anchor="end">30</text><line x1="255.8" y1="617.3" x2="255.8" y2="619.9" stroke="#222" stroke-width="0.6"/><text transform="translate(258.9 623.8) rotate(-45)" font-size="7.4" text-anchor="end">40</text><line x1="282" y1="617.3" x2="282" y2="619.9" stroke="#222" stroke-width="0.6"/><text transform="translate(285.1 623.8) rotate(-45)" font-size="7.4" text-anchor="end">50</text><line x1="308.3" y1="617.3" x2="308.3" y2="619.9" stroke="#222" stroke-width="0.6"/><text transform="translate(311.4 623.8) rotate(-45)" font-size="7.4" text-anchor="end">60</text><text x="229.5" y="642.2" font-size="8.1" text-anchor="middle">-log<tspan font-size="5.8" dy="1.7">10</tspan><tspan dy="-1.7"> P</tspan><tspan font-size="5.8" dy="1.7">adj</tspan></text><rect x="100.8" y="648.8" width="181.7" height="111.5" fill="#fff" stroke="#2b3754" stroke-width="1.25" rx="0.8"/><text x="121.9" y="656" font-size="6.65">HALLMARK_MYC_TARGETS_V2</text><line x1="129.5" y1="660" x2="129.5" y2="747.5" stroke="#ececec" stroke-width="0.5"/><line x1="180.5" y1="660" x2="180.5" y2="747.5" stroke="#ececec" stroke-width="0.5"/><line x1="231.5" y1="660" x2="231.5" y2="747.5" stroke="#ececec" stroke-width="0.5"/><line x1="120.7" y1="668.6" x2="278.4" y2="668.6" stroke="#ececec" stroke-width="0.5"/><line x1="120.7" y1="693.8" x2="278.4" y2="693.8" stroke="#ececec" stroke-width="0.5"/><line x1="120.7" y1="718.9" x2="278.4" y2="718.9" stroke="#ececec" stroke-width="0.5"/><line x1="120.7" y1="744.1" x2="278.4" y2="744.1" stroke="#ececec" stroke-width="0.5"/><path d="M178 664V673.6M184.7 664V673.6M185.9 664V673.6M190.2 664V673.6M192.7 664V673.6M196.7 664V673.6M198 664V673.6M198.5 664V673.6M203.3 664V673.6M207.8 664V673.6M208.7 664V673.6M211.2 664V673.6M213.5 664V673.6M215.4 664V673.6M220.2 664V673.6M220.3 664V673.6M221.6 664V673.6M223.6 664V673.6M224.8 664V673.6M224.9 664V673.6M225.8 664V673.6M227.8 664V673.6M228.3 664V673.6M230.5 664V673.6M231.3 664V673.6M231.4 664V673.6M234.9 664V673.6M237.1 664V673.6M237.9 664V673.6M239.7 664V673.6M241.4 664V673.6M243.4 664V673.6M244.3 664V673.6M244.5 664V673.6M245.1 664V673.6M245.8 664V673.6M248.3 664V673.6M250.1 664V673.6M250.2 664V673.6M252 664V673.6M253.6 664V673.6M253.6 664V673.6M254.5 664V673.6M254.8 664V673.6M255.5 664V673.6M257.1 664V673.6M257.4 664V673.6M258.5 664V673.6M259.2 664V673.6M260.2 664V673.6M261.1 664V673.6M261.6 664V673.6M264.2 664V673.6M264.3 664V673.6M264.4 664V673.6M264.4 664V673.6M265.6 664V673.6M265.8 664V673.6M266.2 664V673.6M267.5 664V673.6M267.9 664V673.6M268.2 664V673.6M268.2 664V673.6M268.3 664V673.6M268.9 664V673.6M268.9 664V673.6M269.3 664V673.6M269.8 664V673.6M270.1 664V673.6M270.1 664V673.6" stroke="#000" stroke-width="0.45" opacity="0.75" fill="none"/><line x1="120.7" y1="668.6" x2="278.4" y2="668.6" stroke="#000" stroke-width="0.7"/><line x1="120.7" y1="668.6" x2="278.4" y2="668.6" stroke="#e8463a" stroke-width="0.7" stroke-dasharray="2.4 1.8"/><line x1="120.7" y1="742.2" x2="278.4" y2="742.2" stroke="#e8463a" stroke-width="0.8" stroke-dasharray="2.4 1.8"/><path d="M129.5 668.7L130 669.2L130.6 669.5L131.1 670.2L131.7 670.5L132.2 671L132.7 671.6L133.3 671.9L133.8 672.6L134.4 672.9L134.9 673.5L135.5 674L136 674.4L136.5 674.7L137.1 675.4L137.6 675.9L138.2 676.2L138.7 676.5L139.2 677.2L139.8 677.7L140.3 678L140.9 678.8L141.4 679L142 679.6L142.5 680.2L143 680.7L143.6 681.1L144.1 681.4L144.7 682.1L145.2 682.4L145.7 682.9L146.3 683.4L146.8 683.8L147.4 684.5L147.9 685L148.4 685.4L149 685.7L149.5 686.3L150.1 686.8L150.6 687.2L151.2 687.7L151.7 688.2L152.2 688.5L152.8 689L153.3 689.7L153.9 690L154.4 690.5L154.9 690.9L155.5 691.4L156 692L156.6 692.3L157.1 693.1L157.7 693.4L158.2 693.8L158.7 694.5L159.3 694.8L159.8 695.5L160.4 695.7L160.9 696.2L161.4 696.7L162 697.1L162.5 697.8L163.1 698.1L163.6 698.6L164.1 699.1L164.7 699.6L165.2 699.9L165.8 700.4L166.3 701L166.9 701.4L167.4 702.2L167.9 702.4L168.5 702.9L169 703.2L169.6 703.8L170.1 704.5L170.6 704.9L171.2 705.3L171.7 706L172.3 706.3L172.8 706.9L173.4 707.4L173.9 707.9L174.4 708.1L175 708.8L175.5 709.2L176.1 709.7L176.6 710L177.1 710.7L177.7 711.1L178.2 711.5L178.8 711.9L179.3 712.3L179.8 712.7L180.4 713.4L180.9 713.8L181.5 714.2L182 714.5L182.6 714.9L183.1 715.6L183.6 716L184.2 716.5L184.7 716.9L185.3 717.2L185.8 717.6L186.3 718.2L186.9 718.7L187.4 719L188 719.5L188.5 719.8L189.1 720.1L189.6 720.6L190.1 721.1L190.7 721.5L191.2 722L191.8 722.6L192.3 722.7L192.8 723.2L193.4 723.6L193.9 724.1L194.5 724.7L195 725.1L195.5 725.6L196.1 725.9L196.6 726.5L197.2 727L197.7 727.4L198.3 727.8L198.8 728.2L199.3 728.7L199.9 729.2L200.4 729.6L201 730L201.5 730.3L202 730.9L202.6 731L203.1 731.6L203.7 732.2L204.2 732.6L204.8 733L205.3 733.4L205.8 733.9L206.4 734.1L206.9 734.5L207.5 734.9L208 735L208.5 736.3L209.1 736.4L209.6 735.8L210.2 736.2L210.7 734.6L211.2 736.8L211.8 737.3L212.3 734.1L212.9 734.9L213.4 735.6L214 733.9L214.5 735.7L215 734.5L215.6 733.4L216.1 734L216.7 734.8L217.2 736.4L217.7 736.4L218.3 737.3L218.8 735.7L219.4 736.7L219.9 736.3L220.5 737.9L221 738.5L221.5 737L222.1 736.8L222.6 737.5L223.2 738.1L223.7 738.4L224.2 739.1L224.8 741L225.3 740.5L225.9 741.4L226.4 742.8L226.9 742.8L227.5 741.8L228 741.5L228.6 739.9L229.1 738.9L229.7 740.1L230.2 738.6L230.7 740.3L231.3 740.6L231.8 742.2L232.4 742.4L232.9 742.1L233.4 741.9L234 741.7L234.5 740.2L235.1 739.1L235.6 739L236.2 739.9L236.7 739.1L237.2 738.4L237.8 740.2L238.3 738.2L238.9 737.2L239.4 737.3L239.9 737.1L240.5 735.8L241 734.5L241.6 730.4L242.1 729.5L242.6 727.7L243.2 726.8L243.7 728.1L244.3 727.7L244.8 725.6L245.4 725.9L245.9 727.2L246.4 726.9L247 726.6L247.5 724.1L248.1 724.1L248.6 725.9L249.1 723.6L249.7 722.9L250.2 723.6L250.8 724.6L251.3 724.5L251.9 726.2L252.4 727.1L252.9 724.7L253.5 725.8L254 724.8L254.6 722.3L255.1 722.5L255.6 719.9L256.2 718.8L256.7 719.3L257.3 717.9L257.8 716.8L258.3 716.5L258.9 715L259.4 715.5L260 714.5L260.5 714.4L261.1 709.2L261.6 707.9L262.1 704.7L262.7 701.8L263.2 699.2L263.8 699.1L264.3 696L264.8 695L265.4 691.7L265.9 688.5L266.5 686.8L267 682.4L267.6 680.3L268.1 677.9L268.6 674.7L269.2 675.9L269.7 674.4L270.3 673" stroke="#55f528" stroke-width="0.9" fill="none" stroke-linejoin="round"/><text x="129.5" y="751" font-size="4.7" text-anchor="middle" fill="#3a3a3a">0</text><text x="180.5" y="751" font-size="4.7" text-anchor="middle" fill="#3a3a3a">5000</text><text x="231.5" y="751" font-size="4.7" text-anchor="middle" fill="#3a3a3a">10000</text><text x="119.2" y="669.9" font-size="4.7" text-anchor="end" fill="#3a3a3a">0.0</text><line x1="119.6" y1="668.6" x2="120.7" y2="668.6" stroke="#555" stroke-width="0.35"/><text x="119.2" y="695.1" font-size="4.7" text-anchor="end" fill="#3a3a3a">−0.2</text><line x1="119.6" y1="693.8" x2="120.7" y2="693.8" stroke="#555" stroke-width="0.35"/><text x="119.2" y="720.2" font-size="4.7" text-anchor="end" fill="#3a3a3a">−0.4</text><line x1="119.6" y1="718.9" x2="120.7" y2="718.9" stroke="#555" stroke-width="0.35"/><text x="119.2" y="745.4" font-size="4.7" text-anchor="end" fill="#3a3a3a">−0.6</text><line x1="119.6" y1="744.1" x2="120.7" y2="744.1" stroke="#555" stroke-width="0.35"/><text x="200" y="757.6" font-size="5.3" text-anchor="middle">rank</text><text transform="translate(107.5 703.4) rotate(-90)" font-size="5.3" text-anchor="middle">enrichment score</text><text x="130.6" y="722.3" font-size="7.9" font-weight="bold">NES = -2.4</text><text x="130.6" y="731.8" font-size="7.9" font-weight="bold">Padj &lt; 0.05</text><rect x="100.8" y="769.6" width="181.7" height="115.6" fill="#fff" stroke="#2b3754" stroke-width="1.25" rx="0.8"/><text x="119.8" y="776.9" font-size="6.65">HALLMARK_MYOGENESIS</text><line x1="127.1" y1="780.5" x2="127.1" y2="867" stroke="#ececec" stroke-width="0.5"/><line x1="179" y1="780.5" x2="179" y2="867" stroke="#ececec" stroke-width="0.5"/><line x1="230.9" y1="780.5" x2="230.9" y2="867" stroke="#ececec" stroke-width="0.5"/><line x1="119.8" y1="860.4" x2="277.8" y2="860.4" stroke="#ececec" stroke-width="0.5"/><line x1="119.8" y1="837.6" x2="277.8" y2="837.6" stroke="#ececec" stroke-width="0.5"/><line x1="119.8" y1="814.8" x2="277.8" y2="814.8" stroke="#ececec" stroke-width="0.5"/><line x1="119.8" y1="792.1" x2="277.8" y2="792.1" stroke="#ececec" stroke-width="0.5"/><path d="M127.3 855.4V865M127.4 855.4V865M127.4 855.4V865M127.4 855.4V865M127.7 855.4V865M128.2 855.4V865M128.2 855.4V865M128.5 855.4V865M129.2 855.4V865M129.3 855.4V865M129.3 855.4V865M129.5 855.4V865M129.8 855.4V865M130 855.4V865M130 855.4V865M130.7 855.4V865M131.4 855.4V865M131.5 855.4V865M131.5 855.4V865M132.2 855.4V865M132.6 855.4V865M133.3 855.4V865M133.4 855.4V865M133.4 855.4V865M133.5 855.4V865M134 855.4V865M134.1 855.4V865M134.3 855.4V865M134.5 855.4V865M134.8 855.4V865M134.8 855.4V865M135.7 855.4V865M135.7 855.4V865M140 855.4V865M140.4 855.4V865M141.6 855.4V865M141.6 855.4V865M141.9 855.4V865M142.1 855.4V865M142.8 855.4V865M143.1 855.4V865M143.3 855.4V865M143.4 855.4V865M144.4 855.4V865M144.8 855.4V865M145.4 855.4V865M145.5 855.4V865M145.6 855.4V865M146.6 855.4V865M146.9 855.4V865M147 855.4V865M147.6 855.4V865M147.9 855.4V865M148.4 855.4V865M148.7 855.4V865M148.8 855.4V865M148.8 855.4V865M149.3 855.4V865M149.4 855.4V865M149.5 855.4V865M149.7 855.4V865M149.9 855.4V865M150.7 855.4V865M150.8 855.4V865M151.5 855.4V865M151.8 855.4V865M152.2 855.4V865M153.1 855.4V865M157.2 855.4V865M157.7 855.4V865M158.1 855.4V865M159.4 855.4V865M161.5 855.4V865M163.5 855.4V865M164 855.4V865M165 855.4V865M165.5 855.4V865M167.5 855.4V865M167.8 855.4V865M168.2 855.4V865M171.1 855.4V865M171.2 855.4V865M174.9 855.4V865M178.6 855.4V865M179.7 855.4V865M181.6 855.4V865M182.5 855.4V865M183.1 855.4V865M190.4 855.4V865M192 855.4V865M192.2 855.4V865M193.1 855.4V865M194.4 855.4V865M195.9 855.4V865M198.9 855.4V865M200.9 855.4V865M203.8 855.4V865M204 855.4V865M208.1 855.4V865M208.1 855.4V865M208.1 855.4V865M208.9 855.4V865M210.1 855.4V865M213.2 855.4V865M216.8 855.4V865M217.5 855.4V865M219.4 855.4V865M220.8 855.4V865M221.4 855.4V865M222.9 855.4V865M223 855.4V865M224.8 855.4V865M225 855.4V865M225.1 855.4V865M225.5 855.4V865M234.4 855.4V865M235.8 855.4V865M237 855.4V865M238.3 855.4V865M239.4 855.4V865M239.6 855.4V865M240.1 855.4V865M240.3 855.4V865M241.3 855.4V865M242.5 855.4V865M242.9 855.4V865M245.6 855.4V865M246.6 855.4V865M246.7 855.4V865M247.6 855.4V865M250.6 855.4V865M251.8 855.4V865M253.1 855.4V865M255.6 855.4V865M257.2 855.4V865M259 855.4V865M260.9 855.4V865M262.3 855.4V865M262.8 855.4V865M263.6 855.4V865M264.9 855.4V865M265.5 855.4V865M265.9 855.4V865M266.5 855.4V865M266.8 855.4V865M267.4 855.4V865M269.2 855.4V865M269.2 855.4V865M269.5 855.4V865M269.6 855.4V865" stroke="#000" stroke-width="0.45" opacity="0.75" fill="none"/><line x1="119.8" y1="860.4" x2="277.8" y2="860.4" stroke="#000" stroke-width="0.7"/><line x1="119.8" y1="860.4" x2="277.8" y2="860.4" stroke="#e8463a" stroke-width="0.7" stroke-dasharray="2.4 1.8"/><line x1="119.8" y1="784.1" x2="277.8" y2="784.1" stroke="#e8463a" stroke-width="0.8" stroke-dasharray="2.4 1.8"/><path d="M127.1 860.5L127.7 833.2L128.2 823.5L128.8 813.2L129.3 808.4L129.9 802.3L130.4 799.7L131 799.6L131.5 797.8L132.1 796.6L132.6 796.2L133.2 794.6L133.7 793L134.3 792.1L134.8 791.3L135.4 791.7L135.9 791.1L136.5 790.8L137 789.9L137.6 788.9L138.1 788.7L138.7 787.7L139.2 787.5L139.8 786.3L140.3 786.8L140.9 786.2L141.4 785.4L142 785.1L142.5 785.3L143.1 785.5L143.6 785L144.2 785.2L144.7 785.3L145.3 784.8L145.8 785.8L146.4 785L146.9 785.2L147.5 786.5L148 786.2L148.6 786.2L149.1 787L149.7 786.6L150.2 786.1L150.8 787.3L151.3 786.8L151.9 787.6L152.4 787.1L153 786.9L153.5 788L154.1 788.4L154.6 788.5L155.2 788L155.7 788.3L156.3 788.5L156.9 788.5L157.4 788.7L158 789.1L158.5 789.5L159.1 789.7L159.6 790.2L160.2 790.4L160.7 790.8L161.3 791L161.8 791.3L162.4 791.8L162.9 792L163.5 792.4L164 792.9L164.6 793.3L165.1 793.5L165.7 793.9L166.2 794.5L166.8 794.8L167.3 795.1L167.9 795.7L168.4 796L169 796.5L169.5 796.8L170.1 797.1L170.6 797.6L171.2 797.9L171.7 798.5L172.3 798.8L172.8 799.1L173.4 799.5L173.9 800L174.5 800.4L175 800.6L175.6 801.1L176.1 801.6L176.7 801.8L177.2 802.4L177.8 802.7L178.3 803.2L178.9 803.5L179.4 803.9L180 804.4L180.5 804.6L181.1 805.2L181.6 805.4L182.2 806L182.7 806.2L183.3 806.6L183.8 807L184.4 807.4L184.9 807.9L185.5 808.2L186.1 808.6L186.6 809.1L187.2 809.3L187.7 809.8L188.3 810.2L188.8 810.5L189.4 811L189.9 811.3L190.5 811.8L191 812.1L191.6 812.6L192.1 813.1L192.7 813.2L193.2 813.8L193.8 814L194.3 814.4L194.9 814.9L195.4 815.4L196 815.8L196.5 816.2L197.1 816.5L197.6 816.9L198.2 817.2L198.7 817.7L199.3 818.2L199.8 818.5L200.4 819L200.9 819.4L201.5 819.6L202 820L202.6 820.5L203.1 820.9L203.7 821.2L204.2 821.6L204.8 822.1L205.3 822.3L205.9 822.9L206.4 823.2L207 823.5L207.5 823.9L208.1 824.4L208.6 824.9L209.2 825.3L209.7 825.6L210.3 826L210.8 826.3L211.4 826.9L211.9 827.1L212.5 827.6L213 828L213.6 828.4L214.1 828.7L214.7 829.1L215.3 829.5L215.8 830L216.4 830.3L216.9 830.6L217.5 831.1L218 831.4L218.6 832L219.1 832.2L219.7 832.6L220.2 833.1L220.8 833.5L221.3 833.9L221.9 834.2L222.4 834.8L223 835.1L223.5 835.5L224.1 836L224.6 836.3L225.2 836.7L225.7 837.3L226.3 837.6L226.8 838L227.4 838.4L227.9 838.8L228.5 839.4L229 839.6L229.6 840.1L230.1 840.4L230.7 841L231.2 841.2L231.8 841.7L232.3 842.1L232.9 842.5L233.4 843.1L234 843.3L234.5 843.8L235.1 844.2L235.6 844.6L236.2 845.1L236.7 845.5L237.3 845.8L237.8 846.3L238.4 846.8L238.9 847.1L239.5 847.5L240 847.9L240.6 848.4L241.1 848.7L241.7 849.2L242.2 849.5L242.8 850.1L243.3 850.3L243.9 850.8L244.4 851.1L245 851.5L245.6 851.9L246.1 852.4L246.7 852.7L247.2 853.1L247.8 853.3L248.3 853.8L248.9 854.2L249.4 854.6L250 855L250.5 855.1L251.1 855.5L251.6 856L252.2 856.3L252.7 856.7L253.3 857L253.8 857.2L254.4 857.3L254.9 857.5L255.5 857.7L256 857.8L256.6 858L257.1 858.1L257.7 858.2L258.2 858.5L258.8 858.7L259.3 858.7L259.9 859L260.4 859.2L261 859.3L261.5 859.7L262.1 860.1L262.6 860.5L263.2 860.8L263.7 861.1L264.3 861.3L264.8 861.4L265.4 861.3L265.9 861.2L266.5 861.1L267 861L267.6 860.9L268.1 860.7L268.7 860.8L269.2 860.7L269.8 860.6L270.3 860.4" stroke="#55f528" stroke-width="0.9" fill="none" stroke-linejoin="round"/><text x="127.1" y="874.8" font-size="4.7" text-anchor="middle" fill="#3a3a3a">0</text><text x="179" y="874.8" font-size="4.7" text-anchor="middle" fill="#3a3a3a">5000</text><text x="230.9" y="874.8" font-size="4.7" text-anchor="middle" fill="#3a3a3a">10000</text><text x="118.3" y="861.7" font-size="4.7" text-anchor="end" fill="#3a3a3a">0.0</text><line x1="118.7" y1="860.4" x2="119.8" y2="860.4" stroke="#555" stroke-width="0.35"/><text x="118.3" y="838.9" font-size="4.7" text-anchor="end" fill="#3a3a3a">0.2</text><line x1="118.7" y1="837.6" x2="119.8" y2="837.6" stroke="#555" stroke-width="0.35"/><text x="118.3" y="816.1" font-size="4.7" text-anchor="end" fill="#3a3a3a">0.4</text><line x1="118.7" y1="814.8" x2="119.8" y2="814.8" stroke="#555" stroke-width="0.35"/><text x="118.3" y="793.4" font-size="4.7" text-anchor="end" fill="#3a3a3a">0.6</text><line x1="118.7" y1="792.1" x2="119.8" y2="792.1" stroke="#555" stroke-width="0.35"/><text x="198.6" y="881.4" font-size="5.3" text-anchor="middle">rank</text><text transform="translate(107.5 828) rotate(-90)" font-size="5.3" text-anchor="middle">enrichment score</text><text x="134.4" y="836.7" font-size="7.9" font-weight="bold">NES = 1.7</text><text x="134.4" y="846.2" font-size="7.9" font-weight="bold">Padj &lt; 0.05</text></g>
<g id="panel-d"><text x="351.6" y="488.8" font-size="20.5" font-weight="bold">d</text><text x="507.2" y="486.5" font-size="11.7" text-anchor="middle">HuO9</text><rect x="524.4" y="502.1" width="113.3" height="11.1" fill="#fa2a18" stroke="#a02015" stroke-width="0.5"/><line x1="521.7" y1="507.6" x2="524.4" y2="507.6" stroke="#222" stroke-width="0.6"/><text x="521.1" y="510.5" font-size="6.85" text-anchor="end">Organonitrogen compound metabolic process</text><rect x="524.4" y="515" width="82.8" height="11.1" fill="#fa2a18" stroke="#a02015" stroke-width="0.5"/><line x1="521.7" y1="520.5" x2="524.4" y2="520.5" stroke="#222" stroke-width="0.6"/><text x="521.1" y="523.4" font-size="6.85" text-anchor="end">Organelle organization</text><rect x="524.4" y="527.9" width="72.4" height="11.1" fill="#fa2a18" stroke="#a02015" stroke-width="0.5"/><line x1="521.7" y1="533.5" x2="524.4" y2="533.5" stroke="#222" stroke-width="0.6"/><text x="521.1" y="536.3" font-size="6.85" text-anchor="end">Cellular localization</text><rect x="524.4" y="540.8" width="48.1" height="11.1" fill="#fa2a18" stroke="#a02015" stroke-width="0.5"/><line x1="521.7" y1="546.4" x2="524.4" y2="546.4" stroke="#222" stroke-width="0.6"/><text x="521.1" y="549.2" font-size="6.85" text-anchor="end">Cellular response to stress</text><rect x="524.4" y="553.8" width="40.9" height="11.1" fill="#fa2a18" stroke="#a02015" stroke-width="0.5"/><line x1="521.7" y1="559.3" x2="524.4" y2="559.3" stroke="#222" stroke-width="0.6"/><text x="521.1" y="562.2" font-size="6.85" text-anchor="end">Small molecule metabolic process</text><rect x="524.4" y="566.7" width="29" height="11.1" fill="#fa2a18" stroke="#a02015" stroke-width="0.5"/><line x1="521.7" y1="572.2" x2="524.4" y2="572.2" stroke="#222" stroke-width="0.6"/><text x="521.1" y="575.1" font-size="6.85" text-anchor="end">Cell division</text><rect x="524.4" y="579.6" width="22.8" height="11.1" fill="#fa2a18" stroke="#a02015" stroke-width="0.5"/><line x1="521.7" y1="585.2" x2="524.4" y2="585.2" stroke="#222" stroke-width="0.6"/><text x="521.1" y="588" font-size="6.85" text-anchor="end">Protein-DNA complex subunit organization</text><rect x="524.4" y="592.6" width="15.7" height="11.1" fill="#fa2a18" stroke="#a02015" stroke-width="0.5"/><line x1="521.7" y1="598.1" x2="524.4" y2="598.1" stroke="#222" stroke-width="0.6"/><text x="521.1" y="601" font-size="6.85" text-anchor="end">Sulfur compound biosynthetic process</text><path d="M524.4 496.3V609.1H667.2" stroke="#222" stroke-width="0.7" fill="none"/><line x1="524.4" y1="609.1" x2="524.4" y2="611.7" stroke="#222" stroke-width="0.6"/><text transform="translate(526.4 616.3) rotate(-45)" font-size="6.5" text-anchor="end">0</text><line x1="572" y1="609.1" x2="572" y2="611.7" stroke="#222" stroke-width="0.6"/><text transform="translate(574 616.3) rotate(-45)" font-size="6.5" text-anchor="end">10</text><line x1="619.6" y1="609.1" x2="619.6" y2="611.7" stroke="#222" stroke-width="0.6"/><text transform="translate(621.6 616.3) rotate(-45)" font-size="6.5" text-anchor="end">20</text><line x1="667.2" y1="609.1" x2="667.2" y2="611.7" stroke="#222" stroke-width="0.6"/><text transform="translate(669.2 616.3) rotate(-45)" font-size="6.5" text-anchor="end">30</text><text x="595.9" y="632.4" font-size="7.6" text-anchor="middle">-log<tspan font-size="5.5" dy="1.7">10</tspan><tspan dy="-1.7"> P</tspan><tspan font-size="5.5" dy="1.7">adj</tspan></text><rect x="448.8" y="642.3" width="181.9" height="113.7" fill="#fff" stroke="#3e4b68" stroke-width="1.25" rx="0.8"/><text x="468.6" y="649.3" font-size="6.42">HALLMARK_E2F_TARGETS</text><line x1="476.5" y1="654" x2="476.5" y2="740.5" stroke="#ececec" stroke-width="0.5"/><line x1="511.2" y1="654" x2="511.2" y2="740.5" stroke="#ececec" stroke-width="0.5"/><line x1="545.9" y1="654" x2="545.9" y2="740.5" stroke="#ececec" stroke-width="0.5"/><line x1="580.6" y1="654" x2="580.6" y2="740.5" stroke="#ececec" stroke-width="0.5"/><line x1="615.3" y1="654" x2="615.3" y2="740.5" stroke="#ececec" stroke-width="0.5"/><line x1="468.3" y1="661.9" x2="625.4" y2="661.9" stroke="#ececec" stroke-width="0.5"/><line x1="468.3" y1="681.4" x2="625.4" y2="681.4" stroke="#ececec" stroke-width="0.5"/><line x1="468.3" y1="701" x2="625.4" y2="701" stroke="#ececec" stroke-width="0.5"/><line x1="468.3" y1="720.5" x2="625.4" y2="720.5" stroke="#ececec" stroke-width="0.5"/><path d="M481.2 656.9V666.5M482.8 656.9V666.5M482.9 656.9V666.5M483.5 656.9V666.5M483.8 656.9V666.5M485.4 656.9V666.5M485.8 656.9V666.5M486.2 656.9V666.5M486.4 656.9V666.5M486.7 656.9V666.5M487 656.9V666.5M487.2 656.9V666.5M489.9 656.9V666.5M490.5 656.9V666.5M491.6 656.9V666.5M491.8 656.9V666.5M492.6 656.9V666.5M496.2 656.9V666.5M497.7 656.9V666.5M500.7 656.9V666.5M502.4 656.9V666.5M503.9 656.9V666.5M504.8 656.9V666.5M507 656.9V666.5M507.1 656.9V666.5M508.2 656.9V666.5M509.6 656.9V666.5M509.8 656.9V666.5M510.1 656.9V666.5M511.6 656.9V666.5M511.8 656.9V666.5M514.9 656.9V666.5M516.7 656.9V666.5M517.4 656.9V666.5M518.1 656.9V666.5M522.1 656.9V666.5M522.4 656.9V666.5M522.6 656.9V666.5M523.5 656.9V666.5M525.2 656.9V666.5M525.3 656.9V666.5M526.7 656.9V666.5M527.7 656.9V666.5M528.1 656.9V666.5M529.2 656.9V666.5M529.2 656.9V666.5M529.6 656.9V666.5M530.5 656.9V666.5M531.8 656.9V666.5M534.6 656.9V666.5M535.8 656.9V666.5M535.9 656.9V666.5M536.6 656.9V666.5M538.2 656.9V666.5M538.2 656.9V666.5M538.4 656.9V666.5M539.8 656.9V666.5M540.6 656.9V666.5M540.6 656.9V666.5M540.7 656.9V666.5M542.4 656.9V666.5M542.7 656.9V666.5M543.1 656.9V666.5M543.5 656.9V666.5M543.9 656.9V666.5M545.1 656.9V666.5M546 656.9V666.5M546.1 656.9V666.5M546.3 656.9V666.5M547.3 656.9V666.5M547.9 656.9V666.5M548.3 656.9V666.5M548.8 656.9V666.5M549.6 656.9V666.5M550.3 656.9V666.5M550.7 656.9V666.5M552.2 656.9V666.5M552.3 656.9V666.5M552.9 656.9V666.5M553.5 656.9V666.5M553.8 656.9V666.5M554.1 656.9V666.5M554.6 656.9V666.5M554.9 656.9V666.5M555.1 656.9V666.5M555.5 656.9V666.5M555.9 656.9V666.5M558 656.9V666.5M558.1 656.9V666.5M558.2 656.9V666.5M558.5 656.9V666.5M560.4 656.9V666.5M560.9 656.9V666.5M563.6 656.9V666.5M564.9 656.9V666.5M565.2 656.9V666.5M567.1 656.9V666.5M567.2 656.9V666.5M568.7 656.9V666.5M569.6 656.9V666.5M571.6 656.9V666.5M572.1 656.9V666.5M574.6 656.9V666.5M574.8 656.9V666.5M575.5 656.9V666.5M576.2 656.9V666.5M577.2 656.9V666.5M577.8 656.9V666.5M578.1 656.9V666.5M578.2 656.9V666.5M578.8 656.9V666.5M579.3 656.9V666.5M579.7 656.9V666.5M579.9 656.9V666.5M580.3 656.9V666.5M582.9 656.9V666.5M583.1 656.9V666.5M583.8 656.9V666.5M584.8 656.9V666.5M584.8 656.9V666.5M584.9 656.9V666.5M585.1 656.9V666.5M585.5 656.9V666.5M585.5 656.9V666.5M586 656.9V666.5M587.8 656.9V666.5M587.8 656.9V666.5M588.3 656.9V666.5M590.5 656.9V666.5M590.7 656.9V666.5M590.9 656.9V666.5M590.9 656.9V666.5M591.3 656.9V666.5M591.6 656.9V666.5M593.2 656.9V666.5M594 656.9V666.5M595.9 656.9V666.5M596 656.9V666.5M596.1 656.9V666.5M596.5 656.9V666.5M596.8 656.9V666.5M597.2 656.9V666.5M598.7 656.9V666.5M600.8 656.9V666.5M600.9 656.9V666.5M601.4 656.9V666.5M601.6 656.9V666.5M602.9 656.9V666.5M603 656.9V666.5M603 656.9V666.5M603.3 656.9V666.5M604.4 656.9V666.5M604.5 656.9V666.5M604.5 656.9V666.5M605.9 656.9V666.5M607.4 656.9V666.5M607.6 656.9V666.5M607.8 656.9V666.5M608.3 656.9V666.5M609.7 656.9V666.5M609.7 656.9V666.5M609.7 656.9V666.5M610 656.9V666.5M610.4 656.9V666.5M611.2 656.9V666.5M611.6 656.9V666.5M612.1 656.9V666.5M612.5 656.9V666.5M612.5 656.9V666.5M612.7 656.9V666.5M613.3 656.9V666.5M614.1 656.9V666.5M614.6 656.9V666.5M614.6 656.9V666.5M614.7 656.9V666.5M614.7 656.9V666.5M616 656.9V666.5M616.4 656.9V666.5M616.5 656.9V666.5M616.7 656.9V666.5M617 656.9V666.5M617 656.9V666.5M617.2 656.9V666.5M617.4 656.9V666.5M617.5 656.9V666.5" stroke="#000" stroke-width="0.45" opacity="0.75" fill="none"/><line x1="468.3" y1="661.9" x2="625.4" y2="661.9" stroke="#000" stroke-width="0.7"/><line x1="468.3" y1="661.9" x2="625.4" y2="661.9" stroke="#e8463a" stroke-width="0.7" stroke-dasharray="2.4 1.8"/><line x1="468.3" y1="735.2" x2="625.4" y2="735.2" stroke="#e8463a" stroke-width="0.8" stroke-dasharray="2.4 1.8"/><path d="M476.5 661.6L477 662L477.6 662.5L478.1 662.7L478.7 663.8L479.2 664L479.8 666.8L480.3 666.4L480.9 665.8L481.4 666.6L481.9 666.1L482.5 668.1L483 667.4L483.6 668L484.1 667.5L484.7 667.5L485.2 669.1L485.7 669.1L486.3 669.4L486.8 668.4L487.4 669.2L487.9 671.1L488.5 670.1L489 672.1L489.6 671.4L490.1 673.1L490.6 673.8L491.2 672.4L491.7 674.6L492.3 675.3L492.8 674.2L493.4 675.1L493.9 677.1L494.4 676.2L495 677.8L495.5 678.2L496.1 679.9L496.6 678.9L497.2 680.1L497.7 680.1L498.3 680.9L498.8 683L499.3 683.5L499.9 684.6L500.4 685.3L501 686.2L501.5 686.3L502.1 686.2L502.6 688.3L503.1 687.4L503.7 688.8L504.2 689.5L504.8 689L505.3 690.5L505.9 691.5L506.4 691.8L507 691.9L507.5 694.1L508 692.6L508.6 695.5L509.1 694.4L509.7 694.9L510.2 697.5L510.8 696.3L511.3 698L511.9 698.1L512.4 700.1L512.9 700.7L513.5 701L514 699.9L514.6 702.3L515.1 701.7L515.7 701.9L516.2 702.5L516.7 704.6L517.3 705.2L517.8 705.5L518.4 705.6L518.9 707.8L519.5 706.8L520 707.2L520.6 707.5L521.1 710L521.6 708.3L522.2 710.8L522.7 710.7L523.3 710.6L523.8 710.4L524.4 712.3L524.9 711.4L525.4 712.8L526 713.8L526.5 714.3L527.1 715.1L527.6 715.9L528.2 716.2L528.7 715.4L529.3 715.2L529.8 717.7L530.3 718.5L530.9 716.8L531.4 718.3L532 719.1L532.5 720L533.1 719.7L533.6 719.6L534.1 721L534.7 721.6L535.2 722.9L535.8 721.4L536.3 724L536.9 723.5L537.4 723.2L538 725.4L538.5 724.5L539 724.5L539.6 725.8L540.1 725.9L540.7 728.1L541.2 727.8L541.8 729L542.3 727.9L542.9 729.7L543.4 729.6L543.9 728.4L544.5 728.9L545 728.7L545.6 730.1L546.1 730.1L546.7 729.7L547.2 730.4L547.7 731.2L548.3 731.3L548.8 732.3L549.4 732.1L549.9 731.1L550.5 731.5L551 732.7L551.6 733.3L552.1 733.9L552.6 734.7L553.2 734.5L553.7 733.5L554.3 733.5L554.8 734.9L555.4 734.1L555.9 734.4L556.4 734.7L557 734.5L557.5 733.9L558.1 734.5L558.6 733.4L559.2 734.1L559.7 733.3L560.3 732.3L560.8 732.2L561.3 732.8L561.9 730.8L562.4 731L563 730.7L563.5 731.6L564.1 729.9L564.6 730.2L565.1 729L565.7 729.7L566.2 729L566.8 729.5L567.3 729.3L567.9 730.5L568.4 730L569 730L569.5 729.9L570 731.2L570.6 730.3L571.1 730.4L571.7 729.2L572.2 726.5L572.8 724.4L573.3 723.4L573.9 721.3L574.4 720.8L574.9 718.4L575.5 717.2L576 717.4L576.6 716.1L577.1 715.1L577.7 714.2L578.2 714.7L578.7 711.8L579.3 710.8L579.8 709.1L580.4 708.2L580.9 707.8L581.5 707.8L582 708.4L582.6 708.5L583.1 710.4L583.6 710.4L584.2 709.6L584.7 708.4L585.3 708.7L585.8 706.8L586.4 706.2L586.9 706.8L587.4 705.1L588 704.9L588.5 704.4L589.1 703.3L589.6 701.9L590.2 701.3L590.7 700.3L591.3 699.8L591.8 697.8L592.3 697.1L592.9 695.6L593.4 694.7L594 694.7L594.5 692.9L595.1 694.8L595.6 693.6L596.1 693.6L596.7 693.1L597.2 693.5L597.8 691.6L598.3 692.3L598.9 692.6L599.4 690.8L600 691.6L600.5 690L601 690L601.6 689L602.1 687.6L602.7 687.5L603.2 688L603.8 686.6L604.3 686L604.8 685.6L605.4 685.1L605.9 683.1L606.5 682.2L607 680.2L607.6 679.2L608.1 679.1L608.7 679.1L609.2 677.2L609.7 678.7L610.3 677.9L610.8 676.2L611.4 675.5L611.9 675.4L612.5 672.7L613 670.6L613.6 670.3L614.1 668.7L614.6 668L615.2 667.1L615.7 664.8L616.3 665.4L616.8 663.3L617.4 662.7L617.9 662.7" stroke="#55f528" stroke-width="0.9" fill="none" stroke-linejoin="round"/><text x="476.5" y="744.8" font-size="4.7" text-anchor="middle" fill="#3a3a3a">0</text><text x="511.2" y="744.8" font-size="4.7" text-anchor="middle" fill="#3a3a3a">2000</text><text x="545.9" y="744.8" font-size="4.7" text-anchor="middle" fill="#3a3a3a">4000</text><text x="580.6" y="744.8" font-size="4.7" text-anchor="middle" fill="#3a3a3a">6000</text><text x="615.3" y="744.8" font-size="4.7" text-anchor="middle" fill="#3a3a3a">8000</text><text x="466.8" y="663.2" font-size="4.7" text-anchor="end" fill="#3a3a3a">0.0</text><line x1="467.2" y1="661.9" x2="468.3" y2="661.9" stroke="#555" stroke-width="0.35"/><text x="466.8" y="682.7" font-size="4.7" text-anchor="end" fill="#3a3a3a">−0.1</text><line x1="467.2" y1="681.4" x2="468.3" y2="681.4" stroke="#555" stroke-width="0.35"/><text x="466.8" y="702.3" font-size="4.7" text-anchor="end" fill="#3a3a3a">−0.2</text><line x1="467.2" y1="701" x2="468.3" y2="701" stroke="#555" stroke-width="0.35"/><text x="466.8" y="721.8" font-size="4.7" text-anchor="end" fill="#3a3a3a">−0.3</text><line x1="467.2" y1="720.5" x2="468.3" y2="720.5" stroke="#555" stroke-width="0.35"/><text x="546.9" y="751.4" font-size="5.3" text-anchor="middle">rank</text><text transform="translate(454.8 697) rotate(-90)" font-size="5.3" text-anchor="middle">enrichment score</text><text x="479.4" y="717.6" font-size="7.9" font-weight="bold">NES = -1.8</text><text x="479.4" y="727.1" font-size="7.9" font-weight="bold">Padj &lt; 0.05</text><rect x="448.8" y="763.9" width="181.9" height="115.7" fill="#fff" stroke="#3e4b68" stroke-width="1.25" rx="0.8"/><text x="470.7" y="771.3" font-size="6.42">HALLMARK_CHOLESTEROL_HOMEOSTASIS</text><line x1="478" y1="776" x2="478" y2="864" stroke="#ececec" stroke-width="0.5"/><line x1="512.7" y1="776" x2="512.7" y2="864" stroke="#ececec" stroke-width="0.5"/><line x1="547.4" y1="776" x2="547.4" y2="864" stroke="#ececec" stroke-width="0.5"/><line x1="582.2" y1="776" x2="582.2" y2="864" stroke="#ececec" stroke-width="0.5"/><line x1="616.9" y1="776" x2="616.9" y2="864" stroke="#ececec" stroke-width="0.5"/><line x1="469.2" y1="783.6" x2="626" y2="783.6" stroke="#ececec" stroke-width="0.5"/><line x1="469.2" y1="800.3" x2="626" y2="800.3" stroke="#ececec" stroke-width="0.5"/><line x1="469.2" y1="817" x2="626" y2="817" stroke="#ececec" stroke-width="0.5"/><line x1="469.2" y1="833.7" x2="626" y2="833.7" stroke="#ececec" stroke-width="0.5"/><line x1="469.2" y1="850.4" x2="626" y2="850.4" stroke="#ececec" stroke-width="0.5"/><path d="M498 778.3V788.5M499.2 778.3V788.5M502.9 778.3V788.5M502.9 778.3V788.5M505.1 778.3V788.5M506.5 778.3V788.5M506.7 778.3V788.5M508.2 778.3V788.5M509.1 778.3V788.5M510.9 778.3V788.5M514 778.3V788.5M516.3 778.3V788.5M516.6 778.3V788.5M527.5 778.3V788.5M528.2 778.3V788.5M528.3 778.3V788.5M528.7 778.3V788.5M530.7 778.3V788.5M532.1 778.3V788.5M534.7 778.3V788.5M541.6 778.3V788.5M542.8 778.3V788.5M543.2 778.3V788.5M543.5 778.3V788.5M545.6 778.3V788.5M547.8 778.3V788.5M552.6 778.3V788.5M559.2 778.3V788.5M559.7 778.3V788.5M565.6 778.3V788.5M566 778.3V788.5M567.3 778.3V788.5M570.8 778.3V788.5M570.8 778.3V788.5M571 778.3V788.5M571.2 778.3V788.5M572.2 778.3V788.5M574.8 778.3V788.5M576.8 778.3V788.5M577.9 778.3V788.5M578.9 778.3V788.5M579 778.3V788.5M583.8 778.3V788.5M586.9 778.3V788.5M589.9 778.3V788.5M590.9 778.3V788.5M591.6 778.3V788.5M595.4 778.3V788.5M595.5 778.3V788.5M596.3 778.3V788.5M596.6 778.3V788.5M596.7 778.3V788.5M602.4 778.3V788.5M605.7 778.3V788.5M606.5 778.3V788.5M607.5 778.3V788.5M607.6 778.3V788.5M608 778.3V788.5M614.5 778.3V788.5M614.7 778.3V788.5M615.3 778.3V788.5M615.5 778.3V788.5M615.6 778.3V788.5M615.7 778.3V788.5M615.8 778.3V788.5M615.8 778.3V788.5M616 778.3V788.5M616.3 778.3V788.5M616.8 778.3V788.5M617.2 778.3V788.5M617.9 778.3V788.5" stroke="#000" stroke-width="0.45" opacity="0.75" fill="none"/><line x1="469.2" y1="783.6" x2="626" y2="783.6" stroke="#000" stroke-width="0.7"/><line x1="469.2" y1="783.6" x2="626" y2="783.6" stroke="#e8463a" stroke-width="0.7" stroke-dasharray="2.4 1.8"/><line x1="469.2" y1="858.8" x2="626" y2="858.8" stroke="#f59a96" stroke-width="0.8" stroke-dasharray="2.4 1.8"/><path d="M478 783L478.5 783.6L479.1 785.4L479.6 785.9L480.2 785.5L480.7 786.3L481.3 787L481.8 788L482.4 788.2L482.9 788.8L483.4 789.5L484 790.6L484.5 790.8L485.1 791.5L485.6 791.7L486.2 791.9L486.7 792.5L487.3 793.7L487.8 794.4L488.3 795.2L488.9 796.1L489.4 796.8L490 796.8L490.5 797.6L491.1 798.1L491.6 798L492.1 799.1L492.7 799.6L493.2 800.7L493.8 801.5L494.3 801.7L494.9 802.6L495.4 802.7L496 802.6L496.5 803.6L497 804.9L497.6 804.5L498.1 805L498.7 805.3L499.2 805.2L499.8 805.5L500.3 805.7L500.9 806.6L501.4 806.4L501.9 807L502.5 808.7L503 808.5L503.6 809.2L504.1 810.2L504.7 810.7L505.2 811.4L505.8 811.4L506.3 812.6L506.8 812.8L507.4 814L507.9 813.9L508.5 814.5L509 815.7L509.6 816.2L510.1 816.4L510.7 817.2L511.2 818.2L511.7 819.2L512.3 819.6L512.8 819.8L513.4 821.1L513.9 820.7L514.5 822.2L515 821.9L515.5 823.4L516.1 823.1L516.6 824.1L517.2 825L517.7 825.6L518.3 826L518.8 826.7L519.4 827.7L519.9 828.5L520.4 828.7L521 828.3L521.5 829L522.1 829.9L522.6 829.1L523.2 829.5L523.7 829.4L524.3 830.6L524.8 830.1L525.3 831.6L525.9 831.4L526.4 832.4L527 833L527.5 832.7L528.1 834.3L528.6 834.3L529.2 834.4L529.7 835.8L530.2 836.4L530.8 836L531.3 837.2L531.9 837.3L532.4 838.8L533 838.9L533.5 839.7L534 839.6L534.6 840.9L535.1 839.3L535.7 840.1L536.2 838.6L536.8 839.1L537.3 838.3L537.9 837.9L538.4 839.3L538.9 839.9L539.5 839.8L540 840.7L540.6 841.7L541.1 841L541.7 842.7L542.2 843.4L542.8 843.6L543.3 843.8L543.8 844.2L544.4 845.6L544.9 845.8L545.5 846.8L546 846.8L546.6 847L547.1 847.6L547.7 847.9L548.2 848.7L548.7 849.1L549.3 849.2L549.8 849.4L550.4 849.6L550.9 848.9L551.5 849.3L552 849.5L552.6 848.9L553.1 848.3L553.6 849.8L554.2 849.7L554.7 850.5L555.3 850.8L555.8 851.8L556.4 851.2L556.9 852.7L557.4 852.7L558 853.5L558.5 854.5L559.1 854.3L559.6 855.4L560.2 856L560.7 856.5L561.3 856.9L561.8 857.4L562.3 857.2L562.9 857.9L563.4 856.3L564 855.4L564.5 854.4L565.1 854.4L565.6 853.2L566.2 853.9L566.7 854.2L567.2 855L567.8 855.6L568.3 856.5L568.9 856.9L569.4 855.9L570 855L570.5 855L571.1 854.2L571.6 852.9L572.1 852.6L572.7 852.3L573.2 853.5L573.8 854.2L574.3 854.6L574.9 855L575.4 855.6L576 855.2L576.5 854.9L577 854.8L577.6 854.1L578.1 854.3L578.7 853.1L579.2 852.7L579.8 852.7L580.3 853.5L580.8 854L581.4 854.6L581.9 855.9L582.5 856.1L583 855.8L583.6 855.5L584.1 854.8L584.7 853.1L585.2 853L585.7 852L586.3 850.7L586.8 850.4L587.4 851.1L587.9 850.6L588.5 851.9L589 852.9L589.6 852.5L590.1 852.7L590.6 851.1L591.2 849.1L591.7 848L592.3 847.6L592.8 846.5L593.4 847L593.9 847.4L594.5 848.3L595 848.2L595.5 849L596.1 847.5L596.6 846.1L597.2 844L597.7 843.9L598.3 841.7L598.8 843.1L599.3 843.2L599.9 842.7L600.4 839.6L601 836.2L601.5 833.7L602.1 833L602.6 833.8L603.2 834.7L603.7 834.6L604.2 834L604.8 831.7L605.3 830.1L605.9 829.1L606.4 826.3L607 825.2L607.5 826L608.1 826.9L608.6 827.7L609.1 826.7L609.7 823.9L610.2 822.3L610.8 819.6L611.3 819L611.9 818.7L612.4 819.4L613 819.6L613.5 817.6L614 815.2L614.6 812.4L615.1 812.7L615.7 813.7L616.2 812.2L616.8 808.6L617.3 805.1L617.9 792.5L618.4 787.3L618.9 789.7L619.5 791.3" stroke="#55f528" stroke-width="0.9" fill="none" stroke-linejoin="round"/><text x="478" y="868" font-size="4.7" text-anchor="middle" fill="#3a3a3a">0</text><text x="512.7" y="868" font-size="4.7" text-anchor="middle" fill="#3a3a3a">2000</text><text x="547.4" y="868" font-size="4.7" text-anchor="middle" fill="#3a3a3a">4000</text><text x="582.2" y="868" font-size="4.7" text-anchor="middle" fill="#3a3a3a">6000</text><text x="616.9" y="868" font-size="4.7" text-anchor="middle" fill="#3a3a3a">8000</text><text x="467.7" y="784.9" font-size="4.7" text-anchor="end" fill="#3a3a3a">0.0</text><line x1="468.1" y1="783.6" x2="469.2" y2="783.6" stroke="#555" stroke-width="0.35"/><text x="467.7" y="801.6" font-size="4.7" text-anchor="end" fill="#3a3a3a">−0.1</text><line x1="468.1" y1="800.3" x2="469.2" y2="800.3" stroke="#555" stroke-width="0.35"/><text x="467.7" y="818.3" font-size="4.7" text-anchor="end" fill="#3a3a3a">−0.2</text><line x1="468.1" y1="817" x2="469.2" y2="817" stroke="#555" stroke-width="0.35"/><text x="467.7" y="835" font-size="4.7" text-anchor="end" fill="#3a3a3a">−0.3</text><line x1="468.1" y1="833.7" x2="469.2" y2="833.7" stroke="#555" stroke-width="0.35"/><text x="467.7" y="851.7" font-size="4.7" text-anchor="end" fill="#3a3a3a">−0.4</text><line x1="468.1" y1="850.4" x2="469.2" y2="850.4" stroke="#555" stroke-width="0.35"/><text x="548.6" y="874.6" font-size="5.3" text-anchor="middle">rank</text><text transform="translate(456.8 820) rotate(-90)" font-size="5.3" text-anchor="middle">enrichment score</text><text x="479.4" y="839.3" font-size="7.9" font-weight="bold">NES = -1.7</text><text x="479.4" y="848.8" font-size="7.9" font-weight="bold">Padj &lt; 0.05</text></g>
</svg>
</body></html>
